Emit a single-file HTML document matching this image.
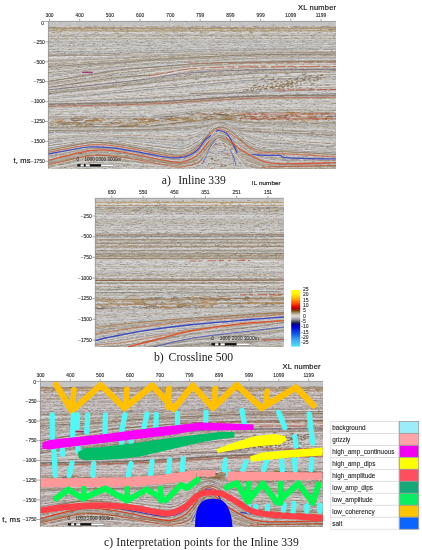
<!DOCTYPE html>
<html><head><meta charset="utf-8"><title>Seismic interpretation</title>
<style>
html,body{margin:0;padding:0;background:#fff;}
body{width:422px;height:550px;position:relative;overflow:hidden;font-family:"Liberation Sans",Arial,sans-serif;}
svg{position:absolute;left:0;top:0;}
.cap{position:absolute;font-family:"Liberation Serif","Times New Roman",serif;font-size:11.7px;color:#1a1a1a;white-space:nowrap;line-height:1;}
.ax{position:absolute;font-family:"Liberation Sans",Arial,sans-serif;color:#1a1a1a;-webkit-text-stroke:0.2px #1a1a1a;white-space:nowrap;line-height:1;}
.lr{position:absolute;left:330.5px;width:89px;height:12px;}
.ll{position:absolute;left:0;top:0;width:66.8px;height:11px;border:0.6px solid #d4d4d4;font-size:6.4px;line-height:11px;padding-left:1.4px;color:#222;box-sizing:border-box;}
.sw{position:absolute;left:68.6px;top:0;width:20px;height:12px;box-sizing:border-box;border:0.8px solid #9a9a9a;}
</style></head><body>
<svg width="422" height="550" viewBox="0 0 422 550">
<defs><filter id="nz" x="0" y="0" width="100%" height="100%" color-interpolation-filters="sRGB"><feTurbulence type="fractalNoise" baseFrequency="0.13 0.95" numOctaves="2" seed="3" result="t"/><feColorMatrix in="t" type="matrix" values="0 0 0 0 0.52  0 0 0 0 0.47  0 0 0 0 0.40  1.6 0 0 0 -0.72" result="dk"/><feColorMatrix in="t" type="matrix" values="0 0 0 0 0.90  0 0 0 0 0.90  0 0 0 0 0.93  0 1.4 0 0 -0.68" result="lt"/><feTurbulence type="fractalNoise" baseFrequency="0.45 1.1" numOctaves="1" seed="9" result="t2"/><feColorMatrix in="t2" type="matrix" values="0 0 0 0 0.42  0 0 0 0 0.38  0 0 0 0 0.36  2.2 0 0 0 -1.15" result="dk2"/><feColorMatrix in="t2" type="matrix" values="0 0 0 0 0.80  0 0 0 0 0.82  0 0 0 0 0.92  0 0 2.2 0 -1.2" result="bl2"/><feMerge><feMergeNode in="dk"/><feMergeNode in="lt"/><feMergeNode in="dk2"/><feMergeNode in="bl2"/></feMerge></filter>
<filter id="dk" color-interpolation-filters="sRGB"><feComponentTransfer><feFuncR type="linear" slope="1.12" intercept="-0.1"/><feFuncG type="linear" slope="1.12" intercept="-0.12"/><feFuncB type="linear" slope="1.12" intercept="-0.11"/></feComponentTransfer></filter>
<g id="pa" fill="none"><rect x="48" y="21" width="288" height="148" fill="#c9c6bf"/>
<rect x="48" y="21" width="288" height="148" filter="url(#nz)"/>
<path d="M48,26 54.3,25.7 68.8,25.8 86.4,25.8 100.1,25.7 114.2,25.9 128.9,25.9 140.3,26.2 154.4,26 169.5,26 185.9,26 196.5,26.1 208.9,25.9 219.4,25.8 236,26.3 251.6,26.3 261.8,26.2 279.8,26.1 297.7,25.8 313,25.8 328,25.8 336,25.7" stroke="#e2e2e6" stroke-opacity="0.39" stroke-width="0.7" stroke-dasharray="8.3,0.8,29.3,1.3,37.5,0.9,18.8,2.4" stroke-dashoffset="12"/>
<path d="M48,27.7 55.9,27.7 67.4,27.5 82.9,27.7 95.5,27.2 107.9,27.3 117.8,27.7 131.1,27.5 148.6,27.5 159.6,27.2 175.3,27.2 185.2,27.4 198.9,27.2 212.8,27.5 228.3,27.6 239.7,27.4 253.8,27.2 271.9,27.3 288.1,27.5 301.4,27.2 314.5,27.4 327.6,27.5 336,27.2" stroke="#7a7064" stroke-opacity="0.60" stroke-width="0.7" stroke-dasharray="11.2,2.8,33.8,1.3,12.5,2.4,38.0,1.2" stroke-dashoffset="28"/>
<path d="M48,28.8 60.4,28.9 75.2,28.7 88.6,28.8 99.2,28.9 109.4,29 127.2,28.7 139,28.9 154.8,29.2 166.7,29.2 183.4,29.1 198.3,29.1 210.5,29 221.8,28.7 237.6,28.7 248,28.7 259.7,29.2 274.2,29.1 291.2,29.2 306.2,28.7 318.3,29 335.8,28.9 336,29.1" stroke="#97805a" stroke-opacity="0.33" stroke-width="0.8" stroke-dasharray="31.1,2.8,31.1,2.3,33.0,2.8,18.0,2.3" stroke-dashoffset="27"/>
<path d="M48,30.6 60.2,31 73.5,30.9 89.9,30.7 107,31 121.6,30.9 136.7,31 149.7,31.2 164.4,30.8 179.3,30.6 189.7,30.8 204.9,31 223.1,30.7 240.3,30.7 256.2,31.1 269.2,31 285.2,30.9 299.9,31.1 313.4,30.8 330.2,31 336,30.7" stroke="#a0885f" stroke-opacity="0.61" stroke-width="0.8" stroke-dasharray="25.8,1.5,10.6,1.9,34.5,2.7,30.2,2.9" stroke-dashoffset="8"/>
<path d="M48,32.3 50.4,32.2 64,32.2 76.1,32.5 87.7,32.4 100.9,32.5 116,32.5 129.9,32.6 142.4,32.7 159.2,32.6 177.3,32.3 190.9,32.4 201.3,32.3 211.4,32.2 228.5,32.4 238.7,32.6 254.4,32.3 269,32.3 281.4,32.4 297.9,32.6 307.8,32.5 318.8,32.5 332.4,32.6 336,32.4" stroke="#ecebe7" stroke-opacity="0.38" stroke-width="1.0" stroke-dasharray="30.6,1.1,21.4,2.2,36.9,1.6,25.3,2.7" stroke-dashoffset="23"/>
<path d="M48,33.9 61.2,33.7 74.9,33.4 90.2,33.9 101.7,33.4 117.6,33.9 134.2,33.5 149.4,33.6 165.3,33.8 176.9,33.5 194.2,33.5 212.3,33.7 230.3,33.8 244.6,33.9 261,33.8 273.5,33.9 290.9,33.6 307.9,33.9 320.7,33.4 331.2,33.5 336,33.7" stroke="#d9dde6" stroke-opacity="0.55" stroke-width="0.7" stroke-dasharray="23.5,2.8,14.7,2.3,38.5,2.7,26.7,1.5" stroke-dashoffset="4"/>
<path d="M48,35.1 55.6,35.2 67.7,35.1 81.7,34.9 95,34.6 105.7,34.8 115.6,34.6 128.5,34.7 142.8,35 153,35.1 170.5,34.6 184.9,34.6 203,34.5 213.8,34.7 224.4,34.9 235.6,34.6 253.2,34.8 266.9,34.8 284.4,34.8 300.9,35 314.1,34.8 326,34.9 336,34.9" stroke="#b3a58a" stroke-opacity="0.41" stroke-width="0.7" stroke-dasharray="24.0,1.2,12.9,2.2,27.7,2.0,34.9,2.1" stroke-dashoffset="25"/>
<path d="M48,35.9 51.3,36.2 67.3,36.3 83.9,36.3 101.3,35.8 113.7,36 126.2,36.1 143.7,36 155.4,36.1 173.5,35.7 190.8,35.6 201.7,35.7 213.5,35.6 229.4,35.9 241.4,35.9 252,35.9 268.8,35.6 282.2,35.6 298.6,35.6 309.5,36 322.6,36.1 336,36" stroke="#8c7350" stroke-opacity="0.35" stroke-width="0.9" stroke-dasharray="8.6,1.0,19.3,1.7,18.1,1.3,18.7,2.2" stroke-dashoffset="1"/>
<path d="M48,37.7 50.8,37.2 64,37.3 76.9,37.4 89.8,37.3 107.3,37.3 122.2,37.2 132.8,37.2 149.2,37.1 161.8,37.5 172.3,37.2 189.1,37 206.3,37.5 223.7,37.5 241.4,37.4 256,36.9 267.4,37 282.1,37.4 294.8,37 311,36.9 323.1,37 333.9,36.9 336,36.8" stroke="#e2e2e6" stroke-opacity="0.57" stroke-width="0.9" stroke-dasharray="31.9,3.0,6.8,2.2,31.1,1.4,19.7,0.9" stroke-dashoffset="5"/>
<path d="M48,39 53.3,38.7 63.9,38.7 75.8,38.7 93.2,38.6 107.6,38.5 121.7,38.7 139.6,38.6 154.2,38.4 172.3,38.6 187.5,38.4 204.1,38.2 214.5,38.3 229.4,38.1 245.5,38.2 255.7,38.5 273.3,38.3 284.5,38.6 298.2,38.4 309.5,38 323.4,38.6 336,38.5" stroke="#a0885f" stroke-opacity="0.45" stroke-width="0.8" stroke-dasharray="39.1,1.3,23.8,2.9,30.6,1.8,39.3,2.6" stroke-dashoffset="18"/>
<path d="M48,40.3 49.6,40.3 64.7,40.5 78.3,40.4 89.8,40.4 100,40.4 114.3,40.4 125.1,40.1 138.6,40.1 154,40.5 167.7,40.4 179.7,40.4 194.4,39.8 207.7,39.8 224,39.9 238.3,40 256.5,40 274.3,39.7 290.2,39.9 302,39.6 312.8,39.6 330.1,39.9 336,39.8" stroke="#dcdce2" stroke-opacity="0.52" stroke-width="0.7" stroke-dasharray="17.5,1.9,10.5,2.7,33.3,1.8,33.9,2.6" stroke-dashoffset="23"/>
<path d="M48,41.3 54.2,41.6 70.3,41.4 83.4,41.4 94.4,41.3 105.5,41.4 122.4,41.1 137.2,41.4 149.4,40.9 165.6,41.2 182.3,40.9 193.7,41.3 209,40.9 223.6,40.9 237.3,41 249.8,41.1 264.2,40.9 277.6,40.7 292.2,40.8 308.9,41 322.6,40.7 336,40.5" stroke="#9fa2a8" stroke-opacity="0.57" stroke-width="0.6" stroke-dasharray="18.3,1.6,18.4,1.7,19.2,1.2,25.2,2.6" stroke-dashoffset="16"/>
<path d="M48,42.9 59.7,43.2 74.2,43.1 85.5,42.8 101.7,42.8 118.9,43 131.1,42.9 141,43 155.2,42.7 169.5,42.6 184.1,43 202,42.7 217.3,42.6 233.9,42.6 244.2,42.6 258.6,42.6 275,42.7 285.5,42.3 296,42.6 312,42.4 329.3,42.5 336,42.4" stroke="#a9a9ae" stroke-opacity="0.59" stroke-width="0.8" stroke-dasharray="23.8,2.4,33.3,1.7,20.3,1.1,31.2,3.0" stroke-dashoffset="11"/>
<path d="M48,44 50.3,44.3 61.9,44 75.2,44.1 87.5,44.3 105.4,44 115.7,43.8 128.1,44.2 138.9,44.2 154.1,43.8 170.4,43.8 181.8,44 192.1,43.7 205.7,43.5 220.4,43.4 237.9,43.8 248,43.7 258.7,43.4 270,43.5 281.7,43.4 293.4,43.3 309.3,43.6 324.1,43.4 335.7,43.1 336,43" stroke="#dcdce2" stroke-opacity="0.51" stroke-width="0.7" stroke-dasharray="20.3,2.7,20.1,2.5,10.9,2.8,33.5,1.1" stroke-dashoffset="22"/>
<path d="M48,45.8 56.7,45.5 70.8,45.7 81.1,45.7 95.7,45.9 107,45.8 118.5,45.4 136,45.3 147,45.4 148,45.6 157.9,45.4 170.7,45 185.6,44.9 199.9,44.9 217.1,45.1 232.8,45 243.2,45 248,45 259.3,44.6 273.7,44.7 287.7,44.9 297.7,44.8 309.1,44.6 320.5,44.5 336,44.3" stroke="#9fa2a8" stroke-opacity="0.36" stroke-width="0.7" stroke-dasharray="15.9,1.6,24.4,1.5,17.5,1.7,28.7,1.4" stroke-dashoffset="5"/>
<path d="M48,46.9 58.2,46.9 70.8,46.9 88.5,46.8 103.1,46.4 119,46.3 131.5,46.2 148,45.9 148.3,46.1 158.9,46.2 169.8,46.3 180.4,46.1 195.9,45.9 211.7,45.8 223,45.3 236.2,45.4 248,45.3 253,45.5 267.8,45.1 278.3,45.2 290,45.2 301.2,45.3 312,45.3 325.2,45.1 335.6,44.8 336,45.2" stroke="#b0aaa0" stroke-opacity="0.37" stroke-width="0.7" stroke-dasharray="23.5,2.1,12.7,2.9,39.9,2.4,37.8,2.0" stroke-dashoffset="0"/>
<path d="M48,48.3 57.2,47.6 73.6,47.9 84.5,47.6 98.3,47.7 111.6,47.3 124.2,47.1 134.8,47.2 148,47.2 151.9,47 164,46.8 181.2,46.9 194.8,46.8 210.7,46.7 222.5,46.1 237.1,46.3 248,46.2 251.5,46.2 261.8,46 279.3,45.9 290.5,45.9 306.6,45.5 323.9,45.6 336,45.3" stroke="#e6e6e8" stroke-opacity="0.55" stroke-width="0.7" stroke-dasharray="23.7,1.4,25.3,1.5,27.8,0.9,28.8,1.1" stroke-dashoffset="28"/>
<path d="M48,49.4 56.4,49.4 70.1,49.1 83.4,48.9 98.4,48.8 114,48.3 130.2,48.3 146.3,47.8 148,47.8 160.2,47.8 178.4,47.6 195.2,47.3 212.2,46.9 225.4,47.1 238.9,46.9 248,46.6 253.4,46.6 270.8,46.5 285,46.3 299.2,46.2 312.7,46.6 330.1,46.5 336,46.3" stroke="#a9a9ae" stroke-opacity="0.47" stroke-width="0.6" stroke-dasharray="28.1,1.7,10.2,1.0,23.7,1.1,36.0,2.1" stroke-dashoffset="13"/>
<path d="M48,51.3 52.1,50.7 68.1,50.8 78.1,50.7 89.3,50.5 102.8,50.2 116.4,49.9 130.6,50.1 141.6,49.9 148,49.6 157.2,49.3 169,49.4 181.4,49.3 195,48.7 207.4,48.6 219.9,48.6 230.9,48.1 247.3,48.3 248,48.2 263.6,47.8 280.8,47.6 292.3,47.9 309.3,47.3 324.9,47.6 335.2,47.2 336,47.5" stroke="#dcdce2" stroke-opacity="0.63" stroke-width="0.7" stroke-dasharray="28.5,2.7,26.1,1.3,16.2,2.8,28.7,1.4" stroke-dashoffset="19"/>
<path d="M48,52.3 49.3,52.1 67.3,51.5 80.8,51.5 95.1,51.3 109.3,50.9 119.5,50.9 134.3,50.7 146.5,50.3 148,50.3 158.4,50.3 175,49.9 185.5,49.6 197.7,49.6 213.9,48.9 225.7,49 237.9,48.4 248,48.5 252.3,48.3 263.6,48.3 281,48.4 299.1,48.2 309.1,48.2 322.8,47.7 336,47.8" stroke="#7c7c84" stroke-opacity="0.39" stroke-width="0.7" stroke-dasharray="39.0,0.9,21.2,2.7,17.1,2.1,26.7,2.6" stroke-dashoffset="15"/>
<path d="M48,53.5 58.1,53.3 75.1,52.9 85.2,52.6 95.9,52.4 107.2,52.3 122.4,52 137.1,51.9 148,51.2 152.9,51.4 168,51 178.2,50.5 191.6,50.6 207.3,50.2 223.9,50.1 239.9,49.2 248,49.3 256.3,49.2 272.5,48.8 286.5,49 301.8,48.8 315.9,49 328.8,48.9 336,48.7" stroke="#9fa2a8" stroke-opacity="0.48" stroke-width="0.6" stroke-dasharray="10.0,2.7,20.2,1.0,13.7,1.5,38.2,2.8" stroke-dashoffset="6"/>
<path d="M48,54.9 50.2,54.8 65,54.6 83.1,53.9 99.1,53.7 113.7,53.4 131.1,52.9 148,52.3 148.4,52.4 165.9,52.4 177.2,52 194.2,51.5 211.9,51.2 223.5,50.8 236.5,50.5 246.7,50.4 248,50.1 260,49.9 271.9,49.7 288.3,50 304.9,49.9 318.7,49.4 331.9,49.3 336,49.6" stroke="#85807a" stroke-opacity="0.59" stroke-width="0.8" stroke-dasharray="35.1,1.6,14.7,2.7,28.8,1.5,26.7,1.9" stroke-dashoffset="5"/>
<path d="M48,56.4 55.2,56.1 66.1,55.5 77.6,55.6 90.9,55.3 104.7,54.9 120.3,54.1 134.5,54.2 148,53.7 148.9,53.5 161.3,53.1 174.9,53.1 187.9,52.5 205.1,52.3 221.9,51.6 236.2,51.5 248,50.8 249.7,51 260.7,50.9 274.8,51 287.6,50.5 298.3,50.7 311.2,50.2 326.1,50.5 336,50" stroke="#b9ad93" stroke-opacity="0.50" stroke-width="0.6" stroke-dasharray="9.2,1.6,20.4,1.1,25.8,2.3,24.8,2.3" stroke-dashoffset="0"/>
<path d="M48,57.6 53.5,57.4 66.3,56.9 76.7,56.6 89.9,56.2 100.1,56.2 114.1,55.8 128.8,55.1 142.5,55 148,54.4 155.1,54.2 167,54.1 177,53.7 189.7,53.4 207,53.2 221.6,52.3 233.6,52 248,51.6 249,51.9 260.3,51.5 274.1,51.2 289,51.4 306.9,51.1 319.7,50.8 334.4,50.8 336,50.9" stroke="#f0f0f0" stroke-opacity="0.64" stroke-width="1.0" stroke-dasharray="29.5,2.6,15.0,1.0,6.7,2.6,13.1,1.7" stroke-dashoffset="4"/>
<path d="M48,58.8 50.7,58.4 61.8,58.3 74.4,57.8 90,57.3 106.6,56.7 118,56.4 118.9,56.6 132.1,56.1 145,55.4 148,55.5 160.4,55 174.4,54.7 189.7,53.9 202.5,54 218.2,53.1 235.7,52.8 248,52.1 251.7,52.6 268.9,52.2 287,51.7 303.7,51.9 320.9,51.4 333.3,51.2 336,51.2" stroke="#dcdce2" stroke-opacity="0.43" stroke-width="0.7" stroke-dasharray="6.5,2.1,38.0,2.9,10.5,2.3,20.3,2.2" stroke-dashoffset="11"/>
<path d="M48,60.4 61.1,60.1 79.2,59.3 89.4,59.1 105.2,58.1 116,57.7 118,57.6 126.1,57.7 138.3,56.8 148,56.5 154.3,56.1 172.4,55.6 183.2,55.1 195.8,55 205.8,54.4 220.2,54.3 234,53.6 247,53.2 248,53.3 259.4,53.1 275.9,52.8 292.7,52.5 304.9,52.4 318,52.7 333,52.2 336,52" stroke="#7c7c84" stroke-opacity="0.35" stroke-width="0.9" stroke-dasharray="39.7,1.7,7.1,1.6,25.0,2.0,13.3,2.2" stroke-dashoffset="24"/>
<path d="M48,61.7 51.5,61.3 62.9,60.7 75.2,60.3 87.1,59.9 103.6,59.2 118,58.6 118.2,58.7 135.9,57.5 146.1,57.2 148,56.9 163.1,56.7 180.9,55.9 195.2,55 210.6,54.6 222.7,54.3 232.7,54.2 247.2,53.5 248,53.4 257.5,53.7 271.2,53.3 288.5,53 298.8,52.8 311.7,52.5 327.9,52.7 336,52.6" stroke="#a0885f" stroke-opacity="0.56" stroke-width="0.7" stroke-dasharray="31.3,2.0,29.1,1.2,9.6,1.1,17.9,1.7" stroke-dashoffset="0"/>
<path d="M48,62.7 55,62.8 68.2,61.7 80.7,61.4 95,60.5 112.8,59.8 118,59.3 124.4,59.2 141.6,58.3 148,57.9 154,57.6 170.2,56.9 180.9,56.6 199,55.7 212.4,55.6 230.3,54.9 241.9,54.3 248,54.2 255.2,54 270.9,53.8 282.2,53.6 294.3,53.7 309.8,53.5 327.5,53.2 336,52.9" stroke="#e2e2e6" stroke-opacity="0.45" stroke-width="0.6" stroke-dasharray="7.9,1.5,24.3,1.5,14.7,2.2,12.4,1.8" stroke-dashoffset="16"/>
<path d="M48,64.1 48.7,64.2 66.7,63.5 82.8,62.7 100.1,61.3 110.9,61 118,60.4 122.2,60.6 139.8,59.4 148,58.3 156.2,58.6 167.2,58.1 178,57.3 188.7,57 200.6,56.9 212.6,56.4 223.9,55.6 234,55.2 246.7,54.8 248,54.9 260.9,54.4 273.6,54.7 285.1,54.4 295.1,54.3 308.4,53.9 322.4,54.1 336,53.9" stroke="#a0885f" stroke-opacity="0.50" stroke-width="1.0" stroke-dasharray="18.9,2.6,29.8,2.7,38.2,2.2,13.1,1.3" stroke-dashoffset="22"/>
<path d="M48,65.8 50.4,65.5 65.1,64.6 75.2,64.5 87.4,63.8 99.3,62.6 112,62.2 118,61.6 127.1,61.1 139.4,60 148,59.5 149.3,59.3 159.7,59.2 171.2,58.5 187,57.9 204.2,57.4 220.4,56.8 231.9,56.1 242.3,55.9 248,55.3 254.3,55.6 267.3,55.1 282.2,55.2 294.4,55.1 305.3,55.2 316.1,54.8 326.7,54.6 336,54.4" stroke="#b0aaa0" stroke-opacity="0.33" stroke-width="0.8" stroke-dasharray="21.4,1.3,32.9,0.8,7.0,2.1,29.7,3.0" stroke-dashoffset="24"/>
<path d="M48,67.3 60.2,66.7 75.6,65.6 86.7,64.6 97.2,64.3 108.4,63.1 118,63.1 122.4,62.6 136.3,61.5 148,60.6 151.5,60.3 161.8,60.1 173.5,59.3 183.5,59.1 199.9,58.2 213.4,57.5 225.1,57.1 239.4,56.5 248,56.5 250.2,56.5 260.5,55.9 278.7,55.9 294,55.8 310.4,55.9 328,55.5 336,55" stroke="#b0aaa0" stroke-opacity="0.34" stroke-width="0.7" stroke-dasharray="10.4,1.0,23.4,1.4,32.4,1.3,20.1,0.9" stroke-dashoffset="6"/>
<path d="M48,68.1 54.3,67.8 68.8,67.1 82.5,65.9 99.4,64.7 110.1,63.5 118,63.1 127,62.2 138.1,61.3 148,60.4 156.1,60.6 170.3,59.6 183.5,59.1 198.5,58.6 215.5,58 233.4,57.3 246.7,56.5 248,56.4 256.6,56.5 267.7,56.1 284.3,55.9 300.3,55.9 316.1,55.5 327.2,55.4 336,55.4" stroke="#85807a" stroke-opacity="0.53" stroke-width="0.7" stroke-dasharray="10.0,1.5,24.1,1.2,19.0,1.5,33.8,2.3" stroke-dashoffset="21"/>
<path d="M48,70 48.5,70.2 61.3,69.3 79.1,67.9 93.2,66.5 107.5,65.1 118,64.1 123.4,63.9 136.4,62.5 148,61.7 151.1,61.5 161.8,61 177.4,60.2 190.2,59.7 202.1,59.2 220,58.5 235.6,57.8 248,57.6 252.4,57.3 264,57.1 280.2,56.7 290.5,56.6 301.8,56.6 312.6,56.7 328.8,56.5 336,56.5" stroke="#8c7350" stroke-opacity="0.59" stroke-width="0.8" stroke-dasharray="17.4,2.2,37.1,2.6,11.9,1.0,29.3,1.1" stroke-dashoffset="22"/>
<path d="M48,71 57.5,70.2 74,68.9 87.5,67.7 104.9,65.7 118,64.7 120.8,64.4 137.6,62.9 148,62.2 155.5,61.7 168.2,61.1 185,60.3 200.8,59.8 216.5,59 229.6,58.1 245.3,57.2 248,57.6 260.5,57.3 271.3,57 288.4,57.1 299,56.9 311.5,56.6 322.5,56.6 336,56.4" stroke="#ecebe7" stroke-opacity="0.52" stroke-width="1.0" stroke-dasharray="17.2,2.3,13.9,1.4,30.8,2.1,14.7,0.9" stroke-dashoffset="24"/>
<path d="M48,73 53.3,72.1 69.1,70.9 82.5,69.1 97.5,67.6 112,66.3 118,65.7 130,64.4 147.5,63.2 148,63.1 161.1,62.6 175,62 186.7,61.3 202.9,60.3 213.5,60.1 225.9,59.4 242.8,58.3 248,58.4 252.9,58.3 268.6,57.8 283.1,57.7 297.6,57.4 310.2,57.5 321.2,57.2 336,57.1" stroke="#7a7064" stroke-opacity="0.39" stroke-width="0.6" stroke-dasharray="7.0,2.5,38.1,1.1,19.2,2.6,24.5,1.1" stroke-dashoffset="2"/>
<path d="M48,74.4 59.2,73 70.4,71.5 86.5,69.5 102.2,68.3 116.9,66.6 118,66.1 132.1,64.9 144.5,63.8 148,63.3 157.9,63.3 174.2,62.3 189.5,61.3 203.8,60.7 217.7,59.8 233.2,59.5 245.9,58.9 248,58.8 257.6,58.7 272.7,58.3 284.8,58.1 300.7,58.1 318,57.5 328.4,57.7 336,57.6" stroke="#9fa2a8" stroke-opacity="0.33" stroke-width="0.6" stroke-dasharray="12.6,2.3,7.0,2.9,36.6,1.0,36.6,1.4" stroke-dashoffset="6"/>
<path d="M48,75.1 51.8,74.7 62.9,73.6 77.2,72 94.4,69.9 105.5,68.5 118,66.6 118.9,66.7 135.3,65.5 148,63.9 150.2,63.9 166.7,63 184.9,62.1 199.5,61.2 216.8,60.5 229.3,60.1 240.5,59.1 248,58.6 256.8,58.7 267.9,58.8 285.4,58.5 296.1,58.3 308.4,58.3 320.7,58.3 336,57.9" stroke="#a0885f" stroke-opacity="0.39" stroke-width="0.8" stroke-dasharray="32.6,1.5,14.1,2.2,14.8,2.0,14.7,2.7" stroke-dashoffset="5"/>
<path d="M48,76.8 51.3,76.2 63.6,74.5 76.2,73 92.1,71 107.5,68.8 118,67.7 124,66.6 138.3,65.6 148,64.6 148.8,64.4 165,64 176.8,62.9 188.4,62.3 201.7,62 219.8,61.1 232.8,60.4 245.6,59.3 248,59.6 263,58.9 281.1,59.1 294.2,59.1 305.1,58.5 321.5,58.3 336,58.4" stroke="#9fa2a8" stroke-opacity="0.57" stroke-width="0.8" stroke-dasharray="18.5,2.4,37.4,1.1,35.6,3.0,30.7,2.3" stroke-dashoffset="3"/>
<path d="M48,78.1 52.5,77.8 67.2,75.5 79.3,73.5 93.5,71.6 110.1,69.4 118,68.4 123.6,67.8 140.2,66.3 148,65.5 152.2,65.1 162.8,64.4 178.1,63.7 188,63.4 205.5,62.6 223.5,61 241.2,60.3 248,60.2 256.7,59.9 268,59.4 285.9,59.2 301.1,59.2 311.8,59 325.6,59.3 336,58.8" stroke="#f0f0f0" stroke-opacity="0.48" stroke-width="0.8" stroke-dasharray="27.2,1.5,18.1,2.7,25.8,1.7,24.4,1.8" stroke-dashoffset="9"/>
<path d="M48,79.7 60.8,77.7 72.6,75.7 90.2,73.4 107.2,70.7 118,69.3 124.4,68.7 135.6,67.5 148,66.1 149.6,66.2 167.7,65.2 179.9,64.6 191.2,64.1 207,62.8 218.8,62.2 233.5,61.2 244.6,60.9 248,60.4 262.4,60.6 274.6,60.4 285.2,60 300.8,60.2 313.5,59.8 328,59.6 336,59.6" stroke="#a9a9ae" stroke-opacity="0.56" stroke-width="0.6" stroke-dasharray="16.7,2.3,23.1,2.8,28.0,2.3,21.2,1.5" stroke-dashoffset="20"/>
<path d="M48,80.6 49.8,80.3 61.7,78.3 77.6,76 89.7,74.2 102,71.9 118,69.6 119.2,69.5 130,68.5 143.8,67.1 148,66.5 159.6,65.8 169.7,65.2 186.3,64.4 204.2,62.9 219.5,62.2 233.3,61.5 248,60.9 248.5,60.5 263.9,60.6 277.1,60 294.8,60.3 311.9,59.9 329.9,60 336,59.5" stroke="#e6e6e8" stroke-opacity="0.59" stroke-width="0.8" stroke-dasharray="16.7,1.4,12.4,2.2,29.3,2.9,17.2,2.8" stroke-dashoffset="27"/>
<path d="M48,82.2 52.1,81.4 69.9,78.4 84.9,76 102.8,73 118,70.7 119.1,70.9 131.7,69.1 143.8,68 148,67.7 158,67.1 171.9,66.1 182,65.4 192,65 199,64.5 213.3,63.3 227.1,62.6 243.2,61.9 248,61.4 255.1,61.1 266.5,61.3 281.2,60.7 293,60.6 305.6,60.7 316,60.4 326.2,60.6 336,60.5" stroke="#8c7350" stroke-opacity="0.55" stroke-width="0.8" stroke-dasharray="20.7,1.0,22.1,2.9,36.2,0.9,8.4,1.4" stroke-dashoffset="20"/>
<path d="M48,83.1 54.1,81.6 65,80 78.4,77.9 93,76 109,73.3 118,71.9 122.2,71.4 137.5,70.1 148,68.6 153,68.5 168,67.2 178.2,66.3 192,65.1 193.9,65 204.8,64.4 215.1,63.7 228.9,63.1 238.8,62.4 248,61.8 249.2,62 262.3,61.7 276,61.6 286.7,61.7 304.5,61.2 321.5,61 335.4,61.1 336,61.2" stroke="#e2e2e6" stroke-opacity="0.66" stroke-width="0.6" stroke-dasharray="13.7,1.3,26.5,2.1,39.9,1.8,13.2,1.5" stroke-dashoffset="18"/>
<path d="M48,83.6 49.2,83.5 63.9,81.2 79.8,79.1 94.4,76.8 107.4,74.7 118,73 124.3,72.8 137,71.2 148,70.1 150.4,69.7 160.9,68.5 173.9,67.7 191,65.8 192,66.1 203.3,65.1 221.1,64.4 237.2,63.4 248,62.6 250.7,62.5 264.6,62.6 274.9,62.5 286.5,62.2 301.8,61.7 312.1,61.6 330.1,61.6 336,61.6" stroke="#8c7350" stroke-opacity="0.63" stroke-width="0.7" stroke-dasharray="31.8,1.0,16.2,2.3,29.5,2.6,18.9,1.4" stroke-dashoffset="10"/>
<path d="M48,84.7 55.5,84 65.5,82.2 78.5,80.5 93.8,78.2 104.8,76.7 117.3,75.2 118,74.9 134.4,73.1 148,71.7 152,70.8 163.9,69.5 175.2,68.5 186,67.1 192,67 196.5,66.3 213,65.4 229,64.5 241,64.1 248,63.7 254.9,63.5 270.6,63 280.6,63 297.3,63 314.3,62.5 325.9,62.8 336,62.7" stroke="#85807a" stroke-opacity="0.32" stroke-width="0.8" stroke-dasharray="28.7,2.7,31.3,2.5,29.1,2.9,6.8,1.5" stroke-dashoffset="17"/>
<path d="M48,85.3 58.7,83.8 72.6,81.9 86.9,80.3 99.9,78.2 116.4,76.2 118,76.2 129.7,74.8 147.1,72.6 148,72.3 162.1,70.7 176.5,68.7 186.7,67.8 192,66.9 197.8,66.5 213.3,65.7 223.5,65.2 239.9,64.6 248,64 251.5,64 261.5,63.5 273.4,63.4 283.2,63.3 300.8,63.3 313.1,62.8 323,62.9 335.9,62.8 336,62.7" stroke="#b0aaa0" stroke-opacity="0.51" stroke-width="0.8" stroke-dasharray="31.3,1.8,19.5,2.0,35.9,3.0,37.2,2.6" stroke-dashoffset="2"/>
<path d="M48,86.4 51.5,86.2 69.4,83.7 83.8,81.6 97.9,79.9 110.3,78.3 118,77.2 127.3,76.2 141.5,74.4 148,73.2 159.6,71.8 170,70.7 188.2,68 192,67.4 198.1,67.4 209.1,66.6 222.2,66.2 237.4,65.1 248,64.2 248.1,64.6 262.6,64.2 280.3,64.3 293.8,64.1 310,63.9 324.8,63.3 336,63.2" stroke="#ecebe7" stroke-opacity="0.63" stroke-width="0.9" stroke-dasharray="31.2,2.8,27.9,3.0,33.4,2.8,31.2,1.5" stroke-dashoffset="3"/>
<path d="M48,87.7 48.1,87.8 63.6,85.6 80.7,83.3 93.1,82 110.3,80 118,78.7 125.6,77.8 138.6,76 148,75 153.9,74.2 167.2,72.2 182.5,69.9 192,68.8 192.6,68.6 207.3,67.7 219.4,66.8 230.9,66.1 241.4,65.9 248,65.5 253.3,65.4 268.9,65.2 281.9,65 299.6,64.6 315,64.7 325.8,64.8 336,64.2" stroke="#a0885f" stroke-opacity="0.60" stroke-width="0.8" stroke-dasharray="31.4,2.5,30.6,0.9,34.1,1.1,11.5,0.9" stroke-dashoffset="0"/>
<path d="M48,88.2 60.3,86.5 73.3,85.1 83.8,83.7 94,83 110.9,80.9 118,79.9 125.8,78.9 143.3,76.8 148,75.7 153.4,74.9 164.1,73.4 176.3,71.2 187.7,69.6 192,69 198.5,68.2 210,67.7 225.1,66.9 236.3,66.5 247.6,65.9 248,65.8 261.9,65.8 274.8,65.2 285.9,65.2 300.4,65.3 314.5,65.1 327.6,64.6 336,65" stroke="#d6d4dc" stroke-opacity="0.59" stroke-width="0.8" stroke-dasharray="29.0,2.1,35.9,2.8,15.4,1.3,22.4,1.4" stroke-dashoffset="17"/>
<path d="M48,89.2 51.6,88.8 65.6,87.3 76.2,86 92.5,84.2 107.8,82.2 118,81.3 121.2,81.2 135.9,79 147.5,77 148,77.1 165.3,74.1 178.4,71.9 190.4,69.6 192,69.5 205.8,68.6 222.9,67.9 232.9,67.4 244.3,66.7 248,66.5 258.3,66.6 273.2,66.2 287.6,66.3 299.6,65.6 312.6,65.8 327.5,65.6 336,65.4" stroke="#f0f0f0" stroke-opacity="0.61" stroke-width="0.8" stroke-dasharray="28.9,2.9,8.0,1.0,7.2,1.8,34.0,2.3" stroke-dashoffset="16"/>
<path d="M48,90.4 60,89.4 72.9,87.9 83.7,86.7 98.9,84.8 108.9,84 118,82.9 120.6,82.7 130.6,81.3 141.8,79.7 148,78.5 152.1,77.8 166.4,75.6 177.3,73.7 192,71.3 192.1,71.1 208.9,69.9 221.6,69.3 232.4,68.7 247.8,68.1 248,67.8 263.7,67.9 281,67.4 295.4,67.2 310.1,67.1 327.2,66.8 336,67" stroke="#9c8a68" stroke-opacity="0.49" stroke-width="1.0" stroke-dasharray="38.4,1.8,25.3,1.0,13.8,1.1,28.1,1.5" stroke-dashoffset="11"/>
<path d="M48,91.2 60.8,89.8 76.7,88.1 86.5,87.2 97.7,85.5 108.7,84.5 118,83.4 119.9,83.3 130.6,82 147.8,79.7 148,79.4 163.8,76.6 178.3,74.3 189.4,72.2 192,71.7 202,71.4 213.4,71 231.4,70 243.6,69.2 248,68.6 253.8,68.8 269.5,68.4 282.9,68.2 293.3,67.9 307.7,67.6 325.7,67.5 336,67.5" stroke="#dcdce2" stroke-opacity="0.62" stroke-width="0.7" stroke-dasharray="20.3,2.3,30.7,1.8,10.0,1.0,11.8,2.6" stroke-dashoffset="14"/>
<path d="M48,92 57,91 69.9,89.6 82.8,88.3 94.1,86.9 112,85.1 118,84.3 126.9,83.1 137.8,81.5 148,80.6 153.5,79.8 168.3,77 183.3,74.7 192,73.1 199.6,72.6 214.5,72 231.6,71.1 248,69.6 249.6,69.7 262.8,69.7 278,69.1 291,69.3 304.2,68.7 317.1,68.5 332.3,68.1 336,68.1" stroke="#6f6a66" stroke-opacity="0.41" stroke-width="0.8" stroke-dasharray="13.1,2.1,32.5,1.9,6.4,1.7,8.8,2.4" stroke-dashoffset="16"/>
<path d="M48,92.4 51.4,91.8 65.1,90.5 79,89.1 91.5,87.7 105.6,86.4 118,85.4 119.1,85.2 131.1,83.6 142,82.3 148,81.3 157,80.1 173.2,77.6 188.7,75 192,74.7 199.6,74.2 212.2,73.4 227.3,72.5 238.6,71.7 248,70.7 253.9,70.5 267.9,70.2 279.2,70.2 294.2,69.9 306.5,69.6 319,69.1 331.3,68.9 336,68.9" stroke="#9c8a68" stroke-opacity="0.33" stroke-width="1.0" stroke-dasharray="8.4,1.4,32.1,2.1,28.7,1.7,23.7,1.2" stroke-dashoffset="13"/>
<path d="M48,94 51.6,93.4 67.1,91.6 77.8,90.6 88.7,89.4 100.2,88.5 114.5,87 118,86.7 129.1,85.1 139,83.8 148,82.7 157.1,81.3 173.9,79 186.9,77.2 192,76.5 198,75.9 214.7,74.9 232.8,73.4 244,72.6 248,72.5 260.2,72.2 276.9,71.5 294.5,71.1 306.1,71 316.9,71.1 328.1,70.7 336,70" stroke="#85807a" stroke-opacity="0.34" stroke-width="0.9" stroke-dasharray="8.0,2.3,27.0,1.5,12.3,1.6,21.1,2.5" stroke-dashoffset="5"/>
<path d="M48,94.6 59.4,92.9 77.2,91.4 88.6,90.1 101.6,88.6 115.4,87.3 118,87.3 125.9,85.9 142.8,84 148,83.7 153,83 166.9,80.8 177.4,79.2 188.1,78.2 192,77.4 206,76.4 223.7,75.2 234,74.5 246.3,73.6 248,73.5 259,73.3 273.2,72.6 283.8,72.3 300.8,71.9 313.4,71.9 331,71.1 336,70.9" stroke="#8c7350" stroke-opacity="0.42" stroke-width="0.8" stroke-dasharray="18.8,1.4,7.8,1.5,16.1,1.1,7.0,1.9" stroke-dashoffset="0"/>
<path d="M48,95.6 60.3,93.9 73.1,93 86.7,91.5 100.9,90 110.9,89.2 118,88 121.5,87.8 137.9,85.8 148,85 152.4,83.9 166.3,82.4 179,80.5 192,79.2 195.1,78.8 209.2,77.9 225.6,76.4 242.4,75.5 248,74.6 259.8,74.3 275.6,74.1 291.1,73.7 304.8,73.2 319.1,72.5 333.7,71.9 336,72.2" stroke="#e6e6e8" stroke-opacity="0.56" stroke-width="0.9" stroke-dasharray="8.6,1.8,14.5,1.2,25.7,1.6,21.7,2.6" stroke-dashoffset="3"/>
<path d="M48,96.6 55.7,95.8 69.7,94.2 81.1,92.7 94.1,91.4 108.2,90 118,89.4 122.4,88.7 133.4,87.4 145.8,85.9 148,86 155.7,84.9 171.7,82.7 188.7,80.9 192,80.8 203,79.8 218.7,78.7 230.2,77.6 247.6,76.3 248,76.3 261.5,75.5 277.2,75 292.5,74.9 304.8,74 320.1,73.8 331,73.1 336,72.8" stroke="#e2e2e6" stroke-opacity="0.65" stroke-width="0.9" stroke-dasharray="25.3,1.0,30.9,2.6,34.5,0.9,8.1,2.4" stroke-dashoffset="14"/>
<path d="M48,96.6 60.5,95.4 78.6,93.8 92.2,92.5 107.7,90.8 118,89.3 123,89.3 138.7,87.4 148,86.5 151.6,86 166.7,84.2 177.1,83 192,81.2 194.5,81.4 210.3,79.7 226.9,78.7 240.6,77.7 248,77 252.1,76.8 265.7,76.4 281.2,75.9 295.6,75.3 306.3,75 316.1,74.3 329.3,73.5 336,73.6" stroke="#d6d4dc" stroke-opacity="0.64" stroke-width="0.7" stroke-dasharray="8.1,2.2,17.0,1.9,22.5,1.2,7.2,2.1" stroke-dashoffset="6"/>
<path d="M48,97.7 60.6,96.3 75.7,95 91.5,93.2 105.9,92 118,90.6 123.4,90.1 133.8,88.8 148,87.3 148.3,87.6 160.8,86.4 171.1,85.2 188.3,83.4 192,83.2 202.9,81.7 219,80.5 235,79.2 245.6,78.2 248,78 259.7,77.4 272.5,77.3 282.7,76.7 297.7,76.2 313.2,75.7 327.9,74.6 336,74.5" stroke="#9c8a68" stroke-opacity="0.64" stroke-width="0.8" stroke-dasharray="15.1,3.0,19.1,1.0,28.8,1.4,13.4,1.5" stroke-dashoffset="18"/>
<path d="M48,98.5 52.5,97.8 67.9,96.7 85.3,94.6 103.4,93 118,91.8 120.7,91.4 138.2,89.3 148,88.6 150.1,88.4 166.8,86.6 177.4,85.9 192,84.4 192.1,84.3 202.5,83.4 213.2,82.3 230.9,80.8 241.8,80.2 248,79.3 257.6,79.1 271.8,78.3 281.6,77.7 298.1,76.9 308.4,77 325.7,76.1 336,75.8" stroke="#e6e6e8" stroke-opacity="0.52" stroke-width="1.0" stroke-dasharray="30.0,1.5,19.3,3.0,15.2,1.0,6.6,2.7" stroke-dashoffset="4"/>
<path d="M48,99.3 56.1,98.6 69.4,96.9 83.8,95.5 101,94.1 113.4,92.5 118,92.6 124.8,91.9 138.2,90.6 148,89.2 151.9,89.4 164.7,87.8 179.7,86.9 193.8,85.2 205.6,84.3 216.5,83.3 229,82 245.9,80.5 248,80.7 262.5,79.9 274,79.2 286.3,78.9 300.3,78.4 314.3,77.5 325,77.2 336,76.6" stroke="#7c7c84" stroke-opacity="0.63" stroke-width="0.9" stroke-dasharray="13.6,1.2,22.4,1.4,24.8,1.0,29.6,1.7" stroke-dashoffset="1"/>
<path d="M48,99.8 49.7,99.3 67.3,97.8 84.3,96.1 101.5,94.8 114.6,93.3 118,93.5 132.6,92.1 143.8,91.1 148,90.6 159.7,89.8 177.5,88.2 189,87.2 198.8,86.4 209.7,85.1 220.2,84.2 236.8,82.6 248,82.1 251.7,81.7 265.5,81.5 276.2,80.6 291.4,80 302.4,79.8 313.3,79.4 328.1,78.6 336,78.4" stroke="#b9ad93" stroke-opacity="0.39" stroke-width="0.7" stroke-dasharray="39.6,2.8,25.4,2.2,24.9,2.0,18.5,3.0" stroke-dashoffset="22"/>
<path d="M48,100.1 54.7,99.7 66.3,98.5 76.8,97.6 89.8,96.2 103.8,95.2 118,93.9 120.3,94.1 138,92.2 148,91.3 148.9,91.3 163.9,90 180.6,88.7 196.1,87.7 212,86.2 222.9,85.2 237,83.9 248,83.1 252.3,82.7 263,82.7 273.7,82 284.1,81.7 294.6,81.1 308.1,80.6 323.6,79.8 336,79.3" stroke="#b0aaa0" stroke-opacity="0.38" stroke-width="0.7" stroke-dasharray="15.8,2.5,14.8,2.7,29.1,2.8,17.8,2.9" stroke-dashoffset="17"/>
<path d="M48,99.9 51.6,99.7 66.8,98.3 79.2,97.6 90,96.9 100.1,96 115.1,94.5 118,94.2 126.9,93.7 137.5,92.9 148,92.3 153.9,91.7 164.8,90.8 181,89.5 193.1,88.5 205.9,87.5 223.6,86 240.3,84.6 248,83.8 257.1,83.3 275.2,82.8 290,82.5 307.7,81.9 322.7,80.9 336,80.5" stroke="#e2e2e6" stroke-opacity="0.51" stroke-width="1.0" stroke-dasharray="26.8,2.3,29.2,2.6,6.3,2.3,12.1,2.4" stroke-dashoffset="17"/>
<path d="M48,100.2 57.6,99.5 74.1,98.2 90.5,96.9 104.2,96.1 115.2,95.1 118,95 129.2,94.5 143.5,93.5 148,92.8 157.7,92.3 169.8,91.5 180.4,90.4 198.1,89.2 210.4,88.1 222.4,86.9 238.6,85.9 248,84.8 250.1,85.1 262.5,84.5 278.7,83.6 292.7,83.3 310,82.8 324.4,82.3 336,81.6" stroke="#dcdce2" stroke-opacity="0.41" stroke-width="1.0" stroke-dasharray="12.0,2.4,11.8,1.9,39.9,1.0,35.2,0.8" stroke-dashoffset="29"/>
<path d="M48,100.8 60.7,99.8 74.3,98.8 89.4,97.9 103.1,97.1 114.3,96.3 118,96.2 127.1,95.4 140.6,94.7 148,94.1 157.7,93.6 168.4,92.8 182.8,91.3 196.5,90.7 211,89.3 227.4,87.9 242.3,86.7 248,86.6 254.8,86.2 272.6,85.7 287.4,84.9 299.5,84.8 313.9,83.9 331,83.7 336,83.2" stroke="#f0f0f0" stroke-opacity="0.40" stroke-width="1.0" stroke-dasharray="20.8,1.3,11.2,1.2,18.1,1.1,23.9,2.7" stroke-dashoffset="27"/>
<path d="M48,100.8 61.6,99.9 78,99.3 95.6,98.1 106.3,97.3 118,96.5 119.9,96.7 137.8,95.3 148,94.9 150.4,94.7 165.9,93.4 179,92.3 192.8,91.9 209.5,90.2 224.5,89.4 240.4,87.7 248,87.3 252.2,87.3 262.9,86.8 273,86.7 287.8,86 301.6,85.8 314.4,85.5 330.3,84.9 336,84.2" stroke="#8c7350" stroke-opacity="0.37" stroke-width="0.7" stroke-dasharray="32.1,1.8,11.0,2.3,39.8,2.2,21.1,2.0" stroke-dashoffset="21"/>
<path d="M48,101.3 59.7,100.8 76.1,99.8 88,99.2 104.4,98.5 115,97.5 118,97.6 125.9,97.2 140,96.3 148,96.2 151.3,95.6 165.8,94.7 178,93.7 195.8,92.6 209.2,91.5 225.8,90.5 243.6,89 248,88.9 257.2,88.5 273.4,87.7 287.4,87.5 300.5,86.9 311.4,86.6 326.7,86.5 336,85.9" stroke="#ecebe7" stroke-opacity="0.55" stroke-width="1.0" stroke-dasharray="19.4,2.7,31.5,1.1,25.0,1.5,30.8,2.5" stroke-dashoffset="14"/>
<path d="M48,101.7 50.4,101.5 64.8,100.8 78.5,100.6 92.1,99.9 102.1,99.5 116.1,98.6 118,98.5 132.7,97.5 146.4,97 148,97.1 156.4,96.2 171,95.4 182.3,94.5 196.5,93.9 208.2,92.6 224.5,91.9 236.7,90.5 248,89.8 253.1,89.8 267,89.4 280.3,88.8 295.5,88.6 310.2,88.3 324,87.4 336,87.3" stroke="#b0aaa0" stroke-opacity="0.59" stroke-width="0.7" stroke-dasharray="21.2,2.2,16.7,2.6,20.2,2.0,23.7,1.6" stroke-dashoffset="0"/>
<path d="M48,102 51.9,102.1 65.7,101.2 83.5,100.5 94.4,99.9 111.8,99.5 118,99.3 129.8,98.8 146.2,98 148,98.2 158.4,97.4 168.3,96.6 185.5,95.6 195.9,94.5 208.2,93.7 225.9,92.7 241.4,91.7 248,91.4 258.1,91 274.9,90.1 286.2,90.3 300.2,89.6 310.8,89.2 323.8,89.1 336,88.7" stroke="#b0aaa0" stroke-opacity="0.38" stroke-width="0.7" stroke-dasharray="14.2,0.9,24.8,1.7,31.4,1.2,19.2,2.2" stroke-dashoffset="13"/>
<path d="M48,101.9 57.8,102 74.5,101 85.5,100.5 98.5,100.3 111,99.7 118,99.5 126.5,99.3 144.6,98.5 148,98.5 160.7,97.4 176.4,96.7 187.9,95.9 201.3,95 214.5,94.5 225,93.5 235.8,93 248,91.7 248.1,92.1 261,91.4 272.9,91 285.2,91.2 297,90.5 308.2,90.5 323.5,89.7 335.8,89.6 336,89.7" stroke="#6f6a66" stroke-opacity="0.60" stroke-width="0.7" stroke-dasharray="17.0,0.9,31.2,2.2,37.0,2.6,27.5,2.5" stroke-dashoffset="24"/>
<path d="M48,102.5 58,102.2 74.9,102 89.9,101.1 105,100.8 118,100.9 129.7,100.4 143,99.9 148,100 158.7,99.2 171.6,98.2 187.1,97.5 203.2,96.1 220.8,95.1 236.2,93.9 248,93.2 253.8,93 267.6,92.6 281.9,92.8 297.4,92.1 308.5,92.1 322,91.5 336,90.9" stroke="#d6d4dc" stroke-opacity="0.62" stroke-width="0.8" stroke-dasharray="15.7,2.5,23.7,1.4,19.3,0.8,8.1,0.9" stroke-dashoffset="28"/>
<path d="M48,103.1 60.3,102.8 74.7,102.6 92.4,101.8 106.7,101.5 118,101.4 122.2,100.9 132.9,100.9 146.4,100.5 148,100.6 161.3,99.9 174.5,99.2 189.8,98.1 202.5,97.4 217.8,96.1 229.4,95.7 243.3,95 248,94.6 256.7,94.3 270.9,94 281.1,93.7 293,93.2 308.8,92.9 320,93 333.8,92.5 336,92.1" stroke="#d6d4dc" stroke-opacity="0.49" stroke-width="1.0" stroke-dasharray="22.1,1.0,35.4,1.2,13.2,1.8,22.8,2.7" stroke-dashoffset="9"/>
<path d="M48,104.1 60.7,103.7 71,103.4 82.5,103.2 98.5,102.7 113.9,102.2 131.5,102.2 142.5,102 148,101.6 153.3,101.6 167.6,100.8 185.5,99.5 201.2,98.8 217.8,97.5 235.6,96.5 247.8,96 248,96 258.3,95.8 273.9,95.4 284.2,95.1 295.5,94.7 307.8,94.3 317.9,94.2 333.4,93.8 336,93.9" stroke="#6f6a66" stroke-opacity="0.62" stroke-width="0.8" stroke-dasharray="8.9,2.4,28.1,2.6,31.8,1.9,39.2,1.8" stroke-dashoffset="13"/>
<path d="M48,105 56.9,104.7 73.3,104.2 88.1,104.4 105.8,104 117.9,103.8 135.2,103.4 148,102.8 152.4,102.6 165.1,102 175.1,101.3 190,100.7 205,99.4 222.8,98.2 237.3,97.6 248,96.7 253.2,96.6 269.4,96.7 280.6,96.5 296,96.2 309.5,95.6 321.1,95.7 333.2,95.5 336,95.3" stroke="#7a7064" stroke-opacity="0.50" stroke-width="0.7" stroke-dasharray="22.3,3.0,39.4,1.2,20.8,1.6,39.4,2.9" stroke-dashoffset="15"/>
<path d="M48,106.1 53.3,105.9 68.4,105.5 83.3,105.3 99.5,104.8 111.8,105 124.3,104.7 134.2,104.2 146.9,103.8 148,103.9 157.9,103.7 175.8,102.6 193.4,101.1 208.8,100.4 226.6,99.4 242.8,98.5 248,98 257.1,97.7 274,97.7 287.9,97.6 300.8,97.1 319,96.8 330.8,96.5 336,96.4" stroke="#7c7c84" stroke-opacity="0.50" stroke-width="0.7" stroke-dasharray="10.9,1.0,20.7,1.4,38.4,0.9,31.8,1.1" stroke-dashoffset="3"/>
<path d="M48,107.4 60.9,106.9 72.6,106.9 87.4,106.5 102.1,106.4 115.2,105.8 128,106 138.9,105.5 148,105.2 154.6,104.9 167.5,104.3 182.4,103.1 199,102.6 209.5,101.5 222.8,100.8 235.6,99.9 248,99.4 253.2,99.6 268.2,98.9 279.7,98.8 293.4,98.8 303.3,98.8 317.4,98.3 327.8,98.2 336,98.3" stroke="#8c7350" stroke-opacity="0.49" stroke-width="0.7" stroke-dasharray="16.3,2.3,39.1,2.5,29.2,2.0,23.2,1.4" stroke-dashoffset="28"/>
<path d="M48,108.6 53.6,108.2 67.5,108.2 79.4,107.6 91.6,107.3 105.3,107 120.6,106.7 131.6,106.9 143.7,106.7 148,106.4 157.3,105.7 171.4,104.7 186.1,104 199.5,103.3 212,102.1 212.8,102.3 224.2,101.5 240.4,100.8 248,100.4 257.3,100 271.1,100.2 280.9,100.3 295.9,100.1 308.3,100 324.3,99.6 336,99.4" stroke="#ecebe7" stroke-opacity="0.42" stroke-width="0.8" stroke-dasharray="16.6,2.4,27.6,0.8,13.1,2.2,19.5,2.3" stroke-dashoffset="14"/>
<path d="M48,109.3 49.6,109.5 65.2,109.2 83.1,108.8 93.7,108.8 108.7,108.6 123.6,107.8 138.6,108.1 148,107.5 152.6,107.4 166.7,106.5 184.8,104.9 201.9,103.8 212,103.4 215.4,103.2 232,102.6 247.4,101.4 248,101.7 264,101.6 282.1,101.6 292.5,101.3 304.1,101 315.9,100.7 332.6,100.6 336,100.6" stroke="#dcdce2" stroke-opacity="0.48" stroke-width="0.6" stroke-dasharray="19.1,1.8,13.2,2.7,7.1,1.4,8.8,2.3" stroke-dashoffset="2"/>
<path d="M48,110.5 58.5,110.4 72.7,110.6 87.6,110.2 104.8,109.9 115.8,109.4 133.3,109.2 147.3,109.4 148,109.3 161.4,108.5 177.9,107 195.6,105.7 212,104.2 212.5,104.5 226.9,104.1 245.1,103.5 248,103 255.2,103.3 267,102.9 279.3,102.8 293.6,103.1 308.4,103 318.9,102.3 331.4,102.7 336,102.6" stroke="#f0f0f0" stroke-opacity="0.39" stroke-width="0.7" stroke-dasharray="23.7,0.9,32.3,2.4,10.0,2.2,10.4,2.0" stroke-dashoffset="2"/>
<path d="M48,111.3 51.9,111.3 65.5,111.1 79.9,110.9 95.2,110.9 112.8,110.4 125.4,110.3 138.1,110.2 148,110 149.7,110.2 165.7,108.8 178.6,107.9 190.2,106.5 201.6,105.5 212,104.8 214.9,104.8 231.7,104.7 245.2,104.4 248,104.4 261.8,103.8 275.6,103.7 290.3,103.8 302.2,103.7 315.5,103.4 331.4,103.5 336,103.3" stroke="#aaa69e" stroke-opacity="0.42" stroke-width="0.5" stroke-dasharray="26.7,1.5,16.2,1.5,31.5,1.0,10.3,1.5" stroke-dashoffset="23"/>
<path d="M48,112.5 48.9,112.4 66.8,111.9 81.5,112.3 97.6,112 111.9,111.4 125.1,111.6 135.8,111.3 147.9,111.5 148,111.4 159.2,110.4 174.3,109.1 188.5,107.8 198.7,106.9 208.6,105.8 212,105.8 219.1,105.3 236.4,105.7 248,105.4 251.8,105.5 269.8,105.4 285.3,105 297.7,105.3 313,105 331.2,104.8 336,104.9" stroke="#d6d4dc" stroke-opacity="0.49" stroke-width="1.0" stroke-dasharray="14.7,2.5,8.7,2.8,24.5,1.2,33.7,2.7" stroke-dashoffset="3"/>
<path d="M48,113.7 60.4,113.1 78.2,113.3 91,113.2 107.4,112.9 123.3,113.1 137.8,112.7 148,112.8 150.9,112.1 163.3,111 180,109.4 196.4,107.9 212,106.6 214.1,106.7 224.5,106.7 239.1,106.7 248,106.8 254.8,106.7 266.4,106.6 276.4,106.2 293.7,106.3 310.1,106.2 325.8,105.9 336,106.4" stroke="#ecebe7" stroke-opacity="0.66" stroke-width="0.6" stroke-dasharray="13.0,1.6,8.6,1.1,37.1,1.8,8.7,1.5" stroke-dashoffset="24"/>
<path d="M48,114.7 50.5,114.6 62.4,114.8 74.4,114.7 89.1,114.6 104.8,114.3 118.5,114.4 134.9,114.3 148,113.7 151.5,113.8 162,112.6 177.8,110.9 191.9,109.3 209,107.8 212,107.5 221.1,107.7 231.4,107.8 248,107.7 248.8,107.9 264.3,107.9 276.2,107.7 292,108 306.3,108 318,107.9 329.2,107.4 336,107.7" stroke="#b9ad93" stroke-opacity="0.49" stroke-width="0.9" stroke-dasharray="6.0,1.3,9.4,1.6,37.1,1.8,33.2,1.2" stroke-dashoffset="10"/>
<path d="M48,115.3 59.2,115.5 71.4,115.3 87.4,115.2 102.2,115.1 117.5,114.7 127.6,114.9 140.4,114.5 148,114.8 158.5,113.3 171.4,112 183.6,110.7 201.7,108.8 212,107.8 216.5,107.8 232.2,108.1 246,108.5 248,109 261.1,109 274.1,108.9 286.2,108.4 298.5,108.4 310.2,108.8 325.8,108.3 336,108.3" stroke="#d6d4dc" stroke-opacity="0.67" stroke-width="0.9" stroke-dasharray="16.8,2.4,37.8,2.8,39.0,2.5,32.7,2.3" stroke-dashoffset="12"/>
<path d="M48,116.8 56,116.7 73.6,116.8 88.2,116.2 98.2,116.3 111.8,116.3 128.9,116.5 144.7,116.4 148,116.6 158.5,115.3 176.2,113.1 192.3,111.3 204,110 212,108.9 219.7,109.3 236.8,110.1 246.7,110.4 248,110.1 264.3,110 277.8,110.4 294.7,110.4 304.6,110 317.1,110.4 329.4,110.3 336,109.9" stroke="#85807a" stroke-opacity="0.52" stroke-width="0.7" stroke-dasharray="36.9,1.3,34.3,2.9,10.1,2.3,24.7,2.8" stroke-dashoffset="13"/>
<path d="M48,117.1 53.8,117.1 65.5,117.4 82.4,117.4 94.9,117 112.4,117.3 122.5,117.1 139.7,117.3 148,117.2 149.7,116.6 165.6,115 183.4,112.8 195.9,111.3 210.6,109.5 212,109.4 223.9,109.9 234.2,110.4 248,111.3 251.1,111.2 265,110.9 281.6,110.9 291.7,111 302.8,111.4 314.6,111 331.2,111.3 336,111.3" stroke="#b9ad93" stroke-opacity="0.35" stroke-width="0.7" stroke-dasharray="31.1,2.0,36.8,2.7,35.1,2.6,35.2,1.3" stroke-dashoffset="16"/>
<path d="M48,119 56.2,118.9 73.5,119 89.9,118.7 99.9,118.6 114.5,118.4 132.3,118.5 144.3,118.7 148,118.9 156.6,117.4 173.9,115.6 185.6,114 196.8,112.7 209.1,111.1 212,110.6 222.7,111.1 236.3,112.1 248,112.7 250.2,112.9 260.3,112.7 276.6,112.5 289.7,112.5 302.3,112.8 312.9,112.8 325.5,112.8 336,112.6" stroke="#7a7064" stroke-opacity="0.53" stroke-width="0.8" stroke-dasharray="38.0,1.8,18.6,2.4,24.8,1.4,37.3,1.3" stroke-dashoffset="2"/>
<path d="M48,120 55.5,120.2 73,120 90,120.1 106.6,120 121.5,120 135.6,120.1 147.9,120.1 148,119.8 159.1,118.4 172.6,116.9 189.4,114.8 203.8,112.6 212,111.9 221.9,112.3 238.4,113.6 248,113.9 252.8,114 267.5,114 280.8,114 298.3,114.1 315.1,114.3 326.4,114.2 336,114.2" stroke="#e2e2e6" stroke-opacity="0.49" stroke-width="0.9" stroke-dasharray="9.0,0.8,27.0,0.9,31.1,2.2,23.8,2.3" stroke-dashoffset="20"/>
<path d="M48,121.2 54.1,121.2 66.4,121.4 76.9,121.2 93.3,120.9 105.3,121.1 123.2,121.2 134.5,121.1 148,120.8 148.2,120.6 165.9,118.8 178.9,116.9 193.5,115.4 207.6,113.5 212,112.7 219.9,113.3 232,114.1 245.9,115.4 248,115.4 256.3,115.5 266.5,115.5 277,115.3 293.6,115.3 308.6,115.2 323,115.2 336,115.1" stroke="#d6d4dc" stroke-opacity="0.48" stroke-width="0.7" stroke-dasharray="22.1,1.8,12.2,1.9,25.6,2.1,31.2,1.8" stroke-dashoffset="6"/>
<path d="M48,122.9 61.2,122.3 72,122.5 84.3,122.6 97.6,122.6 110.9,122.3 122.5,122.4 139.5,122.3 148,122 151.9,121.7 166.3,119.8 181.2,117.7 192.1,116.8 205.5,115.1 212,114.3 216.4,114.2 230.8,115.6 246.7,116.3 248,116.7 263.7,116.5 281.4,116.7 292.1,116.6 305.8,116.7 321.2,116.6 334.1,116.8 336,116.8" stroke="#a0885f" stroke-opacity="0.46" stroke-width="0.9" stroke-dasharray="36.8,1.4,10.0,2.0,31.4,1.5,19.3,2.5" stroke-dashoffset="27"/>
<path d="M48,124.2 55.9,124.1 69.7,123.8 83.3,124.1 94.2,123.9 108,123.6 119,123.8 131.7,123.8 146.6,123.5 148,123.2 156.9,122.3 169.8,120.4 187.6,118.6 198,116.9 212,115.5 212.9,115.7 225.7,116.3 236.2,117.1 248,118.3 253.3,118 269.2,118.3 281.5,118.1 296.8,118.3 311.3,118.3 326.6,118.3 336,118" stroke="#b0aaa0" stroke-opacity="0.39" stroke-width="0.6" stroke-dasharray="39.3,2.2,8.4,1.9,20.5,2.1,15.6,2.8" stroke-dashoffset="14"/>
<path d="M48,125.2 59.6,125.4 71.6,125 88.8,125.2 103.2,124.6 117.6,124.5 131.1,124.8 148,124.6 148.8,124.2 163.3,122.6 177.6,120.7 190.4,119.2 204.1,117.3 212,116.5 216.2,116.9 229.7,118.1 241.7,118.7 248,119.4 252.1,119.4 265,119.6 275,119.4 290.4,119.6 301,119.6 318.4,119.3 330.9,119.3 336,119.6" stroke="#9c8a68" stroke-opacity="0.48" stroke-width="0.9" stroke-dasharray="14.9,1.6,6.3,2.4,34.0,2.4,39.0,2.5" stroke-dashoffset="3"/>
<path d="M48,126.2 52.5,126.2 70,125.9 80.7,125.6 97.9,125.5 114.4,125.6 125.5,125.1 137,125.1 148,125.3 153,124.4 168.2,122.4 178.3,121.5 192.5,119.6 200,118.9 203.9,118.2 212,117.4 220.9,118 222,117.7 235.2,119.2 240,119.6 245.2,119.9 248,120.6 258.3,120.3 268.2,120.5 285.6,120.2 302.8,120.7 318.7,120.8 328.5,120.6 336,120.3" stroke="#e2e2e6" stroke-opacity="0.53" stroke-width="0.8" stroke-dasharray="12.9,1.1,36.1,1.6,25.6,2.5,24.8,2.5" stroke-dashoffset="23"/>
<path d="M48,127 55.2,127.1 72.4,126.5 89,126.5 102.4,126.4 114.4,126.5 131.6,126.3 146.5,126.2 148,126.1 159.8,124.8 176.4,122.5 194.5,120.4 200,120.1 204.7,119.2 212,118.5 219.9,118.7 222,118.7 236.5,120.4 240,121.2 248,121.5 250.1,121.7 265.7,122.1 276,121.9 288.6,122.3 299.7,121.9 312.6,122.1 328.7,122.5 336,122.5" stroke="#9c8a68" stroke-opacity="0.44" stroke-width="0.9" stroke-dasharray="29.7,1.9,32.2,1.9,10.1,2.0,31.6,1.2" stroke-dashoffset="13"/>
<path d="M48,127.5 59.7,127.2 69.6,126.9 86.6,126.6 99.4,126.7 112.2,126.6 127.9,126.3 142.5,126.2 148,125.8 154.8,125.3 165.9,124.4 179.2,122.6 196.5,120.7 200,120.3 212,119 214.6,119 222,118.9 230.5,120.2 240,121.6 246.1,122.4 248,122.6 261.7,122.8 279.2,122.9 290.3,123 301.3,122.8 318.2,123.5 328.2,123.1 336,123.5" stroke="#8c7350" stroke-opacity="0.58" stroke-width="0.9" stroke-dasharray="10.1,1.4,23.0,2.5,7.8,2.8,31.1,0.8" stroke-dashoffset="24"/>
<path d="M48,127.8 51.9,127.8 62.2,127.9 74,127.4 92,127.3 107,127.2 123.1,127 140.3,126.7 148,126.3 154.5,125.9 166,124.6 180.7,123.4 197.8,121.5 200,121.4 212,119.6 213.4,119.4 222,119.3 229.8,121 240,122.9 240.6,122.8 248,123 256,123.4 267.2,123.8 282,124 299.1,124.3 311.9,124.5 323.1,124.8 336,124.5" stroke="#6f6a66" stroke-opacity="0.42" stroke-width="0.6" stroke-dasharray="18.8,1.6,20.0,1.0,10.5,2.9,24.9,1.3" stroke-dashoffset="13"/>
<path d="M48,128.1 53.1,128.3 67,128.2 78.2,128.1 94.3,127.7 111.9,127.2 127,127 144.9,126.7 148,126.7 161.5,125.5 175.8,124.2 190,122.8 200,122.2 205.6,121 212,120.1 218.5,120.1 222,119.7 228.9,121.3 240,123.3 242.5,123.8 248,124.5 259.2,124.5 274.7,124.7 284.8,125.1 301.6,125.4 311.7,125.6 325.9,126 336,126.2" stroke="#9fa2a8" stroke-opacity="0.59" stroke-width="0.8" stroke-dasharray="29.2,2.6,12.6,1.2,34.7,1.8,6.7,2.4" stroke-dashoffset="4"/>
<path d="M48,128.9 51.8,128.6 69.4,128.5 80.7,128.2 97.5,128.3 109.5,127.8 126,127.6 139,127.4 148,127.7 153.5,127.1 169.1,125.5 184.9,124.1 196.4,123.1 200,122.9 211.9,120.9 212,120.7 222,120.2 223.1,120.7 234.9,123.3 240,124.8 248,125.1 251.3,125.1 262.3,125.4 275.6,126.2 286.4,126.3 301.1,126.4 312.3,126.9 325.2,127.4 336,127.4" stroke="#b3a58a" stroke-opacity="0.56" stroke-width="0.8" stroke-dasharray="7.4,2.0,39.8,2.8,9.6,1.0,35.9,2.8" stroke-dashoffset="12"/>
<path d="M48,129.5 58.9,129.7 69.2,129.5 82.2,129.2 96.5,129.3 108.4,129 123.9,128.4 139.8,128.4 148,128.3 151.2,128.3 161.8,127.4 179.4,125.9 194.3,124.6 200,124 206.6,122.9 212,121.6 222,121.4 224.2,122 240,125.9 240.8,126.2 248,126.7 252.2,126.7 265.4,126.8 275.6,127.3 288.1,127.5 302.2,128.1 318.2,128.9 328.8,128.7 336,129.3" stroke="#aaa69e" stroke-opacity="0.41" stroke-width="0.7" stroke-dasharray="39.6,2.3,20.8,1.1,20.8,0.9,13.2,2.7" stroke-dashoffset="2"/>
<path d="M48,129.9 55.3,129.9 65.3,129.9 80.9,129.3 97.8,129 114.7,128.7 131,128.9 148,128.4 149.2,128.6 166.2,126.9 183.1,126 200,124.5 201,124.6 212,122.2 212.5,122.1 222,121.5 223.8,121.6 239.6,126.7 240,126.4 248,126.9 249.9,127.2 267.8,127.8 283.4,128.4 301.3,129 313.3,129.4 325.3,130.1 335.5,130.1 336,130.3" stroke="#dcdce2" stroke-opacity="0.65" stroke-width="1.0" stroke-dasharray="24.7,1.0,34.4,2.5,6.6,1.4,34.4,1.8" stroke-dashoffset="5"/>
<path d="M48,130.4 61.8,129.9 73.4,130.1 84.7,129.9 100.3,129.5 118.4,129.2 134.1,129.2 144.1,128.9 148,128.8 154.1,128.2 165.7,127.2 181.1,126.7 198.9,124.9 200,124.8 209.7,123.3 212,123.1 222,121.6 225.1,122.4 240,127.1 240.6,127.2 248,127.8 250.6,127.9 268,128.6 280.5,129.5 293.4,130.1 309.9,130.7 324.2,130.8 336,131.6" stroke="#7c7c84" stroke-opacity="0.31" stroke-width="0.6" stroke-dasharray="7.5,1.5,21.8,2.3,35.5,1.8,36.3,0.8" stroke-dashoffset="15"/>
<path d="M48,131.2 58.9,130.7 71.6,130.4 82.7,130.4 95.4,130.1 108.4,130 122.5,129.8 136.1,129.7 148,129.1 153.4,129 170.7,127.5 183.4,126.9 194.9,126.2 200,126.2 208.8,124.6 212,123.5 222,122.4 222.2,122.1 239.6,128 240,128.3 248,128.8 255.6,129.3 272.5,130.3 283.8,130.6 297.2,131.3 314,131.7 329.5,132.5 336,133" stroke="#8c7350" stroke-opacity="0.57" stroke-width="0.7" stroke-dasharray="35.5,2.6,18.1,1.0,13.2,1.3,39.3,2.6" stroke-dashoffset="0"/>
<path d="M48,131.7 48.1,132.1 62.6,131.4 76.2,131.3 90.7,131.2 107.5,130.8 124.4,130.7 135.3,130.4 148,130.3 153.2,129.6 166.9,129 180.6,128.2 191.7,127.7 200,127.2 203.5,126.3 212,124.6 214.9,124 222,122.8 227,125.1 240,130.1 241.4,130 248,130.2 253.4,130.7 265.4,131.3 276.2,131.7 286.6,132.5 304,133.1 317.5,133.8 331.1,134.3 336,134.7" stroke="#a9a9ae" stroke-opacity="0.34" stroke-width="0.5" stroke-dasharray="14.3,1.1,6.4,2.8,23.9,2.7,31.5,1.0" stroke-dashoffset="3"/>
<path d="M48,132 53.2,132.4 63.9,131.8 78.8,131.8 96.3,131.5 113,130.8 125.3,130.8 141.9,130.3 148,130.1 156,130.2 166.9,129.5 178.3,128.9 194.8,128.3 200,127.8 212,125.4 222,123.3 222.7,123.5 233.3,128.1 240,130.6 246,131.2 248,131.1 257.3,131.4 273.3,132.8 283.8,132.9 294.5,133.6 312.2,134.6 323.1,135.1 336,136.2" stroke="#6f6a66" stroke-opacity="0.59" stroke-width="0.6" stroke-dasharray="7.0,3.0,23.0,2.5,35.3,1.5,6.5,2.7" stroke-dashoffset="27"/>
<path d="M48,132.8 53.6,132.8 68.9,132.5 78.8,132.1 96.5,131.8 111.5,131.8 129.5,131.2 145.1,130.9 148,131.2 157.9,130.6 169.2,130.2 183.3,129.7 200,129 200.4,129 212,126.5 214.7,125.4 222,124.2 229,126.8 240,131.5 240.6,131.7 248,132.1 251.7,132.3 263.5,133.1 275.8,134.1 289.6,135 307.3,135.8 319.4,136.6 331.1,137.4 336,137.6" stroke="#7c7c84" stroke-opacity="0.41" stroke-width="0.7" stroke-dasharray="19.9,2.3,15.5,2.4,35.7,1.8,18.6,2.5" stroke-dashoffset="14"/>
<path d="M48,133.6 56.2,133.2 72.8,133.1 88,133 88.2,132.8 99.5,132.3 114.7,132.6 127,132 137,132.2 148,132 150.8,131.4 162.2,131.3 175,130.9 185,130.7 185.9,130.7 199,130 200,129.8 210,126.8 212,126.3 219,124.9 222,124.2 222.4,124.3 230,127.9 234.8,129.9 240,132.5 245,132.6 252.7,133.6 262,134.5 270.8,134.5 282.4,135.6 295.5,136.2 308.3,137.1 326.5,138.3 336,139" stroke="#9fa2a8" stroke-opacity="0.56" stroke-width="0.8" stroke-dasharray="20.8,2.9,17.4,2.4,11.1,0.8,12.5,1.8" stroke-dashoffset="5"/>
<path d="M48,134.4 52.4,133.7 65,133.4 80.4,132.9 88,132.8 90.3,133 104.5,132.9 119.7,132.2 135.4,132.3 145.6,132.2 148,132.4 162.6,131.7 173.8,132 185,131.2 185.9,131.6 200,129.9 203.3,128.5 210,126.4 216.7,124.9 219,124.4 222,123.6 228.5,126.4 230,127.1 239.3,131.6 240,131.7 245,132.8 252.4,133.8 262,134.9 269,135 282.9,136.2 296.2,136.8 310.4,137.9 326.2,138.8 336,139.6" stroke="#ecebe7" stroke-opacity="0.62" stroke-width="0.7" stroke-dasharray="16.7,1.2,33.6,2.9,25.5,2.3,39.2,1.9" stroke-dashoffset="13"/>
<path d="M48,135.1 51.9,134.5 70,134 80.8,133.6 88,133.2 92.2,133.1 109.2,133.2 119.2,132.9 130.7,132.9 144.9,133 148,133.1 156.7,132.9 169.7,133.1 179.8,132.8 185,132.9 195.2,131.4 200,130.8 205.6,128.5 210,126.5 217.8,124.3 219,123.9 222,123.3 228.5,126.4 230,126.8 240,131.7 244.1,133.1 245,133.1 255.8,135.2 262,135.9 270.2,136.4 280.3,137.3 294.8,138.3 307.5,139 325,139.9 336,140.6" stroke="#a9a9ae" stroke-opacity="0.37" stroke-width="0.5" stroke-dasharray="33.0,1.1,19.5,1.8,6.7,2.3,29.6,2.6" stroke-dashoffset="8"/>
<path d="M48,135.9 57.2,134.9 70.1,134.8 82.3,134.2 88,133.9 100.2,133.9 114.4,133.9 129.9,133.9 146.8,133.7 148,134.2 162,133.9 176.5,134.2 185,134.3 188.8,133.6 200,131 203.5,129.5 210,126.2 216.2,124.2 219,123.3 222,123.7 230,126.5 231.9,127.8 240,132.2 245,133.7 248.6,134 262,136.8 263.1,137 275.9,138 291.8,138.8 302.2,139.7 314.3,140.5 324.3,140.9 334.5,141.4 336,141.7" stroke="#f0f0f0" stroke-opacity="0.68" stroke-width="0.6" stroke-dasharray="7.8,0.9,29.0,1.9,27.2,1.5,26.2,1.0" stroke-dashoffset="6"/>
<path d="M48,136.9 58.3,136.1 70,135.6 80.8,135 88,134.5 96,134.7 114.1,134.8 131.7,135 148,135.4 148.9,135.3 164.7,135.8 174.6,135.9 185,136 185.7,135.4 200,132.3 200.4,132.1 210,126.8 214.7,125.3 219,123.5 222,123.4 230,126.8 231.5,127.7 240,132.2 241.5,132.9 245,134.1 256.6,136.9 262,138.4 267,138.8 283.1,139.9 293.7,140.3 307.6,141.3 323.9,142.3 336,143.4" stroke="#e6e6e8" stroke-opacity="0.69" stroke-width="0.6" stroke-dasharray="32.2,1.0,22.9,2.2,8.7,2.1,29.5,1.6" stroke-dashoffset="16"/>
<path d="M48,137.7 53.5,137.4 64.6,136.6 76.6,135.5 88,135.2 94.3,134.8 109.4,135.3 123.8,135.5 140.3,135.6 148,135.9 157.2,136.6 173.3,137 185,136.9 186.5,136.9 200,133.1 200.8,132.1 210,126.5 213.3,125.1 219,123.2 222,123.6 223.7,123.9 230,126.1 240,132 241.2,132.7 245,134.3 251.7,136.1 262,139.1 264.6,139.4 281.6,140.3 294,141.7 311.5,142.4 321.4,143.1 332.5,143.6 336,144.3" stroke="#97805a" stroke-opacity="0.59" stroke-width="1.0" stroke-dasharray="16.5,1.1,32.1,1.7,33.8,1.6,9.0,2.0" stroke-dashoffset="2"/>
<path d="M48,137.7 58.5,137.3 75.2,136.2 88,135.4 92,135.4 109,135.5 119.9,136 135.1,136.4 148,136.8 148.9,136.5 160.6,137.1 171,137.8 184.3,137.9 185,137.9 195,135.2 200,133.3 206.6,128.4 210,126.3 219,123 222,123.1 222.9,123.4 230,125.8 236.8,129.7 240,132.3 245,134.6 248.5,135.5 261.1,140 262,139.9 276,140.7 288.1,141.9 298.3,142.3 316.3,143.7 333.9,144.9 336,145.2" stroke="#dcdce2" stroke-opacity="0.58" stroke-width="1.0" stroke-dasharray="34.8,2.1,21.9,2.0,16.9,2.7,10.3,3.0" stroke-dashoffset="10"/>
<path d="M48,138.8 54.2,138.5 69.1,136.9 81.5,136.3 88,135.4 96.4,135.5 106.7,135.9 123.8,136.9 134.4,136.9 148,137.7 151.6,137.6 168.6,138.3 185,139.6 200,133.9 201.1,132.9 210,125.6 212.5,124.8 219,122.4 222,122.8 227,124.5 230,125.1 237.4,130 240,132.2 245,134.8 253.4,138 262,141.3 269.8,141.7 281.4,142.5 294.9,143.1 305.5,143.8 320.9,145 336,146.3" stroke="#aaa69e" stroke-opacity="0.45" stroke-width="0.7" stroke-dasharray="38.0,2.4,19.2,3.0,36.5,2.5,26.4,1.8" stroke-dashoffset="1"/>
<path d="M48,139.7 54.6,139 65.1,138.5 81.7,136.6 88,136.5 98.1,136.4 110.7,137 122.7,137.5 139.6,138.2 148,138.5 155.6,139.2 171.6,140.1 182.2,140.6 185,140.8 196.5,136.3 200,134.7 210,126.1 212.7,125.1 219,122.1 222,122.7 225.2,124.1 230,125.5 238.9,131.7 240,132.1 245,135.3 256.9,140.5 262,142.6 273.8,143.3 287.1,143.8 303.1,145.3 318.2,146.4 330.9,146.8 336,147.1" stroke="#6f6a66" stroke-opacity="0.53" stroke-width="0.8" stroke-dasharray="9.0,2.2,7.5,1.8,13.2,1.7,13.5,1.3" stroke-dashoffset="13"/>
<path d="M48,140.4 49.7,140.5 61.6,139.4 77.4,137.5 88,136.9 88.1,136.5 105,137.3 118.3,138.1 129.8,138.6 146.1,139.4 148,139.4 159.1,140.4 172,141.1 181.8,141.9 185,142.3 193.1,138.8 200,135.4 210,125.8 210.8,125.5 219,121.9 222,122.8 224.7,123.8 230,124.8 238.2,131.1 240,132.4 245,135.7 252.9,139.2 262,143.1 263.5,143.5 274.5,144.4 291.6,145.3 306.7,146.2 319.2,147.4 336,148.1" stroke="#d6d4dc" stroke-opacity="0.48" stroke-width="0.9" stroke-dasharray="36.5,0.8,35.2,2.0,19.8,1.2,14.8,0.8" stroke-dashoffset="3"/>
<path d="M48,141.2 60.7,140 72.5,138.8 88,137.1 89.8,137.1 90,137.1 104.1,137.8 118.4,138.5 119,138.5 129.3,139.2 144.6,139.9 148,140.4 159.1,141.4 165,141.8 171.7,142.5 180,143.3 185,143.5 185.6,143.3 190,141 195.5,138.2 200,136.5 207,129.3 210,126.3 210.6,126 213,124.6 219,121.8 226,124.2 228,124.4 230,125.4 233,127.3 239.1,131.8 242,133.7 245,136 249.9,138.7 252,139.8 262,144.2 263,144.1 266,144.3 278.2,145.1 280,145.5 294.2,146.5 311.8,147.2 323.6,148.3 336,149.2" stroke="#a0885f" stroke-opacity="0.30" stroke-width="0.6" stroke-dasharray="36.6,2.6,6.6,1.7,39.4,1.5,34.5,2.8" stroke-dashoffset="23"/>
<path d="M48,143.1 55.6,142.2 67.1,140.7 85.1,138.8 88,138.2 90,138.5 102,138.7 113,139.6 119,140 129.2,140.4 139.7,141.2 148,141.7 150.8,142.1 165,143.7 168.7,143.9 180,145.2 185,145.3 186.4,144.5 190,142.7 196.7,139 200,137.7 207,130.4 208.9,128.6 210,127.5 213,126.1 219,123.4 220.3,123.7 226,125.1 230,126.2 233,128.6 236.8,131.2 242,135.4 245,137.3 252,141.3 253.8,141.8 262,145.3 266,145.5 268.5,145.6 280,146.6 281.1,146.4 291.1,147 302,147.7 317.6,148.9 329.2,149.5 336,150.4" stroke="#dcdce2" stroke-opacity="0.62" stroke-width="0.7" stroke-dasharray="13.2,1.1,23.6,1.3,37.6,1.3,21.2,2.5" stroke-dashoffset="8"/>
<path d="M48,143.1 49.1,143.5 60.9,141.7 76.6,140 88,138.7 89.3,138.3 90,138.2 107.1,139.5 118.2,139.8 119,140 130.5,140.7 144.5,142.3 148,142.5 157.1,143.4 165,144.3 169.4,145.1 180,146.1 185,145.5 190,143.3 194.1,141.1 200,137.9 207,130.6 210,128 210.2,127.3 213,125.8 219,123.3 223.1,124.3 226,124.8 230,126.6 233,128.5 241.1,134.6 242,135.8 245,137.5 252,141.6 256.2,143.4 262,145.3 266,146 269,146.2 280,146.5 281.9,146.9 294,147.2 304.6,148.1 318.4,149.3 332.7,149.9 336,150.4" stroke="#7c7c84" stroke-opacity="0.47" stroke-width="0.9" stroke-dasharray="31.0,2.4,31.8,1.3,28.2,2.5,31.4,1.2" stroke-dashoffset="16"/>
<path d="M48,144.8 48.2,144.9 66.2,141.9 81.4,140.3 88,139.4 90,139.3 93.3,139.2 108.1,140.1 119,140.9 120.6,140.8 135,142.3 148,143.8 151.4,144.1 165,145.8 168.4,146.1 180,147.2 185,146.7 186.5,146.2 190,144.7 200,138.8 201.8,136.9 207,131.6 210,128.4 213,126.5 216.2,125 219,124.2 226,125.4 230,127.2 230.3,127.2 233,129.5 241.4,136.3 242,136.6 245,138.4 251.4,142.1 252,142.4 262,146.5 266,146.5 268.7,147.1 280,147.5 286.7,148 303.5,148.8 314.8,149.5 329.9,150.4 336,150.9" stroke="#d9dde6" stroke-opacity="0.65" stroke-width="1.0" stroke-dasharray="29.3,2.9,31.3,2.6,23.4,1.8,17.7,2.8" stroke-dashoffset="16"/>
<path d="M48,145.8 60.4,144.4 70.9,142.9 87.6,140.6 88,140.3 90,140 103.1,140.8 118.5,142 119,141.5 134.7,143.5 146.4,144.8 148,145.4 162,147.2 165,147.9 179.7,149 180,149.2 185,148.2 190,146.5 195.8,142.7 200,140.4 207,132.9 210,129.7 213,127.3 213.6,127.4 219,124.7 226,126.4 226.6,126.9 230,128 233,130.5 241.4,137.1 242,137.5 245,139.8 252,143.8 253.4,144.1 262,147.4 266,148.1 266.7,148.1 278.4,148.3 280,148.1 290.5,149 304.1,149.5 315.4,150.2 331.4,151.5 336,151.9" stroke="#8c7350" stroke-opacity="0.64" stroke-width="0.9" stroke-dasharray="10.1,1.8,32.0,1.1,20.0,0.8,25.8,2.2" stroke-dashoffset="8"/>
<path d="M48,146.8 51.8,146.5 67.8,143.8 81.3,142.1 88,141 90,140.4 99.5,141.6 115.7,142.2 119,142.2 125.6,143 143.3,145.7 148,146.4 156.8,147.9 165,148.6 169.8,149.6 180,150.3 185,149.5 186.1,149 190,147.6 200,141.1 201.2,139.8 207,133.7 210,130.5 213,128 217.9,126 219,125.3 226,126.9 230,128.7 232,130.3 233,131 242,138.4 245,140.7 249.4,143.1 252,145 262,147.7 266,148.5 267.5,148.4 280,148.7 280.4,148.9 294.2,149.5 304.9,150.4 315.2,150.7 325.5,151.3 336,152.1" stroke="#f0f0f0" stroke-opacity="0.57" stroke-width="1.0" stroke-dasharray="8.2,1.7,30.3,2.5,27.3,1.4,6.9,1.3" stroke-dashoffset="16"/>
<path d="M48,148.1 60.5,146.1 75.3,143.9 88,142 90,141.6 90.1,141.7 103.1,142.5 119,142.9 119.2,143.3 137.2,145.8 148,147.7 150.9,148.2 165,150.5 166.1,150.3 180,151.9 180.4,151.7 185,150.9 190,148.9 192.3,147.3 200,142.1 207,134.5 209.8,131.5 210,131.1 213,129.1 219,126.4 220.2,126.5 226,127.5 230,129.5 233,131.5 233.5,131.8 242,139.4 245,141.6 251.1,145.1 252,145.7 262,148.7 265.7,149.2 266,149.6 278.8,149.5 280,149.5 290.3,150.2 303.2,151.2 319.3,152 334.8,152.6 336,152.7" stroke="#6f6a66" stroke-opacity="0.53" stroke-width="0.7" stroke-dasharray="15.6,2.7,7.7,2.4,34.2,2.2,16.8,2.4" stroke-dashoffset="27"/>
<path d="M48,149.1 55.8,147.3 70.8,145 85.7,142.2 88,142.2 90,141.5 103.3,142.7 119,143.3 121.3,143.8 136.6,146.2 148,148.4 150.5,148.5 161.4,150.7 165,151.3 175.3,152.3 180,153.1 185,151.6 188.6,149.8 190,149.8 200,142.8 204.2,138 207,135 210,131.6 213,128.8 218,126.8 219,126.7 226,127.7 229.9,129.6 230,130.1 233,132.1 241.3,139 242,139.8 245,142 252,146.4 257.4,148 262,149 266,149.9 272,150 280,149.7 288.3,150.2 299.7,151.1 313.3,151.7 324,152.2 335.3,152.7 336,153" stroke="#a9a9ae" stroke-opacity="0.54" stroke-width="0.8" stroke-dasharray="20.3,2.2,38.9,1.7,10.1,1.7,22.9,1.3" stroke-dashoffset="18"/>
<path d="M48,150.3 61.1,147.8 71.7,145.9 85.6,143.2 88,142.9 90,142.3 97.1,143 111.1,143.9 119,144.2 124.1,145.2 135,147.1 148,149.3 152.1,150.6 165,152.7 166,153.1 180,154.4 181.1,154 185,152.9 190,150.9 194.5,147.5 200,143.8 206.2,136.6 207,135.9 210,132.4 213,129.8 219,127.2 219.4,127.1 226,128.4 230,130.8 230.3,131 233,132.7 242,140.6 245,142.5 245.8,143.3 252,147.2 260.7,149.7 262,150 266,150.6 277.7,150.7 280,150.7 288.1,151.3 302.5,152.1 318,152.6 330.8,153.5 336,153.5" stroke="#a9a9ae" stroke-opacity="0.53" stroke-width="0.5" stroke-dasharray="18.1,1.9,11.9,1.8,17.9,1.1,26.0,1.8" stroke-dashoffset="3"/>
<path d="M48,151.3 55.5,149.7 67.2,147.7 81.8,144.8 90,143.1 94.2,143.7 110.1,144.9 119,145.2 120,145.6 124.9,146.2 134.7,148 147.3,150.4 163.5,153.6 165,153.8 176.1,154.9 180,155.5 190,152.3 192.4,150.4 198,146 200,144.3 205,138.6 207,136.3 209.5,134 211,132.4 213,130.7 219,128.1 226,129 227,129.6 233,133.7 241,140.7 242,141.7 243.1,142.5 250,147.1 252,148.5 256.5,149.7 261,150.7 266,151.4 270.4,151.5 280,151.4 280.9,151.8 287,152.4 293.2,152.6 305.2,152.9 321.7,153.9 336,154.4" stroke="#d6d4dc" stroke-opacity="0.58" stroke-width="0.7" stroke-dasharray="21.0,1.5,16.5,1.7,33.0,2.1,31.8,1.9" stroke-dashoffset="18"/>
<path d="M48,151.7 61.2,149.6 72.9,147.6 86.9,145.2 90,144.7 99.5,144.9 116.4,146.2 119,145.9 120,146.3 128.1,147.8 144.5,150.7 159.6,153.8 165,154.8 171.5,155.7 180,156.4 185.9,154.2 190,153 198,147 200,144.9 203.2,140.9 205,138.8 207,137 211,133.2 213,131.3 215.3,130.4 219,128.8 226,130.2 233,134.7 233.5,135.5 241,141.1 242,142.1 250,148.4 251.5,149.1 252,149 261,152.1 261.8,151.9 266,152.6 278.5,152.5 280,152.8 287,153.8 289.9,153.7 306.2,154.7 320.7,155 336,156.1" stroke="#b9ad93" stroke-opacity="0.57" stroke-width="0.9" stroke-dasharray="15.1,1.3,8.9,1.0,33.9,1.6,18.5,1.2" stroke-dashoffset="21"/>
<path d="M48,152.6 50.7,152.4 68.5,149.1 78.5,147.6 90,145.3 96.1,145.9 109.3,146.7 119,147.1 120,147.5 122.8,148 136.8,150.2 148.6,152.6 165,155.8 166.1,155.5 180,156.9 180.3,156.5 190,153.8 194.7,150.2 198,148.2 200,145.9 205,139.2 207,137.2 211,134.1 211.8,133.4 213,132.4 219,129.6 226,131.2 227.1,132 233,135.9 241,142.3 242,143 244,144.3 250,149.2 252,149.9 254.8,150.7 261,153.2 266,153.5 267.1,153.7 278.7,153.6 280,153.7 287,155.5 292.8,155.8 304.8,155.8 322.1,156.3 333.7,157 336,156.9" stroke="#dcdce2" stroke-opacity="0.49" stroke-width="0.7" stroke-dasharray="7.1,2.6,29.2,3.0,16.8,2.1,26.6,2.2" stroke-dashoffset="23"/>
<path d="M48,153.7 49.6,153.3 66.4,150.4 76.8,148.8 89,146.6 90,146.5 100.4,147.3 116.7,148.4 119,148.2 120,148.3 131.6,150.4 145.1,153.2 161.7,156.2 165,156.9 172.8,157.4 180,157.4 183.5,156.6 190,154.6 198,149.1 198.4,148.9 200,146.8 205,140.1 207,138.5 209.6,136.4 211,135.1 213,133.7 219,130.2 226,132.6 226.6,132.8 233,137.8 241,143.1 242,144.2 244.4,146.1 250,150 252,150.9 260.1,154.4 261,154.3 266,154.5 270.5,155.1 280,154.8 283.8,156.3 287,157.2 294.2,157.7 310.3,157.9 322.6,158 333.3,158.6 336,158.3" stroke="#7c7c84" stroke-opacity="0.47" stroke-width="0.8" stroke-dasharray="9.1,0.8,26.2,1.6,34.6,2.5,28.7,2.1" stroke-dashoffset="7"/>
<path d="M48,155.1 56.1,153.6 71.5,151 83.5,148.5 90,147.9 97.2,147.9 107.6,148.6 120,149 123.1,149.7 136.5,152.6 148.1,154.3 163.9,157.4 165,157.7 180,158.5 180.4,158.2 190,155.8 192,154.5 198,150 199,148.8 201.9,145 205,140.9 211,135.9 216.6,132.3 219,131 226,133.5 233,138.9 234.4,139.8 241,144.1 242,145.1 244.9,147.1 250,151.4 261,155.8 261.5,156 276.3,156.2 280,156.2 287,158.7 292.1,158.5 302,159.1 315.1,159.3 325.3,159.6 336,159.6" stroke="#e6e6e8" stroke-opacity="0.49" stroke-width="0.9" stroke-dasharray="27.4,1.4,28.3,1.3,18.7,2.3,35.4,1.9" stroke-dashoffset="27"/>
<path d="M48,155.7 49.5,155.4 67.2,152.1 84.4,148.7 90,147.8 94.4,148 112.2,149.2 120,149.3 127.2,151.1 138.3,152.6 148.4,154.8 160.7,156.8 165,157.6 174.7,158.6 180,159.1 189.2,156.1 190,155.7 192,154.6 198,150.4 199,149.3 205,141.6 205.6,140.9 211,136.4 215.8,133.3 219,131.6 226,134.1 229.7,137 233,139.4 241,144.8 242,145.9 247.9,150.1 250,151.4 261,156.3 264.6,156.5 275.5,157.2 280,157.2 287,159.3 289,159 301.3,159.5 319.2,159.8 335.1,160.1 336,160" stroke="#97805a" stroke-opacity="0.35" stroke-width="0.8" stroke-dasharray="7.7,1.5,23.3,2.7,26.0,3.0,32.7,3.0" stroke-dashoffset="26"/>
<path d="M48,157 52.6,156 63.9,153.4 79.6,150.3 90,148.6 95.6,148.8 108.8,149.1 120,150.2 125.5,150.8 140.7,153.6 157.4,157.2 165,158.6 167.2,158.3 180,159.6 184.1,158.6 190,156.9 192,155.8 198,151.6 199,150.6 201.2,147.4 205,142.6 211,137 213,135.8 219,132.4 226,134.8 229.9,137.8 233,140.3 241,146.1 241.9,146.7 242,146.4 250,151.9 258.8,156 261,156.7 275.6,158.2 280,159 287,160.4 292.4,160.1 303,160.2 314.4,160 328.8,160.4 336,160.6" stroke="#8c7350" stroke-opacity="0.59" stroke-width="0.8" stroke-dasharray="20.7,2.4,12.0,1.5,13.9,0.9,14.3,2.6" stroke-dashoffset="22"/>
<path d="M48,158.1 53.6,156.8 64.4,154.8 78.5,151.8 90,149 90.7,149 105.8,150.1 120,150.4 122.8,151.3 135.6,153.8 148.2,155.9 164.9,159.3 165,158.9 180,160.5 181.9,159.7 190,157.6 192,156.3 197.6,152.6 198,152 199,151.6 205,143.6 210.2,138.2 211,137.4 219,133.4 226,135.4 227.7,136.8 233,140.7 238.1,144.7 241,146.9 242,147.9 250,152.6 256.2,155.4 261,158 272.1,159.2 280,160 282.4,160.4 287,161.2 293.6,161.2 310.1,161 327.7,161.3 336,160.8" stroke="#7c7c84" stroke-opacity="0.42" stroke-width="0.8" stroke-dasharray="18.2,1.9,38.8,1.2,22.7,1.2,32.1,2.8" stroke-dashoffset="9"/>
<path d="M48,158.9 55,157.4 69.3,154.2 86.4,150.5 90,149.5 102.4,149.8 117.9,150.7 120,151 131,152.8 147.3,155.9 160.2,158.5 165,159.6 172.4,160.2 180,161.1 182.6,159.8 190,158.1 192,156.9 198,153 199,152.1 205,144.4 211,137.6 211.6,137.7 219,133.3 226,136 227.6,136.9 233,141.7 239.2,146.1 241,147.4 242,148.3 250,153.3 253.2,154.6 261,158.5 271.1,160.2 280,161.7 287,161.9 287.6,161.9 304.5,161.8 321.5,161.5 336,161.4" stroke="#e6e6e8" stroke-opacity="0.57" stroke-width="0.8" stroke-dasharray="38.7,2.6,21.9,2.5,36.3,1.9,16.8,2.2" stroke-dashoffset="25"/>
<path d="M48,160.2 58,157.6 73,154 84.1,151.7 90,150.3 100.1,150.9 114.9,151.1 120,151.4 130.8,153.8 144.4,156.1 154.5,158.3 165,160.3 166.5,160.4 180,162 181.3,161.5 190,159.1 192,158.5 192.4,158 198,154.1 199,153.4 204.9,145.5 205,145.6 211,138.5 218.1,135.4 219,135 226,136.6 229.1,139.4 233,142.8 241,148.9 241.3,148.8 242,149.6 250,153.9 254.9,156.6 261,159.9 272.3,161.5 280,163.2 287,163.2 288.2,163.1 298.8,162.8 311.9,162.7 328.5,162.2 336,162.4" stroke="#8c7350" stroke-opacity="0.39" stroke-width="0.7" stroke-dasharray="12.4,2.4,34.6,2.7,23.5,2.2,18.1,2.0" stroke-dashoffset="3"/>
<path d="M48,161.1 60.2,157.9 73.6,154.7 87.4,151.7 88,151.6 90,151.2 98.1,151.6 112.2,151.9 120,152.4 123.6,153.1 141.7,156.2 148,157.4 152.1,158.4 164.9,161 165,161.1 175.4,162.1 180,162.6 186.9,160.5 190,159.7 192,158.6 199,154.2 200,152.9 200.9,151.8 205,146.8 207,143.9 211,139.5 211.2,139.6 214,137.7 219,135.4 220,135.5 226,137.6 226.4,137.8 228,138.9 233,143.2 236,145.8 241.2,150 242,150.8 245,152.6 257.4,158.7 261,160.3 262,160.7 270.1,162.5 280,163.9 285.3,164 297.9,163.6 313.5,163.5 331.6,162.9 336,162.7" stroke="#9c8a68" stroke-opacity="0.34" stroke-width="0.6" stroke-dasharray="38.6,2.5,28.8,1.4,32.0,2.1,30.9,2.4" stroke-dashoffset="4"/>
<path d="M48,161.2 58.4,158.9 68.7,156.7 85.5,152.5 88,151.8 90,151.8 103.6,152.3 119.7,152.5 120,152.7 134.5,155.4 146.8,157.6 148,157.7 160,160.1 165,160.7 171.9,161.9 180,162.9 186.5,160.8 190,159.8 192,159.2 199,154.4 200,153.4 203.3,149 205,146.9 207,144.4 211,140.1 214,137.8 218,135.8 219,135.4 220,135.9 226,137.7 228,139.5 229,140 233,143.9 236,146.2 242,151.7 244.3,152.5 245,153.5 261,161.1 261.4,161.1 262,161.3 271.9,162.6 280,164.1 285.9,164.3 303.5,163.7 316.5,163.4 327.9,163.4 336,163.3" stroke="#6f6a66" stroke-opacity="0.31" stroke-width="1.0" stroke-dasharray="38.9,1.0,17.0,2.9,15.7,2.4,33.3,0.8" stroke-dashoffset="14"/>
<path d="M48,162 52.6,161.2 69.3,157.3 79.8,154.8 88,153 90,152.4 95.2,152.5 105.2,153.2 120,153.8 120.1,154 133.9,156.1 148,158.5 151.5,159.5 165,161.8 169.6,161.8 180,163.3 186.3,161.4 190,160.3 192,160.2 199,155.7 200,154.9 202,151.9 205,147.8 207,145.5 211,140.8 214,138.6 215,138.3 219,136.1 220,136.5 226,138 228,140 229.7,141.3 233,144.6 236,147.6 242,152.5 243.1,153.2 245,155 259.1,161.3 261,162.1 262,162.2 277.1,164.6 280,165.2 292.5,165 303.5,164.4 317.9,164.3 332.2,164.2 336,163.9" stroke="#7c7c84" stroke-opacity="0.41" stroke-width="0.7" stroke-dasharray="39.6,2.6,26.3,1.0,10.4,2.4,18.5,2.3" stroke-dashoffset="4"/>
<path d="M48,163.3 57.6,161 71.7,157.8 82.4,155.4 88,154 90,154 93.3,153.9 105.2,154.7 118.3,154.9 120,154.9 132.6,157.2 148,159.8 150.4,160 161.8,161.7 165,162.1 173.2,163.3 180,163.7 187.5,162.4 190,161.6 192,161.2 199,156.8 199.1,157.1 200,155.8 205,149.6 207,146.5 209,144.5 211,141.7 214,139.9 219,137.2 220,137.4 223,138.3 226,139.4 228,140.7 233,145.7 236,148.6 236.3,148.5 242,154.1 245,156.3 251.6,159.1 261,163.1 262,163.1 265.6,164 276.1,165.4 280,166.2 289.6,166.2 300.1,165.8 310.6,165.7 327.6,165.5 336,165.4" stroke="#97805a" stroke-opacity="0.45" stroke-width="0.8" stroke-dasharray="14.6,2.4,14.6,1.5,21.1,0.8,33.9,0.8" stroke-dashoffset="4"/>
<path d="M48,163.1 60.6,160.4 76.9,156.7 86.8,154.4 88,154.1 90,153.9 98.5,154.2 111.8,154.9 120,155.7 121.7,155.7 133.5,157.3 146.2,159.8 148,159.6 164.2,162.1 165,162.1 174.5,163.5 180,163.8 190,161.8 190.1,161.8 192,161.4 199,157.6 200,156.7 201.7,154.2 205,149.8 207,146.9 211,142.3 214,139.7 216.8,138 219,137.1 220,137.5 226,139.3 226.7,139.7 228,141.2 233,145.9 236,148.9 242,154.8 242.8,155.4 245,157.2 260.3,163.6 261,163.6 262,163.9 270.7,165 280,166 288.6,166.3 305.7,166.1 318.1,165.4 331.9,165.2 336,165.5" stroke="#a0885f" stroke-opacity="0.47" stroke-width="0.8" stroke-dasharray="15.4,2.0,16.6,0.8,24.2,2.7,28.6,1.8" stroke-dashoffset="25"/>
<path d="M48,163.8 48.7,163.7 60.3,161 73.2,158.2 83.1,156.3 88,155.3 90,154.8 93.7,155.1 110.2,155.9 120,156.4 124,156.9 139.3,159 148,160.4 150.6,160.8 165,162.5 168.1,163 180,164.1 185.6,163.3 190,162.2 192,162.1 198.2,158.8 199,158.3 200,157.4 205,150.3 207,147.8 209.7,144.3 211,142.8 214,139.9 219,137.4 220,138 222.4,138.3 226,139.8 228,141.3 233,146.9 234.6,148.2 236,149.5 242,155.9 245,158.6 247.6,159.7 261,164.5 262,164.3 263.2,165 279.4,166.9 280,166.5 296.8,166.7 311.7,166.5 328.4,166.3 336,166.2" stroke="#97805a" stroke-opacity="0.57" stroke-width="0.9" stroke-dasharray="26.5,2.7,28.5,1.6,38.2,1.7,9.6,2.8" stroke-dashoffset="11"/>
<path d="M48,164.5 59.1,162 76.4,158.3 88,155.7 90,155.4 92.7,155.6 108.3,156.4 120,157.1 120.9,157.1 134.9,159.1 148,160.8 164.6,162.9 165,163.2 177.1,164.2 180,164.6 190,162.9 190.5,163 192,162.4 199,159.1 200,158.2 205,151.2 206.9,149.1 207,148.5 211,143.2 214,140.8 217.6,138.7 219,138 220,138 226,140.3 228,141.8 233,147.2 234,148.3 236,150.7 242,157 245,160.1 248.5,161.2 261,165.5 262,165.4 264,165.6 279.5,167.3 280,167.6 291.3,166.9 308.6,167.1 323.6,167 336,166.7" stroke="#8c7350" stroke-opacity="0.41" stroke-width="1.0" stroke-dasharray="22.1,1.1,24.1,1.4,16.5,2.8,36.6,2.1" stroke-dashoffset="19"/>
<path d="M48,165.9 57.3,163.5 70.9,160.5 87.1,157 88,156.8 90,157 102,157.5 120,158.3 120.2,158.6 136.7,160.5 148,161.8 154,162.4 164.1,164 165,164.1 177.8,165.1 180,165.4 188.9,164.3 190,163.6 192,163.2 199,160.4 200,159.7 201.2,157.9 205,152.4 207,149.6 211,144.8 211.6,144 214,141.5 219,139.2 220,139.1 226,141.5 228,142.8 228.7,143.3 233,148.2 236,151.6 242,158.6 242.4,158.7 245,161.7 256.8,164.9 261,166.3 262,166.5 273.6,167.4 280,168 289.9,168 306.9,167.6 317.1,167.9 327.7,167.8 336,167.4" stroke="#e2e2e6" stroke-opacity="0.53" stroke-width="0.7" stroke-dasharray="30.7,2.0,36.5,1.3,17.3,2.3,11.3,2.0" stroke-dashoffset="1"/>
<path d="M48,166.4 49.8,166.1 67.5,162.1 81.6,159 88,158 90,157.9 91.9,158 102.2,158.5 112.3,159.1 120,159.5 125.2,159.8 141.7,162.1 148,162.5 153.7,163 164.4,164.5 165,164.2 175.9,165 180,165.8 190,164.6 191.9,164.3 192,164.3 199,161 200,160.5 205,153.5 206.7,151.3 207,150.8 211,145.2 214,142.4 219,139.6 220,139.4 223.8,140.8 226,142.1 228,143 233,149 236,152.5 239.3,156.2 242,159.6 245,162.8 252.1,165 261,167.6 262,167.3 267.7,167.9 280,169 282.3,168.7 299.6,168.6 317.1,168.5 329.9,168.2 336,168.3" stroke="#97805a" stroke-opacity="0.43" stroke-width="0.8" stroke-dasharray="11.5,2.3,33.8,1.8,7.9,1.5,35.2,3.0" stroke-dashoffset="11"/>
<path d="M48,166.8 48.2,166.6 65.3,162.9 81,160 88,158.1 90,158.5 91.2,158.2 105.2,159.2 118,160.1 120,159.8 136.1,161.9 148,162.9 150.7,163.3 165,164.6 168.3,164.9 180,165.8 181.7,165.7 190,164.9 192,164.6 194.4,163.8 199,161.9 200,161.4 205,154 207,151 208.6,149.1 211,145.6 214,142.3 219,140.2 219.2,139.7 220,139.6 226,142.3 228,143.5 232.4,149 233,149.3 236,152.9 242,160.2 244.8,163.4 245,163.8 256.1,166.8 261,168.1 262,167.8 272.9,168.8 280,169 287.5,169.1 303.4,168.8 318.3,168.7 330,169 336,168.9" stroke="#97805a" stroke-opacity="0.52" stroke-width="0.7" stroke-dasharray="7.7,2.1,19.3,1.8,19.3,2.2,32.5,1.3" stroke-dashoffset="0"/>
<path d="M48,167.7 59.7,165.1 75.8,162.3 88,159.7 90,159.4 90.9,159.2 100.7,159.8 114.1,161.1 120,161.2 126.9,161.7 136.9,162.6 148,164.1 151,164.3 165,165.6 167.4,165.5 179.5,166.1 180,166.7 190,165.7 192,165.4 197.2,163.5 199,163.5 200,162.9 205,155.2 207,152.5 211,146.6 214,143.3 215.1,143 219,141 220,140.4 226,143.1 228,144.6 233,150.4 233.1,150.8 236,154.3 242,162.2 245,165.6 249.3,166.3 261,169.3 262,169.5 267,169.3 280,170.3 281.2,170 295.8,169.9 307,169.9 319.3,169.8 331.3,169.6 336,169.7" stroke="#7a7064" stroke-opacity="0.46" stroke-width="0.8" stroke-dasharray="31.8,2.8,38.7,2.7,8.8,0.9,25.3,2.8" stroke-dashoffset="24"/>
<path d="M48,168.8 57.1,166.7 70.2,164.1 84.2,160.9 88,160.6 90,160.6 95.9,160.6 109.4,161.5 120,162.3 126.2,162.4 138.3,163.6 148,164.4 150.5,164.7 165,166.1 167.1,165.8 179.4,166.9 180,166.6 189.4,166.4 190,166.8 192,166.2 199,164 200,163.9 203.7,158.2 205,156.4 207,153.3 211,147.5 214,143.6 219,141.2 219.5,140.9 220,141.2 226,143.7 228,144.8 233,151.1 234.4,153.2 236,155.3 242,162.9 245,166.7 247.4,167.3 261,170.1 262,170.2 264.8,170 275.4,170.3 280,170.6 285.4,171 300.7,170.9 312.7,170.8 327.4,170.8 336,170.4" stroke="#e2e2e6" stroke-opacity="0.62" stroke-width="1.0" stroke-dasharray="36.4,1.9,30.7,1.5,30.9,2.7,37.7,1.1" stroke-dashoffset="22"/>
<path d="M48,168.8 54.1,167.8 65.7,165.1 81.9,162 88,160.5 90,161.1 99.9,161.6 117,162.4 120,162.9 131.7,163.8 141.9,164.7 148,165 160,166 165,166.2 173.2,166.7 180,167.2 184.8,167.1 190,167.2 192,166.9 197.6,165.1 199,164.6 200,164.3 205,157 207,153.7 211,147.9 213.5,144.6 214,143.9 219,141.4 220,141.4 223.4,142.7 226,144.1 228,145.3 233,152.1 233.9,153 236,155.4 242,164.1 244.2,167 245,168 254.7,169.4 261,170.5 262,170.6 271.1,170.6 280,171.3 281.9,171.1 299.7,171.2 312.2,170.7 329.9,170.9 336,171" stroke="#e6e6e8" stroke-opacity="0.50" stroke-width="0.6" stroke-dasharray="8.0,2.4,23.9,2.1,38.6,1.5,12.1,1.7" stroke-dashoffset="28"/>
<path d="M48,170.1 60.5,167.2 75,164.4 88,161.9 90,162.1 91.1,161.7 103.5,163 117.1,163.9 120,163.7 128.7,164.3 143.5,165.2 148,165.9 159.9,166.4 165,166.6 174.4,167 180,167.7 190,167.5 191.4,167.8 192,167.2 199,165.8 200,165.5 203.2,160.4 205,157.6 207,154.5 211,148.8 214,144.7 219,142.2 219.7,142.1 220,142.1 226,144.8 228,146.1 233,152.6 235.4,156.1 236,156.5 242,165.2 245,169.3 252.5,170.4 261,171.6 262,172 266.9,171.9 279.3,171.8 280,171.7 292.3,172 308.1,171.9 320.4,172.1 336,172" stroke="#97805a" stroke-opacity="0.33" stroke-width="0.7" stroke-dasharray="16.4,1.3,19.1,1.3,22.3,1.4,23.9,3.0" stroke-dashoffset="1"/>
<rect x="48" y="21" width="288" height="4.5" fill="#c3c3c3"/>
<rect x="227.4" y="24.6" width="3" height="1" fill="#b0b0b0" fill-opacity="0.64"/>
<rect x="271.5" y="22.9" width="1.1" height="0.6" fill="#a8a8a8" fill-opacity="0.49"/>
<rect x="119" y="23.9" width="2.4" height="0.5" fill="#d8d8d8" fill-opacity="0.46"/>
<rect x="100.4" y="25" width="2" height="0.9" fill="#b0b0b0" fill-opacity="0.36"/>
<rect x="225.8" y="22.4" width="1" height="0.9" fill="#d8d8d8" fill-opacity="0.61"/>
<rect x="324.5" y="22.6" width="1.4" height="0.7" fill="#d8d8d8" fill-opacity="0.52"/>
<rect x="243.2" y="22.7" width="3.4" height="0.8" fill="#e0e0e0" fill-opacity="0.42"/>
<rect x="152" y="22.6" width="1.4" height="0.5" fill="#a8a8a8" fill-opacity="0.63"/>
<rect x="216.8" y="24.1" width="2.8" height="0.5" fill="#a8a8a8" fill-opacity="0.63"/>
<rect x="186.5" y="23.1" width="2.2" height="0.9" fill="#b0b0b0" fill-opacity="0.40"/>
<rect x="318.4" y="25.3" width="1.9" height="0.7" fill="#e0e0e0" fill-opacity="0.45"/>
<rect x="214.6" y="22" width="1.1" height="0.6" fill="#d8d8d8" fill-opacity="0.35"/>
<rect x="118.9" y="24.9" width="2.2" height="0.8" fill="#a8a8a8" fill-opacity="0.61"/>
<rect x="79.1" y="24.6" width="3" height="0.9" fill="#b0b0b0" fill-opacity="0.47"/>
<rect x="329.8" y="22.7" width="2.3" height="0.7" fill="#d8d8d8" fill-opacity="0.44"/>
<rect x="314.2" y="23.9" width="1.8" height="0.7" fill="#d8d8d8" fill-opacity="0.62"/>
<rect x="228.5" y="24.5" width="1.8" height="0.7" fill="#b0b0b0" fill-opacity="0.33"/>
<rect x="221" y="25.2" width="1.1" height="0.9" fill="#a8a8a8" fill-opacity="0.63"/>
<rect x="179.2" y="23.5" width="1.1" height="1" fill="#b0b0b0" fill-opacity="0.62"/>
<rect x="144.2" y="22.7" width="3.5" height="0.8" fill="#d8d8d8" fill-opacity="0.55"/>
<rect x="274.9" y="22.4" width="2.1" height="0.6" fill="#e0e0e0" fill-opacity="0.42"/>
<rect x="178.5" y="25.5" width="3.1" height="1" fill="#e0e0e0" fill-opacity="0.68"/>
<rect x="246.4" y="23.1" width="1.7" height="0.7" fill="#d8d8d8" fill-opacity="0.35"/>
<rect x="284.8" y="23.9" width="1.4" height="1" fill="#a8a8a8" fill-opacity="0.37"/>
<rect x="189.7" y="23.8" width="2.4" height="0.8" fill="#b0b0b0" fill-opacity="0.61"/>
<rect x="271.2" y="24.4" width="2.7" height="0.9" fill="#a8a8a8" fill-opacity="0.52"/>
<rect x="240.5" y="24.9" width="1.7" height="1" fill="#a8a8a8" fill-opacity="0.68"/>
<rect x="145.9" y="22.6" width="3.1" height="0.7" fill="#a8a8a8" fill-opacity="0.43"/>
<rect x="126.8" y="23" width="2.3" height="0.8" fill="#a8a8a8" fill-opacity="0.44"/>
<rect x="233.5" y="24.6" width="3.1" height="0.7" fill="#d8d8d8" fill-opacity="0.65"/>
<rect x="246.2" y="25.4" width="3.4" height="0.8" fill="#d8d8d8" fill-opacity="0.38"/>
<rect x="152.3" y="25" width="1.7" height="0.5" fill="#e0e0e0" fill-opacity="0.37"/>
<rect x="272.7" y="24" width="2.7" height="0.7" fill="#a8a8a8" fill-opacity="0.59"/>
<rect x="56" y="22.6" width="2.1" height="0.8" fill="#d8d8d8" fill-opacity="0.60"/>
<rect x="100" y="24.5" width="3.5" height="1" fill="#d8d8d8" fill-opacity="0.32"/>
<rect x="86.5" y="23.1" width="1.5" height="0.6" fill="#b0b0b0" fill-opacity="0.47"/>
<rect x="149.1" y="24.3" width="1.2" height="0.6" fill="#a8a8a8" fill-opacity="0.30"/>
<rect x="164.7" y="23" width="2" height="0.6" fill="#a8a8a8" fill-opacity="0.69"/>
<rect x="206.4" y="23.1" width="1.7" height="0.8" fill="#a8a8a8" fill-opacity="0.68"/>
<rect x="283.7" y="23.5" width="3" height="0.8" fill="#a8a8a8" fill-opacity="0.49"/>
<rect x="93.2" y="23.3" width="2.2" height="0.6" fill="#d8d8d8" fill-opacity="0.54"/>
<rect x="149.1" y="25.1" width="1" height="0.6" fill="#d8d8d8" fill-opacity="0.43"/>
<rect x="300.4" y="24" width="2.1" height="1" fill="#e0e0e0" fill-opacity="0.42"/>
<rect x="328.1" y="23.3" width="3.4" height="1" fill="#a8a8a8" fill-opacity="0.60"/>
<rect x="134.6" y="22.9" width="1" height="1" fill="#a8a8a8" fill-opacity="0.50"/>
<rect x="130.5" y="23.7" width="1.3" height="0.8" fill="#e0e0e0" fill-opacity="0.40"/>
<rect x="59.5" y="22.5" width="2" height="0.7" fill="#a8a8a8" fill-opacity="0.40"/>
<rect x="184.6" y="22.1" width="2.2" height="0.9" fill="#a8a8a8" fill-opacity="0.42"/>
<rect x="223.1" y="23.7" width="2.6" height="0.8" fill="#b0b0b0" fill-opacity="0.31"/>
<rect x="84.3" y="23" width="2.8" height="0.8" fill="#b0b0b0" fill-opacity="0.49"/>
<rect x="152" y="24.6" width="2.5" height="0.5" fill="#a8a8a8" fill-opacity="0.52"/>
<rect x="245.5" y="22.4" width="2.7" height="0.6" fill="#e0e0e0" fill-opacity="0.61"/>
<rect x="171.2" y="24" width="2.8" height="0.8" fill="#e0e0e0" fill-opacity="0.64"/>
<rect x="290.3" y="23.7" width="2.7" height="0.9" fill="#a8a8a8" fill-opacity="0.49"/>
<rect x="266.4" y="23.1" width="1" height="0.9" fill="#a8a8a8" fill-opacity="0.56"/>
<rect x="184.1" y="23.1" width="1.4" height="0.8" fill="#e0e0e0" fill-opacity="0.69"/>
<rect x="202.9" y="23.5" width="2.4" height="0.5" fill="#d8d8d8" fill-opacity="0.41"/>
<rect x="72.5" y="22.2" width="3.4" height="0.7" fill="#e0e0e0" fill-opacity="0.69"/>
<rect x="335.5" y="24.5" width="1.1" height="0.9" fill="#d8d8d8" fill-opacity="0.55"/>
<rect x="285.4" y="22.4" width="3.2" height="1" fill="#e0e0e0" fill-opacity="0.36"/>
<rect x="276.5" y="31.7" width="2.2" height="0.6" fill="#a8895a" fill-opacity="0.46"/>
<rect x="216.9" y="32.7" width="2.8" height="0.7" fill="#a8895a" fill-opacity="0.51"/>
<rect x="279" y="31" width="2" height="0.8" fill="#a8895a" fill-opacity="0.48"/>
<rect x="207.4" y="31.5" width="1.7" height="0.9" fill="#a8895a" fill-opacity="0.74"/>
<rect x="144.6" y="26.2" width="3" height="0.9" fill="#d8c8a8" fill-opacity="0.68"/>
<rect x="265.6" y="30.8" width="3" height="0.5" fill="#a8895a" fill-opacity="0.64"/>
<rect x="105.9" y="30.4" width="1.9" height="1" fill="#c2a070" fill-opacity="0.61"/>
<rect x="233.6" y="30.7" width="3" height="1" fill="#a8895a" fill-opacity="0.65"/>
<rect x="118.5" y="28.7" width="1.9" height="0.6" fill="#b09060" fill-opacity="0.75"/>
<rect x="199.3" y="26.4" width="2.7" height="0.7" fill="#c2a070" fill-opacity="0.55"/>
<rect x="112.1" y="30" width="3.1" height="0.9" fill="#b09060" fill-opacity="0.41"/>
<rect x="272.1" y="25.6" width="1.8" height="1" fill="#b09060" fill-opacity="0.65"/>
<rect x="155.9" y="29.5" width="1.7" height="0.8" fill="#d8c8a8" fill-opacity="0.42"/>
<rect x="169.8" y="31.1" width="2" height="1" fill="#c2a070" fill-opacity="0.72"/>
<rect x="73.6" y="30" width="3.2" height="0.7" fill="#d8c8a8" fill-opacity="0.72"/>
<rect x="196.8" y="29" width="2.8" height="0.7" fill="#a8895a" fill-opacity="0.48"/>
<rect x="243.9" y="28.9" width="2.8" height="1" fill="#a8895a" fill-opacity="0.41"/>
<rect x="83.6" y="29.9" width="1.9" height="0.6" fill="#d8c8a8" fill-opacity="0.53"/>
<rect x="196.9" y="32.9" width="3.3" height="0.7" fill="#d8c8a8" fill-opacity="0.51"/>
<rect x="184.7" y="29.1" width="1.4" height="0.7" fill="#8c7350" fill-opacity="0.65"/>
<rect x="182.6" y="28.2" width="1.4" height="1" fill="#b09060" fill-opacity="0.55"/>
<rect x="221.7" y="27.9" width="2" height="0.7" fill="#c2a070" fill-opacity="0.77"/>
<rect x="131.7" y="25.5" width="2.1" height="0.5" fill="#a8895a" fill-opacity="0.64"/>
<rect x="212.1" y="30.6" width="1.9" height="1" fill="#d8c8a8" fill-opacity="0.74"/>
<rect x="65.9" y="26.9" width="3.4" height="0.8" fill="#d8c8a8" fill-opacity="0.72"/>
<rect x="278.4" y="29.4" width="1.2" height="0.6" fill="#8c7350" fill-opacity="0.54"/>
<rect x="89.7" y="30.2" width="2.5" height="0.6" fill="#a8895a" fill-opacity="0.69"/>
<rect x="61" y="29.1" width="2.8" height="0.5" fill="#a8895a" fill-opacity="0.68"/>
<rect x="84.6" y="31.7" width="1.2" height="0.8" fill="#8c7350" fill-opacity="0.76"/>
<rect x="305.3" y="28.9" width="2.7" height="0.9" fill="#c2a070" fill-opacity="0.73"/>
<rect x="102.4" y="32.5" width="2.2" height="0.7" fill="#b09060" fill-opacity="0.51"/>
<rect x="253.2" y="26" width="3" height="1" fill="#8c7350" fill-opacity="0.54"/>
<rect x="57.8" y="29.3" width="1.7" height="0.6" fill="#d8c8a8" fill-opacity="0.57"/>
<rect x="313.6" y="25.7" width="1.2" height="0.9" fill="#c2a070" fill-opacity="0.61"/>
<rect x="57.4" y="26.8" width="1.9" height="0.5" fill="#c2a070" fill-opacity="0.68"/>
<rect x="146.9" y="26.1" width="2.8" height="0.6" fill="#b09060" fill-opacity="0.45"/>
<rect x="262" y="30.3" width="1.3" height="0.7" fill="#a8895a" fill-opacity="0.47"/>
<rect x="251.9" y="26.9" width="2.8" height="0.8" fill="#d8c8a8" fill-opacity="0.72"/>
<rect x="320.2" y="30.7" width="2.8" height="0.6" fill="#c2a070" fill-opacity="0.70"/>
<rect x="334.1" y="29.7" width="1" height="0.9" fill="#d8c8a8" fill-opacity="0.48"/>
<rect x="141.7" y="28.4" width="2.1" height="0.7" fill="#b09060" fill-opacity="0.62"/>
<rect x="238.7" y="30.9" width="2.6" height="0.9" fill="#8c7350" fill-opacity="0.51"/>
<rect x="101.3" y="26.6" width="2.7" height="0.6" fill="#a8895a" fill-opacity="0.42"/>
<rect x="59.5" y="31.2" width="1.3" height="0.9" fill="#a8895a" fill-opacity="0.67"/>
<rect x="219.5" y="25.9" width="1.6" height="0.7" fill="#b09060" fill-opacity="0.68"/>
<rect x="321.9" y="26.2" width="1.2" height="0.8" fill="#a8895a" fill-opacity="0.47"/>
<rect x="238.5" y="26.4" width="1.3" height="1" fill="#a8895a" fill-opacity="0.67"/>
<rect x="56.8" y="31.8" width="3.5" height="0.7" fill="#8c7350" fill-opacity="0.50"/>
<rect x="114.8" y="31.6" width="2.6" height="0.8" fill="#c2a070" fill-opacity="0.51"/>
<rect x="51.8" y="29.5" width="2.8" height="1" fill="#8c7350" fill-opacity="0.71"/>
<rect x="75" y="30" width="1.1" height="0.7" fill="#a8895a" fill-opacity="0.49"/>
<rect x="267.7" y="28.2" width="2.7" height="0.7" fill="#a8895a" fill-opacity="0.54"/>
<rect x="56.8" y="28" width="2.2" height="0.7" fill="#8c7350" fill-opacity="0.44"/>
<rect x="218.1" y="27.5" width="1.3" height="0.7" fill="#c2a070" fill-opacity="0.50"/>
<rect x="238.9" y="32.9" width="2.1" height="0.8" fill="#d8c8a8" fill-opacity="0.77"/>
<rect x="120.9" y="27.7" width="1.1" height="0.9" fill="#a8895a" fill-opacity="0.72"/>
<rect x="213.9" y="32.6" width="3" height="0.8" fill="#a8895a" fill-opacity="0.46"/>
<rect x="161.2" y="29.1" width="3.2" height="0.9" fill="#b09060" fill-opacity="0.72"/>
<rect x="183.5" y="31.8" width="3.2" height="0.6" fill="#d8c8a8" fill-opacity="0.75"/>
<rect x="294.2" y="28" width="1.6" height="0.6" fill="#8c7350" fill-opacity="0.64"/>
<rect x="243.4" y="27.2" width="3" height="0.6" fill="#d8c8a8" fill-opacity="0.65"/>
<rect x="269.3" y="32.4" width="1.2" height="0.7" fill="#c2a070" fill-opacity="0.70"/>
<rect x="311" y="26.6" width="3.3" height="0.5" fill="#b09060" fill-opacity="0.71"/>
<rect x="188.6" y="28.2" width="3.5" height="0.9" fill="#b09060" fill-opacity="0.56"/>
<rect x="126.6" y="30.5" width="3.4" height="0.6" fill="#a8895a" fill-opacity="0.44"/>
<rect x="221.7" y="30.9" width="1.4" height="0.8" fill="#a8895a" fill-opacity="0.71"/>
<rect x="268.5" y="32.8" width="1.2" height="0.9" fill="#a8895a" fill-opacity="0.49"/>
<rect x="145.4" y="32.8" width="3" height="0.6" fill="#c2a070" fill-opacity="0.49"/>
<rect x="84.1" y="29.1" width="3.3" height="0.8" fill="#b09060" fill-opacity="0.45"/>
<rect x="327.7" y="27" width="1.9" height="0.6" fill="#8c7350" fill-opacity="0.65"/>
<rect x="310.6" y="27.6" width="1" height="0.9" fill="#a8895a" fill-opacity="0.59"/>
<rect x="229.7" y="27.9" width="1" height="0.9" fill="#a8895a" fill-opacity="0.55"/>
<rect x="227.7" y="26.3" width="3.1" height="0.7" fill="#c2a070" fill-opacity="0.55"/>
<rect x="267.4" y="31.1" width="3" height="1" fill="#c2a070" fill-opacity="0.44"/>
<rect x="176.4" y="25.6" width="3.5" height="1" fill="#b09060" fill-opacity="0.59"/>
<rect x="68.3" y="26.4" width="2.8" height="0.9" fill="#c2a070" fill-opacity="0.58"/>
<rect x="121.5" y="29.6" width="1.9" height="0.8" fill="#8c7350" fill-opacity="0.58"/>
<rect x="330.6" y="30.9" width="1.1" height="0.9" fill="#b09060" fill-opacity="0.79"/>
<rect x="199.8" y="31.6" width="2.4" height="0.6" fill="#a8895a" fill-opacity="0.53"/>
<rect x="295.4" y="29.8" width="1.5" height="0.6" fill="#8c7350" fill-opacity="0.69"/>
<rect x="250.3" y="32.1" width="1.5" height="0.9" fill="#b09060" fill-opacity="0.40"/>
<rect x="282.8" y="31.7" width="2.4" height="0.7" fill="#d8c8a8" fill-opacity="0.77"/>
<rect x="111.6" y="28.4" width="2.4" height="0.7" fill="#a8895a" fill-opacity="0.79"/>
<rect x="63.7" y="32.2" width="1.5" height="0.7" fill="#c2a070" fill-opacity="0.66"/>
<rect x="328" y="29.1" width="2.6" height="0.9" fill="#8c7350" fill-opacity="0.61"/>
<rect x="232.4" y="28.2" width="3" height="0.9" fill="#a8895a" fill-opacity="0.80"/>
<rect x="205" y="32.2" width="1.4" height="0.6" fill="#b09060" fill-opacity="0.53"/>
<rect x="239" y="29.3" width="1.2" height="0.6" fill="#d8c8a8" fill-opacity="0.57"/>
<rect x="74.1" y="30.6" width="1.9" height="0.5" fill="#8c7350" fill-opacity="0.54"/>
<rect x="164.2" y="30.8" width="3.1" height="0.5" fill="#a8895a" fill-opacity="0.51"/>
<rect x="190.7" y="31" width="3.2" height="0.6" fill="#a8895a" fill-opacity="0.77"/>
<rect x="271.2" y="29.6" width="2" height="0.6" fill="#8c7350" fill-opacity="0.66"/>
<rect x="296.8" y="32.3" width="1.3" height="0.9" fill="#c2a070" fill-opacity="0.62"/>
<rect x="56.9" y="27.4" width="1.5" height="0.9" fill="#c2a070" fill-opacity="0.76"/>
<rect x="92.3" y="31.9" width="3" height="0.8" fill="#d8c8a8" fill-opacity="0.76"/>
<rect x="184.9" y="29.8" width="2.1" height="1" fill="#d8c8a8" fill-opacity="0.48"/>
<rect x="99.1" y="26.3" width="2.7" height="0.6" fill="#c2a070" fill-opacity="0.64"/>
<rect x="182.1" y="31.3" width="1.7" height="0.9" fill="#c2a070" fill-opacity="0.63"/>
<rect x="113" y="25.7" width="1.6" height="1" fill="#a8895a" fill-opacity="0.77"/>
<rect x="57.9" y="27.9" width="3" height="0.8" fill="#d8c8a8" fill-opacity="0.55"/>
<rect x="151.9" y="30.8" width="1.9" height="1" fill="#d8c8a8" fill-opacity="0.66"/>
<rect x="99.8" y="27.7" width="2.7" height="0.6" fill="#d8c8a8" fill-opacity="0.76"/>
<rect x="94.2" y="29.8" width="2.7" height="0.7" fill="#8c7350" fill-opacity="0.43"/>
<rect x="172.7" y="29.1" width="3.1" height="0.6" fill="#a8895a" fill-opacity="0.59"/>
<rect x="231.7" y="30.3" width="3.1" height="1" fill="#b09060" fill-opacity="0.61"/>
<rect x="335.5" y="26.7" width="1.4" height="0.8" fill="#d8c8a8" fill-opacity="0.63"/>
<rect x="81.1" y="28.1" width="2.6" height="0.8" fill="#b09060" fill-opacity="0.50"/>
<rect x="313.8" y="29.4" width="3.2" height="1" fill="#d8c8a8" fill-opacity="0.54"/>
<rect x="320.2" y="30.1" width="2" height="0.6" fill="#8c7350" fill-opacity="0.42"/>
<rect x="204.2" y="27" width="2.9" height="0.9" fill="#d8c8a8" fill-opacity="0.66"/>
<rect x="209.9" y="29.1" width="3.3" height="0.7" fill="#c2a070" fill-opacity="0.55"/>
<rect x="89.5" y="27.1" width="3.3" height="0.9" fill="#8c7350" fill-opacity="0.57"/>
<rect x="150.8" y="28.3" width="1.9" height="0.9" fill="#8c7350" fill-opacity="0.74"/>
<rect x="261.9" y="32.3" width="1.1" height="0.6" fill="#d8c8a8" fill-opacity="0.79"/>
<rect x="200.2" y="32.4" width="2.7" height="0.8" fill="#a8895a" fill-opacity="0.77"/>
<rect x="319.7" y="30.3" width="2.8" height="0.6" fill="#b09060" fill-opacity="0.67"/>
<rect x="103.6" y="32.9" width="1.2" height="0.8" fill="#d8c8a8" fill-opacity="0.79"/>
<rect x="302.8" y="26.9" width="1.5" height="0.9" fill="#a8895a" fill-opacity="0.49"/>
<rect x="109.6" y="29.8" width="1.4" height="0.5" fill="#8c7350" fill-opacity="0.44"/>
<rect x="195.4" y="27.1" width="1.5" height="0.7" fill="#b09060" fill-opacity="0.62"/>
<rect x="264.4" y="32.4" width="1.2" height="0.9" fill="#b09060" fill-opacity="0.75"/>
<rect x="306.7" y="32.6" width="2.7" height="0.6" fill="#8c7350" fill-opacity="0.57"/>
<rect x="248.8" y="30.4" width="3.4" height="0.6" fill="#8c7350" fill-opacity="0.49"/>
<rect x="172.2" y="31.2" width="2.6" height="0.7" fill="#8c7350" fill-opacity="0.56"/>
<rect x="151.2" y="28.6" width="1.7" height="0.6" fill="#b09060" fill-opacity="0.50"/>
<rect x="104.9" y="29" width="1.4" height="0.8" fill="#c2a070" fill-opacity="0.43"/>
<rect x="202" y="29" width="1" height="0.6" fill="#8c7350" fill-opacity="0.42"/>
<rect x="297.1" y="29.7" width="2.2" height="0.6" fill="#8c7350" fill-opacity="0.45"/>
<rect x="131.5" y="32.9" width="3.3" height="0.6" fill="#c2a070" fill-opacity="0.51"/>
<rect x="140.4" y="31.1" width="2.3" height="0.7" fill="#a8895a" fill-opacity="0.63"/>
<rect x="310.6" y="27.3" width="2.6" height="0.6" fill="#a8895a" fill-opacity="0.57"/>
<rect x="307" y="30.1" width="3" height="1" fill="#b09060" fill-opacity="0.70"/>
<rect x="158.2" y="29.7" width="3.1" height="0.5" fill="#b09060" fill-opacity="0.74"/>
<rect x="222.4" y="29.4" width="1.6" height="0.6" fill="#c2a070" fill-opacity="0.64"/>
<rect x="149.8" y="29.7" width="1.6" height="0.5" fill="#b09060" fill-opacity="0.72"/>
<rect x="178.3" y="26.4" width="3" height="0.5" fill="#8c7350" fill-opacity="0.58"/>
<rect x="127.8" y="31.2" width="2" height="0.8" fill="#d8c8a8" fill-opacity="0.53"/>
<rect x="231.8" y="28.4" width="2.4" height="0.8" fill="#c2a070" fill-opacity="0.42"/>
<rect x="258.8" y="32" width="3.2" height="0.8" fill="#d8c8a8" fill-opacity="0.44"/>
<rect x="195.3" y="28" width="2.5" height="0.8" fill="#a8895a" fill-opacity="0.68"/>
<rect x="76.5" y="26.9" width="2.2" height="1" fill="#c2a070" fill-opacity="0.71"/>
<rect x="49.6" y="30.3" width="3.1" height="0.5" fill="#a8895a" fill-opacity="0.51"/>
<rect x="175.4" y="31.3" width="3.5" height="1" fill="#a8895a" fill-opacity="0.48"/>
<rect x="94" y="25.6" width="2.6" height="0.8" fill="#8c7350" fill-opacity="0.50"/>
<rect x="89.8" y="28.3" width="3.4" height="0.6" fill="#c2a070" fill-opacity="0.71"/>
<rect x="81.2" y="31.5" width="2" height="0.9" fill="#a8895a" fill-opacity="0.49"/>
<rect x="211.1" y="30.2" width="3.1" height="0.9" fill="#b09060" fill-opacity="0.50"/>
<rect x="230.6" y="28" width="3.4" height="0.7" fill="#8c7350" fill-opacity="0.51"/>
<rect x="172.5" y="32.3" width="2.1" height="0.7" fill="#a8895a" fill-opacity="0.63"/>
<rect x="299.1" y="27.5" width="1.6" height="0.8" fill="#a8895a" fill-opacity="0.43"/>
<rect x="312.8" y="26.7" width="1" height="0.8" fill="#a8895a" fill-opacity="0.57"/>
<rect x="84.3" y="25.6" width="1.3" height="0.6" fill="#c2a070" fill-opacity="0.49"/>
<rect x="78.1" y="27.1" width="2.6" height="0.8" fill="#8c7350" fill-opacity="0.66"/>
<rect x="162.7" y="32.4" width="2.8" height="0.8" fill="#c2a070" fill-opacity="0.74"/>
<rect x="320.8" y="32.3" width="3.4" height="0.8" fill="#d8c8a8" fill-opacity="0.51"/>
<rect x="210.5" y="28.4" width="1.8" height="0.8" fill="#b09060" fill-opacity="0.71"/>
<rect x="334.3" y="30.9" width="2.5" height="1" fill="#a8895a" fill-opacity="0.65"/>
<rect x="134.4" y="26.6" width="1.5" height="0.6" fill="#a8895a" fill-opacity="0.63"/>
<rect x="261.1" y="28.2" width="2.8" height="0.8" fill="#8c7350" fill-opacity="0.65"/>
<rect x="285.7" y="31.2" width="1.3" height="0.6" fill="#a8895a" fill-opacity="0.58"/>
<rect x="171.7" y="28" width="3.3" height="0.6" fill="#d8c8a8" fill-opacity="0.75"/>
<rect x="250.5" y="26.8" width="1.1" height="0.5" fill="#a8895a" fill-opacity="0.53"/>
<rect x="174.7" y="31.6" width="1.1" height="0.6" fill="#8c7350" fill-opacity="0.50"/>
<rect x="119.8" y="29.5" width="1.7" height="0.6" fill="#a8895a" fill-opacity="0.71"/>
<rect x="319.1" y="26.2" width="2.2" height="1" fill="#d8c8a8" fill-opacity="0.62"/>
<rect x="317.5" y="28.4" width="1.3" height="0.9" fill="#c2a070" fill-opacity="0.51"/>
<rect x="60.2" y="30.9" width="1.8" height="0.5" fill="#8c7350" fill-opacity="0.65"/>
<rect x="250.8" y="28.9" width="3" height="0.7" fill="#c2a070" fill-opacity="0.68"/>
<rect x="103.4" y="26.1" width="2.2" height="0.8" fill="#d8c8a8" fill-opacity="0.66"/>
<rect x="51.8" y="32" width="2.9" height="0.8" fill="#a8895a" fill-opacity="0.74"/>
<rect x="240.2" y="32.3" width="1.8" height="0.8" fill="#b09060" fill-opacity="0.68"/>
<rect x="182.9" y="27.4" width="2" height="0.7" fill="#d8c8a8" fill-opacity="0.78"/>
<rect x="274.5" y="25.6" width="1.1" height="0.6" fill="#a8895a" fill-opacity="0.43"/>
<rect x="328.8" y="27" width="1.5" height="0.8" fill="#a8895a" fill-opacity="0.79"/>
<rect x="219" y="29.3" width="3.1" height="0.8" fill="#8c7350" fill-opacity="0.45"/>
<rect x="79.3" y="29" width="3.2" height="0.8" fill="#c2a070" fill-opacity="0.68"/>
<rect x="249.9" y="31.3" width="2.8" height="1" fill="#8c7350" fill-opacity="0.70"/>
<rect x="317.8" y="32.2" width="2.8" height="0.8" fill="#8c7350" fill-opacity="0.74"/>
<rect x="109.6" y="25.8" width="2.4" height="0.5" fill="#b09060" fill-opacity="0.45"/>
<rect x="149.2" y="26.3" width="1.9" height="0.9" fill="#d8c8a8" fill-opacity="0.61"/>
<rect x="132.2" y="28.9" width="2.9" height="0.9" fill="#a8895a" fill-opacity="0.49"/>
<rect x="99.4" y="26.3" width="3.3" height="0.7" fill="#d8c8a8" fill-opacity="0.63"/>
<rect x="230.4" y="28.5" width="3.1" height="1" fill="#8c7350" fill-opacity="0.62"/>
<rect x="127.3" y="30.8" width="1.5" height="0.8" fill="#8c7350" fill-opacity="0.71"/>
<rect x="287.1" y="32.2" width="1.3" height="0.7" fill="#b09060" fill-opacity="0.78"/>
<rect x="94.8" y="32.4" width="2" height="0.6" fill="#d8c8a8" fill-opacity="0.79"/>
<rect x="51.9" y="31.9" width="2.7" height="0.8" fill="#b09060" fill-opacity="0.51"/>
<rect x="112.8" y="25.5" width="1.1" height="0.9" fill="#c2a070" fill-opacity="0.58"/>
<rect x="170.1" y="28.2" width="1.9" height="0.6" fill="#b09060" fill-opacity="0.41"/>
<rect x="90.7" y="30.1" width="3.1" height="0.8" fill="#c2a070" fill-opacity="0.76"/>
<rect x="235.7" y="28.3" width="1.7" height="0.8" fill="#d8c8a8" fill-opacity="0.46"/>
<rect x="294" y="27" width="1.1" height="0.7" fill="#c2a070" fill-opacity="0.47"/>
<rect x="292.7" y="27.8" width="3" height="0.8" fill="#d8c8a8" fill-opacity="0.78"/>
<rect x="125.2" y="32.2" width="1.5" height="0.6" fill="#a8895a" fill-opacity="0.61"/>
<rect x="73.6" y="30.1" width="3.2" height="0.7" fill="#d8c8a8" fill-opacity="0.51"/>
<rect x="259.4" y="29.6" width="2.8" height="0.6" fill="#b09060" fill-opacity="0.59"/>
<rect x="176" y="29" width="2.1" height="0.8" fill="#b09060" fill-opacity="0.75"/>
<rect x="172.6" y="30.6" width="1.7" height="0.6" fill="#d8c8a8" fill-opacity="0.46"/>
<rect x="135.1" y="29.8" width="3.4" height="0.8" fill="#d8c8a8" fill-opacity="0.64"/>
<rect x="334.1" y="27.4" width="2.8" height="0.7" fill="#8c7350" fill-opacity="0.77"/>
<rect x="330.3" y="31.9" width="1.7" height="0.9" fill="#a8895a" fill-opacity="0.44"/>
<rect x="68.6" y="26" width="2.8" height="0.7" fill="#d8c8a8" fill-opacity="0.80"/>
<rect x="262.3" y="31.2" width="2.9" height="0.6" fill="#a8895a" fill-opacity="0.67"/>
<rect x="236.1" y="32.6" width="2.7" height="0.5" fill="#b09060" fill-opacity="0.40"/>
<rect x="251.2" y="32.6" width="1.7" height="0.8" fill="#8c7350" fill-opacity="0.42"/>
<rect x="128.9" y="28.4" width="1" height="0.8" fill="#b09060" fill-opacity="0.49"/>
<rect x="54.1" y="32.3" width="1" height="0.9" fill="#c2a070" fill-opacity="0.58"/>
<rect x="242.7" y="26.8" width="2.6" height="0.8" fill="#a8895a" fill-opacity="0.59"/>
<rect x="91.1" y="27.1" width="3.2" height="0.8" fill="#d8c8a8" fill-opacity="0.46"/>
<rect x="80.9" y="29.8" width="1.5" height="0.6" fill="#b09060" fill-opacity="0.47"/>
<rect x="297.2" y="30" width="3.3" height="1" fill="#b09060" fill-opacity="0.75"/>
<rect x="192.5" y="27" width="1.7" height="1" fill="#8c7350" fill-opacity="0.77"/>
<rect x="329.3" y="29.5" width="3.2" height="1" fill="#8c7350" fill-opacity="0.70"/>
<rect x="114.6" y="31.2" width="1.3" height="0.8" fill="#8c7350" fill-opacity="0.54"/>
<rect x="270.5" y="28.5" width="1.5" height="0.7" fill="#c2a070" fill-opacity="0.57"/>
<rect x="285.5" y="29.5" width="2.7" height="0.8" fill="#d8c8a8" fill-opacity="0.74"/>
<rect x="154.3" y="26.5" width="2.6" height="0.7" fill="#d8c8a8" fill-opacity="0.59"/>
<rect x="177.8" y="30.8" width="3" height="0.8" fill="#d8c8a8" fill-opacity="0.58"/>
<rect x="142.7" y="27.3" width="2.1" height="0.8" fill="#d8c8a8" fill-opacity="0.75"/>
<rect x="319.8" y="26.9" width="1.6" height="1" fill="#8c7350" fill-opacity="0.68"/>
<rect x="236.2" y="31.4" width="3.5" height="0.7" fill="#b09060" fill-opacity="0.59"/>
<rect x="110" y="31.9" width="2.2" height="0.6" fill="#d8c8a8" fill-opacity="0.40"/>
<rect x="135.1" y="27.5" width="3.1" height="0.9" fill="#a8895a" fill-opacity="0.63"/>
<rect x="268.8" y="26.6" width="1.9" height="0.7" fill="#a8895a" fill-opacity="0.63"/>
<rect x="107.3" y="29.1" width="1.2" height="0.9" fill="#d8c8a8" fill-opacity="0.70"/>
<rect x="102.1" y="25.9" width="2.8" height="0.5" fill="#b09060" fill-opacity="0.48"/>
<rect x="181.8" y="25.5" width="1.9" height="0.6" fill="#b09060" fill-opacity="0.58"/>
<rect x="65" y="26.7" width="2" height="0.8" fill="#d8c8a8" fill-opacity="0.49"/>
<rect x="108.1" y="29.7" width="2.1" height="0.5" fill="#a8895a" fill-opacity="0.54"/>
<rect x="174.6" y="33" width="2.6" height="0.6" fill="#b09060" fill-opacity="0.55"/>
<rect x="303" y="30.9" width="3.1" height="0.9" fill="#d8c8a8" fill-opacity="0.75"/>
<rect x="334.5" y="29.4" width="1.5" height="1" fill="#a8895a" fill-opacity="0.73"/>
<rect x="138" y="26.6" width="2.5" height="0.6" fill="#d8c8a8" fill-opacity="0.60"/>
<rect x="155.5" y="28.1" width="2.7" height="0.7" fill="#8c7350" fill-opacity="0.70"/>
<rect x="73.7" y="28.7" width="2.2" height="0.7" fill="#b09060" fill-opacity="0.49"/>
<rect x="117.4" y="31.4" width="1.5" height="0.8" fill="#c2a070" fill-opacity="0.47"/>
<rect x="239.9" y="29.8" width="3.4" height="1" fill="#a8895a" fill-opacity="0.65"/>
<rect x="65" y="28.9" width="1.8" height="0.9" fill="#a8895a" fill-opacity="0.66"/>
<rect x="86.7" y="29.3" width="2.6" height="0.8" fill="#a8895a" fill-opacity="0.52"/>
<rect x="48.8" y="30.4" width="1.5" height="0.6" fill="#a8895a" fill-opacity="0.40"/>
<rect x="223.4" y="31" width="2.2" height="0.9" fill="#a8895a" fill-opacity="0.80"/>
<rect x="119.2" y="30.4" width="1" height="0.7" fill="#d8c8a8" fill-opacity="0.61"/>
<rect x="70" y="30.2" width="2.8" height="0.8" fill="#8c7350" fill-opacity="0.58"/>
<rect x="105.6" y="29.3" width="1.9" height="0.9" fill="#8c7350" fill-opacity="0.76"/>
<rect x="212.3" y="25.7" width="3" height="0.6" fill="#8c7350" fill-opacity="0.67"/>
<rect x="116" y="32.7" width="2.7" height="0.7" fill="#8c7350" fill-opacity="0.60"/>
<rect x="150.5" y="31.3" width="1.6" height="0.9" fill="#d8c8a8" fill-opacity="0.52"/>
<rect x="328.3" y="29.2" width="1.4" height="0.5" fill="#b09060" fill-opacity="0.46"/>
<rect x="211.9" y="30.4" width="1.8" height="0.6" fill="#b09060" fill-opacity="0.65"/>
<rect x="246.7" y="31" width="3.4" height="1" fill="#d8c8a8" fill-opacity="0.50"/>
<rect x="252.9" y="29.7" width="2" height="0.8" fill="#a8895a" fill-opacity="0.78"/>
<rect x="193.7" y="28.8" width="1.8" height="0.8" fill="#8c7350" fill-opacity="0.44"/>
<rect x="224.5" y="27.4" width="2" height="0.5" fill="#8c7350" fill-opacity="0.52"/>
<rect x="249.2" y="31.2" width="1.8" height="0.8" fill="#a8895a" fill-opacity="0.42"/>
<rect x="258" y="28.3" width="1.9" height="0.9" fill="#c2a070" fill-opacity="0.58"/>
<rect x="249.1" y="28.6" width="2.5" height="0.8" fill="#a8895a" fill-opacity="0.73"/>
<rect x="159.5" y="31.7" width="3" height="0.9" fill="#c2a070" fill-opacity="0.77"/>
<rect x="310.9" y="30.3" width="3.3" height="0.6" fill="#a8895a" fill-opacity="0.53"/>
<rect x="159.7" y="32.6" width="2" height="0.9" fill="#d8c8a8" fill-opacity="0.71"/>
<rect x="94.4" y="31.9" width="3.3" height="0.9" fill="#a8895a" fill-opacity="0.77"/>
<rect x="113.3" y="125.7" width="1.6" height="1.1" fill="#8c7350" fill-opacity="0.35"/>
<rect x="281.6" y="116.6" width="2.3" height="0.7" fill="#b89060" fill-opacity="0.48"/>
<rect x="190.6" y="114.9" width="3.5" height="0.7" fill="#a07040" fill-opacity="0.60"/>
<rect x="249.9" y="116.7" width="2.5" height="1.2" fill="#8c7350" fill-opacity="0.57"/>
<rect x="76" y="124.5" width="2.3" height="1.1" fill="#8c7350" fill-opacity="0.56"/>
<rect x="145.5" y="123.5" width="2.6" height="1" fill="#a07040" fill-opacity="0.53"/>
<rect x="88.9" y="118.5" width="3.8" height="0.9" fill="#a07040" fill-opacity="0.36"/>
<rect x="295.8" y="116.2" width="2.8" height="0.9" fill="#7a6040" fill-opacity="0.44"/>
<rect x="300.9" y="113.6" width="3.3" height="0.7" fill="#6f6050" fill-opacity="0.58"/>
<rect x="321.6" y="119.2" width="2.6" height="0.8" fill="#a07040" fill-opacity="0.44"/>
<rect x="129.9" y="123.3" width="3.5" height="1.1" fill="#7a6040" fill-opacity="0.39"/>
<rect x="118.2" y="118.1" width="2.2" height="0.8" fill="#b89060" fill-opacity="0.40"/>
<rect x="133.9" y="123.6" width="2.4" height="1" fill="#8c7350" fill-opacity="0.37"/>
<rect x="239" y="119.9" width="1.8" height="1.1" fill="#6f6050" fill-opacity="0.35"/>
<rect x="277.4" y="115.5" width="3.5" height="1" fill="#a07040" fill-opacity="0.36"/>
<rect x="210.4" y="114.4" width="1.4" height="0.7" fill="#8c7350" fill-opacity="0.31"/>
<rect x="239" y="118.2" width="2.7" height="0.8" fill="#7a6040" fill-opacity="0.50"/>
<rect x="90.8" y="122.8" width="1.7" height="1.2" fill="#6f6050" fill-opacity="0.45"/>
<rect x="213.2" y="117" width="2.2" height="1.2" fill="#8c7350" fill-opacity="0.56"/>
<rect x="191.7" y="113.7" width="2.9" height="1.1" fill="#7a6040" fill-opacity="0.37"/>
<rect x="145.2" y="121.4" width="1.5" height="0.8" fill="#a07040" fill-opacity="0.50"/>
<rect x="184.3" y="115.3" width="1.5" height="1" fill="#b89060" fill-opacity="0.56"/>
<rect x="255.2" y="116.6" width="1.5" height="1.2" fill="#7a6040" fill-opacity="0.46"/>
<rect x="151.9" y="119.4" width="1.8" height="0.9" fill="#8c7350" fill-opacity="0.38"/>
<rect x="49.3" y="122.8" width="3.7" height="1" fill="#b89060" fill-opacity="0.51"/>
<rect x="329.9" y="118.5" width="2.9" height="1.1" fill="#7a6040" fill-opacity="0.38"/>
<rect x="114.1" y="122.2" width="3.3" height="1" fill="#8c7350" fill-opacity="0.42"/>
<rect x="133.4" y="118.6" width="2.1" height="1.2" fill="#b89060" fill-opacity="0.39"/>
<rect x="133.4" y="122.4" width="3.9" height="0.9" fill="#6f6050" fill-opacity="0.51"/>
<rect x="228" y="119.3" width="3.4" height="0.8" fill="#8c7350" fill-opacity="0.38"/>
<rect x="154.6" y="125" width="3.6" height="0.9" fill="#6f6050" fill-opacity="0.46"/>
<rect x="158.4" y="124.2" width="2.7" height="1" fill="#6f6050" fill-opacity="0.63"/>
<rect x="222.2" y="114.3" width="2.4" height="0.9" fill="#7a6040" fill-opacity="0.50"/>
<rect x="71.6" y="119.3" width="2.6" height="1.1" fill="#b89060" fill-opacity="0.61"/>
<rect x="227.9" y="118.3" width="4" height="0.8" fill="#7a6040" fill-opacity="0.41"/>
<rect x="334.6" y="117.6" width="1.9" height="0.8" fill="#a07040" fill-opacity="0.62"/>
<rect x="263.2" y="114.5" width="3.5" height="1" fill="#a07040" fill-opacity="0.45"/>
<rect x="272.9" y="118.8" width="2.3" height="1" fill="#7a6040" fill-opacity="0.70"/>
<rect x="313.1" y="118.8" width="1.6" height="1" fill="#6f6050" fill-opacity="0.33"/>
<rect x="181.3" y="121.3" width="3.7" height="1.2" fill="#8c7350" fill-opacity="0.35"/>
<rect x="151" y="125.5" width="1.4" height="1.1" fill="#8c7350" fill-opacity="0.64"/>
<rect x="236.2" y="114.9" width="3.5" height="1.1" fill="#8c7350" fill-opacity="0.54"/>
<rect x="140" y="120.4" width="2.2" height="0.9" fill="#7a6040" fill-opacity="0.66"/>
<rect x="312" y="117.4" width="2.4" height="0.8" fill="#b89060" fill-opacity="0.36"/>
<rect x="257.6" y="113" width="2.7" height="0.7" fill="#a07040" fill-opacity="0.43"/>
<rect x="105.3" y="125.6" width="1.4" height="1.1" fill="#a07040" fill-opacity="0.63"/>
<rect x="209.1" y="113.9" width="3.7" height="1.1" fill="#b89060" fill-opacity="0.34"/>
<rect x="254.9" y="113.2" width="1.6" height="1.1" fill="#a07040" fill-opacity="0.43"/>
<rect x="165.5" y="117.4" width="3.3" height="0.7" fill="#b89060" fill-opacity="0.53"/>
<rect x="224.8" y="114.9" width="3.8" height="1" fill="#6f6050" fill-opacity="0.58"/>
<rect x="331.2" y="116.4" width="2.2" height="1.1" fill="#7a6040" fill-opacity="0.37"/>
<rect x="124.6" y="125.6" width="3.5" height="1.1" fill="#6f6050" fill-opacity="0.50"/>
<rect x="327.8" y="116.8" width="3.8" height="0.8" fill="#a07040" fill-opacity="0.53"/>
<rect x="160.5" y="117.7" width="2.6" height="0.9" fill="#6f6050" fill-opacity="0.46"/>
<rect x="58.1" y="121" width="3.8" height="0.9" fill="#8c7350" fill-opacity="0.55"/>
<rect x="89.2" y="123.5" width="1.4" height="0.8" fill="#7a6040" fill-opacity="0.68"/>
<rect x="269.1" y="119.2" width="2.8" height="1" fill="#8c7350" fill-opacity="0.45"/>
<rect x="192.7" y="121" width="3.2" height="0.9" fill="#6f6050" fill-opacity="0.34"/>
<rect x="140.1" y="118.8" width="3.6" height="1" fill="#b89060" fill-opacity="0.45"/>
<rect x="147.7" y="121" width="3.5" height="0.9" fill="#8c7350" fill-opacity="0.59"/>
<rect x="315.5" y="117.8" width="3" height="0.7" fill="#a07040" fill-opacity="0.50"/>
<rect x="187.3" y="117.5" width="1.7" height="0.8" fill="#6f6050" fill-opacity="0.61"/>
<rect x="273.6" y="118.4" width="2.8" height="0.8" fill="#6f6050" fill-opacity="0.42"/>
<rect x="295.7" y="116.1" width="3" height="0.9" fill="#b89060" fill-opacity="0.44"/>
<rect x="214.6" y="117" width="2.2" height="1" fill="#b89060" fill-opacity="0.44"/>
<rect x="213" y="112.7" width="2.7" height="1" fill="#a07040" fill-opacity="0.50"/>
<rect x="57.9" y="122.4" width="3.1" height="0.9" fill="#a07040" fill-opacity="0.55"/>
<rect x="121" y="125.1" width="1.8" height="0.8" fill="#8c7350" fill-opacity="0.48"/>
<rect x="286.8" y="115" width="1.3" height="0.7" fill="#8c7350" fill-opacity="0.60"/>
<rect x="213.9" y="116.2" width="1.2" height="1.1" fill="#6f6050" fill-opacity="0.43"/>
<rect x="74.9" y="119.9" width="3.6" height="1.1" fill="#8c7350" fill-opacity="0.51"/>
<rect x="106.3" y="125.3" width="3.3" height="1.1" fill="#b89060" fill-opacity="0.66"/>
<rect x="170.4" y="116.7" width="1.6" height="1.1" fill="#6f6050" fill-opacity="0.67"/>
<rect x="173.6" y="115.6" width="2.3" height="1" fill="#8c7350" fill-opacity="0.41"/>
<rect x="269.7" y="115" width="1.7" height="0.7" fill="#6f6050" fill-opacity="0.41"/>
<rect x="198.4" y="117.3" width="2.3" height="0.8" fill="#a07040" fill-opacity="0.38"/>
<rect x="280.5" y="117.7" width="3.6" height="1.1" fill="#b89060" fill-opacity="0.36"/>
<rect x="285.5" y="114.4" width="3.7" height="0.9" fill="#7a6040" fill-opacity="0.63"/>
<rect x="206.2" y="115.6" width="2.5" height="1" fill="#6f6050" fill-opacity="0.55"/>
<rect x="225.6" y="115.3" width="1.8" height="1.1" fill="#7a6040" fill-opacity="0.68"/>
<rect x="207.9" y="119" width="2.4" height="1" fill="#a07040" fill-opacity="0.44"/>
<rect x="85" y="124.2" width="1.4" height="0.9" fill="#7a6040" fill-opacity="0.36"/>
<rect x="116.1" y="122.8" width="3.6" height="1.2" fill="#b89060" fill-opacity="0.44"/>
<rect x="137.4" y="118.9" width="3.1" height="1.2" fill="#b89060" fill-opacity="0.46"/>
<rect x="51" y="120.7" width="3.2" height="1.1" fill="#a07040" fill-opacity="0.31"/>
<rect x="52.4" y="123.6" width="3.1" height="0.9" fill="#b89060" fill-opacity="0.65"/>
<rect x="77.7" y="119.4" width="1.4" height="0.9" fill="#8c7350" fill-opacity="0.52"/>
<rect x="105.1" y="123.1" width="1.4" height="0.9" fill="#b89060" fill-opacity="0.58"/>
<rect x="314.3" y="117.3" width="3.9" height="1.1" fill="#6f6050" fill-opacity="0.55"/>
<rect x="327.4" y="120.1" width="2.5" height="0.9" fill="#a07040" fill-opacity="0.65"/>
<rect x="203.8" y="117.2" width="3.1" height="1" fill="#7a6040" fill-opacity="0.56"/>
<rect x="318.6" y="116.7" width="3.7" height="1" fill="#8c7350" fill-opacity="0.53"/>
<rect x="225" y="118" width="1.7" height="0.9" fill="#6f6050" fill-opacity="0.53"/>
<rect x="322.2" y="117.5" width="2.5" height="0.8" fill="#a07040" fill-opacity="0.60"/>
<rect x="303" y="120.4" width="2.2" height="0.7" fill="#b89060" fill-opacity="0.54"/>
<rect x="127.3" y="125.3" width="2.7" height="1.1" fill="#b89060" fill-opacity="0.48"/>
<rect x="250" y="114" width="2.7" height="1" fill="#6f6050" fill-opacity="0.33"/>
<rect x="161.7" y="120.9" width="1.7" height="1.1" fill="#6f6050" fill-opacity="0.53"/>
<rect x="251.3" y="116" width="3.3" height="0.7" fill="#6f6050" fill-opacity="0.42"/>
<rect x="199.8" y="116.3" width="1.3" height="0.7" fill="#6f6050" fill-opacity="0.40"/>
<rect x="309.5" y="113.3" width="3.6" height="0.9" fill="#b89060" fill-opacity="0.34"/>
<rect x="291.4" y="112.7" width="1.6" height="0.9" fill="#6f6050" fill-opacity="0.57"/>
<rect x="310.5" y="115.9" width="1.5" height="0.9" fill="#b89060" fill-opacity="0.63"/>
<rect x="271.8" y="118.3" width="1.9" height="0.8" fill="#7a6040" fill-opacity="0.52"/>
<rect x="240.2" y="119.5" width="1.6" height="1.2" fill="#8c7350" fill-opacity="0.63"/>
<rect x="144.1" y="125.4" width="1.4" height="0.8" fill="#6f6050" fill-opacity="0.52"/>
<rect x="294.9" y="120" width="2" height="0.8" fill="#8c7350" fill-opacity="0.54"/>
<rect x="307.7" y="114.3" width="3.6" height="0.8" fill="#a07040" fill-opacity="0.50"/>
<rect x="299.8" y="116.8" width="1.4" height="1.1" fill="#8c7350" fill-opacity="0.45"/>
<rect x="313.4" y="116" width="2.6" height="0.8" fill="#8c7350" fill-opacity="0.66"/>
<rect x="214.7" y="111.9" width="2.8" height="1" fill="#b89060" fill-opacity="0.31"/>
<rect x="122.4" y="125.6" width="2.2" height="1" fill="#a07040" fill-opacity="0.55"/>
<rect x="205.1" y="119.3" width="1.3" height="0.7" fill="#8c7350" fill-opacity="0.43"/>
<rect x="120" y="125.9" width="3.6" height="0.9" fill="#7a6040" fill-opacity="0.57"/>
<rect x="151.3" y="118.3" width="3.9" height="1.1" fill="#a07040" fill-opacity="0.50"/>
<rect x="128.9" y="123" width="2.4" height="0.8" fill="#8c7350" fill-opacity="0.61"/>
<rect x="139.1" y="122" width="1.8" height="0.7" fill="#6f6050" fill-opacity="0.65"/>
<rect x="195.5" y="118.9" width="1.7" height="1" fill="#6f6050" fill-opacity="0.36"/>
<rect x="248" y="118.3" width="1.2" height="0.7" fill="#7a6040" fill-opacity="0.62"/>
<rect x="133.1" y="119.1" width="3.7" height="1" fill="#8c7350" fill-opacity="0.36"/>
<rect x="60.3" y="122.2" width="2.9" height="0.9" fill="#b89060" fill-opacity="0.59"/>
<rect x="240.7" y="115" width="3.9" height="0.9" fill="#a07040" fill-opacity="0.45"/>
<rect x="176.1" y="119.8" width="1.8" height="1" fill="#7a6040" fill-opacity="0.43"/>
<rect x="72.6" y="120.1" width="2.8" height="1" fill="#6f6050" fill-opacity="0.44"/>
<rect x="193.4" y="115.2" width="1.2" height="0.9" fill="#b89060" fill-opacity="0.69"/>
<rect x="325.3" y="117.5" width="3.2" height="1" fill="#8c7350" fill-opacity="0.58"/>
<rect x="85.1" y="123" width="1.3" height="0.9" fill="#6f6050" fill-opacity="0.52"/>
<rect x="229.7" y="117.9" width="2.8" height="1.2" fill="#b89060" fill-opacity="0.48"/>
<rect x="133.5" y="123.8" width="3.4" height="1" fill="#b89060" fill-opacity="0.50"/>
<rect x="263.1" y="113.3" width="2.3" height="0.9" fill="#b89060" fill-opacity="0.52"/>
<rect x="221.4" y="111.9" width="2.7" height="1.1" fill="#a07040" fill-opacity="0.62"/>
<rect x="209.8" y="114.3" width="2.1" height="0.8" fill="#6f6050" fill-opacity="0.62"/>
<rect x="51.1" y="120.4" width="2.4" height="1" fill="#b89060" fill-opacity="0.43"/>
<rect x="187.5" y="115.5" width="2.8" height="0.8" fill="#a07040" fill-opacity="0.65"/>
<rect x="94.1" y="119.8" width="3.5" height="1.2" fill="#b89060" fill-opacity="0.53"/>
<rect x="113.8" y="125.4" width="1.5" height="1" fill="#6f6050" fill-opacity="0.31"/>
<rect x="246.4" y="113.1" width="3.6" height="1" fill="#7a6040" fill-opacity="0.51"/>
<rect x="271.5" y="117.7" width="3.3" height="1" fill="#a07040" fill-opacity="0.56"/>
<rect x="62.2" y="118.9" width="2" height="1.1" fill="#a07040" fill-opacity="0.61"/>
<rect x="245.7" y="119.7" width="1.4" height="1" fill="#a07040" fill-opacity="0.60"/>
<rect x="50.5" y="125.1" width="2.5" height="0.9" fill="#a07040" fill-opacity="0.57"/>
<rect x="151.6" y="123" width="2.1" height="1.2" fill="#b89060" fill-opacity="0.35"/>
<rect x="325.2" y="113.1" width="1.8" height="0.8" fill="#7a6040" fill-opacity="0.46"/>
<rect x="176.7" y="116.7" width="3.5" height="1.1" fill="#b89060" fill-opacity="0.32"/>
<rect x="50.4" y="124.2" width="1.3" height="0.8" fill="#7a6040" fill-opacity="0.34"/>
<rect x="303.3" y="113.1" width="2.9" height="1" fill="#a07040" fill-opacity="0.68"/>
<rect x="190.2" y="119.1" width="3.1" height="1.1" fill="#7a6040" fill-opacity="0.40"/>
<rect x="62.5" y="125.4" width="1.4" height="0.9" fill="#6f6050" fill-opacity="0.49"/>
<rect x="115.3" y="118.5" width="1.8" height="0.9" fill="#8c7350" fill-opacity="0.47"/>
<rect x="207.1" y="113.6" width="2.3" height="1.2" fill="#8c7350" fill-opacity="0.36"/>
<rect x="266" y="119.3" width="3.1" height="1.1" fill="#b89060" fill-opacity="0.45"/>
<rect x="243.5" y="116.4" width="3.5" height="0.9" fill="#6f6050" fill-opacity="0.47"/>
<rect x="130.6" y="121.6" width="3.3" height="0.7" fill="#8c7350" fill-opacity="0.55"/>
<rect x="311.8" y="112.9" width="1.6" height="1.1" fill="#8c7350" fill-opacity="0.54"/>
<rect x="110.1" y="122" width="2" height="0.7" fill="#7a6040" fill-opacity="0.65"/>
<rect x="135.5" y="119.2" width="2.9" height="0.9" fill="#6f6050" fill-opacity="0.42"/>
<rect x="100.3" y="121.2" width="2" height="1.1" fill="#8c7350" fill-opacity="0.31"/>
<rect x="324.3" y="118" width="2.7" height="1" fill="#a07040" fill-opacity="0.65"/>
<rect x="224.9" y="112.9" width="1.9" height="0.9" fill="#a07040" fill-opacity="0.67"/>
<rect x="119.3" y="121" width="2.3" height="1.1" fill="#b89060" fill-opacity="0.58"/>
<rect x="93.4" y="118" width="3.1" height="0.8" fill="#a07040" fill-opacity="0.44"/>
<rect x="178.1" y="118.2" width="1.5" height="0.7" fill="#a07040" fill-opacity="0.61"/>
<rect x="167" y="116.4" width="2.1" height="1" fill="#7a6040" fill-opacity="0.36"/>
<rect x="184.6" y="120.5" width="3.3" height="0.9" fill="#6f6050" fill-opacity="0.49"/>
<rect x="264" y="115.6" width="2.1" height="0.9" fill="#6f6050" fill-opacity="0.44"/>
<rect x="109.1" y="119.3" width="2" height="0.7" fill="#6f6050" fill-opacity="0.32"/>
<rect x="183.4" y="118.8" width="2.9" height="0.9" fill="#a07040" fill-opacity="0.55"/>
<rect x="301.4" y="119.4" width="2.1" height="0.7" fill="#6f6050" fill-opacity="0.51"/>
<rect x="211" y="116.6" width="2.4" height="1" fill="#a07040" fill-opacity="0.61"/>
<rect x="70.8" y="119.7" width="4" height="0.7" fill="#a07040" fill-opacity="0.41"/>
<rect x="240.1" y="113.8" width="1.3" height="0.9" fill="#a07040" fill-opacity="0.50"/>
<rect x="268.2" y="120" width="2.2" height="0.9" fill="#a07040" fill-opacity="0.31"/>
<rect x="173.3" y="119.4" width="2" height="0.9" fill="#6f6050" fill-opacity="0.48"/>
<rect x="70.7" y="125.5" width="1.5" height="1" fill="#7a6040" fill-opacity="0.37"/>
<rect x="111" y="124.7" width="1.6" height="0.9" fill="#6f6050" fill-opacity="0.58"/>
<rect x="310.4" y="113.8" width="1.2" height="0.9" fill="#b89060" fill-opacity="0.33"/>
<rect x="287.1" y="118.3" width="2.2" height="0.7" fill="#b89060" fill-opacity="0.37"/>
<rect x="84.4" y="121" width="1.7" height="1.1" fill="#6f6050" fill-opacity="0.61"/>
<rect x="148.5" y="118.3" width="3.7" height="0.9" fill="#a07040" fill-opacity="0.53"/>
<rect x="189.7" y="117.6" width="3.3" height="0.8" fill="#7a6040" fill-opacity="0.61"/>
<rect x="311.8" y="115.6" width="1.8" height="1.1" fill="#b89060" fill-opacity="0.69"/>
<rect x="219.1" y="113.9" width="3.8" height="0.8" fill="#7a6040" fill-opacity="0.64"/>
<rect x="209.6" y="117.2" width="2.4" height="1.1" fill="#a07040" fill-opacity="0.32"/>
<rect x="99.9" y="121.1" width="2" height="1" fill="#8c7350" fill-opacity="0.67"/>
<rect x="293.1" y="118.2" width="2.7" height="1.1" fill="#a07040" fill-opacity="0.41"/>
<rect x="276.3" y="117.8" width="1.5" height="1" fill="#b89060" fill-opacity="0.69"/>
<rect x="125.6" y="123.1" width="3.5" height="1" fill="#6f6050" fill-opacity="0.33"/>
<rect x="207.2" y="115.3" width="2.2" height="1.2" fill="#b89060" fill-opacity="0.46"/>
<rect x="87.8" y="125.1" width="3.4" height="1.2" fill="#b89060" fill-opacity="0.56"/>
<rect x="163.1" y="118.9" width="1.7" height="0.7" fill="#a07040" fill-opacity="0.69"/>
<rect x="202.8" y="114.3" width="2.9" height="0.7" fill="#a07040" fill-opacity="0.52"/>
<rect x="106.4" y="118.4" width="2.7" height="1.1" fill="#a07040" fill-opacity="0.65"/>
<rect x="111" y="123.1" width="3.5" height="0.9" fill="#a07040" fill-opacity="0.58"/>
<rect x="156.6" y="119.9" width="2.7" height="1.2" fill="#8c7350" fill-opacity="0.57"/>
<rect x="110.6" y="122.8" width="3.9" height="0.8" fill="#6f6050" fill-opacity="0.68"/>
<rect x="259.4" y="115.3" width="2.9" height="0.8" fill="#b89060" fill-opacity="0.33"/>
<rect x="231.1" y="119.2" width="3.9" height="1.1" fill="#b89060" fill-opacity="0.50"/>
<rect x="253" y="118.1" width="3.5" height="0.8" fill="#7a6040" fill-opacity="0.53"/>
<rect x="292.4" y="115.5" width="1.2" height="0.9" fill="#8c7350" fill-opacity="0.65"/>
<rect x="183.8" y="117.1" width="3.2" height="1" fill="#b89060" fill-opacity="0.65"/>
<rect x="284.4" y="115.1" width="1.6" height="1.1" fill="#b04830" fill-opacity="0.60"/>
<rect x="284.5" y="116.7" width="2.1" height="1.2" fill="#b04830" fill-opacity="0.72"/>
<rect x="256.3" y="119.1" width="3.9" height="0.9" fill="#b04830" fill-opacity="0.57"/>
<rect x="250.7" y="116" width="3.8" height="1" fill="#c05030" fill-opacity="0.74"/>
<rect x="325.2" y="118.9" width="1.8" height="0.8" fill="#c05030" fill-opacity="0.77"/>
<rect x="314.2" y="118.9" width="2.3" height="0.9" fill="#b04830" fill-opacity="0.56"/>
<rect x="325.1" y="118.7" width="1.4" height="0.9" fill="#c05030" fill-opacity="0.54"/>
<rect x="262.7" y="117.7" width="3.6" height="1.2" fill="#b04830" fill-opacity="0.54"/>
<rect x="295.6" y="118.8" width="1.8" height="0.7" fill="#b04830" fill-opacity="0.54"/>
<rect x="328.1" y="116" width="2.8" height="1" fill="#b04830" fill-opacity="0.63"/>
<rect x="278.2" y="117" width="1.5" height="1" fill="#b04830" fill-opacity="0.78"/>
<rect x="309.1" y="112.8" width="2" height="1" fill="#b04830" fill-opacity="0.72"/>
<rect x="310.7" y="116.5" width="1.3" height="1.1" fill="#c05030" fill-opacity="0.79"/>
<rect x="262.7" y="116.8" width="1.3" height="0.9" fill="#b04830" fill-opacity="0.76"/>
<rect x="250.6" y="118.7" width="2.2" height="0.8" fill="#b04830" fill-opacity="0.80"/>
<rect x="295.1" y="112.6" width="3.4" height="0.9" fill="#c05030" fill-opacity="0.53"/>
<rect x="261.3" y="114.4" width="3.5" height="0.9" fill="#c05030" fill-opacity="0.53"/>
<rect x="315.3" y="112.7" width="3.4" height="1.1" fill="#c05030" fill-opacity="0.60"/>
<rect x="314.7" y="116.5" width="1.4" height="1" fill="#b04830" fill-opacity="0.79"/>
<rect x="278.5" y="115.1" width="3.6" height="0.9" fill="#c05030" fill-opacity="0.55"/>
<rect x="321" y="114.3" width="1.3" height="1.2" fill="#b04830" fill-opacity="0.58"/>
<rect x="255.8" y="113.3" width="1.6" height="0.7" fill="#c05030" fill-opacity="0.56"/>
<rect x="277.3" y="116.8" width="3.9" height="0.9" fill="#b04830" fill-opacity="0.64"/>
<rect x="266.7" y="119.2" width="3.3" height="0.8" fill="#b04830" fill-opacity="0.52"/>
<rect x="283.3" y="117.4" width="3.3" height="0.9" fill="#b04830" fill-opacity="0.70"/>
<rect x="266.3" y="116.7" width="2.9" height="0.9" fill="#b04830" fill-opacity="0.58"/>
<rect x="252.3" y="118.1" width="3.5" height="0.8" fill="#b04830" fill-opacity="0.76"/>
<rect x="259.5" y="115.8" width="2.9" height="1" fill="#b04830" fill-opacity="0.55"/>
<rect x="286.3" y="119.1" width="2.7" height="1.2" fill="#b04830" fill-opacity="0.67"/>
<rect x="296.2" y="115.6" width="2.1" height="1" fill="#b04830" fill-opacity="0.76"/>
<rect x="295.1" y="119.2" width="1.4" height="0.8" fill="#b04830" fill-opacity="0.53"/>
<rect x="307.2" y="115.7" width="2.6" height="1" fill="#b04830" fill-opacity="0.70"/>
<rect x="242.8" y="114.2" width="2.5" height="0.9" fill="#c05030" fill-opacity="0.76"/>
<rect x="243.5" y="116.7" width="2.9" height="1" fill="#c05030" fill-opacity="0.68"/>
<rect x="247.8" y="112.7" width="3.3" height="0.7" fill="#b04830" fill-opacity="0.61"/>
<rect x="285.1" y="116.2" width="1.3" height="1.1" fill="#c05030" fill-opacity="0.53"/>
<rect x="270.9" y="115.7" width="2.5" height="0.8" fill="#c05030" fill-opacity="0.80"/>
<rect x="319.9" y="113.2" width="2.2" height="0.8" fill="#b04830" fill-opacity="0.56"/>
<rect x="261.2" y="113.3" width="1.5" height="1.2" fill="#b04830" fill-opacity="0.61"/>
<rect x="311.1" y="115.8" width="2.7" height="0.9" fill="#b04830" fill-opacity="0.57"/>
<rect x="264.6" y="116.1" width="1.8" height="0.9" fill="#b04830" fill-opacity="0.79"/>
<rect x="289.9" y="115.4" width="3.7" height="0.9" fill="#c05030" fill-opacity="0.68"/>
<rect x="261.2" y="112.9" width="2" height="0.9" fill="#b04830" fill-opacity="0.79"/>
<rect x="315.5" y="118.8" width="3.8" height="1.1" fill="#c05030" fill-opacity="0.79"/>
<rect x="249.1" y="114.7" width="1.9" height="1" fill="#c05030" fill-opacity="0.67"/>
<rect x="324.6" y="118.7" width="2.4" height="0.7" fill="#c05030" fill-opacity="0.64"/>
<rect x="298.6" y="116.5" width="2.4" height="0.8" fill="#c05030" fill-opacity="0.52"/>
<rect x="248.8" y="114.7" width="1.3" height="0.8" fill="#c05030" fill-opacity="0.70"/>
<rect x="253.2" y="116.9" width="2.1" height="0.9" fill="#c05030" fill-opacity="0.56"/>
<rect x="292" y="114.8" width="1.3" height="1" fill="#c05030" fill-opacity="0.57"/>
<rect x="309.8" y="117.8" width="3.4" height="1" fill="#c05030" fill-opacity="0.72"/>
<rect x="267.3" y="116.2" width="1.4" height="0.7" fill="#c05030" fill-opacity="0.51"/>
<rect x="254.3" y="113.6" width="1.5" height="1.1" fill="#c05030" fill-opacity="0.69"/>
<rect x="278" y="118.7" width="2.6" height="0.8" fill="#c05030" fill-opacity="0.61"/>
<rect x="265.9" y="114.7" width="2.3" height="0.8" fill="#b04830" fill-opacity="0.67"/>
<rect x="240.9" y="117.3" width="1.3" height="0.9" fill="#c05030" fill-opacity="0.77"/>
<rect x="312.4" y="114.4" width="1.6" height="0.9" fill="#b04830" fill-opacity="0.55"/>
<rect x="254.1" y="117.3" width="3.3" height="0.7" fill="#c05030" fill-opacity="0.78"/>
<rect x="242.5" y="113.8" width="3.4" height="1" fill="#b04830" fill-opacity="0.64"/>
<rect x="272.7" y="117.7" width="1.6" height="0.9" fill="#b04830" fill-opacity="0.75"/>
<path d="M182.6,119.2C183.5,119.4 186.2,120.4 188.1,120.5C189.9,120.5 192.7,119.6 193.6,119.4" stroke="#b8884a" stroke-opacity="0.78" stroke-width="0.9"/>
<path d="M207,116.6C207.3,116.6 208.4,116.6 209.1,116.5C209.8,116.5 210.5,116.2 211.2,116.3C211.9,116.3 212.9,116.9 213.3,117" stroke="#a07038" stroke-opacity="0.53" stroke-width="1.0"/>
<path d="M142.4,122.1C143.5,122 146.6,122 148.7,121.9C150.8,121.8 153.9,121.6 155,121.6" stroke="#a07038" stroke-opacity="0.54" stroke-width="1.1"/>
<path d="M320.4,113.5C321.2,113.6 323.4,114.2 324.8,114.2C326.3,114.2 328.5,113.6 329.2,113.5" stroke="#8a6a40" stroke-opacity="0.72" stroke-width="0.9"/>
<path d="M68.4,122.8C69,122.8 70.9,122.8 72.1,122.6C73.3,122.5 74.5,121.8 75.8,121.9C77,122 78.8,123.1 79.4,123.3" stroke="#a07038" stroke-opacity="0.89" stroke-width="1.0"/>
<path d="M148.1,120.5C148.5,120.5 149.9,120.4 150.9,120.4C151.8,120.4 152.7,120.5 153.7,120.6C154.6,120.6 155.5,120.6 156.5,120.6C157.4,120.7 158.8,121 159.3,121" stroke="#a07038" stroke-opacity="0.51" stroke-width="1.0"/>
<path d="M169.6,118.9C170,118.9 171.2,119 171.9,119.2C172.7,119.4 173.5,119.8 174.3,120C175,120.2 176.2,120.2 176.6,120.3" stroke="#a07038" stroke-opacity="0.57" stroke-width="1.0"/>
<path d="M54.8,120.7C55.1,120.6 56.1,120.4 56.8,120.2C57.5,120.1 58.1,120 58.8,119.9C59.5,119.9 60.2,119.9 60.8,119.9C61.5,119.9 62.5,120.1 62.9,120.1" stroke="#b8884a" stroke-opacity="0.60" stroke-width="1.1"/>
<path d="M179.7,118.4C180,118.5 180.8,118.9 181.4,119.1C181.9,119.4 182.5,119.7 183,119.8C183.6,119.9 184.1,119.8 184.7,119.8C185.2,119.7 186.1,119.6 186.3,119.5" stroke="#a07038" stroke-opacity="0.60" stroke-width="0.7"/>
<path d="M55.7,123C56.3,122.8 58,122.1 59.2,122C60.3,121.9 61.5,122.3 62.6,122.6C63.8,122.9 64.9,123.4 66.1,123.5C67.2,123.7 69,123.6 69.5,123.6" stroke="#8a6a40" stroke-opacity="0.59" stroke-width="0.9"/>
<path d="M183.4,119.9C183.8,119.7 185,118.7 185.9,118.5C186.7,118.3 187.5,118.5 188.3,118.7C189.1,119 190.4,119.7 190.8,119.9" stroke="#6f6050" stroke-opacity="0.63" stroke-width="1.0"/>
<path d="M230.9,114.9C231.5,114.9 233,114.7 234,114.9C235,115 236,115.6 237,115.7C238,115.9 239,115.9 240,115.7C241.1,115.6 242.6,114.8 243.1,114.6" stroke="#6f6050" stroke-opacity="0.67" stroke-width="0.8"/>
<path d="M171.1,123.7C171.5,123.8 172.8,124.3 173.6,124.2C174.4,124 175.3,123.1 176.1,122.8C177,122.5 177.8,122.3 178.6,122.4C179.5,122.4 180.7,123 181.1,123.2" stroke="#8a6a40" stroke-opacity="0.86" stroke-width="1.0"/>
<path d="M213.4,113.6C213.8,113.5 214.8,113.1 215.5,113.2C216.2,113.3 216.9,114.2 217.6,114.2C218.3,114.2 219,113.4 219.6,113.1C220.3,112.9 221.4,112.9 221.7,112.9" stroke="#8a6a40" stroke-opacity="0.86" stroke-width="1.1"/>
<path d="M200.2,119C200.9,118.9 203,118.1 204.4,118C205.8,117.8 207.9,118.1 208.6,118.1" stroke="#b8884a" stroke-opacity="0.75" stroke-width="0.7"/>
<path d="M200,117.1C200.7,117.2 202.9,117.6 204.3,117.6C205.7,117.6 207.8,117.2 208.5,117.1" stroke="#6f6050" stroke-opacity="0.56" stroke-width="0.7"/>
<path d="M135.2,123.8C135.7,123.8 137.2,123.6 138.2,123.4C139.2,123.3 140.2,123 141.2,122.9C142.1,122.8 143.1,122.8 144.1,123C145.1,123.1 146.6,123.7 147.1,123.8" stroke="#b8884a" stroke-opacity="0.57" stroke-width="1.0"/>
<path d="M143.6,118.9C144.3,119 146.3,119.5 147.6,119.6C148.9,119.7 150.9,119.5 151.6,119.5" stroke="#a07038" stroke-opacity="0.78" stroke-width="0.8"/>
<path d="M194.8,113.4C195.5,113.5 197.7,113.8 199.2,114C200.6,114.1 202.1,114.1 203.5,114.3C205,114.4 207.2,114.7 207.9,114.7" stroke="#a07038" stroke-opacity="0.68" stroke-width="1.0"/>
<path d="M58.4,124.7C58.7,124.6 59.8,124 60.5,124C61.3,123.9 62,124.4 62.7,124.5C63.4,124.6 64.2,124.4 64.9,124.5C65.6,124.6 66.7,125 67,125.1" stroke="#6f6050" stroke-opacity="0.64" stroke-width="1.0"/>
<path d="M138.1,121.3C138.6,121.4 139.9,121.7 140.9,122C141.8,122.2 142.7,122.7 143.6,122.6C144.5,122.5 145.9,121.5 146.3,121.3" stroke="#b8884a" stroke-opacity="0.52" stroke-width="1.0"/>
<path d="M127.4,126.1C128,126.1 129.7,126.1 130.9,126.1C132,126 133.2,125.9 134.3,125.7C135.5,125.5 137.2,124.9 137.8,124.8" stroke="#6f6050" stroke-opacity="0.76" stroke-width="1.0"/>
<path d="M221.7,118C222,117.9 223.1,117.3 223.9,117.4C224.6,117.4 225.3,118.2 226,118.2C226.8,118.3 227.5,117.6 228.2,117.7C228.9,117.7 230,118.4 230.4,118.6" stroke="#a07038" stroke-opacity="0.57" stroke-width="0.8"/>
<path d="M118.4,126.5C119.2,126.4 121.6,126.1 123.2,126.1C124.8,126 127.3,126.2 128.1,126.3" stroke="#6f6050" stroke-opacity="0.89" stroke-width="1.1"/>
<path d="M269.1,119.9C269.7,119.9 271.7,120.2 273,120.1C274.3,120 276.2,119.6 276.9,119.5" stroke="#8a6a40" stroke-opacity="0.51" stroke-width="0.8"/>
<path d="M91.7,124.7C92.3,124.6 94.2,124.4 95.5,124.3C96.8,124.1 98.7,123.9 99.3,123.8" stroke="#8a6a40" stroke-opacity="0.74" stroke-width="0.7"/>
<path d="M244,115.6C244.4,115.7 245.5,115.7 246.3,115.9C247,116 247.8,116.3 248.5,116.4C249.3,116.5 250,116.6 250.8,116.6C251.5,116.6 252.7,116.3 253.1,116.2" stroke="#6f6050" stroke-opacity="0.75" stroke-width="0.9"/>
<path d="M165.1,119.3C165.8,119.3 167.7,119.3 169,119.6C170.2,119.8 171.5,120.7 172.8,120.8C174,120.8 175.9,120.1 176.6,120" stroke="#8a6a40" stroke-opacity="0.88" stroke-width="1.0"/>
<path d="M168.6,119.7C169.5,119.4 172.1,118.5 173.9,118.2C175.6,118 178.2,118.1 179.1,118.1" stroke="#8a6a40" stroke-opacity="0.67" stroke-width="1.0"/>
<path d="M288.4,120.3C288.6,120.3 289.3,120.1 289.7,120.2C290.1,120.3 290.6,120.8 291,120.9C291.5,121 291.9,121 292.3,120.9C292.8,120.8 293.4,120.5 293.7,120.5" stroke="#8a6a40" stroke-opacity="0.74" stroke-width="0.9"/>
<path d="M278.6,117.4C279.1,117.4 280.6,117.7 281.6,117.6C282.7,117.6 283.7,117.3 284.7,117.2C285.7,117.1 287.2,117 287.7,117" stroke="#8a6a40" stroke-opacity="0.76" stroke-width="0.8"/>
<path d="M61.1,123.7C61.8,123.7 63.6,123.5 64.9,123.6C66.1,123.7 67.4,124.3 68.6,124.3C69.8,124.4 71.7,123.8 72.3,123.6" stroke="#6f6050" stroke-opacity="0.51" stroke-width="0.8"/>
<path d="M184.9,119.5C185.6,119.5 187.6,119.4 189,119.6C190.4,119.8 191.8,120.3 193.2,120.5C194.5,120.7 196.6,120.8 197.3,120.8" stroke="#b8884a" stroke-opacity="0.64" stroke-width="1.1"/>
<path d="M229.6,116.5C229.9,116.5 230.8,117 231.4,116.9C232.1,116.8 232.7,116 233.3,115.9C233.9,115.9 234.8,116.6 235.2,116.8" stroke="#b8884a" stroke-opacity="0.80" stroke-width="0.8"/>
<path d="M166.2,116.8C166.7,116.8 168.1,116.7 169.1,116.6C170.1,116.4 171,116.1 172,116.1C173,116.2 174,117 174.9,117.1C175.9,117.1 177.3,116.5 177.8,116.4" stroke="#6f6050" stroke-opacity="0.62" stroke-width="0.8"/>
<path d="M335.3,114.3C335.8,114.5 337.4,115.1 338.5,115.4C339.5,115.7 340.6,115.8 341.6,115.9C342.7,116 344.3,116 344.8,116" stroke="#6f6050" stroke-opacity="0.75" stroke-width="1.0"/>
<path d="M85.4,120.5C86,120.5 87.7,120.6 88.9,120.7C90.1,120.8 91.2,121.1 92.4,121C93.5,120.8 94.7,119.8 95.9,119.8C97,119.8 98.8,120.8 99.3,121" stroke="#8a6a40" stroke-opacity="0.85" stroke-width="0.8"/>
<path d="M185.8,114.1C186.2,114 187.5,113.6 188.4,113.7C189.2,113.9 190.1,114.9 191,115C191.8,115 193.1,114.1 193.6,114" stroke="#6f6050" stroke-opacity="0.76" stroke-width="1.0"/>
<path d="M216.2,114.3C217,114.4 219.2,114.9 220.8,115C222.3,115.1 223.8,114.9 225.3,114.9C226.8,114.9 229.1,114.8 229.8,114.8" stroke="#6f6050" stroke-opacity="0.79" stroke-width="1.0"/>
<path d="M113.8,122.5C114.3,122.5 115.8,122.6 116.7,122.6C117.7,122.7 118.7,123 119.6,122.9C120.6,122.8 121.5,122 122.5,121.9C123.5,121.7 124.9,122 125.4,122" stroke="#a07038" stroke-opacity="0.51" stroke-width="1.1"/>
<path d="M274.6,114.9C275.4,115.2 277.7,116.2 279.2,116.3C280.7,116.4 282.3,115.6 283.8,115.5C285.3,115.3 287.6,115.3 288.3,115.3" stroke="#6f6050" stroke-opacity="0.67" stroke-width="1.0"/>
<path d="M85.5,120.9C86.3,120.9 88.8,120.6 90.4,120.9C92,121.1 94.5,122.1 95.3,122.3" stroke="#b8884a" stroke-opacity="0.70" stroke-width="0.8"/>
<path d="M71.2,120.3C71.9,120.3 74,120.3 75.4,120.4C76.8,120.4 78.2,120.5 79.6,120.4C81,120.3 83.1,119.7 83.7,119.6" stroke="#6f6050" stroke-opacity="0.81" stroke-width="0.8"/>
<path d="M104.6,124.3C105.1,124.4 106.5,124.6 107.5,124.8C108.5,125 110,125.4 110.5,125.6" stroke="#8a6a40" stroke-opacity="0.70" stroke-width="0.9"/>
<path d="M325.6,116.9C326.6,116.8 329.8,116.1 331.9,116.1C334,116.1 337.1,116.9 338.2,117" stroke="#6f6050" stroke-opacity="0.84" stroke-width="0.7"/>
<path d="M203.5,119C203.9,118.9 205,118.2 205.8,118.2C206.6,118.3 207.3,119.1 208.1,119.2C208.8,119.4 209.6,119.2 210.3,119C211.1,118.9 212.2,118.6 212.6,118.5" stroke="#6f6050" stroke-opacity="0.82" stroke-width="0.9"/>
<path d="M225.7,119.1C226.1,119.1 227.3,119.5 228.1,119.5C228.8,119.6 229.6,119.4 230.4,119.3C231.2,119.1 232.3,118.8 232.7,118.7" stroke="#8a6a40" stroke-opacity="0.85" stroke-width="1.0"/>
<path d="M150.1,120.7C150.6,120.5 152,119.3 152.9,119.3C153.9,119.3 155.3,120.5 155.8,120.7" stroke="#8a6a40" stroke-opacity="0.74" stroke-width="0.8"/>
<path d="M326.1,117.7C326.5,117.5 327.6,116.4 328.3,116.2C329.1,116 329.8,116.4 330.5,116.6C331.3,116.7 332.4,117 332.7,117.1" stroke="#6f6050" stroke-opacity="0.68" stroke-width="0.9"/>
<path d="M139.2,118.9C139.8,119.1 141.7,119.8 142.9,119.9C144.1,119.9 145.9,119.3 146.5,119.2" stroke="#a07038" stroke-opacity="0.88" stroke-width="1.1"/>
<path d="M147.7,120.2C148.2,120.1 150,119.9 151.2,120C152.3,120 153.5,120.4 154.7,120.5C155.8,120.5 157.6,120.4 158.2,120.4" stroke="#8a6a40" stroke-opacity="0.62" stroke-width="1.0"/>
<path d="M136,125C136.3,125.1 137.2,125.4 137.9,125.6C138.5,125.8 139.1,125.9 139.7,126.1C140.3,126.2 141.2,126.2 141.5,126.3" stroke="#8a6a40" stroke-opacity="0.53" stroke-width="1.1"/>
<path d="M222,117C222.6,117 224.3,117 225.5,116.9C226.7,116.8 227.8,116.5 229,116.5C230.1,116.4 231.3,116.7 232.5,116.8C233.6,116.9 235.4,117.1 236,117.1" stroke="#6f6050" stroke-opacity="0.52" stroke-width="1.1"/>
<path d="M301.3,118.5C302.1,118.4 304.4,118 306,118C307.5,118 309.9,118.4 310.6,118.4" stroke="#b8884a" stroke-opacity="0.70" stroke-width="1.0"/>
<path d="M91.9,120.2C92.4,120.1 94.1,120 95.2,120C96.3,120.1 97.4,120.5 98.5,120.6C99.6,120.6 100.6,120.4 101.7,120.3C102.8,120.2 104.5,120 105,120" stroke="#a07038" stroke-opacity="0.71" stroke-width="1.0"/>
<path d="M331.8,112.8C332.7,112.9 335.5,113.6 337.3,113.7C339.1,113.7 341.8,113.2 342.7,113.1" stroke="#b8884a" stroke-opacity="0.71" stroke-width="0.9"/>
<path d="M158.4,118.8C158.9,118.8 160.6,118.9 161.8,118.8C162.9,118.6 164.1,117.8 165.2,117.8C166.3,117.7 167.5,118.5 168.6,118.6C169.7,118.6 171.5,117.9 172,117.8" stroke="#6f6050" stroke-opacity="0.75" stroke-width="1.0"/>
<path d="M56.7,122.6C57.2,122.3 58.8,121.4 59.8,121.1C60.9,120.8 61.9,120.7 63,121C64,121.2 65.1,122.5 66.2,122.7C67.2,122.8 68.8,122.1 69.3,122" stroke="#a07038" stroke-opacity="0.56" stroke-width="1.1"/>
<path d="M188.7,120.9C189,120.9 190.1,121 190.8,121C191.5,121 192.2,120.9 192.9,120.9C193.6,120.9 194.7,121 195,121.1" stroke="#6f6050" stroke-opacity="0.53" stroke-width="0.8"/>
<path d="M123.4,124.6C123.9,124.8 125.5,125.6 126.6,125.8C127.7,125.9 128.8,125.5 129.8,125.5C130.9,125.5 132,125.5 133.1,125.6C134.1,125.8 135.7,126.4 136.3,126.5" stroke="#b8884a" stroke-opacity="0.81" stroke-width="0.9"/>
<path d="M240.3,118C240.7,117.8 242,117 242.9,116.8C243.7,116.7 245,117.1 245.4,117.2" stroke="#a07038" stroke-opacity="0.54" stroke-width="1.0"/>
<path d="M251,118.6C251.5,118.6 253.1,118.6 254.1,118.8C255.1,119 256.2,119.6 257.2,119.8C258.2,120 259.2,120.3 260.3,120C261.3,119.8 262.8,118.6 263.4,118.3" stroke="#6f6050" stroke-opacity="0.89" stroke-width="0.7"/>
<path d="M75.4,117.6C76,117.8 78,118.6 79.3,118.5C80.6,118.5 81.9,117.3 83.3,117.3C84.6,117.3 86.6,118.2 87.2,118.4" stroke="#a07038" stroke-opacity="0.68" stroke-width="1.0"/>
<path d="M72.2,123.4C72.9,123.3 75,123.2 76.4,123.2C77.7,123.2 79.1,123.4 80.5,123.3C81.9,123.3 83.9,122.9 84.6,122.8" stroke="#6f6050" stroke-opacity="0.61" stroke-width="1.0"/>
<path d="M302.6,114.2C303.2,114.2 305.2,113.8 306.5,113.8C307.8,113.8 309.2,114.3 310.5,114.4C311.8,114.4 313.8,114 314.5,113.9" stroke="#b8884a" stroke-opacity="0.87" stroke-width="1.0"/>
<path d="M296,120.4C296.4,120.2 297.5,119.8 298.2,119.6C298.9,119.4 299.6,118.8 300.3,119C301,119.1 301.7,120.3 302.4,120.6C303.1,120.9 304.2,120.7 304.6,120.8" stroke="#b8884a" stroke-opacity="0.57" stroke-width="1.1"/>
<path d="M290.9,115.6C291.3,115.5 292.5,115.1 293.4,115.1C294.2,115.1 295,115.3 295.9,115.5C296.7,115.6 297.5,116 298.3,116.1C299.2,116.2 300.4,116.2 300.8,116.2" stroke="#a07038" stroke-opacity="0.87" stroke-width="1.0"/>
<path d="M164.8,115.8C165.2,116 166.6,116.6 167.5,116.7C168.3,116.8 169.2,116.6 170.1,116.5C171,116.5 172.3,116.4 172.8,116.4" stroke="#6f6050" stroke-opacity="0.51" stroke-width="0.8"/>
<path d="M113,120.4C113.7,120.3 115.9,120 117.3,120C118.8,120 121,120.4 121.7,120.5" stroke="#8a6a40" stroke-opacity="0.80" stroke-width="0.8"/>
<path d="M75.8,126.3C76.2,126.1 77.6,125 78.6,124.9C79.5,124.8 80.4,125.3 81.4,125.6C82.3,125.9 83.2,126.6 84.1,126.6C85.1,126.6 86.5,125.8 86.9,125.6" stroke="#a07038" stroke-opacity="0.89" stroke-width="0.9"/>
<path d="M70.5,119.3C71.2,119.1 73.1,118.1 74.4,118C75.8,117.9 77.1,118.7 78.4,118.9C79.7,119.1 81.6,119.1 82.3,119.1" stroke="#6f6050" stroke-opacity="0.67" stroke-width="0.8"/>
<path d="M88,120.6C88.5,120.6 90,120.5 91,120.7C92,120.8 93.5,121.4 94,121.6" stroke="#a07038" stroke-opacity="0.81" stroke-width="1.0"/>
<path d="M321.8,114.6C322.3,114.4 323.8,113.7 324.8,113.5C325.7,113.2 326.7,113 327.7,113.1C328.7,113.1 330.1,113.7 330.6,113.8" stroke="#8a6a40" stroke-opacity="0.89" stroke-width="0.7"/>
<path d="M304.9,119.8C305.4,119.9 306.9,120.2 307.9,120.3C308.9,120.3 309.9,120.2 310.9,120.2C311.9,120.2 312.9,120.2 313.9,120.1C314.9,120 316.4,119.8 316.9,119.7" stroke="#b8884a" stroke-opacity="0.66" stroke-width="1.0"/>
<path d="M215.3,118C215.9,118.3 217.9,119.4 219.3,119.6C220.6,119.8 221.9,119.5 223.3,119.3C224.6,119 226.6,118.4 227.2,118.2" stroke="#8a6a40" stroke-opacity="0.58" stroke-width="1.0"/>
<path d="M285.8,112.5C286.2,112.5 287.4,112.1 288.2,112.1C289,112.2 289.8,112.8 290.6,112.9C291.3,112.9 292.1,112.6 292.9,112.5C293.7,112.4 294.9,112.5 295.3,112.6" stroke="#a07038" stroke-opacity="0.86" stroke-width="1.1"/>
<path d="M308.2,117.7C308.9,117.8 310.8,118.2 312.2,117.9C313.5,117.6 315.4,116.3 316.1,115.9" stroke="#8a6a40" stroke-opacity="0.85" stroke-width="0.8"/>
<path d="M221.5,119C222,119 223.4,119.3 224.4,119.3C225.4,119.3 226.3,119 227.3,119C228.3,119 229.7,119.3 230.2,119.4" stroke="#8a6a40" stroke-opacity="0.55" stroke-width="1.0"/>
<path d="M196.7,112.9C197.5,112.9 199.9,112.8 201.4,113C203,113.3 205.4,114.2 206.2,114.4" stroke="#8a6a40" stroke-opacity="0.51" stroke-width="1.0"/>
<path d="M170.2,119C170.8,119.1 172.5,119.7 173.6,119.7C174.7,119.6 175.9,119 177,118.8C178.1,118.6 179.2,118.5 180.4,118.4C181.5,118.3 183.2,118.2 183.7,118.2" stroke="#b8884a" stroke-opacity="0.54" stroke-width="1.0"/>
<path d="M230.2,113.8C230.6,113.8 231.9,113.7 232.7,113.6C233.5,113.5 234.4,113.3 235.2,113.2C236.1,113.2 236.9,113.1 237.7,113.3C238.6,113.5 239.8,114.3 240.2,114.4" stroke="#b8884a" stroke-opacity="0.85" stroke-width="1.1"/>
<path d="M100.2,118.5C100.7,118.6 102.2,119.3 103.2,119.4C104.3,119.5 105.8,119.2 106.3,119.1" stroke="#b8884a" stroke-opacity="0.65" stroke-width="0.9"/>
<path d="M219,114.8C219.6,114.9 221.3,115.1 222.5,115.1C223.6,115.2 224.8,115.1 226,115.2C227.1,115.3 228.9,115.6 229.5,115.7" stroke="#8a6a40" stroke-opacity="0.77" stroke-width="1.0"/>
<path d="M127.5,119.9C128.1,119.9 130,120.4 131.2,120.3C132.4,120.1 133.7,118.8 134.9,118.8C136.2,118.9 138,120.3 138.7,120.6" stroke="#8a6a40" stroke-opacity="0.71" stroke-width="1.0"/>
<path d="M133.6,119.1C133.8,119.1 134.4,119.4 134.8,119.4C135.3,119.4 135.7,119.1 136.1,119.1C136.5,119.2 137,119.7 137.4,119.6C137.8,119.4 138.5,118.6 138.7,118.4" stroke="#8a6a40" stroke-opacity="0.57" stroke-width="0.9"/>
<path d="M225.8,117.6C226.7,117.7 229.3,118.1 231.1,118.3C232.8,118.6 235.5,119.2 236.3,119.3" stroke="#8a6a40" stroke-opacity="0.89" stroke-width="0.7"/>
<path d="M176.8,116.8C177.5,117 179.6,118.1 181,118.2C182.4,118.3 183.8,117.5 185.2,117.5C186.6,117.5 188.7,118 189.4,118.1" stroke="#6f6050" stroke-opacity="0.55" stroke-width="0.8"/>
<path d="M83.6,124.9C84.1,125 85.5,125.3 86.5,125.4C87.4,125.5 88.4,125.9 89.3,125.6C90.3,125.3 91.7,124.1 92.2,123.8" stroke="#a07038" stroke-opacity="0.53" stroke-width="0.8"/>
<path d="M85.7,125.6C86.2,125.4 87.6,124.2 88.6,124.1C89.6,124 90.6,124.8 91.5,125.1C92.5,125.3 94,125.7 94.5,125.8" stroke="#6f6050" stroke-opacity="0.67" stroke-width="0.9"/>
<path d="M85.3,120.8C86.4,120.7 89.8,120.6 92.1,120.4C94.4,120.2 97.8,119.5 99,119.3" stroke="#a07038" stroke-opacity="0.84" stroke-width="0.9"/>
<rect x="222" y="153.6" width="2.4" height="0.6" fill="#c0a070" fill-opacity="0.63"/>
<rect x="224.3" y="146.3" width="2.3" height="0.7" fill="#b04830" fill-opacity="0.68"/>
<rect x="226.9" y="151.8" width="2.1" height="0.6" fill="#6f6558" fill-opacity="0.45"/>
<rect x="213.9" y="160.2" width="2.1" height="0.8" fill="#6f6558" fill-opacity="0.35"/>
<rect x="227.5" y="168.5" width="3.4" height="0.8" fill="#8c7350" fill-opacity="0.53"/>
<rect x="212.6" y="147.3" width="3.3" height="0.8" fill="#b04830" fill-opacity="0.43"/>
<rect x="221.4" y="153.8" width="1.2" height="0.8" fill="#4050b0" fill-opacity="0.36"/>
<rect x="212.3" y="153.1" width="1.1" height="0.7" fill="#4050b0" fill-opacity="0.56"/>
<rect x="220.9" y="165.1" width="1.4" height="0.8" fill="#6f6558" fill-opacity="0.67"/>
<rect x="210.2" y="168" width="2.9" height="0.7" fill="#b04830" fill-opacity="0.68"/>
<rect x="218.1" y="153.2" width="1.6" height="0.6" fill="#4050b0" fill-opacity="0.51"/>
<rect x="230.2" y="149.2" width="1.8" height="0.8" fill="#b04830" fill-opacity="0.61"/>
<rect x="219.4" y="151.4" width="2.1" height="0.5" fill="#8c7350" fill-opacity="0.43"/>
<rect x="214.9" y="144.2" width="2.1" height="0.8" fill="#c0a070" fill-opacity="0.67"/>
<rect x="219.9" y="166.1" width="2.8" height="1" fill="#6f6558" fill-opacity="0.51"/>
<rect x="222.9" y="143.7" width="2.2" height="0.7" fill="#c0a070" fill-opacity="0.35"/>
<rect x="221.2" y="151.4" width="2" height="0.9" fill="#4050b0" fill-opacity="0.48"/>
<rect x="233.1" y="153.2" width="1.1" height="0.5" fill="#4050b0" fill-opacity="0.33"/>
<rect x="215.8" y="146.1" width="2.5" height="0.9" fill="#c0a070" fill-opacity="0.36"/>
<rect x="230.1" y="162.9" width="3.3" height="0.7" fill="#6f6558" fill-opacity="0.66"/>
<rect x="225.5" y="153.4" width="2.6" height="1" fill="#b04830" fill-opacity="0.60"/>
<rect x="215" y="142.9" width="1.5" height="1" fill="#4050b0" fill-opacity="0.63"/>
<rect x="219.4" y="163.8" width="3.4" height="0.7" fill="#b04830" fill-opacity="0.59"/>
<rect x="230.9" y="143.2" width="3.3" height="0.9" fill="#8c7350" fill-opacity="0.69"/>
<rect x="214" y="160.1" width="1.4" height="0.8" fill="#b04830" fill-opacity="0.69"/>
<rect x="211.1" y="158" width="2.1" height="1" fill="#6f6558" fill-opacity="0.66"/>
<rect x="219" y="162.1" width="2.7" height="0.8" fill="#c0a070" fill-opacity="0.48"/>
<rect x="226.8" y="147.6" width="2.5" height="0.6" fill="#8c7350" fill-opacity="0.38"/>
<rect x="223.1" y="165.6" width="3.2" height="0.8" fill="#8c7350" fill-opacity="0.61"/>
<rect x="228.3" y="164.2" width="1.9" height="0.7" fill="#c0a070" fill-opacity="0.60"/>
<rect x="223.6" y="149.6" width="2.7" height="0.8" fill="#4050b0" fill-opacity="0.66"/>
<rect x="217.3" y="159.3" width="1.9" height="0.6" fill="#c0a070" fill-opacity="0.64"/>
<rect x="222.4" y="144.3" width="2.3" height="0.7" fill="#c0a070" fill-opacity="0.66"/>
<rect x="210.7" y="158.3" width="2" height="0.8" fill="#4050b0" fill-opacity="0.64"/>
<rect x="229.4" y="142.4" width="1.8" height="0.7" fill="#c0a070" fill-opacity="0.54"/>
<rect x="213.9" y="147" width="1.4" height="0.5" fill="#8c7350" fill-opacity="0.39"/>
<rect x="226.9" y="167.7" width="1.5" height="0.8" fill="#c0a070" fill-opacity="0.67"/>
<rect x="228.5" y="158" width="2" height="0.7" fill="#4050b0" fill-opacity="0.38"/>
<rect x="232.1" y="157.2" width="2.9" height="0.9" fill="#8c7350" fill-opacity="0.56"/>
<rect x="222.2" y="143" width="1.9" height="1" fill="#6f6558" fill-opacity="0.54"/>
<rect x="210.8" y="146.3" width="2.5" height="0.9" fill="#b04830" fill-opacity="0.31"/>
<rect x="231.8" y="155.8" width="1.9" height="0.7" fill="#4050b0" fill-opacity="0.65"/>
<rect x="207.7" y="166.9" width="2.1" height="0.7" fill="#c0a070" fill-opacity="0.59"/>
<rect x="233.6" y="146.7" width="3.1" height="0.9" fill="#6f6558" fill-opacity="0.68"/>
<rect x="220.4" y="152.5" width="1.2" height="0.8" fill="#8c7350" fill-opacity="0.67"/>
<rect x="211.2" y="159.1" width="2.4" height="1" fill="#6f6558" fill-opacity="0.52"/>
<rect x="232.9" y="158.3" width="1.4" height="1" fill="#b04830" fill-opacity="0.32"/>
<rect x="210.9" y="159.2" width="1.9" height="0.6" fill="#8c7350" fill-opacity="0.46"/>
<rect x="227.4" y="144.1" width="2.9" height="0.7" fill="#b04830" fill-opacity="0.46"/>
<rect x="227.1" y="154.6" width="2.9" height="0.9" fill="#b04830" fill-opacity="0.63"/>
<rect x="210.9" y="161.1" width="1.4" height="0.8" fill="#c0a070" fill-opacity="0.69"/>
<rect x="217.1" y="164" width="1.6" height="0.7" fill="#6f6558" fill-opacity="0.59"/>
<rect x="220.9" y="164.9" width="1.2" height="0.9" fill="#4050b0" fill-opacity="0.55"/>
<rect x="223" y="156.4" width="1" height="0.6" fill="#c0a070" fill-opacity="0.58"/>
<rect x="208.7" y="159.2" width="2.2" height="0.8" fill="#c0a070" fill-opacity="0.53"/>
<rect x="214" y="143.9" width="3.2" height="0.8" fill="#4050b0" fill-opacity="0.51"/>
<rect x="208.1" y="163.9" width="1" height="0.9" fill="#6f6558" fill-opacity="0.63"/>
<rect x="211" y="143.3" width="1.8" height="0.7" fill="#b04830" fill-opacity="0.31"/>
<rect x="209.6" y="167.9" width="1.5" height="1" fill="#c0a070" fill-opacity="0.55"/>
<rect x="222.4" y="153.3" width="2.4" height="0.5" fill="#8c7350" fill-opacity="0.35"/>
<path d="M243,91.1 l36.7,-10.3" stroke="#7a5a38" stroke-opacity="0.74" stroke-width="1.1" stroke-dasharray="1.4,1.2,3.1,1.8,1.7,3.5"/>
<path d="M250.9,91.1 l38.6,-11" stroke="#7a5a38" stroke-opacity="0.60" stroke-width="1.1" stroke-dasharray="2.7,3.2,2.4,2.9,2.7,1.3"/>
<path d="M259,90 l35.4,-7.9" stroke="#7a5a38" stroke-opacity="0.81" stroke-width="1.1" stroke-dasharray="2.3,2.9,3.2,2.8,3.3,2.1"/>
<path d="M266.2,89.1 l46.8,-14.4" stroke="#7a5a38" stroke-opacity="0.58" stroke-width="1.1" stroke-dasharray="1.5,1.7,3.4,2.2,2.6,1.9"/>
<path d="M272,88.4 l36.3,-10.1" stroke="#7a5a38" stroke-opacity="0.73" stroke-width="1.1" stroke-dasharray="3.3,2.8,3.3,3.2,3.5,2.7"/>
<path d="M277.7,88.7 l47.4,-14.7" stroke="#7a5a38" stroke-opacity="0.72" stroke-width="1.1" stroke-dasharray="2.8,1.7,3.1,2.5,1.9,1.3"/>
<path d="M287.4,88.4 l31.6,-9.5" stroke="#7a5a38" stroke-opacity="0.67" stroke-width="1.1" stroke-dasharray="1.5,1.9,3.0,3.2,1.3,2.6"/>
<path d="M252.9,86.2 l2.7,-1.1" stroke="#6e5a40" stroke-opacity="0.74" stroke-width="1"/>
<path d="M282.9,91 l2.6,-0.6" stroke="#6e5a40" stroke-opacity="0.61" stroke-width="1"/>
<path d="M252,77.4 l2.8,-0.9" stroke="#6e5a40" stroke-opacity="0.45" stroke-width="1"/>
<path d="M252.8,88.8 l2.6,-1.2" stroke="#6e5a40" stroke-opacity="0.71" stroke-width="1"/>
<path d="M274.6,81.8 l3,-1" stroke="#6e5a40" stroke-opacity="0.61" stroke-width="1"/>
<path d="M286.4,84.5 l3.9,-0.9" stroke="#6e5a40" stroke-opacity="0.55" stroke-width="1"/>
<path d="M296.8,78 l2.6,-1.2" stroke="#6e5a40" stroke-opacity="0.58" stroke-width="1"/>
<path d="M285.6,74.2 l2.8,-0.9" stroke="#6e5a40" stroke-opacity="0.41" stroke-width="1"/>
<path d="M290,84.7 l2.1,-0.9" stroke="#6e5a40" stroke-opacity="0.56" stroke-width="1"/>
<path d="M294.2,80 l3.4,-1" stroke="#6e5a40" stroke-opacity="0.41" stroke-width="1"/>
<path d="M253.9,85.5 l3.9,-0.7" stroke="#6e5a40" stroke-opacity="0.56" stroke-width="1"/>
<path d="M288.5,79.4 l2.7,-0.7" stroke="#6e5a40" stroke-opacity="0.53" stroke-width="1"/>
<path d="M288.7,79.1 l2.8,-1" stroke="#6e5a40" stroke-opacity="0.41" stroke-width="1"/>
<path d="M287,86.5 l2.6,-0.7" stroke="#6e5a40" stroke-opacity="0.68" stroke-width="1"/>
<path d="M265.5,77.2 l2.9,-1" stroke="#6e5a40" stroke-opacity="0.44" stroke-width="1"/>
<path d="M270.9,79.7 l3.7,-0.8" stroke="#6e5a40" stroke-opacity="0.70" stroke-width="1"/>
<path d="M261,79.7 l3.3,-1.1" stroke="#6e5a40" stroke-opacity="0.56" stroke-width="1"/>
<path d="M264.6,76.1 l3.1,-0.6" stroke="#6e5a40" stroke-opacity="0.68" stroke-width="1"/>
<path d="M304.5,77.1 l2.6,-1.1" stroke="#6e5a40" stroke-opacity="0.62" stroke-width="1"/>
<path d="M302.4,79.9 l2.3,-0.7" stroke="#6e5a40" stroke-opacity="0.68" stroke-width="1"/>
<path d="M267.6,79.9 l2.8,-0.8" stroke="#6e5a40" stroke-opacity="0.54" stroke-width="1"/>
<path d="M309.8,76.7 l2,-1.2" stroke="#6e5a40" stroke-opacity="0.71" stroke-width="1"/>
<path d="M314.1,81.4 l3.9,-1.1" stroke="#6e5a40" stroke-opacity="0.48" stroke-width="1"/>
<path d="M298.5,88.2 l3.3,-0.9" stroke="#6e5a40" stroke-opacity="0.50" stroke-width="1"/>
<path d="M272.2,77.9 l2.1,-0.9" stroke="#6e5a40" stroke-opacity="0.50" stroke-width="1"/>
<path d="M302.7,74.8 l3.8,-1" stroke="#6e5a40" stroke-opacity="0.72" stroke-width="1"/>
<path d="M308.3,89.3 l3.2,-0.5" stroke="#6e5a40" stroke-opacity="0.66" stroke-width="1"/>
<path d="M261.2,79.1 l3.3,-0.9" stroke="#6e5a40" stroke-opacity="0.54" stroke-width="1"/>
<path d="M311,84.4 l2.7,-0.7" stroke="#6e5a40" stroke-opacity="0.70" stroke-width="1"/>
<path d="M281,87.3 l2.7,-0.6" stroke="#6e5a40" stroke-opacity="0.59" stroke-width="1"/>
<path d="M48,28.5 336,28.5" stroke="#a8895a" stroke-opacity="0.60" stroke-width="1.00"/>
<path d="M48,30.5 336,30.5" stroke="#b89a68" stroke-opacity="0.45" stroke-width="0.90"/>
<path d="M48,55.5C64.7,55.4 114.7,55.6 148,55C181.3,54.4 216.7,52.5 248,52C279.3,51.5 321.3,52 336,52" stroke="#7c6a52" stroke-opacity="0.55" stroke-width="0.80"/>
<path d="M48,66.6C59.7,65.9 101.3,63.5 118,62.4C134.7,61.3 126.3,61.2 148,60C169.7,58.8 216.7,56 248,55C279.3,54 321.3,54.2 336,54" stroke="#6e5b45" stroke-opacity="0.60" stroke-width="0.80"/>
<path d="M48,81.5C59.7,79.6 101.3,72.3 118,70C134.7,67.7 134.3,68.6 148,67.5C161.7,66.4 183.3,64.4 200,63.5C216.7,62.6 225.3,62.4 248,62C270.7,61.6 321.3,61.2 336,61" stroke="#6e5b45" stroke-opacity="0.65" stroke-width="0.90"/>
<path d="M48,87.3C59.7,85.7 101,79.4 118,77.4C135,75.4 144.7,75.8 150,75.5" stroke="#6e5b45" stroke-opacity="0.70" stroke-width="0.90"/>
<path d="M48,89.8C59.7,88.5 101.3,84.1 118,82.3C134.7,80.5 135.7,80.6 148,79C160.3,77.4 175.3,74 192,72.5C208.7,71 224,70.5 248,70C272,69.5 321.3,69.6 336,69.5" stroke="#5e4a66" stroke-opacity="0.60" stroke-width="0.90"/>
<path d="M48,93.5C59.7,92.2 101.3,87.8 118,86C134.7,84.2 126.3,85 148,83C169.7,81 216.7,75.8 248,74C279.3,72.2 321.3,72.3 336,72" stroke="#7a6a55" stroke-opacity="0.50" stroke-width="0.80"/>
<path d="M190,63.2C200,63.2 225.7,63.1 250,63C274.3,62.9 321.7,62.6 336,62.5" stroke="#b85038" stroke-opacity="0.60" stroke-width="0.90" stroke-dasharray="9,4,5,3,12,5"/>
<path d="M150,75.8C153.3,75.2 163,73.4 170,72.2C177,71 180.3,69.7 192,68.8C203.7,67.9 216,67.2 240,66.8C264,66.4 320,66.5 336,66.5" stroke="#c04a30" stroke-opacity="0.75" stroke-width="0.90" stroke-dasharray="14,3,7,4,20,3,5,5"/>
<path d="M275,90 336,89.5" stroke="#c04a30" stroke-opacity="0.75" stroke-width="1.00" stroke-dasharray="10,3,6,2"/>
<path d="M190,93.3 260,93" stroke="#6e5b45" stroke-opacity="0.55" stroke-width="0.90"/>
<path d="M48,106.2C64.7,105.8 114.7,105.3 148,104C181.3,102.7 216.7,99.6 248,98.5C279.3,97.4 321.3,97.5 336,97.3" stroke="#c05a3a" stroke-opacity="0.70" stroke-width="0.90"/>
<path d="M48,104.2C64.7,103.9 114.7,103.5 148,102.2C181.3,100.9 216.7,97.7 248,96.5C279.3,95.3 321.3,95.4 336,95.2" stroke="#6f5a40" stroke-opacity="0.60" stroke-width="1.00"/>
<path d="M48,130.5C64.7,130.3 122.7,130.1 148,129.5C173.3,128.9 187.7,128.2 200,127C212.3,125.8 215.3,121.5 222,122C228.7,122.5 221,127.8 240,130C259,132.2 320,134.2 336,135" stroke="#8c7350" stroke-opacity="0.50" stroke-width="0.80"/>
<path d="M240,114 336,114" stroke="#c8442a" stroke-opacity="0.70" stroke-width="0.80"/>
<path d="M240,118.7 336,118.7" stroke="#b44030" stroke-opacity="0.60" stroke-width="0.80"/>
<path d="M48,150.6C55,149.3 78.2,143.8 90,142.8C101.8,141.8 106.5,142.8 119,144.6C131.5,146.4 154.8,151.6 165,153.4C175.2,155.2 175.8,155.5 180,155.2C184.2,154.9 186.7,153.4 190,151.5C193.3,149.6 197.2,146.6 200,144C202.8,141.4 204.8,138.3 207,136C209.2,133.7 211,131.4 213,130C215,128.6 216.8,127.8 219,127.5C221.2,127.2 223.7,127.6 226,128.5C228.3,129.4 230.3,130.9 233,133C235.7,135.1 238.8,138.5 242,141C245.2,143.5 248,146.2 252,148C256,149.8 261.3,150.9 266,151.5C270.7,152.1 268.3,151 280,151.5C291.7,152 326.7,154 336,154.5" stroke="#8f6b3e" stroke-opacity="0.80" stroke-width="1.00"/>
<path d="M48,152.4C55,151.2 78,145.9 90,145C102,144.1 107.5,145.1 120,146.8C132.5,148.5 155,153.7 165,155.3C175,156.9 175.8,156.9 180,156.6C184.2,156.3 186.8,155.2 190,153.5C193.2,151.8 196.3,149.1 199,146.5C201.7,143.9 203.8,140.3 206,138C208.2,135.7 209.8,134 212,132.5C214.2,131 216.7,129.2 219,129C221.3,128.8 223.7,129.9 226,131C228.3,132.1 230.5,133.8 233,135.5C235.5,137.2 238,138.9 241,141.2C244,143.4 247.7,147 251,149C254.3,151 257.7,152.3 261,153C264.3,153.7 258.3,152.3 270.8,153C283.3,153.7 325.1,156.3 336,157" stroke="#d0502a" stroke-opacity="0.85" stroke-width="0.90"/>
<path d="M48,154.1C55,152.9 78,147.9 90,147C102,146.1 107.5,147.1 120,148.8C132.5,150.5 155,155.5 165,157C175,158.5 175.8,158 180,157.7C184.2,157.4 187,156.4 190,155C193,153.6 195.5,152 198,149.5C200.5,147 202.8,142.4 205,140C207.2,137.6 210,136.1 211,135.3" stroke="#3848c8" stroke-opacity="0.95" stroke-width="1.20"/>
<path d="M216,131.5C216.5,131.3 217.3,130.2 219,130.5C220.7,130.8 224.2,131.8 226,133C227.8,134.2 228.7,135.8 230,138C231.3,140.2 232.8,143.5 234,146C235.2,148.5 236.5,151.8 237,153" stroke="#3848c8" stroke-opacity="0.95" stroke-width="1.20"/>
<path d="M252,154.5C254.3,154.7 261.3,155.2 266,155.4C270.7,155.6 276.5,155 280,155.4C283.5,155.8 277.7,157.2 287,157.8C296.3,158.4 327.8,158.8 336,159" stroke="#3848c8" stroke-opacity="0.95" stroke-width="1.20"/>
<path d="M48,160.5C55,158.8 78,152.1 90,150.6C102,149.1 107.5,150 120,151.7C132.5,153.3 155,158.7 165,160.5C175,162.3 175.5,162.6 180,162.3C184.5,162 188.8,160 192,158.5C195.2,157 196.8,155.5 199,153.5C201.2,151.5 203.3,148.6 205,146.5C206.7,144.4 208.3,141.9 209,141" stroke="#e04a22" stroke-opacity="0.90" stroke-width="1.10"/>
<path d="M226,137.5C227.2,138.5 230.3,141.3 233,143.5C235.7,145.7 237.3,147.7 242,150.5C246.7,153.3 254.7,158.3 261,160.5C267.3,162.7 267.5,163.4 280,163.7C292.5,164 326.7,162.7 336,162.5" stroke="#e04a22" stroke-opacity="0.90" stroke-width="1.10"/>
<path d="M202.5,164C203.2,162.3 205.4,157.3 207,154C208.6,150.7 210.5,146.5 212,144C213.5,141.5 215.3,139.8 216,139" stroke="#3848c8" stroke-opacity="0.70" stroke-width="0.90"/>
<path d="M230,150C230.7,151.3 233,155.3 234,158C235,160.7 235.7,164.7 236,166" stroke="#3848c8" stroke-opacity="0.70" stroke-width="0.90"/>
<path d="M48,165C55,163.5 78,157.3 90,156C102,154.7 107.5,155.5 120,157C132.5,158.5 155,163.3 165,165C175,166.7 175,167.2 180,167C185,166.8 191.3,165.2 195,164C198.7,162.8 200.8,160.7 202,160" stroke="#c84a28" stroke-opacity="0.75" stroke-width="0.90"/>
<path d="M262,167 336,165.5" stroke="#c84a28" stroke-opacity="0.75" stroke-width="0.90"/>
<path d="M82.2,72.4 92.8,72.4" stroke="#a02a6a" stroke-opacity="0.90" stroke-width="1.30"/></g>
<clipPath id="ca"><rect x="48" y="21" width="288" height="148"/></clipPath>
<clipPath id="cb"><rect x="95" y="198" width="189" height="149"/></clipPath>
<clipPath id="cc"><rect x="40" y="381" width="283" height="146"/></clipPath>
<linearGradient id="cbar" x1="0" y1="0" x2="0" y2="1"><stop offset="0" stop-color="#ffff00"/><stop offset="0.07" stop-color="#fff400"/><stop offset="0.16" stop-color="#ffa800"/><stop offset="0.24" stop-color="#ff4800"/><stop offset="0.3" stop-color="#e00000"/><stop offset="0.33" stop-color="#b00000"/><stop offset="0.365" stop-color="#7a4410"/><stop offset="0.41" stop-color="#b0a080"/><stop offset="0.46" stop-color="#e2e2e0"/><stop offset="0.52" stop-color="#9a9a9a"/><stop offset="0.565" stop-color="#444444"/><stop offset="0.6" stop-color="#000088"/><stop offset="0.65" stop-color="#0000d8"/><stop offset="0.77" stop-color="#0a58e8"/><stop offset="0.88" stop-color="#40a8f4"/><stop offset="1" stop-color="#48e4f8"/></linearGradient></defs>
<g clip-path="url(#ca)"><use href="#pa"/></g>
<g clip-path="url(#cb)"><g fill="none"><rect x="95" y="198" width="189" height="149" fill="#c9c6bf"/>
<rect x="95" y="198" width="189" height="149" filter="url(#nz)"/>
<path d="M95,200.3 97.3,200.2 112.9,200.8 128,200.6 141.9,200.7 153.5,200.6 169.9,200.2 186.5,200.4 200.6,200.5 214.7,200.3 226.5,200.8 236.3,200.4 249.2,200.3 263.9,200.7 274.3,200.3 284,200.8" stroke="#f0f0f0" stroke-opacity="0.60" stroke-width="0.8" stroke-dasharray="11.1,2.3,22.0,2.6,8.5,1.2,28.9,2.6" stroke-dashoffset="19"/>
<path d="M95,201.9 108.3,202.2 125.6,201.8 143.7,202.1 154.1,202.3 168.6,201.7 183.1,201.7 196.2,202.1 208.9,202 219.9,202 234.2,201.9 246.4,202.3 264.3,201.8 278.3,202.1 284,202.1" stroke="#b9ad93" stroke-opacity="0.40" stroke-width="0.7" stroke-dasharray="16.4,1.0,8.2,2.6,32.4,1.6,29.2,2.3" stroke-dashoffset="26"/>
<path d="M95,203.5 108.4,203.1 121.6,203.2 139.7,203.2 157.6,203.3 172.4,203.1 189.6,203.1 203.5,203.2 216.5,203.6 228.4,203.6 245.5,203.5 256.7,203.3 267.1,203.2 283.6,203.6 284,203.3" stroke="#e6e6e8" stroke-opacity="0.68" stroke-width="1.0" stroke-dasharray="18.4,1.1,18.5,2.5,22.5,2.8,22.2,1.1" stroke-dashoffset="17"/>
<path d="M95,204.4 97,204.7 112.8,204.8 125.8,204.3 136.7,204.4 152.5,204.5 164.5,204.5 177,204.9 188.9,204.5 206.8,204.8 220.1,204.7 235.6,204.4 251.8,204.8 268.4,204.4 279.3,204.8 284,204.8" stroke="#f0f0f0" stroke-opacity="0.66" stroke-width="0.9" stroke-dasharray="32.9,0.8,21.8,0.9,32.0,1.2,30.2,1.4" stroke-dashoffset="20"/>
<path d="M95,206 99.4,205.9 109.5,205.9 122.6,205.6 135,206.1 152.4,206.2 164.7,205.8 178.7,205.8 193.1,206.2 210.9,205.7 221.5,205.6 236.3,205.6 250.4,206.1 266.4,206 284,205.9" stroke="#e6e6e8" stroke-opacity="0.59" stroke-width="0.9" stroke-dasharray="22.0,1.9,35.8,1.0,6.8,2.3,7.4,1.4" stroke-dashoffset="17"/>
<path d="M95,207.5 100.7,207.5 114.1,207.6 130.6,207.3 143.7,207.4 156.3,207.4 168,207.3 185.4,207.3 200.7,207.4 210.9,207.5 222.1,207.7 235,207.2 249.9,207.2 261.5,207.6 275.1,207.5 284,207.2" stroke="#6f6a66" stroke-opacity="0.52" stroke-width="0.8" stroke-dasharray="31.3,3.0,39.7,1.2,20.7,2.3,18.6,2.1" stroke-dashoffset="5"/>
<path d="M95,208.9 96.1,208.8 106.2,208.5 120.3,209.1 138,208.6 156,208.7 173.3,208.8 187.4,209 199.2,208.7 214.8,208.5 230.6,208.8 241.7,208.7 254.8,208.7 268,208.7 281.7,209.1 284,209" stroke="#6f6a66" stroke-opacity="0.37" stroke-width="0.7" stroke-dasharray="6.1,1.2,25.4,2.8,20.7,2.6,16.5,1.7" stroke-dashoffset="26"/>
<path d="M95,210 98.4,210 113,210.1 129.8,210.1 144.5,209.8 158.2,209.8 174.7,209.9 190,210.1 200.4,209.7 213.9,210.2 230.7,210.1 248.8,209.8 264.1,209.8 275.2,210.2 284,209.9" stroke="#7a7064" stroke-opacity="0.31" stroke-width="0.8" stroke-dasharray="29.1,2.2,11.4,1.0,37.6,2.0,19.9,2.3" stroke-dashoffset="21"/>
<path d="M95,211.3 102.3,211.6 112.8,211.7 129.6,211.5 141.1,211.7 151.3,211.7 164,211.4 178.3,211.7 193.4,211.7 204.7,211.6 220.4,211.1 234.4,211.4 245.5,211.5 262.5,211.5 279.1,211.6 284,211.5" stroke="#9c8a68" stroke-opacity="0.37" stroke-width="1.0" stroke-dasharray="24.9,2.5,31.2,2.7,18.3,1.0,19.8,1.2" stroke-dashoffset="16"/>
<path d="M95,212.5 106.4,212.6 119.3,212.7 130.2,212.7 140.2,212.6 153.5,212.4 168.2,212.5 178.2,212.5 193.6,212.6 205.2,212.4 215.9,212.6 233.5,212.5 247.7,212.3 265,212.8 279.1,212.6 284,212.7" stroke="#9fa2a8" stroke-opacity="0.37" stroke-width="0.6" stroke-dasharray="10.8,0.9,32.4,2.7,16.1,2.6,21.6,1.9" stroke-dashoffset="26"/>
<path d="M95,214.3 102.7,214.1 119,214.5 134.4,214.3 144.5,214.2 162,214.5 172.9,214.4 185.5,214.1 198.2,214.1 212.8,214.4 226.3,214.5 242.2,214 252.6,214.4 264.5,214.4 275.2,214.3 284,214.1" stroke="#a9a9ae" stroke-opacity="0.37" stroke-width="0.8" stroke-dasharray="17.4,2.2,18.5,1.2,10.8,0.9,29.7,1.7" stroke-dashoffset="3"/>
<path d="M95,215.6 107.3,215.7 122.6,215.5 132.6,215.8 148.5,215.4 163.3,215.7 176.8,215.6 190.8,215.5 208.7,215.7 221.6,215.7 236.8,215.4 251.9,215.6 264.8,215.5 277.5,215.8 284,215.5" stroke="#ecebe7" stroke-opacity="0.69" stroke-width="0.8" stroke-dasharray="12.9,0.8,11.4,1.1,24.7,1.2,27.9,2.2" stroke-dashoffset="3"/>
<path d="M95,217.3 96.7,217.4 112.4,217.1 124,217.2 133.9,216.9 150.3,217.1 161.9,217.4 176.5,217.2 188.3,216.9 201.8,217.3 218.2,217.4 235.8,217 251.5,217.2 268.1,217 281.2,217.4 284,217.1" stroke="#e2e2e6" stroke-opacity="0.58" stroke-width="0.8" stroke-dasharray="33.2,0.9,15.8,1.0,17.0,2.5,31.6,1.1" stroke-dashoffset="9"/>
<path d="M95,218.1 96.6,218.6 111.9,218.3 125.4,218.1 137.2,218 150.1,218.2 167.2,218.5 180.6,218.2 196.2,218.4 211.3,218.2 225,218.4 239.5,218.3 252.4,218.5 263.8,218.3 277.8,218.3 284,218.2" stroke="#d6d4dc" stroke-opacity="0.41" stroke-width="0.7" stroke-dasharray="10.9,1.6,36.7,2.2,15.8,2.5,29.7,2.4" stroke-dashoffset="2"/>
<path d="M95,219.3 95.8,219.5 111.7,219.6 124,219.4 138.5,219.7 155.2,219.7 171.6,219.5 187.4,219.4 197.5,219.9 212.1,219.6 229.6,219.9 241.2,219.8 259.3,219.6 275.5,219.4 284,219.8" stroke="#aaa69e" stroke-opacity="0.44" stroke-width="0.8" stroke-dasharray="7.6,2.2,9.8,1.9,16.1,1.8,30.2,1.7" stroke-dashoffset="11"/>
<path d="M95,221.3 105.2,221.4 116,221.1 128.7,221.4 144.4,220.9 161.2,221.1 179.2,221 191.2,221.1 206.3,221 218.7,220.9 234.4,221.4 251.3,221 262.2,221.2 274.9,221.2 284,221.4" stroke="#b0aaa0" stroke-opacity="0.52" stroke-width="0.7" stroke-dasharray="12.8,1.2,30.9,1.7,17.1,2.4,19.1,2.5" stroke-dashoffset="8"/>
<path d="M95,222.8 108,222.6 118.1,222.8 130.4,222.8 142.2,223.1 158.9,222.9 175.1,223.1 186.5,223.1 204.3,223 219.3,223.1 236.7,222.9 250.4,222.6 266.2,223 283.8,223.1 284,222.9" stroke="#b3a58a" stroke-opacity="0.49" stroke-width="0.5" stroke-dasharray="38.3,2.9,21.0,2.1,18.4,2.1,19.5,1.8" stroke-dashoffset="22"/>
<path d="M95,223.8 97.6,223.9 109.9,223.8 126.1,224.2 137.8,224.1 148.2,223.9 165.7,224.1 176.8,224.1 190,223.9 202.5,224 214.5,224.1 227.2,224 241.6,224.1 252.3,224 266.6,224.2 276.8,223.8 284,224.1" stroke="#b0aaa0" stroke-opacity="0.59" stroke-width="0.6" stroke-dasharray="38.1,1.2,34.3,1.9,26.3,1.4,23.1,1.0" stroke-dashoffset="18"/>
<path d="M95,226.1 106.3,225.8 123.8,225.9 140.7,225.7 155.2,225.7 165.6,226 183.7,226.2 194.9,225.8 204.8,226.1 221.1,226 235.2,225.7 251.7,226 266.8,226 282,225.8 284,225.7" stroke="#aaa69e" stroke-opacity="0.32" stroke-width="0.6" stroke-dasharray="18.7,1.6,20.5,0.9,29.1,2.9,14.0,1.2" stroke-dashoffset="10"/>
<path d="M95,227.1 106.2,226.9 117.9,226.7 134.1,226.7 145.4,226.7 160.2,227 176,227 191.5,226.9 202,226.9 219.8,227.2 236.8,226.8 250.6,227 267.6,226.8 282.5,226.9 284,226.7" stroke="#dcdce2" stroke-opacity="0.36" stroke-width="1.0" stroke-dasharray="33.2,1.5,19.6,2.4,15.3,2.6,37.1,0.9" stroke-dashoffset="22"/>
<path d="M95,228.7 107.8,228.6 122.4,228.4 133.5,228.4 147.6,228.6 158.2,228.6 175,228.4 188.7,228.9 201.9,228.7 215.5,228.6 229.3,228.8 241.5,228.8 256.5,228.8 266.8,228.8 278.6,228.5 284,228.8" stroke="#d6d4dc" stroke-opacity="0.45" stroke-width="0.8" stroke-dasharray="38.7,1.0,15.3,2.3,36.9,2.9,22.0,2.5" stroke-dashoffset="29"/>
<path d="M95,229.8 99.6,230.2 111.3,229.9 123.3,230.3 139.7,230.3 150.6,230 165,230 182.7,229.8 194.1,229.9 209.2,229.8 223.5,229.8 241.4,230.1 255.5,229.7 269.4,230.1 284,230.1" stroke="#b0aaa0" stroke-opacity="0.33" stroke-width="0.7" stroke-dasharray="34.5,2.6,37.1,2.7,31.9,0.9,31.7,2.7" stroke-dashoffset="27"/>
<path d="M95,231.2 106.2,231.7 119.5,231.6 129.8,231.6 147.9,231.3 163.9,231.3 176,231.2 186,231.2 203.3,231.7 213.4,231.7 227.2,231.5 245,231.6 258.1,231.4 275.8,231.2 284,231.5" stroke="#e6e6e8" stroke-opacity="0.69" stroke-width="0.7" stroke-dasharray="29.6,2.5,33.0,1.6,22.1,2.5,14.5,1.9" stroke-dashoffset="19"/>
<path d="M95,232.3 106.9,232.2 118.8,232.6 134.2,232.6 145.8,232.3 156.9,232.7 170.7,232.6 185.9,232.3 201.1,232.8 218.9,232.7 230.1,232.4 244.3,232.7 258.2,232.3 270.1,232.4 284,232.4" stroke="#b9ad93" stroke-opacity="0.41" stroke-width="0.6" stroke-dasharray="35.5,2.1,35.7,2.7,35.7,0.9,32.7,1.3" stroke-dashoffset="7"/>
<path d="M95,234.2 102.6,233.9 119.4,234.1 131.1,234.4 145.9,234.1 158.6,234 173,233.8 189,234.1 199.2,234.1 209.3,234 223,234 237,233.8 250.3,234.3 267.2,233.9 278.3,233.9 284,234.3" stroke="#85807a" stroke-opacity="0.42" stroke-width="0.9" stroke-dasharray="17.7,1.2,30.2,1.8,29.6,1.9,33.6,1.9" stroke-dashoffset="29"/>
<path d="M95,235.5 106.4,235.7 122.2,235.8 136.2,236 151.1,235.8 164,236 174.5,235.7 191.7,235.9 208.3,236 224.5,235.8 241.6,235.5 256,235.9 274.1,235.5 284,235.7" stroke="#7a7064" stroke-opacity="0.54" stroke-width="0.9" stroke-dasharray="7.1,1.3,28.9,1.7,39.1,2.3,11.4,1.2" stroke-dashoffset="13"/>
<path d="M95,236.9 103,237 119.3,236.9 134.8,236.9 148.1,236.7 158.2,236.6 172,236.7 185.4,236.9 200.2,236.5 211.1,236.8 226.4,236.9 236.2,236.7 246.5,236.7 262.5,237 278.4,236.4 284,236.6" stroke="#6f6a66" stroke-opacity="0.61" stroke-width="0.9" stroke-dasharray="21.6,1.0,28.0,2.6,17.9,2.4,24.1,1.0" stroke-dashoffset="25"/>
<path d="M95,238.2 99.4,238 113.2,238.1 129.4,238 146.6,238.3 163.5,238 176.4,238.5 193.3,238.3 204.4,238.2 218.8,238 232.3,238.2 249.4,238.2 265.2,238 280.6,238.5 284,238.1" stroke="#dcdce2" stroke-opacity="0.63" stroke-width="0.9" stroke-dasharray="36.5,2.5,13.3,1.3,23.0,2.9,12.1,1.4" stroke-dashoffset="25"/>
<path d="M95,239.6 97.5,239.4 114.7,239.6 125.8,239.2 140.7,239.5 150.7,239.7 167.8,239.7 184.3,239.5 196.3,239.3 209.4,239.3 222.4,239.5 235.9,239.2 247,239.3 262.1,239.5 279.1,239.5 284,239.7" stroke="#b3a58a" stroke-opacity="0.47" stroke-width="0.6" stroke-dasharray="23.4,1.9,39.8,2.6,16.2,2.9,33.1,0.8" stroke-dashoffset="21"/>
<path d="M95,241.2 103.8,240.7 120.8,240.8 134.4,240.8 151.9,240.8 169.8,241.1 183.3,240.8 201.5,240.9 219,241 233.1,241.2 250.3,241.1 266.8,240.7 278.3,240.8 284,241" stroke="#97805a" stroke-opacity="0.43" stroke-width="0.7" stroke-dasharray="13.8,1.9,38.6,2.1,32.1,1.2,18.6,2.1" stroke-dashoffset="11"/>
<path d="M95,242.3 95.1,242.3 112.2,242.8 123.1,242.9 138.4,242.7 156.5,242.6 168.7,242.4 180.8,242.6 193.4,242.4 207.7,242.5 225.7,242.4 236.8,242.6 248.6,242.6 265.9,242.5 278.1,242.5 284,242.4" stroke="#7a7064" stroke-opacity="0.58" stroke-width="0.6" stroke-dasharray="22.5,2.4,28.3,2.9,37.2,1.7,20.2,2.6" stroke-dashoffset="20"/>
<path d="M95,243.8 106.5,243.5 117.5,243.7 135.3,243.8 146,243.8 157.5,243.4 175.1,243.4 192,243.6 207,243.9 221,243.3 232.8,243.4 248.6,243.9 258.7,243.4 269.1,243.6 280.8,243.9 284,243.4" stroke="#e6e6e8" stroke-opacity="0.69" stroke-width="0.6" stroke-dasharray="31.6,2.5,9.9,2.1,11.0,1.0,23.7,1.5" stroke-dashoffset="19"/>
<path d="M95,245.8 102.4,245.7 114.1,245.5 131.6,245.6 141.5,245.5 158,245.7 170.2,245.6 187.5,245.8 202.4,245.8 216.1,245.7 227.7,245.4 244.7,245.5 261.7,245.3 279.6,245.5 284,245.3" stroke="#97805a" stroke-opacity="0.33" stroke-width="0.8" stroke-dasharray="19.2,2.8,27.6,1.9,18.7,2.6,26.0,1.2" stroke-dashoffset="5"/>
<path d="M95,246.5 100.3,246.9 116.3,246.8 129.4,246.5 139.9,246.8 154.9,246.8 167.6,246.4 181,246.5 195.7,246.7 212.7,246.6 224,246.4 234.3,246.9 245.1,246.8 259.4,246.9 269.9,246.4 284,246.6" stroke="#aaa69e" stroke-opacity="0.47" stroke-width="0.6" stroke-dasharray="12.1,1.6,31.3,1.8,8.0,2.2,37.2,1.1" stroke-dashoffset="29"/>
<path d="M95,248.2 99,248.6 115,248.1 129,248.6 140.7,248.1 156.4,248.3 174.4,248.3 185.6,248.6 202.4,248.1 217.4,248.5 232.8,248.4 248.9,248 261.5,248.1 278,248.3 284,248.5" stroke="#dcdce2" stroke-opacity="0.53" stroke-width="0.8" stroke-dasharray="36.8,2.2,10.9,2.2,21.9,2.1,29.1,1.0" stroke-dashoffset="1"/>
<path d="M95,249.6 96.6,249.7 108.7,249.7 124.6,249.3 137.3,249.5 153.3,249.7 168.5,249.5 185.6,249.6 201.3,249.1 217.6,249.5 230.6,249.1 241.1,249.5 257.3,249.2 268.2,249.5 284,249.3" stroke="#e2e2e6" stroke-opacity="0.50" stroke-width="0.8" stroke-dasharray="35.0,0.8,15.1,0.9,31.0,1.3,30.4,2.4" stroke-dashoffset="29"/>
<path d="M95,251.1 97.5,251.1 110.8,251.1 127.2,250.8 140.8,250.9 152,250.7 167.5,250.9 184,251.1 197.5,250.7 210.5,250.8 221.4,250.6 234.7,250.9 251.5,250.9 264.3,251.2 282.1,251 284,251.1" stroke="#7c7c84" stroke-opacity="0.56" stroke-width="0.9" stroke-dasharray="26.1,2.2,8.4,2.9,35.5,1.8,11.2,1.3" stroke-dashoffset="25"/>
<path d="M95,252.5 98.5,252 111.2,252.5 121.3,252.5 139,252.5 150.7,252.1 165.8,252.4 181.8,252.2 197.2,252 210.4,252.5 222.5,252 237.5,252.3 249.7,252.3 266.8,252.1 283,252.4 284,252.3" stroke="#b0aaa0" stroke-opacity="0.38" stroke-width="0.9" stroke-dasharray="23.9,1.5,20.6,2.0,31.5,2.3,38.4,2.2" stroke-dashoffset="7"/>
<path d="M95,253.9 105.6,253.8 121.7,253.8 136.7,253.7 148.9,254 160.9,254 170.7,253.9 184.7,253.6 199.3,254.2 216.9,254 227.4,254 243.3,253.9 258.9,254 276.1,254 284,254.1" stroke="#85807a" stroke-opacity="0.32" stroke-width="0.7" stroke-dasharray="15.5,1.5,26.4,1.9,15.8,1.2,31.1,3.0" stroke-dashoffset="21"/>
<path d="M95,255 97,255.2 112.6,255.4 129.1,255.3 143.4,255 158.6,255.1 175.6,255 189.4,254.9 205.2,255.1 216.4,254.9 233.2,255.1 247.8,255.3 259.2,255.1 274.3,255.4 284,254.9" stroke="#97805a" stroke-opacity="0.46" stroke-width="0.9" stroke-dasharray="27.0,2.7,8.4,2.5,21.5,2.0,12.6,1.4" stroke-dashoffset="27"/>
<path d="M95,256 102.1,256.3 112.7,256.4 126.8,256.4 138.1,256.5 150.5,256.1 163.7,256.1 180.8,256.4 192.6,256.6 208.4,256.4 219.2,256.2 230.9,256.1 242.5,256.5 255.8,256.2 269.2,256.2 280.5,256 284,256.2" stroke="#85807a" stroke-opacity="0.42" stroke-width="0.7" stroke-dasharray="9.8,3.0,8.9,2.9,29.5,2.4,9.8,2.3" stroke-dashoffset="6"/>
<path d="M95,258 102.1,257.9 115.7,258 133.1,258 143.7,258.2 153.6,257.9 168.3,258.2 182.5,258.2 197.8,258.2 208.3,258.2 221.2,258 237,258.1 251.8,258.3 264.2,258 274.1,258.3 284,257.9" stroke="#a0885f" stroke-opacity="0.53" stroke-width="0.7" stroke-dasharray="18.4,1.4,31.5,1.6,34.5,2.3,34.2,2.0" stroke-dashoffset="8"/>
<path d="M95,259.4 104.6,259.5 118.1,259.4 128.3,259.6 141.9,259.7 153.3,259.7 163.7,259.2 175.7,259.7 193.5,259.3 208.9,259.2 222.4,259.4 237.1,259.6 250.1,259.2 264.7,259.6 276.7,259.8 284,259.6" stroke="#aaa69e" stroke-opacity="0.33" stroke-width="0.7" stroke-dasharray="36.7,1.4,26.4,0.9,30.8,1.8,11.4,2.1" stroke-dashoffset="11"/>
<path d="M95,260.7 103.2,260.3 117.5,260.4 129.5,260.5 146.5,260.3 156.6,260.8 170,260.5 188.2,260.6 201.5,260.4 211.4,260.3 225.9,260.2 241,260.6 255.7,260.7 273.5,260.7 284,260.7" stroke="#e6e6e8" stroke-opacity="0.64" stroke-width="0.6" stroke-dasharray="10.0,0.9,25.7,0.8,29.6,1.7,36.8,1.6" stroke-dashoffset="25"/>
<path d="M95,261.9 105.5,261.7 118.5,261.9 134.8,261.9 149.7,262.1 164.4,262.1 177.8,261.6 188.9,262.1 203.1,262.2 217.3,261.7 230.7,261.7 248.8,261.9 260,261.6 277.4,261.7 284,261.9" stroke="#f0f0f0" stroke-opacity="0.53" stroke-width="1.0" stroke-dasharray="25.3,1.9,34.7,1.3,30.8,2.7,37.9,2.5" stroke-dashoffset="21"/>
<path d="M95,263.5 102.2,263.4 116.5,263.4 130.9,263.6 143.9,263.6 157.6,263.4 170.4,263.2 184.8,263.3 202.5,263.6 215.3,263.4 232,263.3 249.1,263.6 260.8,263.3 273.5,263.6 284,263.6" stroke="#dcdce2" stroke-opacity="0.43" stroke-width="0.8" stroke-dasharray="11.9,1.4,12.9,1.0,33.7,2.7,30.9,1.8" stroke-dashoffset="27"/>
<path d="M95,265.4 102.6,265.1 117.1,265.2 127,265.1 139.8,265.3 151.4,265.2 166.8,265.1 184.7,265.3 199.7,265.4 212.2,265 229,265 239.5,265.4 256,265.1 266.2,265.1 284,265.2" stroke="#e2e2e6" stroke-opacity="0.36" stroke-width="1.0" stroke-dasharray="18.2,1.3,36.6,2.9,9.1,2.7,28.4,1.9" stroke-dashoffset="28"/>
<path d="M95,266.2 107.7,266.5 120.3,266.5 132.8,266.6 145.4,266.2 159.5,266.7 170.2,266.3 181.2,266.5 197.5,266.7 215.2,266.4 229.5,266.6 246.3,266.4 263.8,266.6 281.6,266.5 284,266.2" stroke="#b3a58a" stroke-opacity="0.45" stroke-width="0.9" stroke-dasharray="35.4,2.0,29.8,1.6,8.4,2.6,24.3,2.1" stroke-dashoffset="18"/>
<path d="M95,268 108.6,267.6 121,267.8 135.6,267.9 151.5,267.6 167.1,267.8 184.6,267.8 194.7,267.7 211.2,267.7 221.3,267.8 233.8,268 246.5,268.1 263.1,267.8 280.3,268.1 284,268" stroke="#ecebe7" stroke-opacity="0.36" stroke-width="0.6" stroke-dasharray="13.2,1.3,13.7,1.2,35.5,1.1,35.6,1.0" stroke-dashoffset="23"/>
<path d="M95,269 102.9,269.2 116.7,269.3 127.6,269 139.5,269 150.5,269.4 168.3,269.2 178.7,269.5 196.1,268.9 212.7,269 228.3,269.5 240.5,269.4 258.6,269 273.6,269.2 283.8,269.2 284,269.4" stroke="#e6e6e8" stroke-opacity="0.52" stroke-width="0.8" stroke-dasharray="28.3,2.9,10.0,1.0,32.2,1.3,25.3,1.9" stroke-dashoffset="20"/>
<path d="M95,270.7 103.9,270.8 117.1,270.6 132,270.8 149.6,270.5 166.5,270.4 180.1,270.4 196.1,270.5 208.3,270.6 225.9,270.5 235.7,270.8 250.3,270.8 266.5,270.6 284,270.5" stroke="#d6d4dc" stroke-opacity="0.69" stroke-width="0.8" stroke-dasharray="16.0,0.9,15.0,2.9,26.3,2.6,10.6,2.5" stroke-dashoffset="26"/>
<path d="M95,271.5 105,271.4 122,271.8 136.5,271.6 154.3,271.4 169.1,271.9 179.5,271.8 195.2,271.4 210.9,271.8 227.1,271.5 244.9,271.5 259.1,271.8 274.4,271.9 284,271.7" stroke="#b3a58a" stroke-opacity="0.42" stroke-width="0.5" stroke-dasharray="9.0,1.5,13.6,1.3,9.1,2.2,36.2,2.8" stroke-dashoffset="10"/>
<path d="M95,273.2 102,273 116.2,273.1 131.1,273 147,273.3 160.4,273 170.4,273 182.8,273.3 192.7,272.8 208.3,272.9 226.2,273.4 240.8,273.2 256.4,273 271,272.9 284,273.2" stroke="#a9a9ae" stroke-opacity="0.58" stroke-width="0.8" stroke-dasharray="8.9,2.5,20.9,2.0,6.8,0.8,23.6,2.2" stroke-dashoffset="8"/>
<path d="M95,274.4 108.5,274.7 118.9,274.9 136.1,274.7 153.7,274.7 164.2,274.6 181,274.9 196,274.9 209.4,274.7 222.9,274.7 237.3,274.8 254.9,274.5 271,274.7 284,274.5" stroke="#b9ad93" stroke-opacity="0.32" stroke-width="0.9" stroke-dasharray="7.4,2.9,18.1,1.2,35.4,2.1,24.2,2.4" stroke-dashoffset="9"/>
<path d="M95,276.4 95.8,276.4 112.2,276 126.8,276.1 138.2,276.4 153,276.2 168.4,276 179.6,276.4 197.7,276.4 212.2,276.4 227.5,276.5 239.3,276.1 253.7,276 268.9,276.5 284,276.3" stroke="#8c7350" stroke-opacity="0.47" stroke-width="0.7" stroke-dasharray="27.3,1.8,14.5,2.6,32.7,0.8,28.4,2.7" stroke-dashoffset="16"/>
<path d="M95,277 103.2,277.1 114.5,277 126.6,277.2 140.2,276.9 157.7,276.9 171.4,277.1 189.5,277.2 201.2,277.4 212.5,277 229.6,277.4 245.9,277.1 264,277.1 275.9,277.1 284,277.2" stroke="#f0f0f0" stroke-opacity="0.57" stroke-width="0.8" stroke-dasharray="17.2,1.2,17.2,0.9,27.1,2.5,32.5,2.8" stroke-dashoffset="22"/>
<path d="M95,278.5 100.7,278.8 116.6,278.5 129.4,278.4 145.7,278.4 156.2,278.5 171.2,278.8 181.3,278.9 195.7,278.4 212.1,278.7 223.7,278.6 233.8,278.7 246.1,278.7 258.8,278.4 272.8,278.4 284,278.6" stroke="#6f6a66" stroke-opacity="0.45" stroke-width="0.7" stroke-dasharray="19.3,1.1,14.4,2.4,9.0,2.9,12.5,1.2" stroke-dashoffset="0"/>
<path d="M95,280 108.2,280.1 123.8,280.1 135.3,280 151.4,279.9 165.5,279.9 179,279.9 188.9,279.9 199,280 215,280.3 229.3,280.1 242.6,280.3 254.9,279.8 270.1,280.3 282.2,280.3 284,280.2" stroke="#b3a58a" stroke-opacity="0.39" stroke-width="0.8" stroke-dasharray="29.0,2.2,13.6,1.7,35.0,1.4,24.2,2.0" stroke-dashoffset="25"/>
<path d="M95,281.8 106.3,281.6 122.7,281.7 135.3,281.8 151.3,281.6 168.6,281.3 179.1,281.5 195,281.7 208.6,281.3 221.7,281.4 236.9,281.8 253.5,281.7 270.9,281.3 284,281.8" stroke="#e2e2e6" stroke-opacity="0.41" stroke-width="1.0" stroke-dasharray="12.2,0.9,31.6,1.6,9.2,2.1,22.0,2.6" stroke-dashoffset="2"/>
<path d="M95,282.7 97,282.8 109.3,282.6 125,282.9 138.9,282.7 155.4,283 167.7,282.5 181.7,282.5 199.3,282.7 212.7,282.7 226.2,283 237.9,283 252.2,282.6 267.3,282.5 284,282.5" stroke="#6f6a66" stroke-opacity="0.51" stroke-width="0.6" stroke-dasharray="22.5,1.8,11.4,2.3,24.7,1.0,22.9,1.1" stroke-dashoffset="13"/>
<path d="M95,284.5 105.6,284.3 118.9,284.1 135.5,284.5 146.6,284.5 158.5,284 172.4,284.1 185.5,284.5 201.8,284.5 217.8,284.5 227.7,284.1 243.9,284.4 261,284.5 272.7,284.5 284,284" stroke="#f0f0f0" stroke-opacity="0.48" stroke-width="0.7" stroke-dasharray="20.2,1.9,10.5,0.9,27.5,2.2,32.3,1.8" stroke-dashoffset="2"/>
<path d="M95,285.7 102.3,285.4 114.6,285.4 132,285.4 143.6,285.2 160.2,285.2 175.4,285.2 187.7,285.3 202.5,285.4 212.9,285.4 225,285.5 240.7,285.7 250.8,285.4 265.3,285.5 282.7,285.7 284,285.5" stroke="#ecebe7" stroke-opacity="0.66" stroke-width="0.7" stroke-dasharray="34.6,2.8,14.0,1.1,30.8,2.3,13.0,3.0" stroke-dashoffset="13"/>
<path d="M95,286.5 108.7,286.9 122.7,286.6 138.6,286.9 149.5,286.8 166.1,286.8 179.6,286.7 191.3,286.5 204.7,286.6 220,286.7 237.3,286.4 253.5,286.5 271,286.8 284,286.4" stroke="#a0885f" stroke-opacity="0.51" stroke-width="0.6" stroke-dasharray="24.0,1.5,36.2,1.7,31.4,2.1,14.7,2.4" stroke-dashoffset="3"/>
<path d="M95,288.5 100.1,288.4 111.6,288.4 128.6,288.4 139.3,288.3 151.8,287.9 163.6,288.3 175,288.3 190.3,288.4 205.6,287.9 220.3,288.3 233.4,288 244.6,287.9 259.8,288.2 271.2,287.8 282.4,288.2 284,287.7" stroke="#b9ad93" stroke-opacity="0.48" stroke-width="0.8" stroke-dasharray="37.5,2.0,12.5,2.0,23.0,1.3,9.4,2.7" stroke-dashoffset="8"/>
<path d="M95,289.8 107.2,289.6 121.8,289.3 131.6,289.2 149,289.3 167,289.2 178.3,289.3 194,289.1 204.1,289.2 221.4,289.5 232.4,289.4 247.4,289.1 263.5,289 278.2,288.9 284,289" stroke="#7a7064" stroke-opacity="0.49" stroke-width="1.0" stroke-dasharray="17.4,1.6,18.9,1.6,36.4,2.7,8.7,2.0" stroke-dashoffset="8"/>
<path d="M95,291.4 100.6,291.3 113.2,291.6 129.2,291.4 143.1,291.4 160.6,291.3 176.9,291 187.7,291.2 202.8,291.2 218.6,291.4 236.5,290.8 250.4,291.1 262.3,290.7 275.5,290.8 284,290.7" stroke="#dcdce2" stroke-opacity="0.60" stroke-width="1.0" stroke-dasharray="14.7,2.3,38.0,2.0,29.6,1.1,15.9,1.7" stroke-dashoffset="5"/>
<path d="M95,292.7 96.6,292.8 109.5,292.4 124.7,292.5 138.8,292.4 152.9,292.2 167.1,292.3 183.2,292 199.2,292.4 211.7,292 222.4,292.3 233.4,292.3 246.2,291.9 259.5,291.7 275.2,291.7 284,292.1" stroke="#6f6a66" stroke-opacity="0.61" stroke-width="1.0" stroke-dasharray="21.3,1.8,35.7,1.8,25.8,2.4,26.3,1.4" stroke-dashoffset="17"/>
<path d="M95,293.9 103.9,294.1 117.5,294.1 134.1,293.9 147.1,293.9 163.2,293.8 180.5,293.5 194.7,293.5 205.2,293.4 218.6,293.6 235.6,293.4 252.5,293.1 270,293.1 280.6,293.4 284,293" stroke="#b3a58a" stroke-opacity="0.49" stroke-width="0.8" stroke-dasharray="24.4,2.3,32.8,1.3,6.4,2.4,11.6,1.1" stroke-dashoffset="3"/>
<path d="M95,295.9 107.5,295.5 124.7,295.6 138.5,295.6 154.5,295.8 166.7,295.4 177.5,295.6 192.4,295.5 204.5,295.4 214.8,295 230.6,294.9 240.5,295.2 255.8,294.8 267.2,294.9 279.4,294.8 284,294.9" stroke="#aaa69e" stroke-opacity="0.47" stroke-width="0.9" stroke-dasharray="35.6,1.0,37.7,1.0,7.6,2.9,27.9,1.5" stroke-dashoffset="5"/>
<path d="M95,297 97.1,296.8 114.2,296.6 131.4,297 143.4,296.8 155.6,296.4 169.6,296.6 179.6,296.2 195,296.6 205.8,296.3 216,296.1 228.6,296.4 241.8,296.3 252.8,296.2 270.4,296 284,296" stroke="#d9dde6" stroke-opacity="0.65" stroke-width="0.8" stroke-dasharray="39.7,2.2,30.6,1.8,27.1,2.1,33.2,1.9" stroke-dashoffset="9"/>
<path d="M95,298.4 98.9,298.8 111.7,298.6 123.7,298.1 138.2,298.2 156.3,297.9 174.4,297.9 186.5,298.1 199.7,298.1 214.3,298 226.9,297.7 237.3,297.7 248.9,297.6 266,297.3 279.6,297.6 284,297.1" stroke="#aaa69e" stroke-opacity="0.51" stroke-width="0.8" stroke-dasharray="10.6,1.3,30.8,2.2,16.6,1.3,36.6,2.0" stroke-dashoffset="25"/>
<path d="M95,299.9 107.6,300.1 121.1,300 132.2,300 145.6,299.6 162.6,299.4 173.1,299.2 189.8,299.6 207.7,299.2 219.1,299.1 233.6,298.9 251.5,299.1 263,299.1 277.1,298.7 284,298.9" stroke="#b0aaa0" stroke-opacity="0.39" stroke-width="0.6" stroke-dasharray="12.5,2.4,19.0,1.5,11.5,2.4,36.4,2.3" stroke-dashoffset="7"/>
<path d="M95,301.7 101.4,301.4 112.1,301.5 124.4,301.2 135.2,301.4 149.2,301 164.7,301.1 178.9,300.6 195,301 212,300.3 228.4,300.7 241.8,300.5 256.9,300 271.8,300 284,299.9" stroke="#a0885f" stroke-opacity="0.51" stroke-width="0.8" stroke-dasharray="8.3,1.0,19.5,2.1,24.0,1.0,31.3,1.0" stroke-dashoffset="4"/>
<path d="M95,302.4 106.4,302.8 116.6,302.7 129.2,302.2 142.1,302.4 158.7,301.9 176.6,302.2 187.5,302 201.5,301.7 212.2,301.6 229.5,301.3 246.6,301.2 260.4,301.5 274.8,301 284,301.3" stroke="#d9dde6" stroke-opacity="0.69" stroke-width="0.9" stroke-dasharray="24.4,2.8,20.2,1.9,11.4,0.8,20.5,1.1" stroke-dashoffset="11"/>
<path d="M95,304 101.8,303.9 114.5,303.6 130.7,303.8 147.1,303.3 160.9,303.2 175.3,302.9 193.3,302.9 207.3,302.7 221,302.8 236.8,302.8 246.9,302.3 259,302.4 270.4,302.3 284,302.1" stroke="#9c8a68" stroke-opacity="0.57" stroke-width="0.7" stroke-dasharray="6.8,2.3,34.8,2.0,11.2,1.9,26.8,2.9" stroke-dashoffset="10"/>
<path d="M95,305.6 108,305.2 121.5,305.1 135.7,304.8 149.2,305.3 165.7,305.1 179.2,304.6 191.5,304.7 209.4,304.6 223.7,304.6 238.9,304.3 250.4,303.9 261.3,304.1 275.8,303.5 284,304" stroke="#d6d4dc" stroke-opacity="0.59" stroke-width="0.8" stroke-dasharray="10.2,1.3,24.9,1.9,16.1,3.0,31.7,2.8" stroke-dashoffset="6"/>
<path d="M95,307.4 108.2,306.9 126,306.6 140.2,306.8 157.9,306.5 175.9,306.1 193.5,306.2 205.3,306 216.8,306.1 227.1,306 244.3,305.6 255.3,305.4 269.4,305.1 279.3,305.6 284,305" stroke="#d9dde6" stroke-opacity="0.44" stroke-width="0.7" stroke-dasharray="15.2,2.2,31.0,1.7,8.8,2.9,25.8,2.9" stroke-dashoffset="16"/>
<path d="M95,308.4 100.2,308.5 110.4,308.1 126,307.9 138.6,307.6 151.4,307.6 167.7,307.3 182.4,307.5 198.2,307.1 208.5,307.3 224.5,307.2 236.4,306.6 246.8,306.6 259.5,306.8 277.2,306.7 284,306.4" stroke="#6f6a66" stroke-opacity="0.52" stroke-width="0.9" stroke-dasharray="7.8,1.0,36.9,2.4,15.5,2.9,31.7,2.7" stroke-dashoffset="11"/>
<path d="M95,309.3 106.3,309.2 116.5,309.2 129.7,309.3 147.6,309 165.7,308.5 176.5,308.4 180,308.4 188.5,308.2 200.7,308.2 217.8,307.8 231.6,307.6 249.6,307.3 266.3,307 277.3,307.3 284,306.7" stroke="#9fa2a8" stroke-opacity="0.52" stroke-width="0.6" stroke-dasharray="14.5,1.5,12.1,1.4,31.9,2.0,36.6,1.0" stroke-dashoffset="21"/>
<path d="M95,311.2 100.3,310.8 112.4,310.6 129.7,310.4 143.4,310 156.4,309.9 167.9,309.9 180,309.4 182,309.8 198.6,309.4 210.4,309.2 221.9,308.5 237.9,308.3 255.2,308.3 269.5,307.6 280.7,307.4 284,307.7" stroke="#b9ad93" stroke-opacity="0.45" stroke-width="0.8" stroke-dasharray="7.3,2.2,10.0,1.2,37.9,1.3,36.6,2.8" stroke-dashoffset="4"/>
<path d="M95,312.1 103.8,312 113.9,311.6 124.4,311.2 139.9,311.2 149.8,310.9 165.2,310.5 180,310.5 182.6,310.4 194.4,309.7 212.2,309.6 227.5,309.3 237.6,308.9 249.6,308.3 261.7,308 273.3,307.8 284,307.5" stroke="#d9dde6" stroke-opacity="0.39" stroke-width="0.8" stroke-dasharray="27.4,2.1,28.8,2.8,21.6,0.8,24.0,1.7" stroke-dashoffset="2"/>
<path d="M95,313.6 106.5,313.6 119.7,313.1 129.6,312.9 144.4,312.3 158.6,312.2 170.8,312.1 180,311.9 186.2,311.5 198.7,311.4 216.1,310.6 227.9,310.1 241.3,309.7 255.4,309.3 268.5,308.7 283.2,308.1 284,308.4" stroke="#d6d4dc" stroke-opacity="0.59" stroke-width="0.9" stroke-dasharray="9.3,1.3,23.9,2.6,24.7,2.5,31.8,1.0" stroke-dashoffset="23"/>
<path d="M95,315.2 95.9,315.2 106.7,314.6 117.3,314.4 131.8,313.8 149.1,313.5 164.5,313 179.3,312.7 180,312.7 191.2,312.2 206.4,311.4 220.8,311.4 236,310.7 249.7,309.9 262.3,309.6 276.3,308.7 284,308.6" stroke="#b0aaa0" stroke-opacity="0.37" stroke-width="0.8" stroke-dasharray="30.0,2.0,7.3,1.3,13.3,2.9,38.0,1.3" stroke-dashoffset="11"/>
<path d="M95,316 98.8,315.6 109.7,315.4 126.9,314.8 138.5,314.5 154.7,313.9 168.5,313.9 180,313.2 182.4,313.5 199.3,312.4 212.6,312 223.9,311.4 236.6,310.4 253.9,309.7 265.2,309.1 276.6,309 284,308.4" stroke="#b9ad93" stroke-opacity="0.56" stroke-width="0.7" stroke-dasharray="17.4,2.1,18.1,2.2,15.7,1.1,26.0,2.3" stroke-dashoffset="10"/>
<path d="M95,317.4 100.3,317 114.3,316.5 131.5,316 141.7,315.9 158.5,315.2 171.6,314.3 180,314.3 188.9,314 206.1,313 216.1,312.2 226.6,312 239.9,310.9 254.3,310.5 269.3,309.6 282,309 284,308.5" stroke="#a9a9ae" stroke-opacity="0.32" stroke-width="0.5" stroke-dasharray="17.1,1.8,20.6,2.9,23.4,2.4,6.6,2.8" stroke-dashoffset="9"/>
<path d="M95,318.7 105,318.8 115.8,317.9 130.2,317.4 141.4,317 158.1,316.3 171.4,315.7 180,315.5 189.3,315.3 206,313.9 217.9,313.3 229.9,312.8 246.1,311.4 258.6,310.9 270.4,310.4 280.4,309.3 284,309.6" stroke="#dcdce2" stroke-opacity="0.43" stroke-width="0.6" stroke-dasharray="39.4,1.5,18.0,2.3,22.2,1.0,35.7,1.6" stroke-dashoffset="20"/>
<path d="M95,320.3 100.8,319.6 115,319 132,318.4 145.9,317.9 157.9,317.4 175.2,316.4 180,316.3 188.9,316 203.5,315.1 220.7,313.8 232.3,312.9 250.2,311.8 261.2,310.9 278,309.7 284,309.3" stroke="#d6d4dc" stroke-opacity="0.69" stroke-width="0.7" stroke-dasharray="25.4,2.9,15.7,2.5,11.1,2.3,36.6,1.6" stroke-dashoffset="29"/>
<path d="M95,321.1 106.1,320.9 120.8,319.7 132.7,319.5 142.7,318.9 157.1,318.2 167.2,318 180,317.4 183.1,317 194,316.4 206.4,315.6 223.1,314 233.6,313 250.1,312.1 263.7,311 279.9,310.1 284,309.8" stroke="#a9a9ae" stroke-opacity="0.37" stroke-width="0.8" stroke-dasharray="13.3,2.3,27.5,2.4,6.4,2.8,22.1,1.0" stroke-dashoffset="22"/>
<path d="M95,322.7 104.3,322.3 117,321.6 133,320.6 140,320 146.5,320 160.8,319.1 174.4,318.4 180,318.1 190.8,317.3 193,317.1 207.5,316.2 220.3,315.1 237.8,313.6 250,312.9 254.5,312.2 270.1,311.3 284,310.2" stroke="#d9dde6" stroke-opacity="0.48" stroke-width="0.7" stroke-dasharray="37.5,1.3,24.0,1.4,37.6,1.2,29.9,0.9" stroke-dashoffset="6"/>
<path d="M95,323.9 96.3,323.7 107.7,323.1 123.6,322.1 140,320.9 140.9,321 151,320.2 166.9,319.2 176.7,318.7 180,318.5 193,317.1 194.5,317.1 207.1,316.1 217.5,315.5 231.7,314.1 248.6,312.8 250,312.8 263.8,311.6 274.1,311 284,310.6" stroke="#a9a9ae" stroke-opacity="0.46" stroke-width="0.8" stroke-dasharray="10.7,2.2,32.0,2.0,38.0,3.0,11.1,1.3" stroke-dashoffset="13"/>
<path d="M95,325.3 97,325.4 111.1,323.9 123.1,323.4 133.8,322.6 140,322.1 145.1,321.4 155.2,320.9 167.3,320 180,319.1 180.6,319.1 193,318 195.6,317.7 205.9,316.6 222.8,315.2 239.3,313.7 250,313 255.2,312.9 268.7,311.6 279.4,311.3 284,310.9" stroke="#8c7350" stroke-opacity="0.39" stroke-width="0.8" stroke-dasharray="25.7,1.6,22.6,1.0,17.5,2.5,29.5,2.8" stroke-dashoffset="13"/>
<path d="M95,327.1 102.8,326.4 115.4,325.1 132.9,323.8 140,323 149.1,322 164.2,321 176.3,319.8 180,319.8 191.8,318.3 193,318 209,316.7 222.8,315.9 233.1,315 245.8,313.9 250,313.7 258.4,313.1 268.4,312.4 279.4,311.5 284,311.4" stroke="#e6e6e8" stroke-opacity="0.67" stroke-width="0.9" stroke-dasharray="18.5,2.5,9.4,2.8,6.4,2.5,26.6,3.0" stroke-dashoffset="20"/>
<path d="M95,328.4 101.7,327.7 119.3,325.9 136.3,324.6 140,323.8 152.3,322.6 169.1,321.1 180,320.1 187,319.3 193,318.7 201.5,317.7 214.5,316.8 224.9,316.2 242.3,314.4 250,314.1 259.5,313 276,312.4 284,311.9" stroke="#97805a" stroke-opacity="0.56" stroke-width="0.7" stroke-dasharray="22.6,2.2,32.4,2.3,18.5,1.8,10.7,1.6" stroke-dashoffset="18"/>
<path d="M95,328.9 101.9,328.3 114.8,327.3 124.7,326 140,324.6 142.6,324.4 155.3,322.7 168.8,321.3 180,320.1 185.3,319.4 193,318.7 199.1,318.3 216.1,316.9 232.9,315.4 250,313.7 251,313.7 260.9,312.9 272.7,312.4 284,311.9" stroke="#b0aaa0" stroke-opacity="0.48" stroke-width="0.9" stroke-dasharray="9.8,2.9,9.8,1.9,11.9,2.7,19.3,2.7" stroke-dashoffset="13"/>
<path d="M95,330.3 96.1,330.6 110.5,328.5 121.5,327.5 134.1,326 140,325 146.6,324.6 157.5,323.4 170.1,321.8 186.5,319.9 193,319.3 199.2,318.6 217.1,317.1 234.9,315.8 245,314.8 250,314.2 260.4,313.6 276.6,312.3 284,312.1" stroke="#7a7064" stroke-opacity="0.55" stroke-width="0.6" stroke-dasharray="9.6,1.8,21.9,1.5,12.5,1.4,15.7,2.5" stroke-dashoffset="13"/>
<path d="M95,331.9 98.2,331.6 112.6,329.6 129.7,327.7 140,326.1 140.9,326 158,324.2 167.8,322.9 182,321.2 193,319.9 199.8,319.3 215.6,317.9 228.3,317 239.9,316.3 250,315.3 251.8,314.8 267.2,314 278.9,313.2 284,313.1" stroke="#6f6a66" stroke-opacity="0.40" stroke-width="0.7" stroke-dasharray="7.0,2.4,28.1,1.7,30.2,2.8,12.7,3.0" stroke-dashoffset="18"/>
<path d="M95,333.7 105.2,332.1 115.7,331 126.4,329.3 139.5,327.4 140,327.3 155.4,325.7 167.5,324.1 177.4,322.9 192.1,320.9 193,320.8 204.8,319.9 217.1,319.1 232.9,317.5 246.8,316.6 250,316 258.2,315.2 271.5,314.7 284,313.6" stroke="#97805a" stroke-opacity="0.32" stroke-width="0.7" stroke-dasharray="37.0,1.0,31.9,1.2,28.3,1.0,21.2,1.6" stroke-dashoffset="18"/>
<path d="M95,334.6 96.3,334.6 111.6,332.1 127.2,329.8 139,327.7 140,327.8 149.2,326.9 166.8,324.7 180.6,322.7 193,321.3 193.1,321.3 209.4,319.7 220.9,319 238.8,317.6 250,316.6 254.7,316.3 264.9,315 274.7,314.8 284,314" stroke="#8c7350" stroke-opacity="0.31" stroke-width="0.6" stroke-dasharray="26.0,1.4,15.9,2.1,10.9,2.5,34.4,2.6" stroke-dashoffset="19"/>
<path d="M95,336.5 108.3,334.3 119.7,332.2 134.9,330.2 140,329 150.3,327.9 163.6,326.3 174.3,324.9 191.8,322.8 193,322.4 208.6,321.1 224.3,319.6 234.5,318.6 250,317.4 251.6,317.5 267.1,316.6 282.4,315.4 284,315.2" stroke="#e2e2e6" stroke-opacity="0.42" stroke-width="0.7" stroke-dasharray="25.0,1.9,27.8,1.0,12.4,2.6,27.2,1.9" stroke-dashoffset="27"/>
<path d="M95,337.5 101.5,336.6 113.6,334.6 126.8,332.5 138,330.1 140,330.2 151.7,328.6 168,326.8 178.8,325.2 191.4,323.3 193,323.3 204.8,322.5 216.9,321.2 228.4,320.3 243.6,319 250,318.4 255.3,317.7 265.7,316.9 283.5,315.9 284,315.8" stroke="#97805a" stroke-opacity="0.35" stroke-width="0.8" stroke-dasharray="33.8,2.8,29.6,1.2,15.2,1.6,19.7,0.8" stroke-dashoffset="3"/>
<path d="M95,338.4 97.2,338.5 111.2,335.7 124.1,333.5 137.1,331.2 140,330.2 152,328.7 166.5,327.2 183.9,324.9 193,323.5 196.9,323.1 209.5,322.5 223,321.2 239,319.5 250,318.6 255.1,318.2 265.3,317.4 279,316 284,315.8" stroke="#d9dde6" stroke-opacity="0.47" stroke-width="0.8" stroke-dasharray="32.9,1.9,18.9,0.9,35.1,1.5,22.9,2.1" stroke-dashoffset="25"/>
<path d="M95,340.4 99.6,339.2 111.8,336.9 129.2,333.5 140,331.6 154,329.4 169.5,327.6 186.5,325.7 193,324.5 199.6,324.2 216.9,322.6 228.5,321.6 240.3,320.2 250,319.4 257.5,319 272.2,317.8 284,316.8" stroke="#7a7064" stroke-opacity="0.52" stroke-width="0.6" stroke-dasharray="22.0,0.8,15.1,1.2,13.6,1.0,19.8,1.2" stroke-dashoffset="27"/>
<path d="M95,341.6 102.6,339.9 118.7,337 129.7,334.9 130,334.6 140,332.8 140.8,333 154.3,331 169.2,329.1 184.2,327 193,325.8 194.1,325.8 204.5,324.8 218.3,323.5 233,322.2 247.1,320.9 250,320.4 263.2,319.3 276.5,318 284,317.3" stroke="#ecebe7" stroke-opacity="0.63" stroke-width="0.7" stroke-dasharray="6.1,1.7,17.1,1.4,35.0,2.5,11.1,2.7" stroke-dashoffset="23"/>
<path d="M95,342.4 97,341.9 113.7,338.6 127.4,336.2 130,335.6 140,333.6 141.5,333.9 151.8,332.4 169.9,329.6 182.4,328 193,326.4 194.7,326 205.9,325.1 216.8,324.2 230.4,323.2 244.3,321.6 250,321.3 255.4,320.7 266.2,319.9 282,317.9 284,317.8" stroke="#a9a9ae" stroke-opacity="0.59" stroke-width="0.7" stroke-dasharray="10.0,2.5,37.7,1.7,17.2,1.8,13.0,1.5" stroke-dashoffset="10"/>
<path d="M95,343.2 102.5,341.8 116.6,339.7 130,337.6 131.3,337.1 140,335.5 145.5,334.8 162.3,332.1 172.4,330.8 189.9,328.1 193,327.7 200.2,327.4 216.8,325.4 232,324.2 248.4,322.5 250,322.6 262.9,321 274.4,320.1 284,319.2" stroke="#dcdce2" stroke-opacity="0.42" stroke-width="0.9" stroke-dasharray="20.8,2.9,6.9,1.9,26.0,2.2,34.0,1.4" stroke-dashoffset="27"/>
<path d="M95,343.9 96,343.6 111.2,341.8 124.3,339.6 130,338.6 140,336.9 140.4,336.7 154.5,335 166.7,332.8 182.4,330.4 193,328.7 194.1,328.9 207,327.4 223.8,325.9 238.9,324.6 250,323.4 255,322.5 268.8,321.2 283.8,319.7 284,319.6" stroke="#7c7c84" stroke-opacity="0.63" stroke-width="0.9" stroke-dasharray="34.3,1.9,27.2,1.9,8.3,1.3,29.4,2.9" stroke-dashoffset="24"/>
<path d="M95,344.2 98.7,343.9 113.6,341.9 124.2,340.9 130,339.9 136.8,338.8 140,337.9 147.2,336.9 164.5,334.3 175.5,332.4 188.2,330.3 193,329.9 206,328.6 218.8,327.2 230,326.2 243.9,324.5 250,324.1 257.6,322.8 268.7,321.5 284,320.2" stroke="#e6e6e8" stroke-opacity="0.52" stroke-width="0.6" stroke-dasharray="27.7,2.9,36.9,2.2,14.5,1.3,7.5,2.4" stroke-dashoffset="19"/>
<path d="M95,345.2 95.7,345.2 107.9,343.6 118.2,342.7 130,341.6 130.7,341.5 140,339.7 148.4,338.3 160.4,336 170.6,334.6 186.5,332 193,330.8 201.4,330.1 212.5,328.6 230.3,326.9 247.5,325.2 250,324.7 265.3,322.9 279.2,321.3 284,320.9" stroke="#85807a" stroke-opacity="0.42" stroke-width="0.6" stroke-dasharray="21.3,1.6,14.9,2.2,31.6,2.5,34.3,2.3" stroke-dashoffset="23"/>
<path d="M95,346.7 106.4,345.6 116.3,344.5 128.9,343.2 130,342.9 140,340.9 144.3,340.7 161.7,337.4 177.3,334.8 191.1,332.9 193,332 201.5,331.4 217.9,329.9 230.1,328.6 243.9,326.5 250,326 256.6,325.6 273.2,323.3 284,321.7" stroke="#e6e6e8" stroke-opacity="0.63" stroke-width="0.7" stroke-dasharray="29.8,1.6,11.5,2.1,23.1,1.4,25.8,0.9" stroke-dashoffset="21"/>
<path d="M95,347.4 108.1,346.4 123.7,345.1 130,344.4 136.4,343.2 140,342.3 154,340.1 168.2,337.7 184.7,334.6 193,333.2 198.1,332.8 208.6,331.6 225.7,329.5 237.8,328.3 250,327.2 254,326.6 266.7,324.8 277.9,323.1 284,322.7" stroke="#7a7064" stroke-opacity="0.51" stroke-width="0.9" stroke-dasharray="6.4,1.7,22.9,2.0,12.5,2.2,13.6,1.1" stroke-dashoffset="1"/>
<path d="M95,347.7 98.7,347.5 110.5,346.9 124.3,345.7 130,345.6 140,343.6 142.2,342.9 158,340.3 170.4,338.1 184.9,335.6 193,333.9 199.4,333.3 216.5,331.1 234.3,329.1 244.8,328 250,327.6 254.9,327 272.4,324.3 284,322.9" stroke="#7a7064" stroke-opacity="0.54" stroke-width="0.9" stroke-dasharray="21.7,1.3,11.2,1.5,8.4,2.7,23.2,1.0" stroke-dashoffset="6"/>
<path d="M95,348.5 100.5,348.2 113.2,347.9 123.4,347.4 130,346.7 140,344.9 141.3,344.5 154.5,342.4 172.3,339.1 187.5,335.9 193,335.5 204,333.9 220.7,331.8 234.5,330.2 247.8,329 250,328.6 259.1,327.1 270,325.8 284,323.9" stroke="#d9dde6" stroke-opacity="0.37" stroke-width="0.8" stroke-dasharray="34.0,2.1,31.9,2.0,38.2,1.2,12.0,1.9" stroke-dashoffset="18"/>
<path d="M95,350 97.1,349.8 108.2,349.2 124.1,349 130,348.6 140,346.3 142.2,346.4 159,342.8 176.5,339.6 189.7,337.5 193,336.6 202.3,335.8 217.9,333.8 228.9,332.1 245.7,330.5 250,329.5 258.6,328.3 276.1,326.2 284,324.7" stroke="#b3a58a" stroke-opacity="0.56" stroke-width="0.6" stroke-dasharray="8.9,2.6,30.6,2.6,12.6,2.7,16.3,2.1" stroke-dashoffset="4"/>
<path d="M95,350 101.6,349.5 115.5,349 128.8,348.7 130,349 146.1,345.9 157.2,343.5 172.4,340.9 189.5,337.8 193,337 206.7,335.3 218.4,333.8 230,332.9 239.9,331.7 250,330.4 254.5,329.8 264.8,328.2 275.3,326.8 284,325.6" stroke="#dcdce2" stroke-opacity="0.67" stroke-width="1.0" stroke-dasharray="11.8,3.0,34.2,2.2,19.3,1.5,6.1,0.9" stroke-dashoffset="29"/>
<path d="M95,350.5 97.8,350.1 108.3,350.1 123.2,349.8 130,349.5 138.8,348.1 155.1,344.9 168.2,342.6 178.6,341.2 188.5,339.2 193,338.2 202.9,336.9 213.8,335.7 228.5,334.3 246.1,332.3 250,331.7 256.9,330.9 272.6,328.5 284,327.4" stroke="#97805a" stroke-opacity="0.47" stroke-width="0.9" stroke-dasharray="38.2,1.7,37.2,1.6,31.4,1.0,18.4,1.8" stroke-dashoffset="13"/>
<path d="M95,350.5 100.4,350.6 113,349.7 125.1,350 130,349.7 142.7,347.3 155.5,345.3 166.3,343.4 183.5,340.9 193,339.1 200.9,338.2 215.2,336.7 232.9,334.9 243.5,333.4 250,333 260,331.6 274.6,329.7 284,328.3" stroke="#a9a9ae" stroke-opacity="0.57" stroke-width="0.7" stroke-dasharray="11.9,2.2,27.7,2.5,37.5,1.8,28.7,2.7" stroke-dashoffset="20"/>
<path d="M95,350.8 103.7,350.7 117.8,349.9 130,349.7 132.3,349.7 147.3,347.2 157.5,345.2 174,342.7 192.1,340.2 193,339.8 202.3,339 215.5,337.7 231.4,336 246.4,334.8 250,333.9 260.5,332.9 278.3,330.5 284,330.1" stroke="#a0885f" stroke-opacity="0.63" stroke-width="0.8" stroke-dasharray="25.6,2.3,38.1,0.8,30.7,2.5,25.8,2.9" stroke-dashoffset="4"/>
<path d="M95,350.1 106.4,350.1 122.8,350 130,349.9 138,348.6 151.4,346.4 166,344.4 175.9,343.1 187.7,341 193,340.5 202.7,339.3 215.5,338.3 233.3,336.4 244.2,335.1 250,334.6 257.9,334.1 273.9,332.2 284,330.8" stroke="#7c7c84" stroke-opacity="0.63" stroke-width="0.8" stroke-dasharray="19.5,2.9,18.6,2.9,10.9,2.0,23.4,0.9" stroke-dashoffset="4"/>
<path d="M95,350.7 98.8,350.3 113.5,349.9 124.5,349.7 130,349.6 135.9,348.9 148.8,347.2 163,345.1 177.7,343.4 188.7,341.3 193,340.7 204.7,339.9 221.8,338.3 238.1,337.2 250,335.8 250.9,336.1 262.6,334.5 275.7,333.3 284,332.2" stroke="#aaa69e" stroke-opacity="0.50" stroke-width="0.6" stroke-dasharray="38.4,2.5,22.4,1.9,35.6,2.3,36.6,1.7" stroke-dashoffset="14"/>
<path d="M95,350.9 100.2,350.9 111.4,350.5 121.3,350.5 130,350.2 134.6,349.7 147.7,347.9 158.9,346.5 174.1,344.6 187.2,342.7 193,341.9 202.5,341.2 217.8,340.3 229.3,339 246.2,337.9 250,337.7 264,335.9 277.5,334.6 284,334.1" stroke="#ecebe7" stroke-opacity="0.52" stroke-width="0.8" stroke-dasharray="30.9,2.2,28.2,2.0,35.0,2.0,34.1,1.8" stroke-dashoffset="29"/>
<path d="M95,351.1 108.1,350.8 121.1,350.6 130,350.1 133.5,350 145.7,348.1 162.5,346.6 178,344.7 193,342.7 195.6,342.4 206.7,341.6 220,340.4 233.1,339.7 246.9,338.3 250,338.4 259.3,337.3 276.4,335.9 284,335.4" stroke="#dcdce2" stroke-opacity="0.39" stroke-width="0.7" stroke-dasharray="19.9,2.9,10.2,2.2,13.8,1.1,26.8,3.0" stroke-dashoffset="28"/>
<path d="M95,350.5 95.5,350.6 109.7,350.5 121.3,350.2 130,350.3 135.9,349.7 150.5,347.8 167.2,346.4 185.3,343.9 193,343.1 197.8,342.7 207.9,342.2 225.6,341 239.4,340.3 250,339.2 250.4,339.2 266.3,338 279.1,336.8 284,336.3" stroke="#aaa69e" stroke-opacity="0.60" stroke-width="0.6" stroke-dasharray="30.5,1.4,13.4,1.0,21.1,1.9,35.6,2.5" stroke-dashoffset="26"/>
<path d="M95,350.8 99.5,350.8 115.5,350.3 130,350.5 132.2,349.9 142.8,348.7 160.5,347.5 178.4,345.2 189.5,344 193,343.9 205.2,342.9 217.2,342.2 229.6,341.6 239.7,341 250,340.2 255,339.6 270,338.4 284,337.6" stroke="#7c7c84" stroke-opacity="0.53" stroke-width="0.9" stroke-dasharray="6.7,2.7,27.1,1.6,35.3,2.6,27.7,0.8" stroke-dashoffset="19"/>
<path d="M95,350.8 107.6,350.8 121.7,350.5 130,350.4 138.1,349.4 154.7,348.1 167.2,347 185.3,345.2 193,344.8 198,344.5 214.1,343.5 227,342.6 237,342.2 250,341.6 252.5,341.4 265.2,340.4 280.3,339 284,338.7" stroke="#8c7350" stroke-opacity="0.52" stroke-width="0.9" stroke-dasharray="19.6,1.1,22.9,1.6,21.5,1.1,36.1,1.4" stroke-dashoffset="28"/>
<path d="M95,351 104.9,351.1 119.8,350.6 130,350.6 133.7,350.4 143.5,349.6 156.1,348.7 168.6,347.8 185.6,346.1 193,345.6 202.5,345.1 217.5,344.5 231.4,343.3 249,342.4 250,342.8 258.8,342.2 272.6,340.9 284,340.7" stroke="#7a7064" stroke-opacity="0.48" stroke-width="0.7" stroke-dasharray="19.6,1.0,8.4,2.2,38.7,2.5,27.4,1.8" stroke-dashoffset="8"/>
<path d="M95,351.4 107.6,351.1 117.8,351.3 130,351.1 132.1,351 147.4,349.7 160.1,348.8 172.4,348.2 188.5,347 193,346.4 198.4,346.5 214.6,345.7 224.8,344.9 235.5,344.9 246,344.1 250,344.2 257.7,343.7 273.9,342.9 284,341.9" stroke="#9fa2a8" stroke-opacity="0.50" stroke-width="0.9" stroke-dasharray="31.3,1.5,17.2,2.4,26.4,2.3,7.6,2.3" stroke-dashoffset="14"/>
<path d="M95,351 107.7,350.8 124.5,351 130,350.9 136.3,350.7 154.3,349.7 167.6,348.7 183.1,347.8 193,347.3 198.1,347.1 212.2,346.2 222,345.9 236.4,345.5 250,345 253.3,344.5 263.2,343.9 274.9,343.6 284,342.8" stroke="#d6d4dc" stroke-opacity="0.46" stroke-width="0.6" stroke-dasharray="30.9,1.0,22.0,1.8,9.0,2.8,19.1,2.8" stroke-dashoffset="27"/>
<path d="M95,351.6 96,351.6 108.8,351.4 123.6,351 130,351.1 137.4,350.5 154,350 166.8,349.2 178,348.3 193,347.6 195,347.7 207.4,347.2 218.7,346.8 228.5,346.9 238.6,346.3 250,346.1 251.5,345.7 267.9,345.3 279,344.5 284,344.6" stroke="#b9ad93" stroke-opacity="0.45" stroke-width="0.8" stroke-dasharray="13.3,1.3,38.4,1.0,6.0,0.9,21.5,2.9" stroke-dashoffset="21"/>
<path d="M95,351.6 97.1,351.4 112.8,351.7 126.3,351.6 130,351.4 138.5,350.8 154.1,350.6 170.1,349.9 187,349.2 193,349 199.4,348.5 210.4,348.1 223.6,347.7 240.9,347.3 250,347.3 254.1,347.3 265.3,346.9 282.9,345.8 284,345.9" stroke="#b9ad93" stroke-opacity="0.51" stroke-width="0.6" stroke-dasharray="17.5,2.0,7.3,1.3,14.3,1.0,13.5,1.0" stroke-dashoffset="4"/>
<path d="M95,351.7 99,351.6 113.6,351.4 125.3,351.3 130,351.5 140.5,351 153,350.3 163.5,350.4 177.9,349.9 188.8,349.1 193,348.9 200.1,348.9 218.2,348.4 233.3,348.2 245.7,348.3 250,348.2 260.8,347.5 275.3,347.1 284,347.1" stroke="#9c8a68" stroke-opacity="0.47" stroke-width="0.9" stroke-dasharray="6.8,1.3,22.6,2.0,27.8,2.8,16.3,2.0" stroke-dashoffset="7"/>
<path d="M95,351.4 108.1,351.4 119.2,351.2 130,351.6 137.1,351.3 149.9,351 160.8,350.5 172.6,350.1 187.6,350.1 193,349.9 198.4,350 208.2,349.8 219.3,349.3 232.2,349.4 244.7,349.3 250,348.8 255.6,349.1 266.2,348.8 280.5,348.6 284,348.5" stroke="#b3a58a" stroke-opacity="0.55" stroke-width="0.8" stroke-dasharray="6.3,1.0,23.4,1.2,7.2,1.1,25.4,1.8" stroke-dashoffset="11"/>
<path d="M95,351.8 98.1,351.6 116.2,351.7 127.6,351.5 130,351.7 139.9,351.5 155.6,351.2 168.2,350.8 185.7,350.8 193,350.3 199.4,350.5 214.2,350.1 226.2,350.1 238.1,350.4 250,349.9 254.6,350.2 268.2,350.1 281.2,350 284,349.7" stroke="#e2e2e6" stroke-opacity="0.61" stroke-width="0.7" stroke-dasharray="17.0,2.6,31.7,1.2,34.1,1.3,35.9,2.7" stroke-dashoffset="7"/>
<path d="M95,352 100,351.9 111.3,351.9 129,352 130,351.8 141.3,351.8 151.8,351.8 162.9,351.9 180.7,351.8 193,351.8 194.6,351.9 206.8,351.4 223.5,351.7 241.5,351.4 250,351.7 251.5,351.4 265.8,351.2 283.6,351.3 284,351.4" stroke="#aaa69e" stroke-opacity="0.50" stroke-width="0.9" stroke-dasharray="34.0,2.3,32.9,3.0,30.0,0.9,36.3,1.7" stroke-dashoffset="13"/>
<rect x="95" y="198" width="189" height="3" fill="#c5c5c5"/>
<rect x="277.4" y="199.6" width="2.8" height="0.6" fill="#c8a060" fill-opacity="0.31"/>
<rect x="261.2" y="207.3" width="3.1" height="1" fill="#c8a060" fill-opacity="0.35"/>
<rect x="183.1" y="203.6" width="2" height="0.7" fill="#c8a060" fill-opacity="0.69"/>
<rect x="245.7" y="202.1" width="3.3" height="0.8" fill="#c8a060" fill-opacity="0.56"/>
<rect x="253.9" y="205.1" width="2.2" height="0.9" fill="#d8c8a8" fill-opacity="0.56"/>
<rect x="270.8" y="206.9" width="2" height="0.9" fill="#b8904f" fill-opacity="0.52"/>
<rect x="273.6" y="199.7" width="1.4" height="0.6" fill="#b8904f" fill-opacity="0.43"/>
<rect x="188.6" y="209.7" width="1.2" height="0.6" fill="#b8904f" fill-opacity="0.33"/>
<rect x="232.1" y="210.1" width="1.7" height="1" fill="#c8a060" fill-opacity="0.38"/>
<rect x="274.2" y="203.6" width="1.6" height="0.7" fill="#8c7350" fill-opacity="0.47"/>
<rect x="185.1" y="209.5" width="3" height="0.9" fill="#8c7350" fill-opacity="0.51"/>
<rect x="116.8" y="205.2" width="1.9" height="0.9" fill="#b8904f" fill-opacity="0.43"/>
<rect x="102.8" y="209.8" width="3.4" height="0.6" fill="#d8c8a8" fill-opacity="0.55"/>
<rect x="259.9" y="205.2" width="2.3" height="0.7" fill="#b8904f" fill-opacity="0.56"/>
<rect x="182.4" y="208.4" width="2.5" height="0.8" fill="#8c7350" fill-opacity="0.61"/>
<rect x="210.4" y="200.1" width="2.9" height="0.9" fill="#d8c8a8" fill-opacity="0.46"/>
<rect x="211.9" y="207.6" width="2.5" height="0.7" fill="#b8904f" fill-opacity="0.66"/>
<rect x="263.9" y="209.8" width="1" height="0.8" fill="#8c7350" fill-opacity="0.58"/>
<rect x="266.8" y="199.5" width="1.6" height="0.7" fill="#707070" fill-opacity="0.45"/>
<rect x="267.6" y="207.4" width="1.8" height="0.7" fill="#707070" fill-opacity="0.46"/>
<rect x="137.5" y="210.1" width="3.1" height="0.8" fill="#707070" fill-opacity="0.63"/>
<rect x="115.5" y="209.1" width="2.4" height="0.7" fill="#c8a060" fill-opacity="0.45"/>
<rect x="154.6" y="204.8" width="2.5" height="0.8" fill="#707070" fill-opacity="0.71"/>
<rect x="169.5" y="208.6" width="1" height="0.9" fill="#c8a060" fill-opacity="0.62"/>
<rect x="182.3" y="201.3" width="1.5" height="0.8" fill="#707070" fill-opacity="0.64"/>
<rect x="164.7" y="202.2" width="2.4" height="0.8" fill="#b8904f" fill-opacity="0.75"/>
<rect x="231.7" y="206.3" width="3.1" height="0.8" fill="#8c7350" fill-opacity="0.51"/>
<rect x="209.3" y="206" width="3.4" height="0.5" fill="#8c7350" fill-opacity="0.36"/>
<rect x="146.6" y="211" width="1.2" height="1" fill="#707070" fill-opacity="0.65"/>
<rect x="113.8" y="206.9" width="1.5" height="0.8" fill="#d8c8a8" fill-opacity="0.54"/>
<rect x="262.2" y="202.1" width="1.4" height="0.9" fill="#b8904f" fill-opacity="0.47"/>
<rect x="137.7" y="208" width="1.4" height="0.9" fill="#c8a060" fill-opacity="0.53"/>
<rect x="185.5" y="204.9" width="2.2" height="0.8" fill="#d8c8a8" fill-opacity="0.33"/>
<rect x="146.8" y="204.6" width="2.9" height="0.8" fill="#b8904f" fill-opacity="0.50"/>
<rect x="171.5" y="207" width="1.1" height="0.8" fill="#b8904f" fill-opacity="0.58"/>
<rect x="181.8" y="199.9" width="2.1" height="0.7" fill="#8c7350" fill-opacity="0.48"/>
<rect x="247.3" y="204.2" width="2.6" height="0.9" fill="#c8a060" fill-opacity="0.60"/>
<rect x="154.2" y="210" width="1.8" height="0.9" fill="#d8c8a8" fill-opacity="0.53"/>
<rect x="135.4" y="202" width="2.9" height="0.8" fill="#b8904f" fill-opacity="0.61"/>
<rect x="224" y="203.2" width="3.2" height="0.7" fill="#c8a060" fill-opacity="0.72"/>
<rect x="146.2" y="204.3" width="1.8" height="0.8" fill="#c8a060" fill-opacity="0.42"/>
<rect x="203.7" y="210.1" width="1.4" height="0.8" fill="#c8a060" fill-opacity="0.73"/>
<rect x="186" y="205.5" width="1.3" height="0.6" fill="#c8a060" fill-opacity="0.48"/>
<rect x="176" y="206.6" width="3" height="0.9" fill="#d8c8a8" fill-opacity="0.59"/>
<rect x="222.8" y="208" width="3.4" height="0.7" fill="#c8a060" fill-opacity="0.44"/>
<rect x="167" y="210.8" width="1.9" height="0.8" fill="#b8904f" fill-opacity="0.65"/>
<rect x="188.8" y="210.5" width="2.8" height="0.8" fill="#b8904f" fill-opacity="0.38"/>
<rect x="195" y="203" width="1.5" height="0.7" fill="#d8c8a8" fill-opacity="0.68"/>
<rect x="253.4" y="209.2" width="2.2" height="0.7" fill="#707070" fill-opacity="0.59"/>
<rect x="135.6" y="210.2" width="3.1" height="0.8" fill="#8c7350" fill-opacity="0.58"/>
<rect x="248.3" y="200" width="2.9" height="0.6" fill="#8c7350" fill-opacity="0.68"/>
<rect x="157.3" y="202.9" width="2.6" height="1" fill="#8c7350" fill-opacity="0.46"/>
<rect x="219" y="210.2" width="2" height="0.5" fill="#d8c8a8" fill-opacity="0.70"/>
<rect x="253.9" y="206.8" width="2" height="0.5" fill="#c8a060" fill-opacity="0.50"/>
<rect x="118.2" y="206.7" width="1.1" height="0.7" fill="#707070" fill-opacity="0.54"/>
<rect x="177.1" y="201.3" width="2.3" height="1" fill="#b8904f" fill-opacity="0.72"/>
<rect x="105.2" y="205.5" width="1.7" height="0.8" fill="#707070" fill-opacity="0.32"/>
<rect x="189.7" y="201.2" width="2.5" height="0.9" fill="#d8c8a8" fill-opacity="0.40"/>
<rect x="122.3" y="201.5" width="2.6" height="1" fill="#c8a060" fill-opacity="0.74"/>
<rect x="278" y="210.1" width="3.1" height="0.8" fill="#d8c8a8" fill-opacity="0.32"/>
<rect x="240.2" y="205.8" width="2" height="1" fill="#707070" fill-opacity="0.43"/>
<rect x="266.3" y="208.2" width="3" height="0.6" fill="#8c7350" fill-opacity="0.74"/>
<rect x="192.8" y="199.6" width="1.6" height="0.6" fill="#d8c8a8" fill-opacity="0.43"/>
<rect x="108.7" y="205.5" width="3.5" height="0.6" fill="#b8904f" fill-opacity="0.63"/>
<rect x="212.1" y="201.4" width="3.3" height="1" fill="#b8904f" fill-opacity="0.43"/>
<rect x="224" y="202.3" width="3.2" height="0.6" fill="#c8a060" fill-opacity="0.55"/>
<rect x="142.1" y="199.8" width="2.3" height="1" fill="#b8904f" fill-opacity="0.75"/>
<rect x="261.5" y="203.8" width="1.2" height="0.7" fill="#c8a060" fill-opacity="0.59"/>
<rect x="226.6" y="208.6" width="1.1" height="0.8" fill="#b8904f" fill-opacity="0.75"/>
<rect x="219.5" y="206.4" width="1.4" height="0.6" fill="#8c7350" fill-opacity="0.50"/>
<rect x="204.5" y="209.6" width="2.7" height="0.9" fill="#8c7350" fill-opacity="0.47"/>
<rect x="122.2" y="207.3" width="2.6" height="0.8" fill="#b8904f" fill-opacity="0.33"/>
<rect x="284" y="201.9" width="1.2" height="0.7" fill="#b8904f" fill-opacity="0.67"/>
<rect x="166.9" y="201.8" width="2.4" height="0.7" fill="#707070" fill-opacity="0.66"/>
<rect x="216.4" y="208.2" width="1.4" height="1" fill="#d8c8a8" fill-opacity="0.74"/>
<rect x="129.3" y="204.2" width="3.1" height="0.9" fill="#b8904f" fill-opacity="0.73"/>
<rect x="228.9" y="204" width="3.3" height="0.9" fill="#b8904f" fill-opacity="0.36"/>
<rect x="148.7" y="205.9" width="1.8" height="0.7" fill="#707070" fill-opacity="0.53"/>
<rect x="273.2" y="208.5" width="1.8" height="0.7" fill="#d8c8a8" fill-opacity="0.58"/>
<rect x="146.6" y="201.5" width="2.1" height="0.6" fill="#b8904f" fill-opacity="0.47"/>
<rect x="219.5" y="209.1" width="2" height="0.8" fill="#8c7350" fill-opacity="0.33"/>
<rect x="132.7" y="210.1" width="1.9" height="0.9" fill="#8c7350" fill-opacity="0.68"/>
<rect x="139.1" y="207.4" width="3.3" height="0.5" fill="#c8a060" fill-opacity="0.64"/>
<rect x="236" y="210.2" width="1.3" height="0.8" fill="#707070" fill-opacity="0.64"/>
<rect x="261.1" y="203.2" width="1.5" height="0.7" fill="#8c7350" fill-opacity="0.57"/>
<rect x="264.3" y="201.2" width="2.3" height="0.9" fill="#c8a060" fill-opacity="0.58"/>
<rect x="263.9" y="199.8" width="1.3" height="0.6" fill="#c8a060" fill-opacity="0.62"/>
<rect x="175.6" y="210" width="2.3" height="0.6" fill="#b8904f" fill-opacity="0.63"/>
<rect x="283" y="208.5" width="2.3" height="0.9" fill="#c8a060" fill-opacity="0.72"/>
<rect x="196.8" y="201.2" width="3.1" height="0.8" fill="#8c7350" fill-opacity="0.54"/>
<rect x="119.9" y="201.9" width="2.8" height="0.7" fill="#b8904f" fill-opacity="0.32"/>
<rect x="203.7" y="209.3" width="1.6" height="0.6" fill="#707070" fill-opacity="0.53"/>
<rect x="202.1" y="208.2" width="1.5" height="0.9" fill="#707070" fill-opacity="0.70"/>
<rect x="105.1" y="209.3" width="2.1" height="0.9" fill="#d8c8a8" fill-opacity="0.55"/>
<rect x="205.1" y="211" width="2.2" height="0.9" fill="#d8c8a8" fill-opacity="0.41"/>
<rect x="229.3" y="203.2" width="1.6" height="0.6" fill="#8c7350" fill-opacity="0.56"/>
<rect x="151.1" y="206.6" width="2.8" height="0.6" fill="#d8c8a8" fill-opacity="0.46"/>
<rect x="269.8" y="203.5" width="2.1" height="0.8" fill="#707070" fill-opacity="0.51"/>
<rect x="271.7" y="204.7" width="2.9" height="0.8" fill="#707070" fill-opacity="0.50"/>
<rect x="142.8" y="206" width="1.2" height="0.7" fill="#d8c8a8" fill-opacity="0.42"/>
<rect x="265.6" y="207.8" width="2.5" height="0.8" fill="#b8904f" fill-opacity="0.36"/>
<rect x="170.8" y="208.5" width="3.3" height="0.9" fill="#d8c8a8" fill-opacity="0.73"/>
<rect x="223.6" y="205.9" width="2.2" height="1" fill="#c8a060" fill-opacity="0.72"/>
<rect x="181.9" y="202" width="3" height="0.5" fill="#c8a060" fill-opacity="0.60"/>
<rect x="245.3" y="206.6" width="2.6" height="0.7" fill="#c8a060" fill-opacity="0.53"/>
<rect x="186.2" y="205" width="2.4" height="0.8" fill="#c8a060" fill-opacity="0.65"/>
<rect x="99.5" y="209.5" width="1.6" height="0.6" fill="#c8a060" fill-opacity="0.68"/>
<rect x="125.2" y="209.3" width="1.6" height="0.8" fill="#707070" fill-opacity="0.33"/>
<rect x="129.7" y="201" width="1.4" height="1" fill="#b8904f" fill-opacity="0.47"/>
<rect x="209.4" y="202.3" width="1" height="1" fill="#707070" fill-opacity="0.71"/>
<rect x="250.6" y="200.1" width="1.1" height="0.9" fill="#d8c8a8" fill-opacity="0.36"/>
<rect x="161.5" y="206" width="3.4" height="0.9" fill="#8c7350" fill-opacity="0.53"/>
<rect x="145.2" y="200.4" width="1.6" height="0.5" fill="#c8a060" fill-opacity="0.33"/>
<rect x="271" y="210.1" width="3.3" height="0.9" fill="#b8904f" fill-opacity="0.41"/>
<rect x="241" y="209.6" width="3.1" height="0.8" fill="#8c7350" fill-opacity="0.59"/>
<rect x="280" y="203.6" width="1.2" height="0.9" fill="#d8c8a8" fill-opacity="0.53"/>
<rect x="139" y="206.9" width="1.6" height="0.7" fill="#707070" fill-opacity="0.62"/>
<rect x="262.5" y="205.4" width="2.9" height="0.7" fill="#8c7350" fill-opacity="0.42"/>
<rect x="163.6" y="200.6" width="3" height="0.7" fill="#c8a060" fill-opacity="0.39"/>
<rect x="202.3" y="201.9" width="1.3" height="0.6" fill="#d8c8a8" fill-opacity="0.70"/>
<rect x="257.6" y="205.3" width="1.1" height="0.7" fill="#c8a060" fill-opacity="0.42"/>
<rect x="98.1" y="204.8" width="2.6" height="0.8" fill="#b8904f" fill-opacity="0.68"/>
<rect x="180.8" y="204.3" width="1.2" height="0.6" fill="#b8904f" fill-opacity="0.38"/>
<rect x="122.1" y="204.9" width="3.4" height="0.6" fill="#707070" fill-opacity="0.57"/>
<rect x="163.9" y="208.2" width="2.2" height="0.9" fill="#707070" fill-opacity="0.57"/>
<rect x="104.8" y="201.9" width="2.1" height="0.5" fill="#c8a060" fill-opacity="0.49"/>
<rect x="119.7" y="202" width="2.7" height="0.7" fill="#707070" fill-opacity="0.64"/>
<rect x="201.2" y="208.1" width="2.5" height="0.8" fill="#b8904f" fill-opacity="0.31"/>
<rect x="275" y="210.7" width="1.1" height="0.9" fill="#8c7350" fill-opacity="0.69"/>
<rect x="130.6" y="200.6" width="2.2" height="0.6" fill="#707070" fill-opacity="0.75"/>
<rect x="268" y="205.3" width="1.1" height="0.7" fill="#d8c8a8" fill-opacity="0.57"/>
<rect x="130.4" y="204.8" width="2.3" height="0.7" fill="#c8a060" fill-opacity="0.37"/>
<rect x="179.7" y="202.2" width="1.5" height="1" fill="#8c7350" fill-opacity="0.36"/>
<rect x="128.7" y="211" width="2.3" height="0.5" fill="#d8c8a8" fill-opacity="0.73"/>
<rect x="239.5" y="208.5" width="2.2" height="0.6" fill="#d8c8a8" fill-opacity="0.60"/>
<rect x="170.3" y="200.6" width="1.7" height="0.8" fill="#d8c8a8" fill-opacity="0.36"/>
<rect x="159.2" y="204" width="2.9" height="0.8" fill="#707070" fill-opacity="0.54"/>
<rect x="103.6" y="205.3" width="3" height="0.6" fill="#707070" fill-opacity="0.48"/>
<rect x="129.1" y="207.7" width="3.2" height="1" fill="#c8a060" fill-opacity="0.69"/>
<rect x="163" y="208.2" width="3" height="0.7" fill="#b8904f" fill-opacity="0.36"/>
<rect x="235.9" y="207.6" width="1.6" height="0.6" fill="#b8904f" fill-opacity="0.45"/>
<rect x="134.3" y="209.7" width="1.5" height="0.6" fill="#8c7350" fill-opacity="0.31"/>
<rect x="275.8" y="199.9" width="2.8" height="0.5" fill="#8c7350" fill-opacity="0.47"/>
<rect x="271.1" y="200.7" width="2.1" height="0.8" fill="#8c7350" fill-opacity="0.62"/>
<rect x="180.3" y="202.6" width="1.6" height="0.7" fill="#707070" fill-opacity="0.59"/>
<rect x="117.4" y="202.4" width="1.6" height="0.8" fill="#707070" fill-opacity="0.47"/>
<rect x="157.9" y="200.4" width="1.5" height="0.9" fill="#8c7350" fill-opacity="0.70"/>
<rect x="112.8" y="206.9" width="2.3" height="0.6" fill="#8c7350" fill-opacity="0.63"/>
<rect x="118.6" y="199.5" width="2.7" height="0.5" fill="#b8904f" fill-opacity="0.45"/>
<rect x="276.2" y="205.9" width="2.4" height="0.6" fill="#d8c8a8" fill-opacity="0.54"/>
<rect x="214.5" y="204.3" width="2.9" height="0.8" fill="#b8904f" fill-opacity="0.70"/>
<rect x="119.2" y="202.4" width="1.8" height="0.8" fill="#d8c8a8" fill-opacity="0.51"/>
<rect x="207.3" y="206.5" width="2.3" height="0.7" fill="#d8c8a8" fill-opacity="0.74"/>
<rect x="117.2" y="210" width="2.8" height="1" fill="#c8a060" fill-opacity="0.36"/>
<rect x="200.3" y="200" width="2.9" height="0.9" fill="#d8c8a8" fill-opacity="0.64"/>
<rect x="253.7" y="203.3" width="3.5" height="0.6" fill="#c8a060" fill-opacity="0.72"/>
<rect x="237.6" y="208.7" width="1.5" height="0.9" fill="#c8a060" fill-opacity="0.36"/>
<rect x="139.6" y="204.9" width="3.5" height="0.7" fill="#b8904f" fill-opacity="0.46"/>
<rect x="273.1" y="199.8" width="2.8" height="0.7" fill="#c8a060" fill-opacity="0.55"/>
<rect x="102.3" y="210.9" width="1.8" height="0.7" fill="#d8c8a8" fill-opacity="0.42"/>
<rect x="263.1" y="202.5" width="1.1" height="0.5" fill="#c8a060" fill-opacity="0.74"/>
<rect x="193" y="199.5" width="2.1" height="0.9" fill="#b8904f" fill-opacity="0.52"/>
<rect x="112.7" y="199.6" width="3.3" height="0.6" fill="#b8904f" fill-opacity="0.41"/>
<rect x="200.8" y="206.7" width="3.3" height="0.8" fill="#707070" fill-opacity="0.61"/>
<rect x="272.4" y="210.5" width="1.1" height="0.9" fill="#d8c8a8" fill-opacity="0.74"/>
<rect x="220.2" y="203.6" width="1.7" height="0.9" fill="#d8c8a8" fill-opacity="0.56"/>
<rect x="254.8" y="204.3" width="1.2" height="0.7" fill="#c8a060" fill-opacity="0.64"/>
<rect x="277.3" y="209.9" width="1.4" height="1" fill="#707070" fill-opacity="0.61"/>
<rect x="247.1" y="199.9" width="1.7" height="0.9" fill="#707070" fill-opacity="0.56"/>
<rect x="144.4" y="206.1" width="2.5" height="0.9" fill="#707070" fill-opacity="0.39"/>
<rect x="150" y="210.5" width="1.6" height="0.8" fill="#707070" fill-opacity="0.57"/>
<rect x="245" y="205.9" width="2.2" height="0.5" fill="#c8a060" fill-opacity="0.42"/>
<rect x="209.5" y="209.9" width="2.8" height="0.9" fill="#b8904f" fill-opacity="0.49"/>
<rect x="283.4" y="209.4" width="1.5" height="0.6" fill="#707070" fill-opacity="0.41"/>
<rect x="193.8" y="208.3" width="2.3" height="0.8" fill="#c8a060" fill-opacity="0.71"/>
<rect x="163" y="203.7" width="2.8" height="0.6" fill="#b8904f" fill-opacity="0.53"/>
<rect x="199.6" y="201.6" width="3.1" height="0.8" fill="#8c7350" fill-opacity="0.30"/>
<rect x="181.3" y="202.1" width="1.6" height="0.6" fill="#d8c8a8" fill-opacity="0.41"/>
<rect x="123.2" y="200.5" width="1.2" height="0.8" fill="#8c7350" fill-opacity="0.54"/>
<rect x="134.9" y="205.3" width="1.7" height="0.6" fill="#8c7350" fill-opacity="0.61"/>
<rect x="277.6" y="209.3" width="2.2" height="0.9" fill="#c8a060" fill-opacity="0.74"/>
<rect x="280.6" y="201.8" width="1.4" height="0.9" fill="#b8904f" fill-opacity="0.51"/>
<rect x="177.1" y="209.2" width="1.2" height="1" fill="#b8904f" fill-opacity="0.41"/>
<rect x="101.5" y="207.6" width="3.1" height="1" fill="#d8c8a8" fill-opacity="0.67"/>
<rect x="104.3" y="204.9" width="2.2" height="0.9" fill="#b8904f" fill-opacity="0.66"/>
<rect x="143.2" y="202.7" width="1.9" height="0.9" fill="#8c7350" fill-opacity="0.53"/>
<rect x="111.4" y="200.3" width="1.7" height="0.9" fill="#8c7350" fill-opacity="0.55"/>
<rect x="153.5" y="206.7" width="2.4" height="0.6" fill="#c8a060" fill-opacity="0.69"/>
<rect x="221" y="203.4" width="3.4" height="0.9" fill="#8c7350" fill-opacity="0.44"/>
<rect x="135.4" y="209.7" width="1.7" height="0.5" fill="#8c7350" fill-opacity="0.70"/>
<rect x="276" y="201.6" width="2.1" height="0.9" fill="#707070" fill-opacity="0.48"/>
<rect x="278.7" y="204.7" width="3" height="0.7" fill="#d8c8a8" fill-opacity="0.64"/>
<rect x="195.1" y="209.9" width="2.2" height="0.8" fill="#c8a060" fill-opacity="0.34"/>
<rect x="261.4" y="204.2" width="2.1" height="0.6" fill="#8c7350" fill-opacity="0.70"/>
<rect x="106.6" y="208.9" width="2.4" height="0.7" fill="#b8904f" fill-opacity="0.72"/>
<rect x="145.5" y="199.6" width="2.2" height="0.7" fill="#8c7350" fill-opacity="0.46"/>
<rect x="109.9" y="210.6" width="2.1" height="0.6" fill="#c8a060" fill-opacity="0.50"/>
<rect x="207.3" y="205" width="2.8" height="0.9" fill="#8c7350" fill-opacity="0.30"/>
<rect x="221.5" y="200" width="2.4" height="0.8" fill="#b8904f" fill-opacity="0.49"/>
<rect x="281.2" y="208.9" width="1.2" height="0.5" fill="#b8904f" fill-opacity="0.65"/>
<rect x="164.2" y="206.6" width="3.5" height="0.5" fill="#d8c8a8" fill-opacity="0.40"/>
<rect x="127.5" y="209.9" width="2.8" height="0.9" fill="#d8c8a8" fill-opacity="0.67"/>
<rect x="110.3" y="209.6" width="1.7" height="0.8" fill="#d8c8a8" fill-opacity="0.60"/>
<rect x="265.3" y="207.9" width="3.1" height="0.5" fill="#707070" fill-opacity="0.42"/>
<rect x="170.8" y="210.3" width="3.4" height="0.7" fill="#c8a060" fill-opacity="0.36"/>
<rect x="151.3" y="209.4" width="1" height="0.9" fill="#707070" fill-opacity="0.64"/>
<rect x="105.8" y="207.5" width="1.2" height="0.6" fill="#d8c8a8" fill-opacity="0.36"/>
<rect x="104.2" y="206.6" width="3" height="0.8" fill="#d8c8a8" fill-opacity="0.47"/>
<rect x="114.3" y="206.9" width="2.2" height="0.9" fill="#d8c8a8" fill-opacity="0.55"/>
<rect x="215.1" y="204.7" width="2.2" height="1" fill="#c8a060" fill-opacity="0.43"/>
<rect x="184.4" y="204.2" width="2" height="0.5" fill="#c8a060" fill-opacity="0.62"/>
<rect x="207.4" y="209.4" width="2.5" height="0.7" fill="#b8904f" fill-opacity="0.43"/>
<rect x="156.3" y="205" width="3.5" height="0.7" fill="#707070" fill-opacity="0.64"/>
<rect x="208.4" y="211" width="1.9" height="0.8" fill="#c8a060" fill-opacity="0.34"/>
<rect x="158.3" y="201.6" width="1.5" height="0.9" fill="#c8a060" fill-opacity="0.56"/>
<rect x="161.1" y="202.3" width="2" height="0.6" fill="#707070" fill-opacity="0.37"/>
<rect x="267.6" y="204" width="1.2" height="0.9" fill="#8c7350" fill-opacity="0.35"/>
<rect x="271.6" y="201.5" width="2.4" height="0.7" fill="#c8a060" fill-opacity="0.45"/>
<rect x="163.7" y="204.7" width="2.6" height="0.8" fill="#8c7350" fill-opacity="0.52"/>
<rect x="217.5" y="207.3" width="3.4" height="0.8" fill="#c8a060" fill-opacity="0.44"/>
<rect x="123.5" y="210.5" width="1.8" height="0.9" fill="#b8904f" fill-opacity="0.70"/>
<rect x="192" y="208.7" width="1.7" height="0.5" fill="#707070" fill-opacity="0.63"/>
<rect x="177.4" y="208.5" width="3" height="0.6" fill="#707070" fill-opacity="0.51"/>
<rect x="278.9" y="208.5" width="1.3" height="0.8" fill="#b8904f" fill-opacity="0.34"/>
<rect x="280.8" y="202.6" width="1.4" height="0.7" fill="#d8c8a8" fill-opacity="0.30"/>
<rect x="192.7" y="200.1" width="3" height="0.7" fill="#8c7350" fill-opacity="0.48"/>
<rect x="115.2" y="209.2" width="2" height="0.8" fill="#707070" fill-opacity="0.36"/>
<rect x="199.2" y="202.1" width="2.7" height="0.6" fill="#c8a060" fill-opacity="0.52"/>
<rect x="116.3" y="204.3" width="2.5" height="1" fill="#d8c8a8" fill-opacity="0.75"/>
<rect x="269.9" y="211" width="3.4" height="0.6" fill="#c8a060" fill-opacity="0.53"/>
<rect x="237.3" y="205.9" width="2.2" height="0.6" fill="#8c7350" fill-opacity="0.47"/>
<rect x="179.1" y="209.3" width="2.1" height="0.6" fill="#c8a060" fill-opacity="0.62"/>
<rect x="258.5" y="210" width="1.1" height="0.7" fill="#8c7350" fill-opacity="0.64"/>
<rect x="176.5" y="208.9" width="2.7" height="0.8" fill="#8c7350" fill-opacity="0.55"/>
<rect x="220.5" y="203.1" width="3" height="0.9" fill="#8c7350" fill-opacity="0.52"/>
<rect x="103.4" y="199.6" width="2.4" height="0.8" fill="#b8904f" fill-opacity="0.72"/>
<rect x="181.4" y="209.4" width="2.2" height="0.7" fill="#d8c8a8" fill-opacity="0.43"/>
<rect x="245.7" y="204.3" width="1.1" height="0.5" fill="#707070" fill-opacity="0.57"/>
<rect x="282.8" y="210.2" width="3.5" height="0.8" fill="#707070" fill-opacity="0.71"/>
<rect x="124.7" y="202.6" width="1.7" height="0.8" fill="#b8904f" fill-opacity="0.69"/>
<rect x="237.9" y="203.8" width="2.4" height="0.7" fill="#707070" fill-opacity="0.67"/>
<rect x="103.5" y="209.9" width="3.2" height="0.8" fill="#d8c8a8" fill-opacity="0.66"/>
<rect x="237.8" y="199.5" width="2.2" height="0.6" fill="#c8a060" fill-opacity="0.34"/>
<rect x="154.9" y="201.8" width="1.7" height="0.6" fill="#b8904f" fill-opacity="0.66"/>
<rect x="236.4" y="202.6" width="1.3" height="0.7" fill="#c8a060" fill-opacity="0.34"/>
<rect x="120" y="206.9" width="2.2" height="0.9" fill="#c8a060" fill-opacity="0.31"/>
<rect x="195" y="210.8" width="1.8" height="0.7" fill="#c8a060" fill-opacity="0.42"/>
<rect x="255.4" y="206.3" width="2.9" height="0.7" fill="#707070" fill-opacity="0.42"/>
<rect x="257.2" y="205.1" width="1.1" height="0.5" fill="#c8a060" fill-opacity="0.48"/>
<rect x="168.8" y="205.4" width="2.6" height="0.7" fill="#8c7350" fill-opacity="0.40"/>
<rect x="128" y="203.2" width="2.3" height="0.7" fill="#c8a060" fill-opacity="0.40"/>
<rect x="268.1" y="207" width="2.3" height="0.7" fill="#707070" fill-opacity="0.63"/>
<rect x="238.7" y="205.3" width="2.3" height="0.7" fill="#d8c8a8" fill-opacity="0.70"/>
<rect x="160.1" y="208.7" width="1.1" height="1" fill="#c8a060" fill-opacity="0.65"/>
<rect x="239.7" y="204.6" width="1.4" height="1" fill="#707070" fill-opacity="0.39"/>
<rect x="156.8" y="204.8" width="1.3" height="0.6" fill="#8c7350" fill-opacity="0.33"/>
<rect x="210.2" y="200" width="2.7" height="0.7" fill="#c8a060" fill-opacity="0.39"/>
<rect x="135.4" y="203.8" width="3.5" height="0.8" fill="#c8a060" fill-opacity="0.53"/>
<rect x="270.6" y="201.9" width="3.2" height="0.6" fill="#d8c8a8" fill-opacity="0.73"/>
<rect x="129.4" y="201.8" width="1.6" height="0.9" fill="#d8c8a8" fill-opacity="0.72"/>
<rect x="163.3" y="302.3" width="2" height="0.7" fill="#c0a070" fill-opacity="0.74"/>
<rect x="229.4" y="299.4" width="1.6" height="0.6" fill="#6f6558" fill-opacity="0.67"/>
<rect x="274.9" y="303.7" width="1.1" height="0.6" fill="#c05030" fill-opacity="0.50"/>
<rect x="263.9" y="306.2" width="2.7" height="0.5" fill="#c0a070" fill-opacity="0.64"/>
<rect x="228" y="308.3" width="3" height="0.7" fill="#c0a070" fill-opacity="0.72"/>
<rect x="160.7" y="301.6" width="2.6" height="1" fill="#6f6558" fill-opacity="0.63"/>
<rect x="148.4" y="297.5" width="3.5" height="0.5" fill="#6f6558" fill-opacity="0.49"/>
<rect x="124.2" y="300.2" width="2.2" height="0.5" fill="#c0a070" fill-opacity="0.69"/>
<rect x="97.5" y="306.6" width="2.2" height="1" fill="#c0a070" fill-opacity="0.68"/>
<rect x="118.2" y="306.5" width="1.2" height="0.8" fill="#a07048" fill-opacity="0.68"/>
<rect x="268.8" y="307.3" width="1.1" height="0.5" fill="#c0a070" fill-opacity="0.64"/>
<rect x="185.2" y="304.5" width="3" height="0.8" fill="#8c7350" fill-opacity="0.49"/>
<rect x="114.1" y="297.6" width="1.3" height="0.5" fill="#8c7350" fill-opacity="0.77"/>
<rect x="116.5" y="304.7" width="3.4" height="0.9" fill="#a07048" fill-opacity="0.76"/>
<rect x="226.1" y="299.4" width="2.5" height="0.6" fill="#a07048" fill-opacity="0.77"/>
<rect x="114.7" y="298.3" width="2" height="0.5" fill="#c0a070" fill-opacity="0.75"/>
<rect x="183.2" y="299.6" width="1.1" height="0.9" fill="#c0a070" fill-opacity="0.67"/>
<rect x="269.8" y="302.5" width="1.3" height="0.6" fill="#c0a070" fill-opacity="0.65"/>
<rect x="148.6" y="302" width="1.4" height="0.7" fill="#a07048" fill-opacity="0.75"/>
<rect x="260.6" y="301.7" width="1.6" height="0.6" fill="#c0a070" fill-opacity="0.73"/>
<rect x="257.6" y="299" width="2.1" height="0.5" fill="#6f6558" fill-opacity="0.63"/>
<rect x="279.1" y="306.7" width="2.9" height="0.9" fill="#c0a070" fill-opacity="0.50"/>
<rect x="216.8" y="299" width="2.1" height="0.6" fill="#c05030" fill-opacity="0.43"/>
<rect x="214.5" y="304.5" width="2.8" height="0.7" fill="#c0a070" fill-opacity="0.43"/>
<rect x="188.8" y="305.6" width="2.3" height="0.8" fill="#8c7350" fill-opacity="0.68"/>
<rect x="171.1" y="301.2" width="1.6" height="0.7" fill="#8c7350" fill-opacity="0.65"/>
<rect x="136.9" y="301.2" width="2.6" height="0.5" fill="#8c7350" fill-opacity="0.55"/>
<rect x="105.9" y="304.5" width="2.3" height="1" fill="#a07048" fill-opacity="0.60"/>
<rect x="254.8" y="306.7" width="2.7" height="0.8" fill="#6f6558" fill-opacity="0.61"/>
<rect x="211.3" y="306.1" width="2.3" height="0.6" fill="#c05030" fill-opacity="0.59"/>
<rect x="120.8" y="302" width="2.8" height="0.6" fill="#a07048" fill-opacity="0.41"/>
<rect x="271" y="305.3" width="3.5" height="0.9" fill="#8c7350" fill-opacity="0.46"/>
<rect x="130.1" y="303.9" width="2.9" height="0.6" fill="#a07048" fill-opacity="0.54"/>
<rect x="202.2" y="297.6" width="3.3" height="0.7" fill="#8c7350" fill-opacity="0.63"/>
<rect x="123.8" y="305.2" width="1.4" height="0.6" fill="#8c7350" fill-opacity="0.70"/>
<rect x="116.8" y="306.9" width="2" height="0.6" fill="#c0a070" fill-opacity="0.64"/>
<rect x="161.8" y="301.8" width="2.1" height="0.7" fill="#8c7350" fill-opacity="0.49"/>
<rect x="167.5" y="307.1" width="1.1" height="0.6" fill="#c05030" fill-opacity="0.54"/>
<rect x="192.6" y="301.4" width="1.1" height="0.6" fill="#a07048" fill-opacity="0.78"/>
<rect x="126.6" y="297.2" width="1.1" height="0.7" fill="#c0a070" fill-opacity="0.66"/>
<rect x="101.8" y="307.3" width="1" height="0.9" fill="#a07048" fill-opacity="0.67"/>
<rect x="150.6" y="304.5" width="2.5" height="1" fill="#8c7350" fill-opacity="0.42"/>
<rect x="264.9" y="302.7" width="2.3" height="1" fill="#6f6558" fill-opacity="0.64"/>
<rect x="110.1" y="302.9" width="2.1" height="0.8" fill="#6f6558" fill-opacity="0.63"/>
<rect x="247.3" y="302.9" width="3.3" height="0.9" fill="#a07048" fill-opacity="0.65"/>
<rect x="151.3" y="300.1" width="3.4" height="0.7" fill="#6f6558" fill-opacity="0.43"/>
<rect x="248.8" y="307.2" width="1.7" height="0.7" fill="#c05030" fill-opacity="0.71"/>
<rect x="99.1" y="297.9" width="3.2" height="0.7" fill="#c0a070" fill-opacity="0.52"/>
<rect x="243.1" y="299.8" width="1" height="0.8" fill="#a07048" fill-opacity="0.75"/>
<rect x="246" y="298.4" width="2.5" height="0.6" fill="#6f6558" fill-opacity="0.56"/>
<rect x="240.4" y="305.4" width="3.1" height="1" fill="#8c7350" fill-opacity="0.53"/>
<rect x="127.1" y="301.5" width="1.7" height="0.9" fill="#a07048" fill-opacity="0.66"/>
<rect x="247.2" y="302.8" width="2.3" height="0.6" fill="#8c7350" fill-opacity="0.62"/>
<rect x="254.6" y="306.6" width="1.5" height="0.6" fill="#c0a070" fill-opacity="0.54"/>
<rect x="95.7" y="297.3" width="1.6" height="0.7" fill="#8c7350" fill-opacity="0.53"/>
<rect x="207.7" y="301" width="1.6" height="0.6" fill="#a07048" fill-opacity="0.49"/>
<rect x="129.5" y="301.1" width="3.4" height="1" fill="#a07048" fill-opacity="0.41"/>
<rect x="133.6" y="298.2" width="3.5" height="0.9" fill="#c0a070" fill-opacity="0.44"/>
<rect x="144.9" y="307.8" width="3.3" height="0.9" fill="#6f6558" fill-opacity="0.68"/>
<rect x="156.5" y="307.9" width="1.5" height="0.6" fill="#8c7350" fill-opacity="0.62"/>
<rect x="98.6" y="296.8" width="3.5" height="0.7" fill="#c0a070" fill-opacity="0.77"/>
<rect x="111.8" y="298.2" width="1.6" height="0.6" fill="#a07048" fill-opacity="0.42"/>
<rect x="144.7" y="300.8" width="3.5" height="0.7" fill="#a07048" fill-opacity="0.73"/>
<rect x="141.2" y="302.1" width="3.4" height="0.7" fill="#6f6558" fill-opacity="0.50"/>
<rect x="173.2" y="296.6" width="3.3" height="0.9" fill="#a07048" fill-opacity="0.79"/>
<rect x="216.6" y="304.1" width="1" height="0.9" fill="#c05030" fill-opacity="0.77"/>
<rect x="220" y="296.8" width="1.2" height="0.8" fill="#c05030" fill-opacity="0.49"/>
<rect x="271.5" y="299.8" width="2.2" height="1" fill="#6f6558" fill-opacity="0.53"/>
<rect x="158.1" y="299.5" width="1.1" height="0.8" fill="#a07048" fill-opacity="0.68"/>
<rect x="156.2" y="300.7" width="1.6" height="0.7" fill="#6f6558" fill-opacity="0.65"/>
<rect x="141.3" y="299.7" width="2.3" height="0.9" fill="#c05030" fill-opacity="0.42"/>
<rect x="160.7" y="296.7" width="1.9" height="0.8" fill="#6f6558" fill-opacity="0.55"/>
<rect x="191.7" y="299.5" width="2.5" height="0.6" fill="#a07048" fill-opacity="0.65"/>
<rect x="264" y="304.2" width="1.2" height="0.6" fill="#c0a070" fill-opacity="0.62"/>
<rect x="234.4" y="303.2" width="3.2" height="0.6" fill="#a07048" fill-opacity="0.72"/>
<rect x="227.3" y="305.8" width="2.2" height="0.6" fill="#a07048" fill-opacity="0.57"/>
<rect x="149.5" y="297.7" width="3.4" height="0.9" fill="#6f6558" fill-opacity="0.73"/>
<rect x="200.6" y="300" width="2.6" height="1" fill="#8c7350" fill-opacity="0.63"/>
<rect x="97.6" y="304.4" width="1.2" height="1" fill="#8c7350" fill-opacity="0.56"/>
<rect x="163.4" y="299.3" width="1.4" height="0.7" fill="#6f6558" fill-opacity="0.65"/>
<rect x="169.7" y="308.1" width="2.5" height="0.8" fill="#a07048" fill-opacity="0.62"/>
<rect x="172.4" y="298.3" width="2.8" height="1" fill="#c0a070" fill-opacity="0.60"/>
<rect x="121.9" y="299.4" width="3.3" height="0.9" fill="#c0a070" fill-opacity="0.63"/>
<rect x="244.3" y="298.7" width="2.1" height="1" fill="#c05030" fill-opacity="0.55"/>
<rect x="173" y="296.6" width="2.5" height="0.7" fill="#6f6558" fill-opacity="0.80"/>
<rect x="247.4" y="297.3" width="2.5" height="0.8" fill="#a07048" fill-opacity="0.51"/>
<rect x="113.1" y="300.9" width="1.8" height="0.9" fill="#6f6558" fill-opacity="0.64"/>
<rect x="238.8" y="301.7" width="1.7" height="0.7" fill="#c05030" fill-opacity="0.53"/>
<rect x="251.6" y="302" width="1.6" height="0.8" fill="#6f6558" fill-opacity="0.54"/>
<rect x="154.7" y="302.6" width="3.4" height="0.9" fill="#8c7350" fill-opacity="0.50"/>
<rect x="210.8" y="304.6" width="1.7" height="0.8" fill="#a07048" fill-opacity="0.66"/>
<rect x="165.5" y="303.9" width="2.9" height="0.5" fill="#c0a070" fill-opacity="0.54"/>
<rect x="210.4" y="298" width="2.7" height="0.7" fill="#c05030" fill-opacity="0.56"/>
<rect x="254.7" y="303.9" width="1.1" height="0.7" fill="#c05030" fill-opacity="0.76"/>
<rect x="271.1" y="298.4" width="2.4" height="1" fill="#6f6558" fill-opacity="0.66"/>
<rect x="121.3" y="301.7" width="3" height="0.5" fill="#c05030" fill-opacity="0.52"/>
<rect x="148.7" y="306.5" width="1.9" height="0.7" fill="#6f6558" fill-opacity="0.62"/>
<rect x="158.1" y="306.2" width="1.7" height="0.9" fill="#c0a070" fill-opacity="0.47"/>
<rect x="195.6" y="300.8" width="1.5" height="0.5" fill="#c0a070" fill-opacity="0.41"/>
<rect x="102.2" y="307" width="3" height="0.9" fill="#6f6558" fill-opacity="0.55"/>
<rect x="202.8" y="300.1" width="2.6" height="0.9" fill="#c0a070" fill-opacity="0.77"/>
<rect x="228.7" y="299.7" width="1.2" height="0.6" fill="#6f6558" fill-opacity="0.52"/>
<rect x="114.6" y="302.5" width="2.9" height="0.6" fill="#c0a070" fill-opacity="0.55"/>
<rect x="132.3" y="306.2" width="2.8" height="0.7" fill="#8c7350" fill-opacity="0.52"/>
<rect x="239.1" y="304.4" width="2.4" height="0.7" fill="#c05030" fill-opacity="0.50"/>
<rect x="278.6" y="303.2" width="2.9" height="0.5" fill="#8c7350" fill-opacity="0.60"/>
<rect x="108.5" y="298.9" width="2.9" height="0.7" fill="#c0a070" fill-opacity="0.45"/>
<rect x="221.1" y="298" width="2.9" height="0.9" fill="#8c7350" fill-opacity="0.54"/>
<rect x="160.9" y="305.2" width="3.1" height="0.6" fill="#6f6558" fill-opacity="0.44"/>
<rect x="140.8" y="301.7" width="3.3" height="0.7" fill="#8c7350" fill-opacity="0.51"/>
<rect x="255.3" y="303.3" width="1.4" height="0.6" fill="#8c7350" fill-opacity="0.47"/>
<rect x="169.3" y="300.9" width="3.1" height="0.8" fill="#8c7350" fill-opacity="0.40"/>
<rect x="102" y="305.9" width="2.7" height="0.5" fill="#c0a070" fill-opacity="0.74"/>
<rect x="96.9" y="307.1" width="1" height="0.6" fill="#8c7350" fill-opacity="0.45"/>
<rect x="254.3" y="307.5" width="1.1" height="0.7" fill="#6f6558" fill-opacity="0.43"/>
<rect x="127" y="305.8" width="1" height="0.6" fill="#6f6558" fill-opacity="0.43"/>
<rect x="163.1" y="306.8" width="3.1" height="0.9" fill="#c05030" fill-opacity="0.42"/>
<rect x="211.1" y="299" width="3" height="0.8" fill="#c05030" fill-opacity="0.50"/>
<rect x="181.9" y="308.2" width="2.3" height="0.8" fill="#c0a070" fill-opacity="0.51"/>
<rect x="152.9" y="308.2" width="2.8" height="0.6" fill="#c05030" fill-opacity="0.73"/>
<rect x="179.3" y="299.6" width="1.6" height="0.8" fill="#a07048" fill-opacity="0.55"/>
<rect x="114.3" y="302.4" width="2.7" height="0.6" fill="#c05030" fill-opacity="0.50"/>
<rect x="126.1" y="299.7" width="2.6" height="0.6" fill="#c0a070" fill-opacity="0.58"/>
<rect x="106.2" y="307.5" width="1.8" height="0.7" fill="#a07048" fill-opacity="0.59"/>
<rect x="261.8" y="301.8" width="1.1" height="0.9" fill="#a07048" fill-opacity="0.67"/>
<rect x="244.9" y="296.5" width="3.2" height="0.8" fill="#6f6558" fill-opacity="0.76"/>
<rect x="187.9" y="297.7" width="2.3" height="1" fill="#6f6558" fill-opacity="0.66"/>
<rect x="259.3" y="296.9" width="2.1" height="0.6" fill="#6f6558" fill-opacity="0.74"/>
<rect x="230.1" y="305.6" width="1.2" height="0.8" fill="#8c7350" fill-opacity="0.76"/>
<rect x="273.5" y="298.3" width="1.8" height="0.9" fill="#a07048" fill-opacity="0.71"/>
<rect x="107.7" y="297.6" width="2.7" height="1" fill="#6f6558" fill-opacity="0.60"/>
<rect x="268.2" y="299" width="2.8" height="0.6" fill="#a07048" fill-opacity="0.41"/>
<rect x="139.9" y="299.5" width="2.6" height="0.8" fill="#6f6558" fill-opacity="0.63"/>
<rect x="257.6" y="298.8" width="1.5" height="0.8" fill="#c0a070" fill-opacity="0.46"/>
<rect x="211" y="307.3" width="2.1" height="0.6" fill="#a07048" fill-opacity="0.79"/>
<rect x="264.5" y="306.1" width="2.7" height="0.7" fill="#c05030" fill-opacity="0.48"/>
<rect x="238.2" y="303.1" width="2.1" height="0.9" fill="#6f6558" fill-opacity="0.59"/>
<rect x="159.9" y="303.6" width="3.3" height="0.7" fill="#6f6558" fill-opacity="0.74"/>
<rect x="214.6" y="300.3" width="3.1" height="0.6" fill="#8c7350" fill-opacity="0.74"/>
<rect x="179.5" y="305.5" width="1.2" height="0.9" fill="#a07048" fill-opacity="0.46"/>
<rect x="197.6" y="307.4" width="2.9" height="0.5" fill="#8c7350" fill-opacity="0.79"/>
<rect x="272.5" y="299.4" width="1" height="0.8" fill="#c05030" fill-opacity="0.46"/>
<rect x="186.9" y="297.1" width="1.2" height="1" fill="#c05030" fill-opacity="0.57"/>
<rect x="99.6" y="305.2" width="3.1" height="0.6" fill="#6f6558" fill-opacity="0.74"/>
<rect x="247" y="300.4" width="3" height="0.9" fill="#c05030" fill-opacity="0.62"/>
<rect x="102.6" y="298.4" width="3" height="0.8" fill="#c0a070" fill-opacity="0.65"/>
<rect x="175" y="305.9" width="2.7" height="0.8" fill="#c0a070" fill-opacity="0.47"/>
<rect x="239.9" y="304.9" width="1.6" height="0.8" fill="#a07048" fill-opacity="0.48"/>
<rect x="195.3" y="308.2" width="1.7" height="0.9" fill="#8c7350" fill-opacity="0.55"/>
<rect x="152.7" y="305.3" width="2.9" height="0.8" fill="#c05030" fill-opacity="0.60"/>
<rect x="276.5" y="299.7" width="3.1" height="0.7" fill="#8c7350" fill-opacity="0.60"/>
<rect x="250.7" y="301.1" width="2" height="0.8" fill="#a07048" fill-opacity="0.62"/>
<rect x="117.6" y="306" width="1.5" height="0.8" fill="#c0a070" fill-opacity="0.50"/>
<rect x="202.4" y="302.7" width="1.1" height="0.6" fill="#a07048" fill-opacity="0.45"/>
<rect x="260.8" y="307.5" width="1.7" height="0.5" fill="#8c7350" fill-opacity="0.41"/>
<rect x="104.8" y="301" width="2.8" height="0.6" fill="#c05030" fill-opacity="0.71"/>
<rect x="178" y="304.3" width="3.3" height="0.6" fill="#8c7350" fill-opacity="0.41"/>
<rect x="203" y="299.8" width="1.7" height="1" fill="#c0a070" fill-opacity="0.61"/>
<rect x="182.9" y="300.2" width="3.2" height="0.6" fill="#c0a070" fill-opacity="0.68"/>
<rect x="100.7" y="301.2" width="3.3" height="0.8" fill="#8c7350" fill-opacity="0.40"/>
<path d="M191.7,304.8C192.5,304.9 194.8,305.7 196.3,305.8C197.8,305.9 199.3,305.6 200.8,305.5C202.4,305.4 204.6,305.1 205.4,305" stroke="#8a6a40" stroke-opacity="0.60" stroke-width="1.0"/>
<path d="M172,306.9C172.5,306.9 174,307.2 175,307.1C176.1,306.9 177.1,306 178.1,306C179.1,306 180.1,307.3 181.1,307.2C182.2,307.1 183.7,305.6 184.2,305.3" stroke="#a07038" stroke-opacity="0.56" stroke-width="1.0"/>
<path d="M198.9,306.4C199.2,306.6 200,307.6 200.6,307.6C201.2,307.6 201.7,306.4 202.3,306.3C202.9,306.2 203.5,306.8 204,307C204.6,307.1 205.5,307.1 205.8,307.2" stroke="#b8884a" stroke-opacity="0.76" stroke-width="0.9"/>
<path d="M222.7,299.4C223.3,299.5 224.9,300.1 225.9,300.1C227,300.1 228.1,299.4 229.1,299.5C230.2,299.6 231.8,300.7 232.3,300.9" stroke="#6f6050" stroke-opacity="0.52" stroke-width="0.9"/>
<path d="M203,295.8C203.7,296 205.8,296.6 207.3,296.6C208.7,296.6 210.9,295.9 211.6,295.8" stroke="#6f6050" stroke-opacity="0.52" stroke-width="0.7"/>
<path d="M144.2,305.2C144.7,305 146.2,304.3 147.3,304.3C148.3,304.4 149.4,305.1 150.4,305.4C151.4,305.7 152.5,306 153.5,305.9C154.6,305.8 156.1,304.9 156.6,304.7" stroke="#6f6050" stroke-opacity="0.54" stroke-width="0.9"/>
<path d="M242,298.4C242.3,298.6 243.2,299.7 243.8,299.8C244.4,300 245,299.5 245.6,299.3C246.2,299.1 247.2,298.6 247.5,298.5" stroke="#a07038" stroke-opacity="0.62" stroke-width="0.7"/>
<path d="M281.5,306C281.7,305.9 282.3,305.2 282.7,305.2C283.2,305.2 283.6,305.6 284,305.9C284.5,306.2 284.9,306.7 285.3,306.8C285.8,307 286.4,306.9 286.6,306.9" stroke="#b8884a" stroke-opacity="0.57" stroke-width="1.1"/>
<path d="M276.5,303.9C277.6,303.8 280.8,303.3 283,303.2C285.2,303.2 288.5,303.7 289.6,303.8" stroke="#6f6050" stroke-opacity="0.82" stroke-width="0.7"/>
<path d="M269.7,296.5C270.4,296.5 272.4,296.2 273.7,296C275,295.8 276.3,295.5 277.7,295.4C279,295.3 281,295.4 281.6,295.4" stroke="#a07038" stroke-opacity="0.59" stroke-width="1.1"/>
<path d="M202.2,305.4C202.5,305.5 203.4,306 204,305.9C204.6,305.8 205.2,304.8 205.8,304.7C206.4,304.6 207.3,305 207.6,305.1" stroke="#b8884a" stroke-opacity="0.53" stroke-width="0.9"/>
<path d="M133.2,302.2C133.9,302.3 135.9,302.9 137.3,302.9C138.7,302.9 140.1,302.3 141.4,302.1C142.8,302 144.9,302.1 145.6,302" stroke="#8a6a40" stroke-opacity="0.86" stroke-width="0.8"/>
<path d="M202.7,306.4C203.1,306.4 204.3,305.9 205.2,306.1C206,306.4 206.8,307.7 207.7,307.7C208.5,307.8 209.3,306.4 210.2,306.2C211,306 212.3,306.6 212.7,306.7" stroke="#b8884a" stroke-opacity="0.74" stroke-width="0.9"/>
<path d="M192,298.1C192.4,298 193.7,297.4 194.5,297.4C195.4,297.4 196.2,297.7 197.1,298C197.9,298.2 198.8,298.9 199.6,298.7C200.5,298.6 201.8,297.5 202.2,297.3" stroke="#b8884a" stroke-opacity="0.68" stroke-width="0.8"/>
<path d="M126.5,296.9C127.2,296.7 129.4,295.9 130.9,295.8C132.3,295.6 133.8,295.8 135.3,295.9C136.7,296 138.9,296.3 139.6,296.4" stroke="#8a6a40" stroke-opacity="0.51" stroke-width="0.9"/>
<path d="M265.9,303C267,303.1 270.5,303.1 272.8,303.1C275.2,303.2 278.7,303.4 279.8,303.5" stroke="#b8884a" stroke-opacity="0.71" stroke-width="1.0"/>
<path d="M133.9,303.8C134.9,303.7 138.1,303.1 140.2,303.1C142.3,303.1 145.5,303.9 146.5,304.1" stroke="#a07038" stroke-opacity="0.89" stroke-width="0.8"/>
<path d="M159.9,307.1C160.4,306.9 162.2,306.2 163.3,306.3C164.4,306.4 165.6,307.7 166.7,307.8C167.8,307.9 169.5,307.1 170.1,306.9" stroke="#8a6a40" stroke-opacity="0.75" stroke-width="1.0"/>
<path d="M153.8,298.3C154.3,298.3 155.8,298.2 156.9,298.1C157.9,297.9 159.4,297.5 159.9,297.3" stroke="#6f6050" stroke-opacity="0.60" stroke-width="1.0"/>
<path d="M150.9,298.5C151.6,298.6 153.7,299.4 155.1,299.4C156.5,299.4 158.5,298.7 159.2,298.6" stroke="#6f6050" stroke-opacity="0.53" stroke-width="0.9"/>
<path d="M264.2,304.9C265.1,304.7 267.7,303.8 269.4,303.8C271.2,303.8 273.8,304.6 274.6,304.7" stroke="#6f6050" stroke-opacity="0.70" stroke-width="1.0"/>
<path d="M145.3,306.6C145.8,306.8 147.2,307.5 148.1,307.7C149.1,307.9 150.5,307.8 150.9,307.9" stroke="#b8884a" stroke-opacity="0.72" stroke-width="0.9"/>
<path d="M176.5,301.9C177,301.9 178.6,301.9 179.6,301.9C180.6,301.8 182.2,301.7 182.7,301.6" stroke="#8a6a40" stroke-opacity="0.63" stroke-width="0.7"/>
<path d="M107.7,303.4C108.3,303.2 110.1,301.9 111.3,301.7C112.5,301.5 114.3,302.2 114.9,302.3" stroke="#b8884a" stroke-opacity="0.63" stroke-width="1.1"/>
<path d="M234.5,299.1C235,299 236.6,298.5 237.7,298.4C238.8,298.2 239.8,298.1 240.9,298.3C241.9,298.5 243,299.5 244.1,299.7C245.1,300 246.7,299.8 247.3,299.9" stroke="#6f6050" stroke-opacity="0.59" stroke-width="0.8"/>
<path d="M258.5,306.2C258.9,306 260.4,304.9 261.4,304.9C262.4,304.9 263.4,306.1 264.4,306.2C265.4,306.3 266.9,305.7 267.4,305.6" stroke="#6f6050" stroke-opacity="0.50" stroke-width="1.0"/>
<path d="M203.3,299.7C203.9,299.7 205.7,299.4 207,299.4C208.2,299.3 209.4,299.3 210.6,299.5C211.8,299.7 213.6,300.5 214.2,300.7" stroke="#a07038" stroke-opacity="0.80" stroke-width="0.8"/>
<path d="M131.2,300C132.2,300.2 135.4,300.8 137.6,300.8C139.7,300.9 143,300.4 144,300.3" stroke="#b8884a" stroke-opacity="0.76" stroke-width="0.8"/>
<path d="M187.6,297.1C188,297.2 189.3,297.7 190.2,297.6C191,297.5 191.9,296.5 192.7,296.5C193.6,296.6 194.5,297.8 195.3,298C196.2,298.2 197.4,297.8 197.9,297.8" stroke="#a07038" stroke-opacity="0.77" stroke-width="0.9"/>
<path d="M155.6,307.4C156.2,307.4 158.3,307.4 159.6,307.3C161,307.3 162.3,307.3 163.7,307.2C165,307 167,306.6 167.7,306.5" stroke="#b8884a" stroke-opacity="0.54" stroke-width="1.0"/>
<path d="M216.5,295.8C217.3,295.9 219.6,296.6 221.2,296.7C222.7,296.7 224.3,296.2 225.8,296.1C227.4,296.1 229.7,296.2 230.5,296.2" stroke="#8a6a40" stroke-opacity="0.84" stroke-width="0.8"/>
<path d="M101.4,306.8C102,306.8 103.5,306.8 104.6,306.9C105.6,306.9 106.7,307 107.7,307C108.8,307 109.9,306.7 110.9,306.8C112,306.8 113.5,307.3 114.1,307.4" stroke="#8a6a40" stroke-opacity="0.78" stroke-width="0.8"/>
<path d="M209.1,296.7C209.4,296.8 210.3,297.1 210.9,297.3C211.5,297.4 212.1,297.4 212.7,297.4C213.4,297.3 214.3,297.1 214.6,297" stroke="#8a6a40" stroke-opacity="0.52" stroke-width="0.8"/>
<path d="M177.2,306.4C177.9,306.1 180.3,304.6 181.8,304.5C183.4,304.4 184.9,306.1 186.5,306.1C188,306.1 190.3,304.9 191.1,304.7" stroke="#a07038" stroke-opacity="0.84" stroke-width="0.7"/>
<path d="M198.7,297C199.7,296.9 202.5,296.6 204.4,296.5C206.3,296.5 209.2,296.9 210.1,296.9" stroke="#b8884a" stroke-opacity="0.52" stroke-width="1.1"/>
<path d="M142.8,307.4C143.3,307.4 144.7,307.3 145.7,307.5C146.7,307.7 148.2,308.5 148.7,308.7" stroke="#6f6050" stroke-opacity="0.62" stroke-width="0.8"/>
<path d="M94.2,296.8C94.5,296.8 95.3,297 95.9,297.2C96.4,297.4 97,297.9 97.6,298.1C98.1,298.2 99,298 99.2,298" stroke="#8a6a40" stroke-opacity="0.85" stroke-width="0.7"/>
<path d="M215.8,299.8C216.3,299.8 218,300 219.1,299.8C220.2,299.5 221.3,298.4 222.4,298.4C223.6,298.5 224.7,299.8 225.8,300C226.9,300.2 228.6,299.6 229.1,299.5" stroke="#8a6a40" stroke-opacity="0.84" stroke-width="1.0"/>
<path d="M274.9,303.1C275.4,302.9 277,302.3 278.1,302.4C279.2,302.5 280.2,303.7 281.3,303.8C282.4,303.9 283.5,303.2 284.5,303C285.6,302.7 287.2,302.4 287.7,302.3" stroke="#b8884a" stroke-opacity="0.67" stroke-width="1.0"/>
<path d="M141.8,299.2C142.4,299.2 144,299.7 145,299.5C146.1,299.4 147.1,298.6 148.2,298.4C149.2,298.3 150.8,298.6 151.4,298.7" stroke="#a07038" stroke-opacity="0.76" stroke-width="0.9"/>
<path d="M243.5,298.4C244,298.3 245.5,297.9 246.5,297.8C247.5,297.7 248.9,297.7 249.4,297.7" stroke="#6f6050" stroke-opacity="0.83" stroke-width="0.9"/>
<path d="M129.4,298.5C129.8,298.5 131.1,298.6 131.9,298.4C132.8,298.3 134,297.6 134.5,297.4" stroke="#b8884a" stroke-opacity="0.65" stroke-width="0.7"/>
<path d="M199,307.1C199.2,307.2 199.9,307.5 200.3,307.6C200.7,307.6 201.1,307.6 201.6,307.5C202,307.3 202.4,306.7 202.9,306.7C203.3,306.7 203.9,307.5 204.1,307.6" stroke="#a07038" stroke-opacity="0.89" stroke-width="0.8"/>
<path d="M208.4,299.5C208.8,299.7 210,300.4 210.8,300.3C211.6,300.1 212.4,298.9 213.2,298.6C214,298.3 215.2,298.5 215.6,298.5" stroke="#a07038" stroke-opacity="0.68" stroke-width="0.8"/>
<path d="M176.9,302.7C177.9,302.7 181.2,303.2 183.4,303.2C185.5,303.2 188.8,302.8 189.9,302.7" stroke="#6f6050" stroke-opacity="0.58" stroke-width="0.8"/>
<path d="M94.5,307.7C95.3,307.9 97.6,308.6 99.1,308.7C100.6,308.8 102.9,308.3 103.7,308.2" stroke="#6f6050" stroke-opacity="0.78" stroke-width="1.1"/>
<path d="M181.6,297.5C182.2,297.5 184,297.3 185.2,297.4C186.4,297.5 188.2,298.2 188.8,298.3" stroke="#6f6050" stroke-opacity="0.63" stroke-width="0.8"/>
<path d="M166.4,300.7C167,300.8 168.6,301.4 169.7,301.4C170.8,301.4 171.9,301 173,300.8C174.1,300.6 175.2,300.5 176.2,300.4C177.3,300.4 179,300.6 179.5,300.6" stroke="#8a6a40" stroke-opacity="0.58" stroke-width="1.0"/>
<path d="M134.9,303.2C135.1,303.1 136,302.7 136.5,302.5C137,302.3 137.6,302.2 138.1,302.2C138.7,302.3 139.2,302.9 139.7,303C140.3,303 141.1,302.7 141.3,302.7" stroke="#b8884a" stroke-opacity="0.66" stroke-width="0.8"/>
<path d="M195.5,301.7C196.5,301.7 199.6,301.8 201.7,301.8C203.8,301.9 207,302 208,302" stroke="#b8884a" stroke-opacity="0.76" stroke-width="0.8"/>
<path d="M146.2,306.6C147.3,306.6 150.4,306.5 152.5,306.5C154.6,306.5 157.7,306.6 158.8,306.6" stroke="#6f6050" stroke-opacity="0.70" stroke-width="0.9"/>
<path d="M276.7,298.4C277.1,298.3 278.6,297.9 279.6,297.9C280.5,298 281.5,298.5 282.5,298.8C283.4,299 284.4,299.3 285.4,299.4C286.3,299.5 287.8,299.4 288.3,299.4" stroke="#b8884a" stroke-opacity="0.72" stroke-width="1.0"/>
<path d="M227.2,305.8C228.2,305.6 231.1,304.9 233.1,304.6C235,304.2 238,304 238.9,303.9" stroke="#6f6050" stroke-opacity="0.81" stroke-width="0.7"/>
<path d="M204.2,302.3C205.3,302.1 208.6,301.5 210.8,301.4C213,301.3 216.3,301.6 217.5,301.6" stroke="#b8884a" stroke-opacity="0.63" stroke-width="0.8"/>
<path d="M176.2,305.5C176.7,305.7 178.4,306.9 179.6,306.8C180.7,306.8 181.8,305.3 183,305.1C184.1,304.8 185.2,305.3 186.4,305.5C187.5,305.7 189.2,306 189.8,306.1" stroke="#a07038" stroke-opacity="0.81" stroke-width="1.0"/>
<path d="M170.7,298.9C171.1,298.9 172.3,298.7 173.2,298.6C174,298.4 174.8,298.2 175.7,298.2C176.5,298.2 177.7,298.5 178.2,298.5" stroke="#6f6050" stroke-opacity="0.61" stroke-width="1.1"/>
<path d="M252.9,297.4C253.3,297.7 254.4,298.8 255.2,299C255.9,299.1 256.7,298.3 257.4,298.2C258.2,298.2 258.9,298.9 259.7,298.8C260.4,298.6 261.6,297.7 262,297.4" stroke="#8a6a40" stroke-opacity="0.69" stroke-width="0.7"/>
<path d="M247.2,302.7C247.7,302.7 249.4,302.6 250.5,302.5C251.5,302.5 252.6,302.4 253.7,302.4C254.8,302.4 255.9,302.4 257,302.4C258.1,302.5 259.8,302.9 260.3,302.9" stroke="#b8884a" stroke-opacity="0.83" stroke-width="0.9"/>
<path d="M273.3,299.8C274.3,299.8 277.5,300.1 279.6,300.1C281.6,300 284.8,299.6 285.8,299.5" stroke="#6f6050" stroke-opacity="0.61" stroke-width="0.9"/>
<path d="M200.8,303C201.1,302.9 202.1,303 202.7,302.7C203.3,302.4 203.9,301.2 204.5,301.1C205.1,301 206.1,302 206.4,302.2" stroke="#a07038" stroke-opacity="0.72" stroke-width="0.8"/>
<path d="M177.1,307.1C177.8,307.1 179.8,307.3 181.1,307.1C182.4,306.9 184.3,306.2 185,306" stroke="#6f6050" stroke-opacity="0.71" stroke-width="1.1"/>
<path d="M199.4,297.4C199.7,297.6 200.6,298.5 201.1,298.7C201.7,299 202.3,298.7 202.8,298.7C203.4,298.7 204.2,298.6 204.5,298.5" stroke="#6f6050" stroke-opacity="0.90" stroke-width="1.1"/>
<path d="M188.3,299.7C188.7,299.6 190,299.3 190.9,299.5C191.7,299.6 192.6,300.7 193.4,300.7C194.3,300.8 195.1,299.6 196,299.7C196.8,299.7 198.1,300.8 198.5,301.1" stroke="#6f6050" stroke-opacity="0.54" stroke-width="0.8"/>
<path d="M101.1,299.7C101.3,299.6 102.2,299.2 102.8,298.9C103.4,298.6 104,297.7 104.6,297.9C105.2,298 105.8,299.4 106.4,299.7C107,300.1 107.9,299.8 108.1,299.9" stroke="#b8884a" stroke-opacity="0.73" stroke-width="1.0"/>
<path d="M123,304.5C123.4,304.2 124.7,303.2 125.6,303.1C126.5,303 127.4,303.8 128.3,303.9C129.2,303.9 130.5,303.5 130.9,303.5" stroke="#8a6a40" stroke-opacity="0.55" stroke-width="0.8"/>
<path d="M209.3,305.2C209.6,305.1 210.4,304.7 211,304.7C211.5,304.8 212.1,305.5 212.6,305.5C213.2,305.4 213.7,304.4 214.3,304.2C214.9,304 215.7,304.5 216,304.5" stroke="#a07038" stroke-opacity="0.58" stroke-width="1.1"/>
<path d="M160.9,307.2C161.4,307.1 162.7,306.6 163.6,306.7C164.6,306.8 165.5,307.6 166.4,307.8C167.3,308.1 168.2,308.4 169.1,308.4C170.1,308.4 171.4,307.9 171.9,307.8" stroke="#b8884a" stroke-opacity="0.88" stroke-width="1.1"/>
<path d="M155.1,297.9C155.9,297.9 158.3,297.9 159.9,298C161.5,298 163.9,298.2 164.7,298.2" stroke="#6f6050" stroke-opacity="0.57" stroke-width="0.9"/>
<path d="M213.9,299C214.6,299.1 216.4,299.6 217.6,299.7C218.9,299.7 220.7,299.4 221.3,299.3" stroke="#6f6050" stroke-opacity="0.69" stroke-width="0.9"/>
<path d="M169.1,303.7C169.6,303.7 171.3,303.7 172.3,303.6C173.4,303.5 175,303.3 175.6,303.3" stroke="#a07038" stroke-opacity="0.57" stroke-width="0.9"/>
<path d="M95,202.5 284,202.5" stroke="#b8904f" stroke-opacity="0.60" stroke-width="1.00"/>
<path d="M95,205.5 284,205.5" stroke="#a07a48" stroke-opacity="0.50" stroke-width="0.90"/>
<path d="M95,235 284,234.5" stroke="#8c7350" stroke-opacity="0.65" stroke-width="0.90"/>
<path d="M95,239.8 284,239.3" stroke="#7d6a4f" stroke-opacity="0.60" stroke-width="0.90"/>
<path d="M95,247 284,246.5" stroke="#8c7350" stroke-opacity="0.70" stroke-width="1.00"/>
<path d="M95,250.5 284,250" stroke="#97805a" stroke-opacity="0.60" stroke-width="0.90"/>
<path d="M95,254 284,253.5" stroke="#7d6a4f" stroke-opacity="0.60" stroke-width="0.90"/>
<path d="M95,243.5 284,243" stroke="#7a6040" stroke-opacity="0.60" stroke-width="0.90"/>
<path d="M95,256.3 284,255.8" stroke="#8c6a40" stroke-opacity="0.55" stroke-width="0.90"/>
<path d="M95,258.5 284,258" stroke="#8c7350" stroke-opacity="0.70" stroke-width="1.00"/>
<path d="M190,261 250,260.5" stroke="#c04a30" stroke-opacity="0.75" stroke-width="1.00" stroke-dasharray="5,4,3,6,8,3"/>
<path d="M95,280.3 284,280" stroke="#7a5030" stroke-opacity="0.80" stroke-width="1.20"/>
<path d="M95,283.4 284,283" stroke="#8c7350" stroke-opacity="0.60" stroke-width="0.90"/>
<path d="M240,295 284,294.5" stroke="#c04a30" stroke-opacity="0.80" stroke-width="1.10" stroke-dasharray="6,3,4,5,9,2"/>
<path d="M95,300 284,298" stroke="#8c6a40" stroke-opacity="0.70" stroke-width="1.00"/>
<path d="M95,305 284,303" stroke="#a0703a" stroke-opacity="0.65" stroke-width="1.00"/>
<path d="M95,327.4C102.5,326.6 123.7,324.1 140,322.5C156.3,320.9 174.7,319.3 193,318C211.3,316.7 234.8,315.4 250,314.5C265.2,313.6 278.3,312.8 284,312.5" stroke="#9a7040" stroke-opacity="0.80" stroke-width="1.00"/>
<path d="M95,334C102.5,332.8 123.7,329.2 140,327C156.3,324.8 174.7,322.7 193,321C211.3,319.3 234.8,318.1 250,317C265.2,315.9 278.3,314.9 284,314.5" stroke="#c86030" stroke-opacity="0.70" stroke-width="0.90"/>
<path d="M95,340.7C96.7,340.2 101.2,338.9 105,338C108.8,337.1 110.5,336.9 118,335.5C125.5,334.1 137.5,331.6 150,329.8C162.5,328 176.3,326.2 193,324.5C209.7,322.8 234.8,320.8 250,319.5C265.2,318.2 278.3,317.4 284,317" stroke="#3040c8" stroke-opacity="0.95" stroke-width="1.30"/>
<path d="M128,347C133.3,345.6 149.2,341.2 160,338.5C170.8,335.8 179.7,332.9 193,330.5C206.3,328.1 224.8,325.4 240,323.8C255.2,322.2 276.7,321.1 284,320.6" stroke="#e04a22" stroke-opacity="0.95" stroke-width="1.30"/>
<path d="M150,348C157.2,346.3 176.3,340.8 193,338C209.7,335.2 234.8,332.8 250,331C265.2,329.2 278.3,327.7 284,327" stroke="#3040c8" stroke-opacity="0.70" stroke-width="1.00"/>
<path d="M262,340 284,339.5" stroke="#d04a28" stroke-opacity="0.85" stroke-width="1.20"/>
<path d="M95,345C99.2,344.7 110.8,344.2 120,343C129.2,341.8 137.8,339.7 150,337.5C162.2,335.3 176.3,332.2 193,330C209.7,327.8 234.8,325.7 250,324C265.2,322.3 278.3,320.7 284,320" stroke="#d06a30" stroke-opacity="0.60" stroke-width="0.90"/></g></g>
<g clip-path="url(#cc)"><use href="#pa" transform="translate(-7.167 360.284) scale(0.9826 0.9865)" filter="url(#dk)"/><rect x="40" y="381" width="283" height="5.3" fill="#c4c4c4"/><rect x="147.8" y="383" width="1.4" height="1" fill="#a0a0a0" fill-opacity="0.52"/><rect x="148.5" y="385.1" width="2.4" height="0.9" fill="#b0b0b0" fill-opacity="0.48"/><rect x="83.9" y="382.6" width="2.8" height="0.6" fill="#b0b0b0" fill-opacity="0.35"/><rect x="206.3" y="383.9" width="1.7" height="0.9" fill="#b0b0b0" fill-opacity="0.59"/><rect x="247.3" y="382.5" width="2.7" height="0.6" fill="#d8d8d8" fill-opacity="0.58"/><rect x="317.3" y="382.2" width="1.8" height="0.8" fill="#d8d8d8" fill-opacity="0.47"/><rect x="265.4" y="382.2" width="2" height="0.6" fill="#b0b0b0" fill-opacity="0.46"/><rect x="227.7" y="384.1" width="2" height="0.5" fill="#d8d8d8" fill-opacity="0.33"/><rect x="307.6" y="383.7" width="2.3" height="0.6" fill="#b0b0b0" fill-opacity="0.65"/><rect x="225.4" y="383.4" width="1.3" height="0.5" fill="#b0b0b0" fill-opacity="0.59"/><rect x="233" y="385.7" width="3.1" height="1" fill="#d8d8d8" fill-opacity="0.66"/><rect x="157" y="385.1" width="1.2" height="0.8" fill="#b0b0b0" fill-opacity="0.68"/><rect x="108.4" y="383.9" width="2.8" height="0.8" fill="#e0e0e0" fill-opacity="0.62"/><rect x="63.5" y="384.9" width="2.4" height="1" fill="#d8d8d8" fill-opacity="0.41"/><rect x="294" y="383.4" width="3.3" height="0.7" fill="#a0a0a0" fill-opacity="0.60"/><rect x="247.2" y="382.9" width="1.4" height="0.5" fill="#d8d8d8" fill-opacity="0.49"/><rect x="108.1" y="386.2" width="2.4" height="0.8" fill="#e0e0e0" fill-opacity="0.43"/><rect x="104.6" y="384.9" width="1.3" height="1" fill="#d8d8d8" fill-opacity="0.52"/><rect x="180.9" y="386.2" width="3.2" height="0.9" fill="#b0b0b0" fill-opacity="0.37"/><rect x="240.5" y="382.7" width="1.4" height="0.8" fill="#d8d8d8" fill-opacity="0.46"/><rect x="315.3" y="386.1" width="1.1" height="0.8" fill="#a0a0a0" fill-opacity="0.39"/><rect x="153" y="386" width="3.4" height="0.6" fill="#a0a0a0" fill-opacity="0.64"/><rect x="213.2" y="385.6" width="3.2" height="0.6" fill="#e0e0e0" fill-opacity="0.42"/><rect x="265.7" y="385" width="1.6" height="0.8" fill="#e0e0e0" fill-opacity="0.39"/><rect x="91.6" y="384" width="1.2" height="0.7" fill="#e0e0e0" fill-opacity="0.32"/><rect x="273.7" y="385.1" width="2.8" height="0.5" fill="#d8d8d8" fill-opacity="0.47"/><rect x="181.1" y="385.9" width="2.4" height="0.7" fill="#b0b0b0" fill-opacity="0.39"/><rect x="287" y="384.2" width="1.4" height="0.8" fill="#e0e0e0" fill-opacity="0.31"/><rect x="273.1" y="383.2" width="1.1" height="0.9" fill="#d8d8d8" fill-opacity="0.45"/><rect x="92.7" y="384.3" width="2.5" height="0.8" fill="#e0e0e0" fill-opacity="0.33"/><rect x="192.2" y="382.2" width="1.9" height="0.6" fill="#b0b0b0" fill-opacity="0.60"/><rect x="267.2" y="385.7" width="2.1" height="0.9" fill="#b0b0b0" fill-opacity="0.42"/><rect x="268.1" y="384.3" width="3.2" height="0.7" fill="#e0e0e0" fill-opacity="0.60"/><rect x="145.3" y="385.4" width="1.2" height="0.7" fill="#a0a0a0" fill-opacity="0.36"/><rect x="169.4" y="383.1" width="3.3" height="0.5" fill="#b0b0b0" fill-opacity="0.43"/><rect x="295.6" y="383.3" width="3.1" height="0.6" fill="#e0e0e0" fill-opacity="0.69"/><rect x="288.6" y="385" width="3.2" height="1" fill="#a0a0a0" fill-opacity="0.51"/><rect x="304.4" y="383.2" width="3.4" height="0.9" fill="#e0e0e0" fill-opacity="0.61"/><rect x="258.5" y="383.7" width="2.6" height="0.8" fill="#a0a0a0" fill-opacity="0.53"/><rect x="85.7" y="386" width="3" height="0.5" fill="#a0a0a0" fill-opacity="0.51"/><rect x="94.7" y="384.9" width="1.7" height="0.6" fill="#a0a0a0" fill-opacity="0.41"/><rect x="66.2" y="385.6" width="3.5" height="0.7" fill="#e0e0e0" fill-opacity="0.65"/><rect x="194.9" y="385.1" width="1.9" height="1" fill="#a0a0a0" fill-opacity="0.67"/><rect x="157.3" y="386.1" width="2.1" height="0.8" fill="#b0b0b0" fill-opacity="0.63"/><rect x="57.4" y="384.6" width="1.1" height="0.7" fill="#b0b0b0" fill-opacity="0.50"/><rect x="198.8" y="384" width="3" height="0.5" fill="#b0b0b0" fill-opacity="0.55"/><rect x="169.4" y="382.4" width="3.2" height="0.9" fill="#b0b0b0" fill-opacity="0.63"/><rect x="311.3" y="386.2" width="2.9" height="0.5" fill="#a0a0a0" fill-opacity="0.48"/><rect x="162" y="383.2" width="1.1" height="0.8" fill="#b0b0b0" fill-opacity="0.67"/><rect x="270.6" y="385.4" width="3.4" height="0.7" fill="#a0a0a0" fill-opacity="0.49"/><polyline points="56,384.5 71.8,410.8 100.8,385 124.5,408 152.5,385.5 173.5,409 192.8,385.5 212.9,408 236.8,385 261.7,408 296,387.5 313.5,405.5" fill="none" stroke="#ffc000" stroke-width="6.2" stroke-linecap="round" stroke-linejoin="round"/>
<polyline points="73.8,390 72.3,410.5" fill="none" stroke="#ffc000" stroke-width="5.8" stroke-linecap="round" stroke-linejoin="round"/>
<polyline points="126.8,389.5 125.3,407.5" fill="none" stroke="#ffc000" stroke-width="5.8" stroke-linecap="round" stroke-linejoin="round"/>
<polyline points="169,388.5 167.5,407" fill="none" stroke="#ffc000" stroke-width="5.8" stroke-linecap="round" stroke-linejoin="round"/>
<polyline points="215.3,388.5 213.8,407" fill="none" stroke="#ffc000" stroke-width="5.8" stroke-linecap="round" stroke-linejoin="round"/>
<polyline points="267.2,391.5 265.7,406" fill="none" stroke="#ffc000" stroke-width="5.8" stroke-linecap="round" stroke-linejoin="round"/>
<polyline points="52.3,414.8 52.3,438" fill="none" stroke="#50f8f6" stroke-width="5.3" stroke-linecap="round" stroke-linejoin="round"/>
<polyline points="73.3,415 72.6,437" fill="none" stroke="#50f8f6" stroke-width="5.3" stroke-linecap="round" stroke-linejoin="round"/>
<polyline points="77.6,415 77.2,427.5" fill="none" stroke="#50f8f6" stroke-width="5.3" stroke-linecap="round" stroke-linejoin="round"/>
<polyline points="87.6,414.8 86.8,432" fill="none" stroke="#50f8f6" stroke-width="5.3" stroke-linecap="round" stroke-linejoin="round"/>
<polyline points="105.4,414.8 105,432" fill="none" stroke="#50f8f6" stroke-width="5.3" stroke-linecap="round" stroke-linejoin="round"/>
<polyline points="125,414.8 121.6,432" fill="none" stroke="#50f8f6" stroke-width="5.3" stroke-linecap="round" stroke-linejoin="round"/>
<polyline points="147,414 144,427.5" fill="none" stroke="#50f8f6" stroke-width="5.3" stroke-linecap="round" stroke-linejoin="round"/>
<polyline points="156.3,414.5 155.8,427" fill="none" stroke="#50f8f6" stroke-width="5.3" stroke-linecap="round" stroke-linejoin="round"/>
<polyline points="177.5,413.5 177.5,427" fill="none" stroke="#50f8f6" stroke-width="5.3" stroke-linecap="round" stroke-linejoin="round"/>
<polyline points="206,412.5 205.5,425" fill="none" stroke="#50f8f6" stroke-width="5.3" stroke-linecap="round" stroke-linejoin="round"/>
<polyline points="242,410.5 244.3,423" fill="none" stroke="#50f8f6" stroke-width="5.3" stroke-linecap="round" stroke-linejoin="round"/>
<polyline points="278.8,412.5 284.8,427.5" fill="none" stroke="#50f8f6" stroke-width="5.3" stroke-linecap="round" stroke-linejoin="round"/>
<polyline points="309.2,414 312.7,443" fill="none" stroke="#50f8f6" stroke-width="5.3" stroke-linecap="round" stroke-linejoin="round"/>
<polyline points="294.8,436.5 296.2,446" fill="none" stroke="#50f8f6" stroke-width="5.3" stroke-linecap="round" stroke-linejoin="round"/>
<polyline points="62.5,450 62.8,454.5" fill="none" stroke="#50f8f6" stroke-width="5.3" stroke-linecap="round" stroke-linejoin="round"/>
<polyline points="78,447 78,451" fill="none" stroke="#50f8f6" stroke-width="5.3" stroke-linecap="round" stroke-linejoin="round"/>
<polyline points="121.8,440.8 121.8,444" fill="none" stroke="#50f8f6" stroke-width="5.3" stroke-linecap="round" stroke-linejoin="round"/>
<polyline points="131.2,438.5 131.2,443" fill="none" stroke="#50f8f6" stroke-width="5.3" stroke-linecap="round" stroke-linejoin="round"/>
<polyline points="53.8,450 55.4,475.5" fill="none" stroke="#50f8f6" stroke-width="5.3" stroke-linecap="round" stroke-linejoin="round"/>
<polyline points="72,463 69.2,475.5" fill="none" stroke="#50f8f6" stroke-width="5.3" stroke-linecap="round" stroke-linejoin="round"/>
<polyline points="93.6,463.5 93,475.5" fill="none" stroke="#50f8f6" stroke-width="5.3" stroke-linecap="round" stroke-linejoin="round"/>
<polyline points="131,463.5 128.2,475.5" fill="none" stroke="#50f8f6" stroke-width="5.3" stroke-linecap="round" stroke-linejoin="round"/>
<polyline points="152,461.5 150.6,474.5" fill="none" stroke="#50f8f6" stroke-width="5.3" stroke-linecap="round" stroke-linejoin="round"/>
<polyline points="169.6,460 168.6,473.5" fill="none" stroke="#50f8f6" stroke-width="5.3" stroke-linecap="round" stroke-linejoin="round"/>
<polyline points="183.2,458.8 182,473.5" fill="none" stroke="#50f8f6" stroke-width="5.3" stroke-linecap="round" stroke-linejoin="round"/>
<polyline points="225.5,459.8 224.3,469.8" fill="none" stroke="#50f8f6" stroke-width="5.3" stroke-linecap="round" stroke-linejoin="round"/>
<polyline points="228.5,471.8 228.5,474.5" fill="none" stroke="#50f8f6" stroke-width="5.3" stroke-linecap="round" stroke-linejoin="round"/>
<polyline points="246,462.3 242.8,470" fill="none" stroke="#50f8f6" stroke-width="5.3" stroke-linecap="round" stroke-linejoin="round"/>
<polyline points="267,459.5 263.6,470" fill="none" stroke="#50f8f6" stroke-width="5.3" stroke-linecap="round" stroke-linejoin="round"/>
<polyline points="281.6,459.5 282.4,470.5" fill="none" stroke="#50f8f6" stroke-width="5.3" stroke-linecap="round" stroke-linejoin="round"/>
<polyline points="294.6,459.5 295.2,470.5" fill="none" stroke="#50f8f6" stroke-width="5.3" stroke-linecap="round" stroke-linejoin="round"/>
<polyline points="311.8,459.5 311,469.8" fill="none" stroke="#50f8f6" stroke-width="5.3" stroke-linecap="round" stroke-linejoin="round"/>
<polyline points="248.7,506.2 248.7,511" fill="none" stroke="#50f8f6" stroke-width="5.3" stroke-linecap="round" stroke-linejoin="round"/>
<polyline points="255.8,506.5 255.8,510.5" fill="none" stroke="#50f8f6" stroke-width="5.3" stroke-linecap="round" stroke-linejoin="round"/>
<polyline points="267.7,506 267.4,510.5" fill="none" stroke="#50f8f6" stroke-width="5.3" stroke-linecap="round" stroke-linejoin="round"/>
<polyline points="284.2,505 283.4,511" fill="none" stroke="#50f8f6" stroke-width="5.3" stroke-linecap="round" stroke-linejoin="round"/>
<polyline points="293.9,503.5 293,512.5" fill="none" stroke="#50f8f6" stroke-width="5.3" stroke-linecap="round" stroke-linejoin="round"/>
<polyline points="306.8,506 306.8,511" fill="none" stroke="#50f8f6" stroke-width="5.3" stroke-linecap="round" stroke-linejoin="round"/>
<polyline points="319.8,505.5 319.8,511" fill="none" stroke="#50f8f6" stroke-width="5.3" stroke-linecap="round" stroke-linejoin="round"/>
<polygon points="43.2,443 50,440.8 60,439.6 100,435.6 140,430.3 170,426.8 200,423.4 230,424.4 252.7,425.4 252.7,428.9 230,429.4 200,429.1 170,434.1 140,437.8 100,442.5 60,447.3 50,448.6 43.2,448" fill="#fa00fa" stroke="#fa00fa" stroke-width="1.6" stroke-linejoin="round"/>
<polygon points="78.8,452.5 85,449 100,448.1 140,443.3 170,438.9 200,435.3 220,432.9 233.7,432.7 233.7,436.6 220,438.1 200,441.6 170,448.6 140,455.6 120,458.1 100,459.1 85,459.4 79.5,457.6" fill="#02bc68" stroke="#02bc68" stroke-width="1.6" stroke-linejoin="round"/>
<polygon points="216,449.5 230,444 255,436 275,434 285,436 287,440 280,444.5 255,446.5 230,450.5 218,453" fill="#ffff00"/>
<polygon points="250,456.5 262,452.5 290,450 322.6,447.5 322.6,455.5 290,457.5 262,460.5 251,461.8" fill="#ffff00"/>
<polygon points="40.5,478.5 80,478 130,477.3 160,475 194,470.2 196,472 196,480.8 160,484 130,486.7 80,487 40.5,487.3" fill="#ff9898"/>
<polygon points="196.5,470.5 215.5,470.5 215.5,476.2 196.5,476.5" fill="#ff9898"/>
<polygon points="227.5,471.5 322.2,472.5 322.2,479.6 227.5,480.8" fill="#ff9898"/>
<polyline points="56,498.5 68.4,489.5 82.7,498.5 105.2,488.5 127.2,500.5 146.6,489.5 165.5,500.5 181,485 186.9,488 197.5,480" fill="none" stroke="#00f850" stroke-width="6" stroke-linecap="round" stroke-linejoin="round"/>
<polyline points="83.8,488.5 83.8,498.5" fill="none" stroke="#00f850" stroke-width="5.6" stroke-linecap="round" stroke-linejoin="round"/>
<polyline points="127.2,488.5 127.2,500.5" fill="none" stroke="#00f850" stroke-width="5.6" stroke-linecap="round" stroke-linejoin="round"/>
<polyline points="160.8,488.5 160.8,500.5" fill="none" stroke="#00f850" stroke-width="5.6" stroke-linecap="round" stroke-linejoin="round"/>
<polyline points="226.5,487.5 237,483 247.5,501.5 262.9,483.5 277.1,502.8 298.5,483.5 312.7,502.8 318.6,484.5" fill="none" stroke="#00f850" stroke-width="6" stroke-linecap="round" stroke-linejoin="round"/>
<polyline points="248.7,483.5 248.7,501.5" fill="none" stroke="#00f850" stroke-width="5.6" stroke-linecap="round" stroke-linejoin="round"/>
<polyline points="280.7,483.5 280.7,502.8" fill="none" stroke="#00f850" stroke-width="5.6" stroke-linecap="round" stroke-linejoin="round"/>
<path d="M42,510.3C45,509.9 53.7,508.5 60,507.8C66.3,507.1 73.3,506.7 80,506.3C86.7,505.9 93.3,505.6 100,505.6C106.7,505.6 113.3,505.8 120,506.3C126.7,506.8 134.2,507.9 140,508.8C145.8,509.7 150,511.1 155,511.8C160,512.5 165,514 170,513.2C175,512.4 180.5,509.9 185,507C189.5,504.1 193.7,498.4 197,496C200.3,493.6 202.3,493.4 205,492.8C207.7,492.2 210.2,492.4 213,492.6C215.8,492.8 218.8,492.7 222,493.8C225.2,494.9 228.7,497.1 232,499C235.3,500.9 238.7,503 242,505C245.3,507 247.3,509.4 252,511C256.7,512.6 262,513.6 270,514.6C278,515.6 291.5,516.2 300,516.8C308.5,517.4 317.5,517.8 321,518" fill="none" stroke="#ff4048" stroke-width="6" stroke-linecap="round"/>
<path d="M195,527.5 C195,513 197.5,505 203,501 C207,498.6 213,498.2 218.5,499.3 C225.5,501 231,507.5 232.6,527.5 Z" fill="#0000ff"/></g>
<path d="M48.4,169 V21.4 M48,21.4 H336" fill="none" stroke="#8e8e8e" stroke-width="0.7"/>
<path d="M95.3,347 V198.3 M95,198.3 H284" fill="none" stroke="#8e8e8e" stroke-width="0.7"/>
<path d="M40.4,527 V381.4 M40,381.4 H323" fill="none" stroke="#8e8e8e" stroke-width="0.7"/>
<g style="font-family:&quot;Liberation Sans&quot;,Arial,sans-serif"><line x1="49.5" y1="18.6" x2="49.5" y2="21" stroke="#777" stroke-width="0.6"/>
<text x="49.5" y="16.9" text-anchor="middle" font-size="4.9" fill="#2a2a2a" stroke="#2a2a2a" stroke-width="0.12">300</text>
<line x1="79.7" y1="18.6" x2="79.7" y2="21" stroke="#777" stroke-width="0.6"/>
<text x="79.7" y="16.9" text-anchor="middle" font-size="4.9" fill="#2a2a2a" stroke="#2a2a2a" stroke-width="0.12">400</text>
<line x1="109.9" y1="18.6" x2="109.9" y2="21" stroke="#777" stroke-width="0.6"/>
<text x="109.9" y="16.9" text-anchor="middle" font-size="4.9" fill="#2a2a2a" stroke="#2a2a2a" stroke-width="0.12">500</text>
<line x1="140.1" y1="18.6" x2="140.1" y2="21" stroke="#777" stroke-width="0.6"/>
<text x="140.1" y="16.9" text-anchor="middle" font-size="4.9" fill="#2a2a2a" stroke="#2a2a2a" stroke-width="0.12">600</text>
<line x1="170.3" y1="18.6" x2="170.3" y2="21" stroke="#777" stroke-width="0.6"/>
<text x="170.3" y="16.9" text-anchor="middle" font-size="4.9" fill="#2a2a2a" stroke="#2a2a2a" stroke-width="0.12">700</text>
<line x1="200.2" y1="18.6" x2="200.2" y2="21" stroke="#777" stroke-width="0.6"/>
<text x="200.2" y="16.9" text-anchor="middle" font-size="4.9" fill="#2a2a2a" stroke="#2a2a2a" stroke-width="0.12">799</text>
<line x1="230.4" y1="18.6" x2="230.4" y2="21" stroke="#777" stroke-width="0.6"/>
<text x="230.4" y="16.9" text-anchor="middle" font-size="4.9" fill="#2a2a2a" stroke="#2a2a2a" stroke-width="0.12">899</text>
<line x1="260.6" y1="18.6" x2="260.6" y2="21" stroke="#777" stroke-width="0.6"/>
<text x="260.6" y="16.9" text-anchor="middle" font-size="4.9" fill="#2a2a2a" stroke="#2a2a2a" stroke-width="0.12">999</text>
<line x1="290.8" y1="18.6" x2="290.8" y2="21" stroke="#777" stroke-width="0.6"/>
<text x="290.8" y="16.9" text-anchor="middle" font-size="4.9" fill="#2a2a2a" stroke="#2a2a2a" stroke-width="0.12">1099</text>
<line x1="321" y1="18.6" x2="321" y2="21" stroke="#777" stroke-width="0.6"/>
<text x="321" y="16.9" text-anchor="middle" font-size="4.9" fill="#2a2a2a" stroke="#2a2a2a" stroke-width="0.12">1199</text>
<line x1="44.3" y1="21.5" x2="48" y2="21.5" stroke="#777" stroke-width="0.6"/>
<text x="43.9" y="24.5" text-anchor="end" font-size="4.9" fill="#2a2a2a" stroke="#2a2a2a" stroke-width="0.12">0</text>
<line x1="45.2" y1="41.9" x2="48" y2="41.9" stroke="#777" stroke-width="0.6"/>
<text x="44.8" y="43.6" text-anchor="end" font-size="4.9" fill="#2a2a2a" stroke="#2a2a2a" stroke-width="0.12">−250</text>
<line x1="45.2" y1="61.8" x2="48" y2="61.8" stroke="#777" stroke-width="0.6"/>
<text x="44.8" y="63.5" text-anchor="end" font-size="4.9" fill="#2a2a2a" stroke="#2a2a2a" stroke-width="0.12">−500</text>
<line x1="45.2" y1="81.7" x2="48" y2="81.7" stroke="#777" stroke-width="0.6"/>
<text x="44.8" y="83.4" text-anchor="end" font-size="4.9" fill="#2a2a2a" stroke="#2a2a2a" stroke-width="0.12">−750</text>
<line x1="45.2" y1="101.6" x2="48" y2="101.6" stroke="#777" stroke-width="0.6"/>
<text x="44.8" y="103.3" text-anchor="end" font-size="4.9" fill="#2a2a2a" stroke="#2a2a2a" stroke-width="0.12">−1000</text>
<line x1="45.2" y1="121.5" x2="48" y2="121.5" stroke="#777" stroke-width="0.6"/>
<text x="44.8" y="123.2" text-anchor="end" font-size="4.9" fill="#2a2a2a" stroke="#2a2a2a" stroke-width="0.12">−1250</text>
<line x1="45.2" y1="141.4" x2="48" y2="141.4" stroke="#777" stroke-width="0.6"/>
<text x="44.8" y="143.1" text-anchor="end" font-size="4.9" fill="#2a2a2a" stroke="#2a2a2a" stroke-width="0.12">−1500</text>
<line x1="45.2" y1="161.3" x2="48" y2="161.3" stroke="#777" stroke-width="0.6"/>
<text x="44.8" y="163" text-anchor="end" font-size="4.9" fill="#2a2a2a" stroke="#2a2a2a" stroke-width="0.12">−1750</text>
<line x1="111.8" y1="195.6" x2="111.8" y2="198" stroke="#777" stroke-width="0.6"/>
<text x="111.8" y="193.7" text-anchor="middle" font-size="4.9" fill="#2a2a2a" stroke="#2a2a2a" stroke-width="0.12">650</text>
<line x1="143.1" y1="195.6" x2="143.1" y2="198" stroke="#777" stroke-width="0.6"/>
<text x="143.1" y="193.7" text-anchor="middle" font-size="4.9" fill="#2a2a2a" stroke="#2a2a2a" stroke-width="0.12">550</text>
<line x1="174.4" y1="195.6" x2="174.4" y2="198" stroke="#777" stroke-width="0.6"/>
<text x="174.4" y="193.7" text-anchor="middle" font-size="4.9" fill="#2a2a2a" stroke="#2a2a2a" stroke-width="0.12">450</text>
<line x1="205.4" y1="195.6" x2="205.4" y2="198" stroke="#777" stroke-width="0.6"/>
<text x="205.4" y="193.7" text-anchor="middle" font-size="4.9" fill="#2a2a2a" stroke="#2a2a2a" stroke-width="0.12">351</text>
<line x1="236.7" y1="195.6" x2="236.7" y2="198" stroke="#777" stroke-width="0.6"/>
<text x="236.7" y="193.7" text-anchor="middle" font-size="4.9" fill="#2a2a2a" stroke="#2a2a2a" stroke-width="0.12">251</text>
<line x1="268" y1="195.6" x2="268" y2="198" stroke="#777" stroke-width="0.6"/>
<text x="268" y="193.7" text-anchor="middle" font-size="4.9" fill="#2a2a2a" stroke="#2a2a2a" stroke-width="0.12">151</text>
<line x1="92.4" y1="216" x2="95" y2="216" stroke="#777" stroke-width="0.6"/>
<text x="91.8" y="217.7" text-anchor="end" font-size="4.9" fill="#2a2a2a" stroke="#2a2a2a" stroke-width="0.12">−250</text>
<line x1="92.4" y1="236.7" x2="95" y2="236.7" stroke="#777" stroke-width="0.6"/>
<text x="91.8" y="238.4" text-anchor="end" font-size="4.9" fill="#2a2a2a" stroke="#2a2a2a" stroke-width="0.12">−500</text>
<line x1="92.4" y1="257.3" x2="95" y2="257.3" stroke="#777" stroke-width="0.6"/>
<text x="91.8" y="259" text-anchor="end" font-size="4.9" fill="#2a2a2a" stroke="#2a2a2a" stroke-width="0.12">−750</text>
<line x1="92.4" y1="278" x2="95" y2="278" stroke="#777" stroke-width="0.6"/>
<text x="91.8" y="279.7" text-anchor="end" font-size="4.9" fill="#2a2a2a" stroke="#2a2a2a" stroke-width="0.12">−1000</text>
<line x1="92.4" y1="298.7" x2="95" y2="298.7" stroke="#777" stroke-width="0.6"/>
<text x="91.8" y="300.4" text-anchor="end" font-size="4.9" fill="#2a2a2a" stroke="#2a2a2a" stroke-width="0.12">−1250</text>
<line x1="92.4" y1="319.4" x2="95" y2="319.4" stroke="#777" stroke-width="0.6"/>
<text x="91.8" y="321.1" text-anchor="end" font-size="4.9" fill="#2a2a2a" stroke="#2a2a2a" stroke-width="0.12">−1500</text>
<line x1="92.4" y1="340" x2="95" y2="340" stroke="#777" stroke-width="0.6"/>
<text x="91.8" y="341.7" text-anchor="end" font-size="4.9" fill="#2a2a2a" stroke="#2a2a2a" stroke-width="0.12">−1750</text>
<line x1="40.5" y1="378.7" x2="40.5" y2="381" stroke="#777" stroke-width="0.6"/>
<text x="40.5" y="377.1" text-anchor="middle" font-size="4.9" fill="#2a2a2a" stroke="#2a2a2a" stroke-width="0.12">300</text>
<line x1="70.3" y1="378.7" x2="70.3" y2="381" stroke="#777" stroke-width="0.6"/>
<text x="70.3" y="377.1" text-anchor="middle" font-size="4.9" fill="#2a2a2a" stroke="#2a2a2a" stroke-width="0.12">400</text>
<line x1="100.2" y1="378.7" x2="100.2" y2="381" stroke="#777" stroke-width="0.6"/>
<text x="100.2" y="377.1" text-anchor="middle" font-size="4.9" fill="#2a2a2a" stroke="#2a2a2a" stroke-width="0.12">500</text>
<line x1="130" y1="378.7" x2="130" y2="381" stroke="#777" stroke-width="0.6"/>
<text x="130" y="377.1" text-anchor="middle" font-size="4.9" fill="#2a2a2a" stroke="#2a2a2a" stroke-width="0.12">600</text>
<line x1="159.8" y1="378.7" x2="159.8" y2="381" stroke="#777" stroke-width="0.6"/>
<text x="159.8" y="377.1" text-anchor="middle" font-size="4.9" fill="#2a2a2a" stroke="#2a2a2a" stroke-width="0.12">700</text>
<line x1="189.4" y1="378.7" x2="189.4" y2="381" stroke="#777" stroke-width="0.6"/>
<text x="189.4" y="377.1" text-anchor="middle" font-size="4.9" fill="#2a2a2a" stroke="#2a2a2a" stroke-width="0.12">799</text>
<line x1="219.2" y1="378.7" x2="219.2" y2="381" stroke="#777" stroke-width="0.6"/>
<text x="219.2" y="377.1" text-anchor="middle" font-size="4.9" fill="#2a2a2a" stroke="#2a2a2a" stroke-width="0.12">899</text>
<line x1="249" y1="378.7" x2="249" y2="381" stroke="#777" stroke-width="0.6"/>
<text x="249" y="377.1" text-anchor="middle" font-size="4.9" fill="#2a2a2a" stroke="#2a2a2a" stroke-width="0.12">999</text>
<line x1="278.8" y1="378.7" x2="278.8" y2="381" stroke="#777" stroke-width="0.6"/>
<text x="278.8" y="377.1" text-anchor="middle" font-size="4.9" fill="#2a2a2a" stroke="#2a2a2a" stroke-width="0.12">1099</text>
<line x1="308.7" y1="378.7" x2="308.7" y2="381" stroke="#777" stroke-width="0.6"/>
<text x="308.7" y="377.1" text-anchor="middle" font-size="4.9" fill="#2a2a2a" stroke="#2a2a2a" stroke-width="0.12">1199</text>
<line x1="36.3" y1="381.4" x2="40" y2="381.4" stroke="#777" stroke-width="0.6"/>
<text x="36" y="383.6" text-anchor="end" font-size="4.9" fill="#2a2a2a" stroke="#2a2a2a" stroke-width="0.12">0</text>
<line x1="36.9" y1="401.3" x2="40" y2="401.3" stroke="#777" stroke-width="0.6"/>
<text x="36.6" y="403" text-anchor="end" font-size="4.9" fill="#2a2a2a" stroke="#2a2a2a" stroke-width="0.12">−250</text>
<line x1="36.9" y1="421" x2="40" y2="421" stroke="#777" stroke-width="0.6"/>
<text x="36.6" y="422.7" text-anchor="end" font-size="4.9" fill="#2a2a2a" stroke="#2a2a2a" stroke-width="0.12">−500</text>
<line x1="36.9" y1="440.7" x2="40" y2="440.7" stroke="#777" stroke-width="0.6"/>
<text x="36.6" y="442.4" text-anchor="end" font-size="4.9" fill="#2a2a2a" stroke="#2a2a2a" stroke-width="0.12">−750</text>
<line x1="36.9" y1="460.4" x2="40" y2="460.4" stroke="#777" stroke-width="0.6"/>
<text x="36.6" y="462.1" text-anchor="end" font-size="4.9" fill="#2a2a2a" stroke="#2a2a2a" stroke-width="0.12">−1000</text>
<line x1="36.9" y1="480.1" x2="40" y2="480.1" stroke="#777" stroke-width="0.6"/>
<text x="36.6" y="481.8" text-anchor="end" font-size="4.9" fill="#2a2a2a" stroke="#2a2a2a" stroke-width="0.12">−1250</text>
<line x1="36.9" y1="499.8" x2="40" y2="499.8" stroke="#777" stroke-width="0.6"/>
<text x="36.6" y="501.5" text-anchor="end" font-size="4.9" fill="#2a2a2a" stroke="#2a2a2a" stroke-width="0.12">−1500</text>
<line x1="36.9" y1="519.5" x2="40" y2="519.5" stroke="#777" stroke-width="0.6"/>
<text x="36.6" y="521.2" text-anchor="end" font-size="4.9" fill="#2a2a2a" stroke="#2a2a2a" stroke-width="0.12">−1750</text>
<rect x="291.2" y="290" width="9" height="56.6" fill="url(#cbar)"/>
<text x="302.9" y="291" font-size="5" fill="#2a2a2a" stroke="#2a2a2a" stroke-width="0.1">25</text>
<text x="302.9" y="296.3" font-size="5" fill="#2a2a2a" stroke="#2a2a2a" stroke-width="0.1">20</text>
<text x="302.9" y="301.6" font-size="5" fill="#2a2a2a" stroke="#2a2a2a" stroke-width="0.1">15</text>
<text x="302.9" y="307" font-size="5" fill="#2a2a2a" stroke="#2a2a2a" stroke-width="0.1">10</text>
<text x="302.9" y="312.3" font-size="5" fill="#2a2a2a" stroke="#2a2a2a" stroke-width="0.1">5</text>
<text x="302.9" y="317.6" font-size="5" fill="#2a2a2a" stroke="#2a2a2a" stroke-width="0.1">0</text>
<text x="301.3" y="322.9" font-size="5" fill="#2a2a2a" stroke="#2a2a2a" stroke-width="0.1">-5</text>
<text x="301.3" y="328.2" font-size="5" fill="#2a2a2a" stroke="#2a2a2a" stroke-width="0.1">-10</text>
<text x="301.3" y="333.6" font-size="5" fill="#2a2a2a" stroke="#2a2a2a" stroke-width="0.1">-15</text>
<text x="301.3" y="338.9" font-size="5" fill="#2a2a2a" stroke="#2a2a2a" stroke-width="0.1">-20</text>
<text x="301.3" y="344.2" font-size="5" fill="#2a2a2a" stroke="#2a2a2a" stroke-width="0.1">-25</text>
<rect x="77.4" y="164.2" width="3.3" height="2.2" fill="#111"/>
<rect x="80.7" y="164.2" width="3.1" height="2.2" fill="#fff"/>
<rect x="83.8" y="164.2" width="2" height="2.2" fill="#111"/>
<rect x="85.8" y="164.2" width="4.1" height="2.2" fill="#fff"/>
<rect x="89.8" y="164.2" width="11.3" height="2.2" fill="#111"/>
<rect x="101.1" y="164.2" width="12.6" height="2.2" fill="#fff"/>
<rect x="77.4" y="164.2" width="36.2" height="2.2" fill="none" stroke="#222" stroke-width="0.3"/>
<text x="76.6" y="160.6" font-size="4.55" fill="#1a1a1a">0</text>
<text x="84.6" y="160.6" font-size="4.55" fill="#1a1a1a">1000 2000 3000m</text>
<rect x="211.8" y="343.1" width="3.5" height="2.2" fill="#111"/>
<rect x="215.2" y="343.1" width="3.3" height="2.2" fill="#fff"/>
<rect x="218.5" y="343.1" width="2.1" height="2.2" fill="#111"/>
<rect x="220.6" y="343.1" width="4.3" height="2.2" fill="#fff"/>
<rect x="224.8" y="343.1" width="11.9" height="2.2" fill="#111"/>
<rect x="236.7" y="343.1" width="13.2" height="2.2" fill="#fff"/>
<rect x="211.8" y="343.1" width="38" height="2.2" fill="none" stroke="#222" stroke-width="0.3"/>
<text x="211.2" y="340" font-size="4.85" fill="#1a1a1a">0</text>
<text x="219.7" y="340" font-size="4.85" fill="#1a1a1a">1000 2000 3000m</text>
<rect x="68" y="523.2" width="3.3" height="2.2" fill="#111"/>
<rect x="71.3" y="523.2" width="3.1" height="2.2" fill="#fff"/>
<rect x="74.3" y="523.2" width="2" height="2.2" fill="#111"/>
<rect x="76.3" y="523.2" width="4.1" height="2.2" fill="#fff"/>
<rect x="80.3" y="523.2" width="11.2" height="2.2" fill="#111"/>
<rect x="91.5" y="523.2" width="12.5" height="2.2" fill="#fff"/>
<rect x="68" y="523.2" width="36" height="2.2" fill="none" stroke="#222" stroke-width="0.3"/>
<text x="67.5" y="519.7" font-size="4.7" fill="#1a1a1a">0</text>
<text x="75.4" y="519.7" font-size="4.7" fill="#1a1a1a">1000 2000 3000m</text></g><g style="font-family:&quot;Liberation Sans&quot;,Arial,sans-serif"><rect x="330.8" y="421.40" width="67.6" height="11.98" fill="#fff" stroke="#d6d6d6" stroke-width="0.7"/><rect x="399.5" y="421.40" width="19.2" height="11.98" fill="#9cedfa" stroke="#9c9c9c" stroke-width="0.8"/><text x="332.3" y="430.20" font-size="6.35" fill="#1e1e1e" stroke="#1e1e1e" stroke-width="0.1">background</text><rect x="330.8" y="433.38" width="67.6" height="11.98" fill="#fff" stroke="#d6d6d6" stroke-width="0.7"/><rect x="399.5" y="433.38" width="19.2" height="11.98" fill="#ffa3a8" stroke="#9c9c9c" stroke-width="0.8"/><text x="332.3" y="442.18" font-size="6.35" fill="#1e1e1e" stroke="#1e1e1e" stroke-width="0.1">grizzly</text><rect x="330.8" y="445.36" width="67.6" height="11.98" fill="#fff" stroke="#d6d6d6" stroke-width="0.7"/><rect x="399.5" y="445.36" width="19.2" height="11.98" fill="#f400f0" stroke="#9c9c9c" stroke-width="0.8"/><text x="332.3" y="454.16" font-size="6.35" fill="#1e1e1e" stroke="#1e1e1e" stroke-width="0.1">high_amp_continuous</text><rect x="330.8" y="457.34" width="67.6" height="11.98" fill="#fff" stroke="#d6d6d6" stroke-width="0.7"/><rect x="399.5" y="457.34" width="19.2" height="11.98" fill="#ffff00" stroke="#9c9c9c" stroke-width="0.8"/><text x="332.3" y="466.14" font-size="6.35" fill="#1e1e1e" stroke="#1e1e1e" stroke-width="0.1">high_amp_dips</text><rect x="330.8" y="469.32" width="67.6" height="11.98" fill="#fff" stroke="#d6d6d6" stroke-width="0.7"/><rect x="399.5" y="469.32" width="19.2" height="11.98" fill="#ff4e5e" stroke="#9c9c9c" stroke-width="0.8"/><text x="332.3" y="478.12" font-size="6.35" fill="#1e1e1e" stroke="#1e1e1e" stroke-width="0.1">high_amplitude</text><rect x="330.8" y="481.30" width="67.6" height="11.98" fill="#fff" stroke="#d6d6d6" stroke-width="0.7"/><rect x="399.5" y="481.30" width="19.2" height="11.98" fill="#14a87a" stroke="#9c9c9c" stroke-width="0.8"/><text x="332.3" y="490.10" font-size="6.35" fill="#1e1e1e" stroke="#1e1e1e" stroke-width="0.1">low_amp_dips</text><rect x="330.8" y="493.28" width="67.6" height="11.98" fill="#fff" stroke="#d6d6d6" stroke-width="0.7"/><rect x="399.5" y="493.28" width="19.2" height="11.98" fill="#08f062" stroke="#9c9c9c" stroke-width="0.8"/><text x="332.3" y="502.08" font-size="6.35" fill="#1e1e1e" stroke="#1e1e1e" stroke-width="0.1">low_amplitude</text><rect x="330.8" y="505.26" width="67.6" height="11.98" fill="#fff" stroke="#d6d6d6" stroke-width="0.7"/><rect x="399.5" y="505.26" width="19.2" height="11.98" fill="#ffc400" stroke="#9c9c9c" stroke-width="0.8"/><text x="332.3" y="514.06" font-size="6.35" fill="#1e1e1e" stroke="#1e1e1e" stroke-width="0.1">low_coherency</text><rect x="330.8" y="517.24" width="67.6" height="11.98" fill="#fff" stroke="#d6d6d6" stroke-width="0.7"/><rect x="399.5" y="517.24" width="19.2" height="11.98" fill="#0a66ff" stroke="#9c9c9c" stroke-width="0.8"/><text x="332.3" y="526.04" font-size="6.35" fill="#1e1e1e" stroke="#1e1e1e" stroke-width="0.1">salt</text></g>
</svg>
<div class="ax" style="left:298px;top:4.1px;font-size:7.5px;letter-spacing:0.2px;">XL number</div>
<div class="ax" style="left:282.6px;top:362.6px;font-size:7.5px;letter-spacing:0.2px;">XL number</div>
<div class="ax" style="left:251.8px;top:180.3px;font-size:6.2px;letter-spacing:0.15px;">IL number</div>
<div class="ax" style="left:13.5px;top:156.8px;font-size:7.6px;letter-spacing:0.15px;">t, ms</div>
<div class="ax" style="left:2.2px;top:515.8px;font-size:7.8px;letter-spacing:0.3px;">t, ms</div>
<div class="cap" style="left:161.8px;top:174.8px;">a)</div>
<div class="cap" style="left:178.2px;top:174.8px;">Inline 339</div>
<div class="cap" style="left:154px;top:351.8px;">b)</div>
<div class="cap" style="left:168.6px;top:351.8px;">Crossline 500</div>
<div class="cap" style="left:104px;top:536.6px;letter-spacing:0.08px;">c) Interpretation points for the Inline 339</div>
</body></html>
